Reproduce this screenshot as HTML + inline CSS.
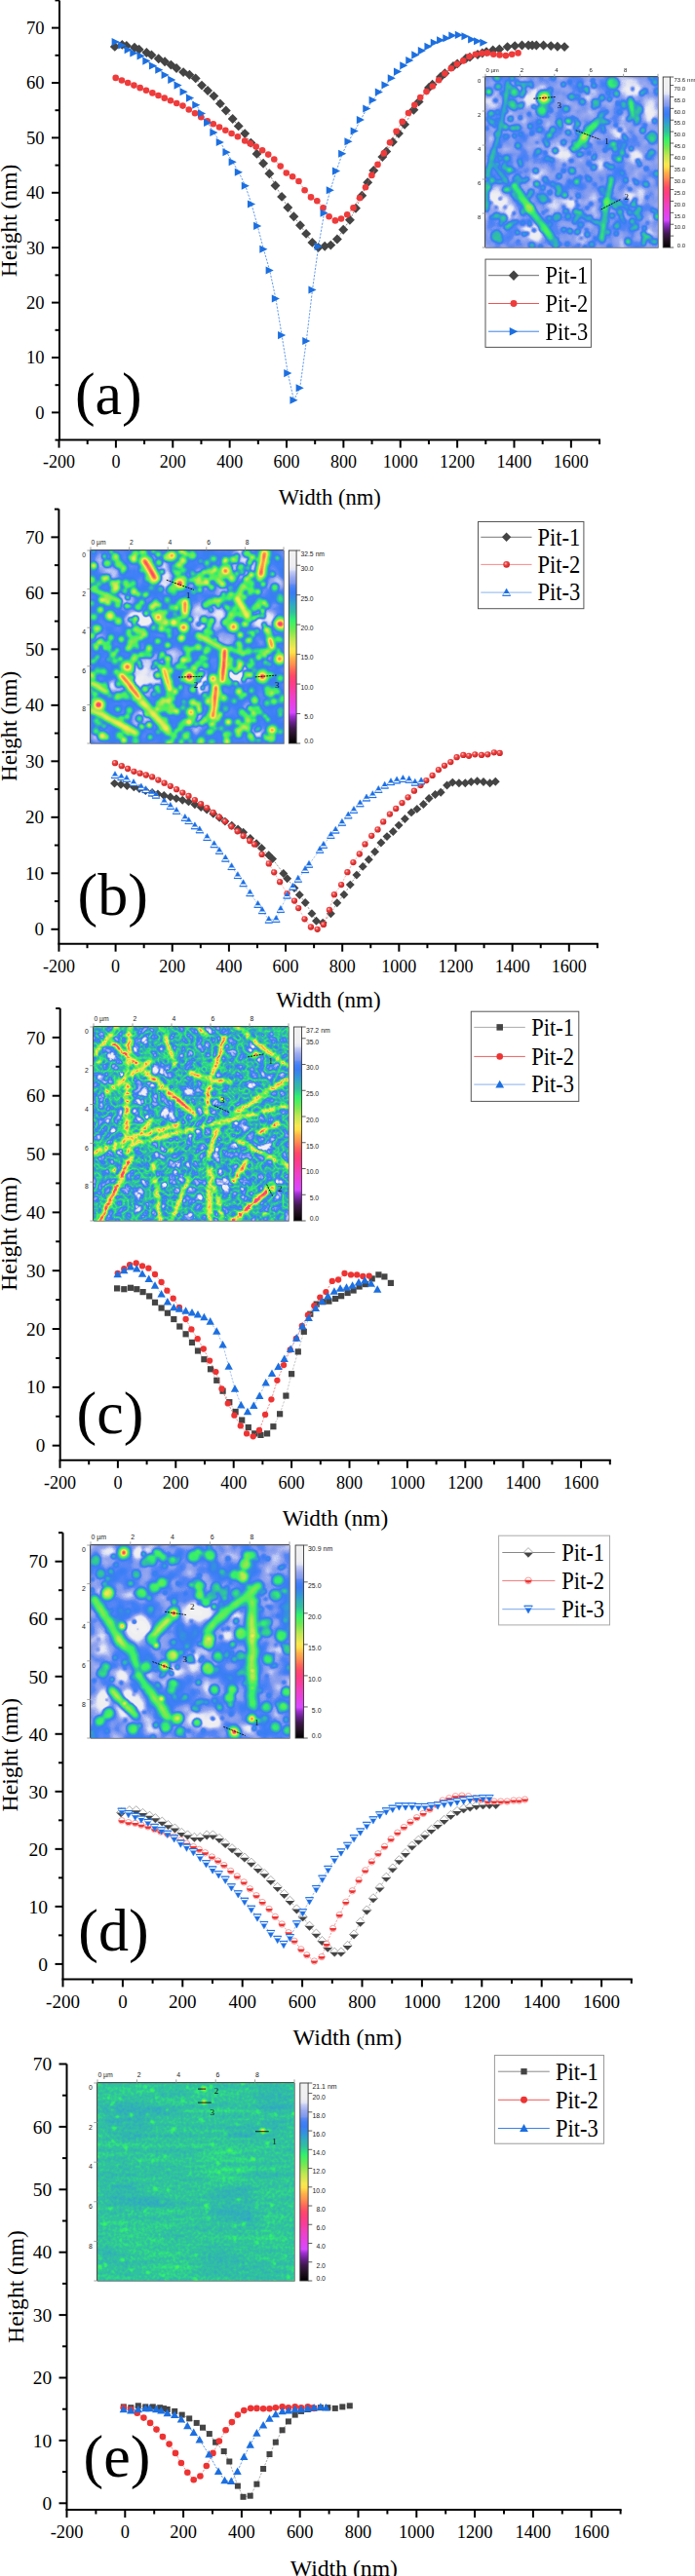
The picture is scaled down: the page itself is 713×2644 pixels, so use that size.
<!DOCTYPE html><html><head><meta charset="utf-8"><title>Pit profiles</title><style>
html,body{margin:0;padding:0;background:#fff;}body{width:713px;height:2644px;overflow:hidden;}svg{display:block;}
.tl{font-family:'Liberation Serif','Times New Roman',serif;font-size:18px;fill:#000;}
.at{font-family:'Liberation Serif','Times New Roman',serif;font-size:22.5px;fill:#000;}
.pl{font-family:'Liberation Serif','Times New Roman',serif;font-size:62px;fill:#000;}
.lg{font-family:'Liberation Serif','Times New Roman',serif;font-size:25px;fill:#000;}
.il{font-family:'Liberation Sans',Arial,sans-serif;font-size:7px;fill:#222;}
.cl{font-family:'Liberation Sans',Arial,sans-serif;font-size:6.4px;fill:#222;}
.pn{font-family:'Liberation Serif','Times New Roman',serif;font-size:9px;fill:#111;}
</style></head><body>
<svg width="713" height="2644" viewBox="0 0 713 2644">
<defs><radialGradient id="sph" cx="0.38" cy="0.35" r="0.65"><stop offset="0" stop-color="#ffd0d0"/><stop offset="0.35" stop-color="#f04848"/><stop offset="1" stop-color="#c82020"/></radialGradient></defs>
<rect width="713" height="2644" fill="#fff"/>
<g id="panel-a">
<path d="M61,0.4V451.6" stroke="#000" stroke-width="2" fill="none"/>
<path d="M60,451.6H616.04" stroke="#000" stroke-width="2" fill="none"/>
<path d="M56.5,451.6H61" stroke="#000" stroke-width="2"/>
<path d="M56.5,395.2H61" stroke="#000" stroke-width="2"/>
<path d="M56.5,338.8H61" stroke="#000" stroke-width="2"/>
<path d="M56.5,282.4H61" stroke="#000" stroke-width="2"/>
<path d="M56.5,226H61" stroke="#000" stroke-width="2"/>
<path d="M56.5,169.6H61" stroke="#000" stroke-width="2"/>
<path d="M56.5,113.2H61" stroke="#000" stroke-width="2"/>
<path d="M56.5,56.8H61" stroke="#000" stroke-width="2"/>
<path d="M56.5,0.4H61" stroke="#000" stroke-width="2"/>
<path d="M53,423.4H61" stroke="#000" stroke-width="2"/>
<text x="45.6" y="429.82" text-anchor="end" class="tl" style="font-size:18.6px">0</text>
<path d="M53,367H61" stroke="#000" stroke-width="2"/>
<text x="45.6" y="373.42" text-anchor="end" class="tl" style="font-size:18.6px">10</text>
<path d="M53,310.6H61" stroke="#000" stroke-width="2"/>
<text x="45.6" y="317.02" text-anchor="end" class="tl" style="font-size:18.6px">20</text>
<path d="M53,254.2H61" stroke="#000" stroke-width="2"/>
<text x="45.6" y="260.62" text-anchor="end" class="tl" style="font-size:18.6px">30</text>
<path d="M53,197.8H61" stroke="#000" stroke-width="2"/>
<text x="45.6" y="204.22" text-anchor="end" class="tl" style="font-size:18.6px">40</text>
<path d="M53,141.4H61" stroke="#000" stroke-width="2"/>
<text x="45.6" y="147.82" text-anchor="end" class="tl" style="font-size:18.6px">50</text>
<path d="M53,85H61" stroke="#000" stroke-width="2"/>
<text x="45.6" y="91.42" text-anchor="end" class="tl" style="font-size:18.6px">60</text>
<path d="M53,28.6H61" stroke="#000" stroke-width="2"/>
<text x="45.6" y="35.02" text-anchor="end" class="tl" style="font-size:18.6px">70</text>
<path d="M60.53,451.6V459.6" stroke="#000" stroke-width="2"/>
<text x="60.53" y="480.44" text-anchor="middle" class="tl" style="font-size:18.0px">-200</text>
<path d="M89.72,451.6V456.1" stroke="#000" stroke-width="2"/>
<path d="M118.9,451.6V459.6" stroke="#000" stroke-width="2"/>
<text x="118.9" y="480.44" text-anchor="middle" class="tl" style="font-size:18.0px">0</text>
<path d="M148.09,451.6V456.1" stroke="#000" stroke-width="2"/>
<path d="M177.27,451.6V459.6" stroke="#000" stroke-width="2"/>
<text x="177.27" y="480.44" text-anchor="middle" class="tl" style="font-size:18.0px">200</text>
<path d="M206.45,451.6V456.1" stroke="#000" stroke-width="2"/>
<path d="M235.64,451.6V459.6" stroke="#000" stroke-width="2"/>
<text x="235.64" y="480.44" text-anchor="middle" class="tl" style="font-size:18.0px">400</text>
<path d="M264.83,451.6V456.1" stroke="#000" stroke-width="2"/>
<path d="M294.01,451.6V459.6" stroke="#000" stroke-width="2"/>
<text x="294.01" y="480.44" text-anchor="middle" class="tl" style="font-size:18.0px">600</text>
<path d="M323.19,451.6V456.1" stroke="#000" stroke-width="2"/>
<path d="M352.38,451.6V459.6" stroke="#000" stroke-width="2"/>
<text x="352.38" y="480.44" text-anchor="middle" class="tl" style="font-size:18.0px">800</text>
<path d="M381.57,451.6V456.1" stroke="#000" stroke-width="2"/>
<path d="M410.75,451.6V459.6" stroke="#000" stroke-width="2"/>
<text x="410.75" y="480.44" text-anchor="middle" class="tl" style="font-size:18.0px">1000</text>
<path d="M439.94,451.6V456.1" stroke="#000" stroke-width="2"/>
<path d="M469.12,451.6V459.6" stroke="#000" stroke-width="2"/>
<text x="469.12" y="480.44" text-anchor="middle" class="tl" style="font-size:18.0px">1200</text>
<path d="M498.3,451.6V456.1" stroke="#000" stroke-width="2"/>
<path d="M527.49,451.6V459.6" stroke="#000" stroke-width="2"/>
<text x="527.49" y="480.44" text-anchor="middle" class="tl" style="font-size:18.0px">1400</text>
<path d="M556.67,451.6V456.1" stroke="#000" stroke-width="2"/>
<path d="M585.86,451.6V459.6" stroke="#000" stroke-width="2"/>
<text x="585.86" y="480.44" text-anchor="middle" class="tl" style="font-size:18.0px">1600</text>
<path d="M615.04,451.6V456.1" stroke="#000" stroke-width="2"/>
<text x="338.32" y="517.6" text-anchor="middle" class="at" style="font-size:22.6px">Width (nm)</text>
<text transform="translate(17.0,226.5) rotate(-90)" x="0" y="0" text-anchor="middle" class="at" style="font-size:23.5px">Height (nm)</text>
<text x="76.9" y="424.8" class="pl">(a)</text>
<defs><clipPath id="clipa"><rect x="498" y="79" width="177" height="175"/></clipPath><filter id="cma" x="498" y="79" width="177" height="175" filterUnits="userSpaceOnUse" color-interpolation-filters="sRGB"><feTurbulence type="fractalNoise" baseFrequency="0.07" numOctaves="2" seed="3" result="n"/><feColorMatrix in="n" type="matrix" values="0.14 0 0 0 0  0.14 0 0 0 0  0.14 0 0 0 0  0 0 0 0 1" result="ng"/><feComposite in="SourceGraphic" in2="ng" operator="arithmetic" k2="1" k3="1" k4="-0.07" result="s"/><feComponentTransfer in="s"><feFuncR type="table" tableValues="0 0.02 0.05 0.07 0.09 0.11 0.14 0.17 0.2 0.22 0.25 0.29 0.33 0.38 0.42 0.48 0.55 0.61 0.67 0.74 0.8 0.85 0.86 0.87 0.88 0.89 0.9 0.91 0.91 0.92 0.93 0.94 0.94 0.95 0.96 0.96 0.97 0.98 0.98 0.99 0.99 1 1 1 1 1 1 1 1 1 1 1 1 1 1 1 1 1 1 1 1 0.99 0.98 0.97 0.93 0.9 0.86 0.82 0.77 0.73 0.69 0.64 0.59 0.55 0.5 0.45 0.4 0.36 0.33 0.29 0.26 0.22 0.19 0.19 0.19 0.19 0.19 0.19 0.19 0.19 0.19 0.19 0.19 0.19 0.19 0.2 0.2 0.21 0.22 0.22 0.23 0.24 0.25 0.29 0.32 0.36 0.43 0.49 0.53 0.56 0.6 0.65 0.7 0.75 0.81 0.87 0.9 0.92 0.93 0.94 0.94 0.94 0.94 0.94 0.94 0.94 0.95 0.95 0.95"/><feFuncG type="table" tableValues="0 0.01 0.02 0.03 0.05 0.06 0.07 0.07 0.08 0.09 0.09 0.1 0.11 0.12 0.13 0.15 0.16 0.18 0.21 0.24 0.26 0.28 0.28 0.27 0.27 0.26 0.26 0.25 0.25 0.25 0.25 0.25 0.25 0.25 0.24 0.24 0.24 0.24 0.24 0.24 0.24 0.24 0.25 0.26 0.27 0.29 0.33 0.37 0.4 0.44 0.48 0.52 0.56 0.59 0.63 0.66 0.69 0.74 0.78 0.83 0.87 0.89 0.9 0.91 0.91 0.91 0.91 0.91 0.91 0.91 0.91 0.91 0.91 0.91 0.91 0.92 0.92 0.93 0.93 0.94 0.94 0.94 0.94 0.91 0.88 0.84 0.81 0.77 0.75 0.73 0.71 0.69 0.67 0.65 0.62 0.6 0.57 0.55 0.52 0.5 0.49 0.5 0.5 0.51 0.52 0.53 0.57 0.6 0.62 0.64 0.66 0.71 0.75 0.79 0.84 0.88 0.91 0.92 0.93 0.94 0.94 0.94 0.94 0.94 0.94 0.94 0.95 0.95 0.95"/><feFuncB type="table" tableValues="0 0.02 0.05 0.07 0.09 0.11 0.15 0.19 0.23 0.27 0.31 0.38 0.44 0.5 0.57 0.64 0.72 0.79 0.85 0.91 0.96 1 0.98 0.96 0.94 0.92 0.9 0.89 0.86 0.83 0.81 0.78 0.75 0.72 0.69 0.67 0.64 0.61 0.58 0.55 0.53 0.5 0.47 0.45 0.43 0.4 0.39 0.37 0.35 0.34 0.33 0.32 0.31 0.31 0.3 0.29 0.28 0.28 0.28 0.28 0.28 0.29 0.3 0.31 0.31 0.31 0.31 0.31 0.31 0.31 0.31 0.31 0.31 0.31 0.31 0.33 0.34 0.35 0.36 0.37 0.39 0.41 0.44 0.47 0.5 0.54 0.57 0.61 0.64 0.67 0.69 0.72 0.75 0.79 0.82 0.85 0.87 0.9 0.92 0.94 0.96 0.97 0.97 0.97 0.96 0.96 0.95 0.94 0.94 0.94 0.94 0.95 0.95 0.96 0.96 0.96 0.95 0.95 0.95 0.95 0.95 0.95 0.95 0.95 0.95 0.95 0.95 0.95 0.95"/><feFuncA type="linear" slope="0" intercept="1"/></feComponentTransfer></filter><filter id="blaw" x="-20%" y="-20%" width="140%" height="140%"><feGaussianBlur stdDeviation="4.5"/></filter><filter id="blad" x="-50%" y="-50%" width="200%" height="200%"><feGaussianBlur stdDeviation="1.45"/></filter><filter id="blas" x="-20%" y="-20%" width="140%" height="140%"><feGaussianBlur stdDeviation="1.8"/></filter><filter id="blap" x="-50%" y="-50%" width="200%" height="200%"><feGaussianBlur stdDeviation="1"/></filter><linearGradient id="cbga" x1="0" y1="0" x2="0" y2="1"><stop offset="0" stop-color="#f2f2f2"/><stop offset="0.08" stop-color="#eeeef2"/><stop offset="0.1" stop-color="#e0e4f4"/><stop offset="0.11" stop-color="#c4ccf4"/><stop offset="0.14" stop-color="#9aaaf0"/><stop offset="0.17" stop-color="#7c98f0"/><stop offset="0.18" stop-color="#5a88f4"/><stop offset="0.2" stop-color="#4080f8"/><stop offset="0.22" stop-color="#3a7cf4"/><stop offset="0.25" stop-color="#3490e0"/><stop offset="0.27" stop-color="#30a0d0"/><stop offset="0.29" stop-color="#30b0b8"/><stop offset="0.32" stop-color="#30c0a0"/><stop offset="0.34" stop-color="#30d888"/><stop offset="0.36" stop-color="#30f070"/><stop offset="0.38" stop-color="#48f060"/><stop offset="0.4" stop-color="#60ec58"/><stop offset="0.42" stop-color="#80e850"/><stop offset="0.44" stop-color="#a0e850"/><stop offset="0.46" stop-color="#c0e850"/><stop offset="0.49" stop-color="#e0e850"/><stop offset="0.51" stop-color="#f8e850"/><stop offset="0.53" stop-color="#ffe048"/><stop offset="0.56" stop-color="#ffb048"/><stop offset="0.59" stop-color="#ff9050"/><stop offset="0.62" stop-color="#ff6858"/><stop offset="0.65" stop-color="#ff4868"/><stop offset="0.68" stop-color="#ff3c80"/><stop offset="0.72" stop-color="#f83ca0"/><stop offset="0.75" stop-color="#f040c0"/><stop offset="0.79" stop-color="#e840e0"/><stop offset="0.84" stop-color="#d848ff"/><stop offset="0.86" stop-color="#a030d0"/><stop offset="0.89" stop-color="#6a2090"/><stop offset="0.92" stop-color="#401850"/><stop offset="0.96" stop-color="#201020"/><stop offset="1" stop-color="#000000"/></linearGradient></defs>
<g filter="url(#cma)"><g clip-path="url(#clipa)">
<rect x="498" y="79" width="177" height="175" fill="#d6d6d6"/>
<g filter="url(#blaw)">
<ellipse cx="546.67" cy="100" rx="9.74" ry="13.12" fill="#ededed"/>
<ellipse cx="530.75" cy="85.12" rx="7.08" ry="5.25" fill="#ededed"/>
<ellipse cx="644.91" cy="91.25" rx="12.39" ry="8.75" fill="#ededed"/>
<ellipse cx="576.76" cy="159.5" rx="13.27" ry="6.12" fill="#ededed"/>
<ellipse cx="513.93" cy="207.62" rx="7.96" ry="21" transform="rotate(-40 513.93 207.62)" fill="#ededed"/>
<ellipse cx="545.79" cy="238.25" rx="12.39" ry="8.75" fill="#ededed"/>
<ellipse cx="580.31" cy="209.38" rx="13.27" ry="7.88" fill="#ededed"/>
<ellipse cx="649.34" cy="202.38" rx="11.51" ry="7.88" fill="#ededed"/>
<ellipse cx="667.92" cy="114" rx="6.19" ry="11.38" fill="#ededed"/>
<ellipse cx="615.71" cy="167.38" rx="7.96" ry="6.12" fill="#ededed"/>
<ellipse cx="582.08" cy="127.12" rx="7.96" ry="6.12" fill="#ededed"/>
<ellipse cx="604.2" cy="96.5" rx="7.08" ry="7" fill="#ededed"/>
<ellipse cx="651.99" cy="159.5" rx="7.08" ry="7" fill="#ededed"/>
<ellipse cx="597.12" cy="243.5" rx="8.85" ry="6.12" fill="#ededed"/>
<ellipse cx="505.08" cy="107" rx="5.31" ry="8.75" fill="#ededed"/>
<ellipse cx="664.38" cy="243.5" rx="7.08" ry="7" fill="#ededed"/>
<ellipse cx="551.1" cy="180.5" rx="7.08" ry="7" fill="#ededed"/>
<ellipse cx="636.06" cy="135" rx="7.08" ry="7" fill="#ededed"/>
</g>
<g filter="url(#blad)">
<circle cx="527.2" cy="199.71" r="2.43" fill="#aeaeae"/>
<circle cx="536.23" cy="217.71" r="2.7" fill="#afafaf"/>
<circle cx="587.4" cy="120.31" r="1.42" fill="#aaaaaa"/>
<circle cx="601.61" cy="91.12" r="2.68" fill="#a6a6a6"/>
<circle cx="539.19" cy="86.41" r="3.01" fill="#b7b7b7"/>
<circle cx="652.88" cy="186.78" r="1.47" fill="#a9a9a9"/>
<circle cx="586.07" cy="99.27" r="2.93" fill="#aaaaaa"/>
<circle cx="525.4" cy="222.06" r="1.61" fill="#bdbdbd"/>
<circle cx="578.2" cy="175.6" r="1.96" fill="#aeaeae"/>
<circle cx="531.08" cy="85.5" r="2.8" fill="#a6a6a6"/>
<circle cx="636.11" cy="115.5" r="2.96" fill="#bcbcbc"/>
<circle cx="631.6" cy="212.49" r="2.34" fill="#b6b6b6"/>
<circle cx="519.68" cy="162.36" r="2.73" fill="#a5a5a5"/>
<circle cx="661.4" cy="234.32" r="2.07" fill="#aaaaaa"/>
<circle cx="577.88" cy="146.51" r="3" fill="#ababab"/>
<circle cx="502.75" cy="95.32" r="2.56" fill="#bfbfbf"/>
<circle cx="585.79" cy="165.02" r="2.29" fill="#b7b7b7"/>
<circle cx="537.3" cy="185.56" r="2.3" fill="#b3b3b3"/>
<circle cx="529.98" cy="108.77" r="1.97" fill="#bdbdbd"/>
<circle cx="559.35" cy="183.52" r="1.9" fill="#a2a2a2"/>
<circle cx="509.62" cy="221.4" r="2.65" fill="#ababab"/>
<circle cx="618.95" cy="197.28" r="2.85" fill="#bebebe"/>
<circle cx="570.04" cy="252.09" r="2.95" fill="#b2b2b2"/>
<circle cx="654.32" cy="164.91" r="2.01" fill="#a6a6a6"/>
<circle cx="653.08" cy="107.4" r="1.53" fill="#b9b9b9"/>
<circle cx="634.98" cy="163.56" r="2.75" fill="#a0a0a0"/>
<circle cx="543.66" cy="129.73" r="2.08" fill="#a4a4a4"/>
<circle cx="510.29" cy="138.16" r="2.85" fill="#bfbfbf"/>
<circle cx="630.02" cy="162.82" r="1.82" fill="#bebebe"/>
<circle cx="591.04" cy="206.51" r="1.46" fill="#a5a5a5"/>
<circle cx="646.37" cy="218.16" r="2.82" fill="#b2b2b2"/>
<circle cx="573.42" cy="180.7" r="2.77" fill="#a8a8a8"/>
<circle cx="592.58" cy="127.3" r="2.64" fill="#9e9e9e"/>
<circle cx="619.3" cy="245.95" r="1.45" fill="#b2b2b2"/>
<circle cx="611.96" cy="228.04" r="2.35" fill="#a7a7a7"/>
<circle cx="569.79" cy="246.77" r="2.86" fill="#a3a3a3"/>
<circle cx="514.79" cy="95.44" r="1.46" fill="#adadad"/>
<circle cx="522.93" cy="230.78" r="2.46" fill="#a2a2a2"/>
<circle cx="593.34" cy="135.75" r="2.2" fill="#a5a5a5"/>
<circle cx="527.4" cy="111.19" r="2.02" fill="#b6b6b6"/>
<circle cx="595.36" cy="87.08" r="2.55" fill="#bbbbbb"/>
<circle cx="635.04" cy="217.38" r="1.43" fill="#adadad"/>
<circle cx="509.24" cy="212.69" r="1.7" fill="#b6b6b6"/>
<circle cx="542.76" cy="200.93" r="1.92" fill="#9f9f9f"/>
<circle cx="566.83" cy="133.15" r="2.85" fill="#a8a8a8"/>
<circle cx="587.05" cy="175.13" r="2.93" fill="#a1a1a1"/>
<circle cx="604.41" cy="167.94" r="2.59" fill="#bebebe"/>
<circle cx="552.9" cy="201.4" r="2.25" fill="#b1b1b1"/>
<circle cx="509.28" cy="221.57" r="2.97" fill="#aaaaaa"/>
<circle cx="554.3" cy="252.81" r="1.59" fill="#a1a1a1"/>
<circle cx="510.98" cy="221.51" r="2.63" fill="#adadad"/>
<circle cx="607.99" cy="82.46" r="2.44" fill="#adadad"/>
<circle cx="589.58" cy="147.15" r="2.06" fill="#a6a6a6"/>
<circle cx="506.64" cy="154.94" r="1.81" fill="#b5b5b5"/>
<circle cx="642.66" cy="205.66" r="2.14" fill="#a6a6a6"/>
<circle cx="566.22" cy="164.19" r="2.42" fill="#bebebe"/>
<circle cx="513.12" cy="162.95" r="2.2" fill="#b6b6b6"/>
<circle cx="655.62" cy="215.42" r="2.41" fill="#b7b7b7"/>
<circle cx="616.24" cy="229.31" r="2.53" fill="#b5b5b5"/>
<circle cx="541.42" cy="239.42" r="2.03" fill="#b2b2b2"/>
<circle cx="644" cy="247.65" r="2.99" fill="#9e9e9e"/>
<circle cx="553.33" cy="133.55" r="2.04" fill="#a3a3a3"/>
<circle cx="595.92" cy="92.92" r="1.9" fill="#bdbdbd"/>
<circle cx="629.4" cy="159.91" r="1.59" fill="#bebebe"/>
<circle cx="622.6" cy="115.02" r="1.95" fill="#b3b3b3"/>
<circle cx="618.65" cy="124.65" r="2.93" fill="#a9a9a9"/>
<circle cx="543" cy="226.94" r="1.66" fill="#b5b5b5"/>
<circle cx="533.38" cy="183.64" r="1.86" fill="#ababab"/>
<circle cx="664.51" cy="160.72" r="2.11" fill="#b3b3b3"/>
<circle cx="547.67" cy="109.51" r="2.03" fill="#a7a7a7"/>
<circle cx="531.36" cy="247.14" r="1.47" fill="#b9b9b9"/>
<circle cx="663.45" cy="202.3" r="1.45" fill="#afafaf"/>
<circle cx="504.95" cy="185.38" r="2.53" fill="#a6a6a6"/>
<circle cx="499.35" cy="174.27" r="1.57" fill="#a8a8a8"/>
<circle cx="578.38" cy="235.53" r="2.01" fill="#a3a3a3"/>
<circle cx="638.13" cy="222.91" r="2.26" fill="#a0a0a0"/>
<circle cx="531.2" cy="149.52" r="2.3" fill="#a6a6a6"/>
<circle cx="640.02" cy="226.61" r="2.89" fill="#bbbbbb"/>
<circle cx="501.12" cy="180.86" r="1.54" fill="#bcbcbc"/>
<circle cx="630.21" cy="211.87" r="1.72" fill="#a0a0a0"/>
<circle cx="642.29" cy="185.14" r="2.4" fill="#aeaeae"/>
<circle cx="639.62" cy="138.15" r="1.85" fill="#aaaaaa"/>
<circle cx="550.74" cy="188.74" r="2.83" fill="#a0a0a0"/>
<circle cx="509.97" cy="168.56" r="2.5" fill="#a4a4a4"/>
<circle cx="545.77" cy="89.28" r="1.48" fill="#afafaf"/>
<circle cx="618.49" cy="193.31" r="1.67" fill="#a2a2a2"/>
<circle cx="662.76" cy="173.25" r="2.07" fill="#b5b5b5"/>
<circle cx="626.82" cy="170.8" r="1.54" fill="#bababa"/>
<circle cx="535.83" cy="86.08" r="1.98" fill="#b0b0b0"/>
<circle cx="609.2" cy="109.47" r="2.55" fill="#aeaeae"/>
<circle cx="526.68" cy="227.92" r="2.7" fill="#bcbcbc"/>
<circle cx="618.27" cy="117.03" r="2.65" fill="#bcbcbc"/>
<circle cx="592.39" cy="237.98" r="2.96" fill="#ababab"/>
<circle cx="664.7" cy="242.94" r="2.68" fill="#9e9e9e"/>
<circle cx="560.29" cy="186.38" r="2.38" fill="#b7b7b7"/>
<circle cx="612.49" cy="107.26" r="2.9" fill="#b0b0b0"/>
<circle cx="654.06" cy="115.2" r="3.01" fill="#b0b0b0"/>
<circle cx="635.28" cy="208.49" r="2.82" fill="#aaaaaa"/>
<circle cx="512.66" cy="149.98" r="1.7" fill="#b0b0b0"/>
<circle cx="642.25" cy="142.39" r="1.62" fill="#9f9f9f"/>
<circle cx="572.86" cy="180.58" r="1.46" fill="#b4b4b4"/>
<circle cx="535.32" cy="97.73" r="2.89" fill="#afafaf"/>
<circle cx="656.43" cy="168.94" r="1.61" fill="#a6a6a6"/>
<circle cx="573.09" cy="191.15" r="2.64" fill="#b7b7b7"/>
<circle cx="613.19" cy="123.27" r="2.1" fill="#ababab"/>
<circle cx="584.66" cy="125.46" r="2.27" fill="#adadad"/>
<circle cx="504.29" cy="223.01" r="2.35" fill="#b9b9b9"/>
<circle cx="628.37" cy="206.9" r="3" fill="#ababab"/>
<circle cx="567.67" cy="79.66" r="2.47" fill="#b1b1b1"/>
<circle cx="600.03" cy="253.59" r="1.73" fill="#a6a6a6"/>
<circle cx="627.94" cy="221.17" r="2.19" fill="#a0a0a0"/>
<circle cx="563.56" cy="223.61" r="2.21" fill="#adadad"/>
<circle cx="566.93" cy="188.98" r="2.37" fill="#b5b5b5"/>
<circle cx="651.15" cy="210.48" r="2.01" fill="#a6a6a6"/>
<circle cx="636.39" cy="217.76" r="2.89" fill="#a5a5a5"/>
<circle cx="648.04" cy="234.85" r="1.54" fill="#a8a8a8"/>
<circle cx="610.16" cy="104.58" r="2.74" fill="#a7a7a7"/>
<circle cx="618.78" cy="130.77" r="1.76" fill="#a5a5a5"/>
<circle cx="586.07" cy="203.78" r="1.76" fill="#b5b5b5"/>
<circle cx="557.31" cy="192.62" r="2" fill="#a5a5a5"/>
<circle cx="522.96" cy="89.11" r="2.53" fill="#acacac"/>
<circle cx="519.81" cy="233.1" r="2.46" fill="#9f9f9f"/>
<circle cx="626.28" cy="183.06" r="2.12" fill="#afafaf"/>
<circle cx="668.31" cy="144.43" r="2.43" fill="#b3b3b3"/>
<circle cx="562.73" cy="139.62" r="2.62" fill="#b3b3b3"/>
<circle cx="578.87" cy="168.91" r="1.77" fill="#b8b8b8"/>
<circle cx="501.52" cy="191.56" r="2.14" fill="#a5a5a5"/>
<circle cx="601.86" cy="181.03" r="1.55" fill="#aeaeae"/>
<circle cx="527.22" cy="218.84" r="1.94" fill="#a9a9a9"/>
<circle cx="536.12" cy="87.42" r="1.71" fill="#a3a3a3"/>
<circle cx="608.48" cy="227.29" r="1.77" fill="#a2a2a2"/>
<circle cx="592.6" cy="99.23" r="2.06" fill="#b7b7b7"/>
<circle cx="533.96" cy="201.44" r="2.27" fill="#a1a1a1"/>
<circle cx="540.93" cy="183.89" r="1.57" fill="#a5a5a5"/>
<circle cx="600.08" cy="222.17" r="2.25" fill="#b4b4b4"/>
<circle cx="499.61" cy="131.96" r="1.92" fill="#bcbcbc"/>
<circle cx="561.28" cy="216.34" r="1.47" fill="#afafaf"/>
<circle cx="655.79" cy="213.98" r="2.34" fill="#a4a4a4"/>
<circle cx="661.94" cy="92.96" r="2.95" fill="#b8b8b8"/>
<circle cx="625.39" cy="171.86" r="1.68" fill="#a9a9a9"/>
<circle cx="615.52" cy="193.8" r="2.04" fill="#b9b9b9"/>
<circle cx="507.45" cy="129.27" r="1.56" fill="#a9a9a9"/>
<circle cx="638.35" cy="210.85" r="1.65" fill="#a8a8a8"/>
<circle cx="517.85" cy="194.83" r="2.12" fill="#a6a6a6"/>
<circle cx="564.23" cy="230.41" r="2.09" fill="#b5b5b5"/>
<circle cx="609.1" cy="161.88" r="2.3" fill="#aaaaaa"/>
<circle cx="533.11" cy="165.52" r="1.9" fill="#a9a9a9"/>
<circle cx="531.02" cy="238.84" r="2.09" fill="#a5a5a5"/>
<circle cx="503.62" cy="116.49" r="2.8" fill="#a9a9a9"/>
<circle cx="616.07" cy="119.34" r="2.45" fill="#adadad"/>
<circle cx="628.34" cy="171.48" r="2.01" fill="#a7a7a7"/>
<circle cx="603.18" cy="224.58" r="2.52" fill="#aeaeae"/>
<circle cx="556.15" cy="235" r="2.76" fill="#a3a3a3"/>
<circle cx="618.23" cy="214.11" r="2.49" fill="#bebebe"/>
<circle cx="653.58" cy="122.06" r="3" fill="#a9a9a9"/>
<circle cx="565.23" cy="249.87" r="1.68" fill="#ababab"/>
<circle cx="608.79" cy="126.76" r="1.84" fill="#b8b8b8"/>
<circle cx="606.42" cy="209.17" r="2.67" fill="#bbbbbb"/>
<circle cx="656.16" cy="223.09" r="2.97" fill="#afafaf"/>
<circle cx="622.18" cy="168.93" r="2.96" fill="#b4b4b4"/>
<circle cx="574.21" cy="195.21" r="1.89" fill="#a2a2a2"/>
<circle cx="566.38" cy="102.95" r="1.42" fill="#a1a1a1"/>
<circle cx="578.42" cy="212.58" r="1.49" fill="#b3b3b3"/>
<circle cx="517.7" cy="168.31" r="1.89" fill="#adadad"/>
<circle cx="624.01" cy="151.35" r="2.04" fill="#b6b6b6"/>
<circle cx="518.51" cy="140.06" r="2.53" fill="#bababa"/>
<circle cx="671.36" cy="124" r="2.41" fill="#a8a8a8"/>
<circle cx="622.23" cy="227.08" r="1.63" fill="#aaaaaa"/>
<circle cx="663.71" cy="140.67" r="2.42" fill="#b9b9b9"/>
<circle cx="547.33" cy="216.1" r="1.42" fill="#a9a9a9"/>
<circle cx="527.54" cy="139.52" r="1.76" fill="#9f9f9f"/>
<circle cx="640.15" cy="109.36" r="2.33" fill="#b0b0b0"/>
<circle cx="648.36" cy="227.22" r="2.41" fill="#a4a4a4"/>
<circle cx="632.67" cy="96.06" r="2.9" fill="#a8a8a8"/>
<circle cx="542.74" cy="116.91" r="2.05" fill="#b8b8b8"/>
<circle cx="649.32" cy="209.56" r="2.58" fill="#a6a6a6"/>
<circle cx="554.85" cy="132.24" r="2.11" fill="#bbbbbb"/>
<circle cx="674.28" cy="93.66" r="2.95" fill="#bdbdbd"/>
<circle cx="579.58" cy="200.24" r="2.67" fill="#a4a4a4"/>
<circle cx="607" cy="250.8" r="2.82" fill="#bcbcbc"/>
<circle cx="513" cy="204.07" r="2.19" fill="#bcbcbc"/>
<circle cx="527.54" cy="175.04" r="1.61" fill="#b9b9b9"/>
<circle cx="625.89" cy="84.45" r="1.91" fill="#a3a3a3"/>
<circle cx="610.48" cy="189.25" r="1.52" fill="#bebebe"/>
<circle cx="668.85" cy="156.12" r="2.33" fill="#aaaaaa"/>
<circle cx="605.29" cy="148.72" r="2.12" fill="#b7b7b7"/>
<circle cx="531" cy="131.2" r="2.63" fill="#a6a6a6"/>
<circle cx="510.18" cy="238.52" r="1.67" fill="#acacac"/>
<circle cx="553.49" cy="124.79" r="1.98" fill="#b0b0b0"/>
<circle cx="518.54" cy="172.32" r="1.5" fill="#a1a1a1"/>
<circle cx="533.78" cy="121.05" r="1.96" fill="#a8a8a8"/>
<circle cx="646.12" cy="194.15" r="2.17" fill="#b8b8b8"/>
<circle cx="619.4" cy="134.19" r="2.4" fill="#b7b7b7"/>
<circle cx="592.58" cy="210.69" r="2.42" fill="#bdbdbd"/>
<circle cx="544.75" cy="196.52" r="2.97" fill="#b0b0b0"/>
<circle cx="658.23" cy="95.57" r="2.57" fill="#a7a7a7"/>
<circle cx="630.8" cy="153.11" r="2.27" fill="#a6a6a6"/>
<circle cx="543.5" cy="230.46" r="2.44" fill="#b3b3b3"/>
<circle cx="518.49" cy="130.29" r="2.96" fill="#a5a5a5"/>
<circle cx="593.19" cy="200.9" r="2.23" fill="#b0b0b0"/>
<circle cx="669.72" cy="215.75" r="1.79" fill="#acacac"/>
<circle cx="572.29" cy="198.66" r="2.49" fill="#a7a7a7"/>
<circle cx="620.56" cy="154.47" r="1.44" fill="#a8a8a8"/>
<circle cx="564.71" cy="113.46" r="2.48" fill="#bfbfbf"/>
<circle cx="662.88" cy="189.19" r="2.78" fill="#aeaeae"/>
<circle cx="601.83" cy="235.4" r="1.51" fill="#aaaaaa"/>
<circle cx="564.21" cy="138.68" r="2.1" fill="#a0a0a0"/>
<circle cx="618.19" cy="246.44" r="1.79" fill="#a4a4a4"/>
<circle cx="557.24" cy="218.38" r="1.78" fill="#b8b8b8"/>
<circle cx="528.57" cy="183.13" r="2.56" fill="#b4b4b4"/>
<circle cx="512.95" cy="246.41" r="2.77" fill="#aeaeae"/>
<circle cx="650.11" cy="184.17" r="1.68" fill="#ababab"/>
<circle cx="643.27" cy="160.16" r="1.48" fill="#a4a4a4"/>
<circle cx="530.96" cy="181.55" r="2.44" fill="#adadad"/>
<circle cx="569.46" cy="247.49" r="1.96" fill="#b4b4b4"/>
<circle cx="534.21" cy="168.96" r="1.7" fill="#a2a2a2"/>
<circle cx="557.6" cy="99.13" r="2.02" fill="#b4b4b4"/>
<circle cx="595.19" cy="218.24" r="2.18" fill="#a1a1a1"/>
<circle cx="626.74" cy="149.35" r="2.61" fill="#bebebe"/>
<circle cx="590.79" cy="122.82" r="1.99" fill="#afafaf"/>
<circle cx="554.49" cy="96.75" r="2.05" fill="#b4b4b4"/>
<circle cx="642.43" cy="212.29" r="2.82" fill="#b9b9b9"/>
<circle cx="570.82" cy="191.76" r="1.5" fill="#b8b8b8"/>
<circle cx="623.31" cy="125.42" r="2.17" fill="#a7a7a7"/>
<circle cx="638.74" cy="153.67" r="2.66" fill="#bdbdbd"/>
<circle cx="635.64" cy="145.52" r="1.96" fill="#bdbdbd"/>
<circle cx="658.1" cy="112.2" r="1.99" fill="#b8b8b8"/>
<circle cx="631.89" cy="128.55" r="2.13" fill="#bebebe"/>
<circle cx="513.97" cy="126.96" r="2.47" fill="#bcbcbc"/>
<circle cx="665.6" cy="161.15" r="2.67" fill="#bebebe"/>
<circle cx="556.32" cy="118.81" r="1.83" fill="#b8b8b8"/>
<circle cx="522.7" cy="174.67" r="2.9" fill="#a5a5a5"/>
<circle cx="609.29" cy="171.73" r="2.96" fill="#afafaf"/>
<circle cx="584.88" cy="237.12" r="2.61" fill="#a3a3a3"/>
<circle cx="640.27" cy="148.85" r="2.96" fill="#bebebe"/>
<circle cx="585.3" cy="151.81" r="1.78" fill="#a7a7a7"/>
<circle cx="534.48" cy="108.43" r="2.58" fill="#a0a0a0"/>
<circle cx="603.98" cy="183.62" r="2.59" fill="#b1b1b1"/>
<circle cx="662.13" cy="128.22" r="1.56" fill="#b1b1b1"/>
<circle cx="545.67" cy="251.92" r="2.88" fill="#b5b5b5"/>
<circle cx="645.56" cy="121.77" r="2.19" fill="#ababab"/>
<circle cx="559.1" cy="144.42" r="2.18" fill="#b4b4b4"/>
<circle cx="502.46" cy="173.38" r="1.62" fill="#bebebe"/>
<circle cx="595.66" cy="182.11" r="1.92" fill="#b5b5b5"/>
<circle cx="623.67" cy="238.27" r="2.34" fill="#a7a7a7"/>
<circle cx="609.26" cy="87.81" r="2.6" fill="#a8a8a8"/>
<circle cx="625.33" cy="102.09" r="2.37" fill="#a4a4a4"/>
<circle cx="504.47" cy="125.16" r="2.77" fill="#ababab"/>
<circle cx="590.54" cy="217.31" r="2.97" fill="#a7a7a7"/>
<circle cx="620.85" cy="215.82" r="2.68" fill="#aaaaaa"/>
<circle cx="581.96" cy="216.19" r="1.82" fill="#aeaeae"/>
<circle cx="610.13" cy="227.97" r="1.8" fill="#b4b4b4"/>
<circle cx="536.43" cy="106.45" r="2.18" fill="#b4b4b4"/>
<circle cx="611.31" cy="244.91" r="1.68" fill="#b0b0b0"/>
<circle cx="582.96" cy="124.3" r="2.88" fill="#a3a3a3"/>
<circle cx="544.12" cy="86.07" r="2.44" fill="#b4b4b4"/>
<circle cx="537.59" cy="240.32" r="2.43" fill="#a5a5a5"/>
<circle cx="664.68" cy="228.33" r="1.92" fill="#bbbbbb"/>
<circle cx="521.06" cy="139.88" r="2.08" fill="#bebebe"/>
<circle cx="550.88" cy="146.51" r="1.75" fill="#b9b9b9"/>
<circle cx="530.48" cy="227.35" r="1.96" fill="#b0b0b0"/>
<circle cx="653.16" cy="125.67" r="2.26" fill="#b3b3b3"/>
<circle cx="600.25" cy="150.29" r="2.44" fill="#a9a9a9"/>
<circle cx="525.44" cy="80.56" r="2.38" fill="#b1b1b1"/>
<circle cx="639.53" cy="106.44" r="2.49" fill="#adadad"/>
<circle cx="590.93" cy="224.51" r="2.24" fill="#adadad"/>
<circle cx="612.28" cy="104.87" r="2.81" fill="#afafaf"/>
<circle cx="505.5" cy="163.26" r="2.92" fill="#bfbfbf"/>
<circle cx="573.46" cy="125.45" r="2.91" fill="#a8a8a8"/>
<circle cx="501.17" cy="122.24" r="2.17" fill="#b4b4b4"/>
<circle cx="509.84" cy="137.51" r="2.58" fill="#aaaaaa"/>
<circle cx="529.09" cy="203.45" r="2.11" fill="#b5b5b5"/>
<circle cx="583.71" cy="221.18" r="2.23" fill="#bebebe"/>
<circle cx="641.92" cy="205.29" r="2.2" fill="#b2b2b2"/>
<circle cx="564.67" cy="92.36" r="2.83" fill="#b9b9b9"/>
<circle cx="633.75" cy="229.36" r="2.29" fill="#bfbfbf"/>
<circle cx="581.76" cy="250.62" r="1.54" fill="#ababab"/>
<circle cx="599.09" cy="222.22" r="2.25" fill="#b8b8b8"/>
<circle cx="564.16" cy="197.48" r="2.68" fill="#b2b2b2"/>
<circle cx="501.69" cy="193.97" r="1.42" fill="#a8a8a8"/>
<circle cx="518.3" cy="212.6" r="1.68" fill="#b6b6b6"/>
<circle cx="510.8" cy="115.22" r="2.52" fill="#bdbdbd"/>
<circle cx="510.66" cy="186.51" r="2.05" fill="#b3b3b3"/>
<circle cx="511.68" cy="81.94" r="1.54" fill="#bcbcbc"/>
<circle cx="584.82" cy="186.19" r="1.63" fill="#b5b5b5"/>
<circle cx="657.49" cy="113.63" r="2.66" fill="#bababa"/>
<circle cx="673.62" cy="178.01" r="2.44" fill="#aaaaaa"/>
<circle cx="636.21" cy="133.33" r="2.41" fill="#b3b3b3"/>
<circle cx="673.11" cy="216.76" r="1.57" fill="#a4a4a4"/>
<circle cx="561.22" cy="148.35" r="2.56" fill="#a7a7a7"/>
<circle cx="596.94" cy="158.12" r="1.9" fill="#b3b3b3"/>
<circle cx="574.83" cy="250.43" r="1.62" fill="#bcbcbc"/>
<circle cx="610.78" cy="159.32" r="1.54" fill="#b4b4b4"/>
<circle cx="640.18" cy="140.22" r="2.55" fill="#b0b0b0"/>
<circle cx="513.97" cy="229.39" r="1.91" fill="#aeaeae"/>
<circle cx="632.78" cy="232.3" r="2.78" fill="#aaaaaa"/>
<circle cx="647.95" cy="105.74" r="2.29" fill="#acacac"/>
<circle cx="651.29" cy="205.4" r="2.47" fill="#b9b9b9"/>
<circle cx="559.53" cy="156.71" r="1.58" fill="#aaaaaa"/>
<circle cx="533.31" cy="206.99" r="1.62" fill="#bcbcbc"/>
<circle cx="604.24" cy="157.08" r="1.61" fill="#adadad"/>
<circle cx="597.79" cy="104.22" r="2.97" fill="#aaaaaa"/>
<circle cx="574.92" cy="128.9" r="2.01" fill="#a7a7a7"/>
<circle cx="649.17" cy="91.54" r="2" fill="#b2b2b2"/>
<circle cx="582.87" cy="135.77" r="2.19" fill="#a0a0a0"/>
<circle cx="552.39" cy="155.15" r="2.64" fill="#acacac"/>
<circle cx="571.5" cy="193.46" r="1.86" fill="#b0b0b0"/>
<circle cx="532.47" cy="187" r="2.27" fill="#b4b4b4"/>
<circle cx="652.83" cy="218.15" r="2.99" fill="#a6a6a6"/>
<circle cx="666.85" cy="156.84" r="2" fill="#adadad"/>
<circle cx="661.06" cy="246.02" r="2.7" fill="#a8a8a8"/>
<circle cx="519.03" cy="114.65" r="2.49" fill="#b5b5b5"/>
<circle cx="509.62" cy="79.63" r="3" fill="#a9a9a9"/>
<circle cx="505.38" cy="160.45" r="1.57" fill="#b9b9b9"/>
<circle cx="591.7" cy="186.14" r="2.89" fill="#a2a2a2"/>
<circle cx="536.08" cy="216.7" r="2.38" fill="#adadad"/>
<circle cx="561.04" cy="187.4" r="2.92" fill="#bebebe"/>
<circle cx="660.38" cy="250.23" r="1.63" fill="#9f9f9f"/>
<circle cx="644.77" cy="122.25" r="2.25" fill="#aeaeae"/>
<circle cx="670.35" cy="156.46" r="1.63" fill="#a5a5a5"/>
<circle cx="657.96" cy="221.78" r="1.64" fill="#bebebe"/>
<circle cx="563.81" cy="206.28" r="2.32" fill="#bbbbbb"/>
<circle cx="584.63" cy="84.18" r="2.3" fill="#bababa"/>
<circle cx="570.71" cy="223.62" r="2.13" fill="#aaaaaa"/>
<circle cx="561.56" cy="118.99" r="2.21" fill="#bebebe"/>
<circle cx="602.56" cy="213.34" r="1.7" fill="#aaaaaa"/>
<circle cx="600.7" cy="146.16" r="1.43" fill="#bbbbbb"/>
<circle cx="520.85" cy="194.31" r="2.98" fill="#a8a8a8"/>
<circle cx="545.74" cy="136.98" r="2.28" fill="#bfbfbf"/>
<circle cx="523.6" cy="121.87" r="2.84" fill="#a7a7a7"/>
<circle cx="616.07" cy="205.29" r="1.42" fill="#9f9f9f"/>
<circle cx="632.35" cy="239.73" r="2.52" fill="#aeaeae"/>
<circle cx="515.88" cy="171.22" r="1.59" fill="#a9a9a9"/>
<circle cx="504.23" cy="169.12" r="2.16" fill="#a8a8a8"/>
<circle cx="537.18" cy="90.58" r="1.46" fill="#a2a2a2"/>
<circle cx="671.9" cy="84.8" r="2.56" fill="#adadad"/>
<circle cx="602.01" cy="132.34" r="2.98" fill="#b9b9b9"/>
<circle cx="569.62" cy="154.51" r="2.88" fill="#a3a3a3"/>
<circle cx="652.7" cy="187.35" r="2.32" fill="#b0b0b0"/>
<circle cx="602.59" cy="94.89" r="1.81" fill="#aaaaaa"/>
<circle cx="537.18" cy="93.99" r="2.55" fill="#acacac"/>
<circle cx="629.18" cy="147.59" r="2.92" fill="#a6a6a6"/>
<circle cx="588.69" cy="153.01" r="2.68" fill="#a2a2a2"/>
<circle cx="594.62" cy="158.39" r="2.41" fill="#a6a6a6"/>
<circle cx="594.07" cy="251.39" r="1.58" fill="#bebebe"/>
<circle cx="669.11" cy="157.42" r="1.55" fill="#afafaf"/>
<circle cx="668.45" cy="79.18" r="2.62" fill="#b8b8b8"/>
<circle cx="518.46" cy="184.51" r="1.65" fill="#a1a1a1"/>
<circle cx="590.28" cy="131.15" r="2.47" fill="#b0b0b0"/>
<circle cx="538.61" cy="239.99" r="1.43" fill="#b9b9b9"/>
<circle cx="547.92" cy="236.36" r="2.38" fill="#adadad"/>
<circle cx="536.24" cy="228.89" r="2.78" fill="#bebebe"/>
<circle cx="602.36" cy="240.83" r="2.84" fill="#b4b4b4"/>
<circle cx="557.96" cy="184.63" r="1.96" fill="#b9b9b9"/>
<circle cx="595.87" cy="230.69" r="2.84" fill="#b7b7b7"/>
<circle cx="533.95" cy="137.65" r="1.55" fill="#a9a9a9"/>
<circle cx="525.87" cy="131.47" r="2.68" fill="#a2a2a2"/>
<circle cx="660.44" cy="240.3" r="2.64" fill="#a6a6a6"/>
<circle cx="549.42" cy="159.06" r="2.4" fill="#bdbdbd"/>
<circle cx="501.6" cy="94.07" r="2.73" fill="#9f9f9f"/>
<circle cx="656.18" cy="111.6" r="2.97" fill="#aeaeae"/>
<circle cx="605.26" cy="223.38" r="2.73" fill="#acacac"/>
<circle cx="579.47" cy="217" r="1.82" fill="#a8a8a8"/>
<circle cx="652.16" cy="233.35" r="2.73" fill="#aaaaaa"/>
<circle cx="558.68" cy="97.25" r="2.74" fill="#a0a0a0"/>
<circle cx="530.44" cy="83.22" r="2.14" fill="#bfbfbf"/>
<circle cx="510.48" cy="123.11" r="1.84" fill="#b5b5b5"/>
<circle cx="561.1" cy="109.44" r="2.52" fill="#bcbcbc"/>
<circle cx="527.22" cy="90.05" r="2.07" fill="#bdbdbd"/>
<circle cx="508.52" cy="103.16" r="2.44" fill="#b7b7b7"/>
<circle cx="577.99" cy="86.88" r="2.29" fill="#a1a1a1"/>
<circle cx="511.07" cy="88.94" r="2.91" fill="#a2a2a2"/>
<circle cx="582.1" cy="222.69" r="1.74" fill="#ababab"/>
<circle cx="638.49" cy="177.8" r="1.73" fill="#b0b0b0"/>
<circle cx="674.07" cy="222.27" r="2.95" fill="#9f9f9f"/>
<circle cx="508.32" cy="166.97" r="1.44" fill="#bebebe"/>
<circle cx="549.71" cy="175.18" r="2.81" fill="#acacac"/>
<circle cx="633.49" cy="106.05" r="2.12" fill="#b6b6b6"/>
<circle cx="580.85" cy="111.43" r="2.78" fill="#aaaaaa"/>
<circle cx="659.54" cy="134.05" r="2.73" fill="#a2a2a2"/>
<circle cx="617.46" cy="245.53" r="2.42" fill="#acacac"/>
<circle cx="671.59" cy="248.11" r="2.73" fill="#a5a5a5"/>
<circle cx="513.8" cy="186.27" r="1.63" fill="#a0a0a0"/>
<circle cx="596.29" cy="244.26" r="1.85" fill="#b9b9b9"/>
<circle cx="668.05" cy="243.78" r="1.55" fill="#a3a3a3"/>
<circle cx="667.08" cy="247.91" r="1.69" fill="#a4a4a4"/>
<circle cx="624.07" cy="95.96" r="1.58" fill="#a3a3a3"/>
<circle cx="600.35" cy="143.99" r="2.76" fill="#a3a3a3"/>
<circle cx="656.77" cy="216.79" r="2.01" fill="#b2b2b2"/>
<circle cx="617.79" cy="100.35" r="2.9" fill="#adadad"/>
<circle cx="589.14" cy="228.14" r="1.45" fill="#a7a7a7"/>
<circle cx="503.46" cy="207.89" r="1.76" fill="#b6b6b6"/>
<circle cx="625.03" cy="253.25" r="1.7" fill="#acacac"/>
<circle cx="637.51" cy="156.76" r="1.7" fill="#b4b4b4"/>
<circle cx="638.61" cy="157.28" r="2.02" fill="#a2a2a2"/>
<circle cx="569.85" cy="226.04" r="1.98" fill="#bebebe"/>
<circle cx="561.32" cy="162.31" r="2.66" fill="#bcbcbc"/>
<circle cx="647.51" cy="152.88" r="2.14" fill="#a2a2a2"/>
<circle cx="593.28" cy="222.31" r="1.72" fill="#a9a9a9"/>
<circle cx="509.63" cy="158.43" r="2.18" fill="#bfbfbf"/>
</g>
<g filter="url(#blas)" fill="none" stroke-linecap="round" stroke-linejoin="round">
<path d="M521.01,84.25L518.36,105.25L514.82,124.5L509.5,145.5L504.19,163L499.77,180.5" stroke="#adadad" stroke-width="3.89"/>
<path d="M503.31,164.75L520.12,187.5" stroke="#b2b2b2" stroke-width="3.19"/>
<path d="M528.09,191L543.13,213.75L565.26,243.5" stroke="#a2a2a2" stroke-width="7.43"/>
<path d="M592.34,150.57L602.43,136.75L612.34,125.38" stroke="#a2a2a2" stroke-width="7.43"/>
<path d="M627.21,184L622.78,206.75L617.3,243.5" stroke="#a4a4a4" stroke-width="5.66"/>
<path d="M646.68,101.75L649.34,119.25" stroke="#a8a8a8" stroke-width="5.31"/>
<path d="M499.42,187.5L499.42,215.5" stroke="#ababab" stroke-width="3.89"/>
</g>
<g filter="url(#blad)">
<circle cx="543.13" cy="213.75" r="4.42" fill="#8f8f8f"/>
<circle cx="599.77" cy="140.25" r="3.89" fill="#878787"/>
<circle cx="622.25" cy="206.75" r="3.54" fill="#949494"/>
<circle cx="558" cy="100.17" r="7.96" fill="#a8a8a8"/>
<circle cx="558" cy="100.17" r="4.96" fill="#858585"/>
<circle cx="558" cy="100.17" r="2.3" fill="#5c5c5c"/>
<circle cx="555.7" cy="113.65" r="5.31" fill="#a3a3a3"/>
<circle cx="628.98" cy="85.12" r="6.19" fill="#a6a6a6"/>
<circle cx="668.98" cy="140.25" r="5.31" fill="#a8a8a8"/>
<circle cx="516.59" cy="224.25" r="3.89" fill="#a8a8a8"/>
<circle cx="509.15" cy="242.28" r="5.31" fill="#a8a8a8"/>
<circle cx="557.47" cy="203.77" r="4.42" fill="#ababab"/>
<circle cx="571.63" cy="222.32" r="3.89" fill="#adadad"/>
<circle cx="528.09" cy="94.75" r="4.42" fill="#a3a3a3"/>
<circle cx="525.43" cy="107" r="4.42" fill="#a8a8a8"/>
</g>
</g></g>
<path d="M547.38,101.22L570.04,99.47" stroke="#111" stroke-width="1" stroke-dasharray="2,0.9"/>
<text x="571.46" y="110.88" class="pn">3</text>
<path d="M590.75,133.78L615.71,143.22" stroke="#111" stroke-width="1" stroke-dasharray="2,0.9"/>
<text x="620.13" y="147.62" class="pn">1</text>
<path d="M616.59,214.97L637.3,204.3" stroke="#111" stroke-width="1" stroke-dasharray="2,0.9"/>
<text x="640.49" y="204.5" class="pn">2</text>
<path d="M497.6,254V78.6H675" fill="none" stroke="#3a3a3a" stroke-width="1"/>
<path d="M498,254.4H675.4V79" fill="none" stroke="#666" stroke-width="0.8"/>
<path d="M498,79v-3.18" stroke="#888" stroke-width="0.8"/>
<text x="498.4" y="73.88" class="il" style="font-size:6.03px">0 µm</text>
<path d="M533.4,79v-3.18" stroke="#888" stroke-width="0.8"/>
<text x="533.8" y="73.88" class="il" style="font-size:6.03px">2</text>
<path d="M568.8,79v-3.18" stroke="#888" stroke-width="0.8"/>
<text x="569.2" y="73.88" class="il" style="font-size:6.03px">4</text>
<path d="M604.2,79v-3.18" stroke="#888" stroke-width="0.8"/>
<text x="604.6" y="73.88" class="il" style="font-size:6.03px">6</text>
<path d="M639.6,79v-3.18" stroke="#888" stroke-width="0.8"/>
<text x="640" y="73.88" class="il" style="font-size:6.03px">8</text>
<path d="M675,79v-3.18" stroke="#888" stroke-width="0.8"/>
<path d="M498,79h-3.18" stroke="#888" stroke-width="0.8"/>
<text x="493.48" y="85.33" text-anchor="end" class="il" style="font-size:6.03px">0</text>
<path d="M498,114h-3.18" stroke="#888" stroke-width="0.8"/>
<text x="493.48" y="120.33" text-anchor="end" class="il" style="font-size:6.03px">2</text>
<path d="M498,149h-3.18" stroke="#888" stroke-width="0.8"/>
<text x="493.48" y="155.33" text-anchor="end" class="il" style="font-size:6.03px">4</text>
<path d="M498,184h-3.18" stroke="#888" stroke-width="0.8"/>
<text x="493.48" y="190.33" text-anchor="end" class="il" style="font-size:6.03px">6</text>
<path d="M498,219h-3.18" stroke="#888" stroke-width="0.8"/>
<text x="493.48" y="225.33" text-anchor="end" class="il" style="font-size:6.03px">8</text>
<path d="M498,254h-3.18" stroke="#888" stroke-width="0.8"/>
<rect x="680.2" y="79" width="7.3" height="175" fill="url(#cbga)" stroke="#3a3a3a" stroke-width="0.9"/>
<path d="M687.5,79h3.66" stroke="#333" stroke-width="0.8"/>
<text x="703.23" y="84.2" text-anchor="end" class="cl" style="font-size:6.03px">73.6</text>
<text x="705.04" y="84.2" class="cl" style="font-size:6.03px">nm</text>
<path d="M687.5,87.56h3.66" stroke="#333" stroke-width="0.8"/>
<text x="703.23" y="92.76" text-anchor="end" class="cl" style="font-size:6.03px">70.0</text>
<path d="M687.5,99.45h3.66" stroke="#333" stroke-width="0.8"/>
<text x="703.23" y="104.65" text-anchor="end" class="cl" style="font-size:6.03px">65.0</text>
<path d="M687.5,111.34h3.66" stroke="#333" stroke-width="0.8"/>
<text x="703.23" y="116.54" text-anchor="end" class="cl" style="font-size:6.03px">60.0</text>
<path d="M687.5,123.23h3.66" stroke="#333" stroke-width="0.8"/>
<text x="703.23" y="128.43" text-anchor="end" class="cl" style="font-size:6.03px">55.0</text>
<path d="M687.5,135.11h3.66" stroke="#333" stroke-width="0.8"/>
<text x="703.23" y="140.32" text-anchor="end" class="cl" style="font-size:6.03px">50.0</text>
<path d="M687.5,147h3.66" stroke="#333" stroke-width="0.8"/>
<text x="703.23" y="152.21" text-anchor="end" class="cl" style="font-size:6.03px">45.0</text>
<path d="M687.5,158.89h3.66" stroke="#333" stroke-width="0.8"/>
<text x="703.23" y="164.09" text-anchor="end" class="cl" style="font-size:6.03px">40.0</text>
<path d="M687.5,170.78h3.66" stroke="#333" stroke-width="0.8"/>
<text x="703.23" y="175.98" text-anchor="end" class="cl" style="font-size:6.03px">35.0</text>
<path d="M687.5,182.67h3.66" stroke="#333" stroke-width="0.8"/>
<text x="703.23" y="187.87" text-anchor="end" class="cl" style="font-size:6.03px">30.0</text>
<path d="M687.5,194.56h3.66" stroke="#333" stroke-width="0.8"/>
<text x="703.23" y="199.76" text-anchor="end" class="cl" style="font-size:6.03px">25.0</text>
<path d="M687.5,206.45h3.66" stroke="#333" stroke-width="0.8"/>
<text x="703.23" y="211.65" text-anchor="end" class="cl" style="font-size:6.03px">20.0</text>
<path d="M687.5,218.33h3.66" stroke="#333" stroke-width="0.8"/>
<text x="703.23" y="223.54" text-anchor="end" class="cl" style="font-size:6.03px">15.0</text>
<path d="M687.5,230.22h3.66" stroke="#333" stroke-width="0.8"/>
<text x="703.23" y="235.43" text-anchor="end" class="cl" style="font-size:6.03px">10.0</text>
<path d="M687.5,242.11h3.66" stroke="#333" stroke-width="0.8"/>
<path d="M687.5,254h3.66" stroke="#333" stroke-width="0.8"/>
<text x="703.23" y="253.6" text-anchor="end" class="cl" style="font-size:6.03px">0.0</text>
<path d="M117.8,47.9L125.3,45.9L129.83,46.94L138,48.8L142.64,50.75L150.4,54L155.45,56.58L162.7,60.3L169.1,63.2L175.4,66.6L181.06,69.94L188.1,74.1L194.4,76.7L200.7,80.4L207,87.6L213.08,92.99L219.4,98.6L225.88,106.39L231.8,113.5L238.69,121.99L244.7,129.4L251.2,137.1L257.4,146.6L263.5,157.9L270.1,167.7L276.4,178.2L282.5,190.5L289.1,201.9L295.3,213L301.4,222.2L308,231.3L314.1,239.9L320.4,248.9L326.6,254L333.2,252.8L339.3,251.6L345.9,245.5L352.2,235.7L358.9,225.7L365,213.7L371.3,200.7L377.2,187.3L383.3,175L392.36,161.09L396.3,155.5L402.9,145.7L409,137.1L415.1,127.8L424.38,112.82L429.6,104.4L440,90L443.59,86.71L452,79L456.4,75.28L465,68L469.2,65.41L478,60L482.01,58.66L490,56L494.82,54.45L499,53.1L505.7,51.4L512.3,50.4L520.6,48.1L528.2,47.1L535.5,46.5L542.1,46.5L546.04,46.5L550.3,46.5L557.6,46.5L565.2,47.1L571.9,47.8L579.1,48.1" stroke="#666666" stroke-width="0.7" fill="none" stroke-dasharray="2.2,1.4"/>
<path d="M117.8,42.94L122.76,47.9L117.8,52.86L112.84,47.9Z" fill="#444444"/>
<path d="M125.3,40.94L130.26,45.9L125.3,50.86L120.34,45.9Z" fill="#444444"/>
<path d="M129.83,41.98L134.79,46.94L129.83,51.9L124.87,46.94Z" fill="#444444"/>
<path d="M138,43.84L142.96,48.8L138,53.76L133.04,48.8Z" fill="#444444"/>
<path d="M142.64,45.79L147.6,50.75L142.64,55.71L137.68,50.75Z" fill="#444444"/>
<path d="M150.4,49.04L155.36,54L150.4,58.96L145.44,54Z" fill="#444444"/>
<path d="M155.45,51.62L160.41,56.58L155.45,61.54L150.49,56.58Z" fill="#444444"/>
<path d="M162.7,55.34L167.66,60.3L162.7,65.26L157.74,60.3Z" fill="#444444"/>
<path d="M169.1,58.24L174.06,63.2L169.1,68.16L164.14,63.2Z" fill="#444444"/>
<path d="M175.4,61.64L180.36,66.6L175.4,71.56L170.44,66.6Z" fill="#444444"/>
<path d="M181.06,64.98L186.02,69.94L181.06,74.9L176.1,69.94Z" fill="#444444"/>
<path d="M188.1,69.14L193.06,74.1L188.1,79.06L183.14,74.1Z" fill="#444444"/>
<path d="M194.4,71.74L199.36,76.7L194.4,81.66L189.44,76.7Z" fill="#444444"/>
<path d="M200.7,75.44L205.66,80.4L200.7,85.36L195.74,80.4Z" fill="#444444"/>
<path d="M207,82.64L211.96,87.6L207,92.56L202.04,87.6Z" fill="#444444"/>
<path d="M213.08,88.03L218.04,92.99L213.08,97.95L208.12,92.99Z" fill="#444444"/>
<path d="M219.4,93.64L224.36,98.6L219.4,103.56L214.44,98.6Z" fill="#444444"/>
<path d="M225.88,101.43L230.84,106.39L225.88,111.35L220.92,106.39Z" fill="#444444"/>
<path d="M231.8,108.54L236.76,113.5L231.8,118.46L226.84,113.5Z" fill="#444444"/>
<path d="M238.69,117.03L243.65,121.99L238.69,126.95L233.73,121.99Z" fill="#444444"/>
<path d="M244.7,124.44L249.66,129.4L244.7,134.36L239.74,129.4Z" fill="#444444"/>
<path d="M251.2,132.14L256.16,137.1L251.2,142.06L246.24,137.1Z" fill="#444444"/>
<path d="M257.4,141.64L262.36,146.6L257.4,151.56L252.44,146.6Z" fill="#444444"/>
<path d="M263.5,152.94L268.46,157.9L263.5,162.86L258.54,157.9Z" fill="#444444"/>
<path d="M270.1,162.74L275.06,167.7L270.1,172.66L265.14,167.7Z" fill="#444444"/>
<path d="M276.4,173.24L281.36,178.2L276.4,183.16L271.44,178.2Z" fill="#444444"/>
<path d="M282.5,185.54L287.46,190.5L282.5,195.46L277.54,190.5Z" fill="#444444"/>
<path d="M289.1,196.94L294.06,201.9L289.1,206.86L284.14,201.9Z" fill="#444444"/>
<path d="M295.3,208.04L300.26,213L295.3,217.96L290.34,213Z" fill="#444444"/>
<path d="M301.4,217.24L306.36,222.2L301.4,227.16L296.44,222.2Z" fill="#444444"/>
<path d="M308,226.34L312.96,231.3L308,236.26L303.04,231.3Z" fill="#444444"/>
<path d="M314.1,234.94L319.06,239.9L314.1,244.86L309.14,239.9Z" fill="#444444"/>
<path d="M320.4,243.94L325.36,248.9L320.4,253.86L315.44,248.9Z" fill="#444444"/>
<path d="M326.6,249.04L331.56,254L326.6,258.96L321.64,254Z" fill="#444444"/>
<path d="M333.2,247.84L338.16,252.8L333.2,257.76L328.24,252.8Z" fill="#444444"/>
<path d="M339.3,246.64L344.26,251.6L339.3,256.56L334.34,251.6Z" fill="#444444"/>
<path d="M345.9,240.54L350.86,245.5L345.9,250.46L340.94,245.5Z" fill="#444444"/>
<path d="M352.2,230.74L357.16,235.7L352.2,240.66L347.24,235.7Z" fill="#444444"/>
<path d="M358.9,220.74L363.86,225.7L358.9,230.66L353.94,225.7Z" fill="#444444"/>
<path d="M365,208.74L369.96,213.7L365,218.66L360.04,213.7Z" fill="#444444"/>
<path d="M371.3,195.74L376.26,200.7L371.3,205.66L366.34,200.7Z" fill="#444444"/>
<path d="M377.2,182.34L382.16,187.3L377.2,192.26L372.24,187.3Z" fill="#444444"/>
<path d="M383.3,170.04L388.26,175L383.3,179.96L378.34,175Z" fill="#444444"/>
<path d="M392.36,156.13L397.32,161.09L392.36,166.05L387.4,161.09Z" fill="#444444"/>
<path d="M396.3,150.54L401.26,155.5L396.3,160.46L391.34,155.5Z" fill="#444444"/>
<path d="M402.9,140.74L407.86,145.7L402.9,150.66L397.94,145.7Z" fill="#444444"/>
<path d="M409,132.14L413.96,137.1L409,142.06L404.04,137.1Z" fill="#444444"/>
<path d="M415.1,122.84L420.06,127.8L415.1,132.76L410.14,127.8Z" fill="#444444"/>
<path d="M424.38,107.86L429.34,112.82L424.38,117.78L419.42,112.82Z" fill="#444444"/>
<path d="M429.6,99.44L434.56,104.4L429.6,109.36L424.64,104.4Z" fill="#444444"/>
<path d="M440,85.04L444.96,90L440,94.96L435.04,90Z" fill="#444444"/>
<path d="M443.59,81.75L448.55,86.71L443.59,91.67L438.63,86.71Z" fill="#444444"/>
<path d="M452,74.04L456.96,79L452,83.96L447.04,79Z" fill="#444444"/>
<path d="M456.4,70.32L461.36,75.28L456.4,80.24L451.44,75.28Z" fill="#444444"/>
<path d="M465,63.04L469.96,68L465,72.96L460.04,68Z" fill="#444444"/>
<path d="M469.2,60.45L474.16,65.41L469.2,70.37L464.24,65.41Z" fill="#444444"/>
<path d="M478,55.04L482.96,60L478,64.96L473.04,60Z" fill="#444444"/>
<path d="M482.01,53.7L486.97,58.66L482.01,63.62L477.05,58.66Z" fill="#444444"/>
<path d="M490,51.04L494.96,56L490,60.96L485.04,56Z" fill="#444444"/>
<path d="M494.82,49.49L499.78,54.45L494.82,59.41L489.86,54.45Z" fill="#444444"/>
<path d="M499,48.14L503.96,53.1L499,58.06L494.04,53.1Z" fill="#444444"/>
<path d="M505.7,46.44L510.66,51.4L505.7,56.36L500.74,51.4Z" fill="#444444"/>
<path d="M512.3,45.44L517.26,50.4L512.3,55.36L507.34,50.4Z" fill="#444444"/>
<path d="M520.6,43.14L525.56,48.1L520.6,53.06L515.64,48.1Z" fill="#444444"/>
<path d="M528.2,42.14L533.16,47.1L528.2,52.06L523.24,47.1Z" fill="#444444"/>
<path d="M535.5,41.54L540.46,46.5L535.5,51.46L530.54,46.5Z" fill="#444444"/>
<path d="M542.1,41.54L547.06,46.5L542.1,51.46L537.14,46.5Z" fill="#444444"/>
<path d="M546.04,41.54L551,46.5L546.04,51.46L541.08,46.5Z" fill="#444444"/>
<path d="M550.3,41.54L555.26,46.5L550.3,51.46L545.34,46.5Z" fill="#444444"/>
<path d="M557.6,41.54L562.56,46.5L557.6,51.46L552.64,46.5Z" fill="#444444"/>
<path d="M565.2,42.14L570.16,47.1L565.2,52.06L560.24,47.1Z" fill="#444444"/>
<path d="M571.9,42.84L576.86,47.8L571.9,52.76L566.94,47.8Z" fill="#444444"/>
<path d="M579.1,43.14L584.06,48.1L579.1,53.06L574.14,48.1Z" fill="#444444"/>
<path d="M118.7,79.9L124.91,82.45L131.17,85.03L137.43,87.6L143.69,90.17L149.95,92.75L156.4,95.4L162.47,97.97L168.73,100.63L174.98,103.29L181.24,105.94L187.5,108.6L193.76,112.46L200.02,116.32L206.28,120.18L212.8,124.2L218.8,127.31L225.06,130.55L231.32,133.79L237.58,137.03L243.9,140.3L251.2,144.5L256.8,147.4L262.7,150.6L269.1,154.2L275.2,158.6L281.3,163.5L287.7,170.6L293.8,177.5L300.1,181.2L306.5,186L312.6,195.3L319,202.4L325.3,206.3L331.5,213.4L337.6,222.2L343.9,226.4L350,224.5L356.2,220.3L362.5,213.4L368.9,203.2L375,192.2L381.4,179.9L387.5,168.9L393.8,157.4L400,146.2L406.6,134.7L412.7,124.9L419,116L425.3,107.7L431.2,100.1L437.5,94.1L443.8,88.5L450.1,82.2L456.4,75.6L462.7,70.3L468.9,65.7L475.2,62.4L481.5,58.1L487.8,55.7L494.1,54.7L500,54.4L506.3,55.7L512.6,56.4L518.9,57.1L525.2,55.7L531.5,54.4" stroke="#ee5555" stroke-width="0.7" fill="none" stroke-dasharray="2.2,1.4"/>
<circle cx="118.7" cy="79.9" r="3.3" fill="#ee3b3b"/>
<circle cx="124.91" cy="82.45" r="3.3" fill="#ee3b3b"/>
<circle cx="131.17" cy="85.03" r="3.3" fill="#ee3b3b"/>
<circle cx="137.43" cy="87.6" r="3.3" fill="#ee3b3b"/>
<circle cx="143.69" cy="90.17" r="3.3" fill="#ee3b3b"/>
<circle cx="149.95" cy="92.75" r="3.3" fill="#ee3b3b"/>
<circle cx="156.4" cy="95.4" r="3.3" fill="#ee3b3b"/>
<circle cx="162.47" cy="97.97" r="3.3" fill="#ee3b3b"/>
<circle cx="168.73" cy="100.63" r="3.3" fill="#ee3b3b"/>
<circle cx="174.98" cy="103.29" r="3.3" fill="#ee3b3b"/>
<circle cx="181.24" cy="105.94" r="3.3" fill="#ee3b3b"/>
<circle cx="187.5" cy="108.6" r="3.3" fill="#ee3b3b"/>
<circle cx="193.76" cy="112.46" r="3.3" fill="#ee3b3b"/>
<circle cx="200.02" cy="116.32" r="3.3" fill="#ee3b3b"/>
<circle cx="206.28" cy="120.18" r="3.3" fill="#ee3b3b"/>
<circle cx="212.8" cy="124.2" r="3.3" fill="#ee3b3b"/>
<circle cx="218.8" cy="127.31" r="3.3" fill="#ee3b3b"/>
<circle cx="225.06" cy="130.55" r="3.3" fill="#ee3b3b"/>
<circle cx="231.32" cy="133.79" r="3.3" fill="#ee3b3b"/>
<circle cx="237.58" cy="137.03" r="3.3" fill="#ee3b3b"/>
<circle cx="243.9" cy="140.3" r="3.3" fill="#ee3b3b"/>
<circle cx="251.2" cy="144.5" r="3.3" fill="#ee3b3b"/>
<circle cx="256.8" cy="147.4" r="3.3" fill="#ee3b3b"/>
<circle cx="262.7" cy="150.6" r="3.3" fill="#ee3b3b"/>
<circle cx="269.1" cy="154.2" r="3.3" fill="#ee3b3b"/>
<circle cx="275.2" cy="158.6" r="3.3" fill="#ee3b3b"/>
<circle cx="281.3" cy="163.5" r="3.3" fill="#ee3b3b"/>
<circle cx="287.7" cy="170.6" r="3.3" fill="#ee3b3b"/>
<circle cx="293.8" cy="177.5" r="3.3" fill="#ee3b3b"/>
<circle cx="300.1" cy="181.2" r="3.3" fill="#ee3b3b"/>
<circle cx="306.5" cy="186" r="3.3" fill="#ee3b3b"/>
<circle cx="312.6" cy="195.3" r="3.3" fill="#ee3b3b"/>
<circle cx="319" cy="202.4" r="3.3" fill="#ee3b3b"/>
<circle cx="325.3" cy="206.3" r="3.3" fill="#ee3b3b"/>
<circle cx="331.5" cy="213.4" r="3.3" fill="#ee3b3b"/>
<circle cx="337.6" cy="222.2" r="3.3" fill="#ee3b3b"/>
<circle cx="343.9" cy="226.4" r="3.3" fill="#ee3b3b"/>
<circle cx="350" cy="224.5" r="3.3" fill="#ee3b3b"/>
<circle cx="356.2" cy="220.3" r="3.3" fill="#ee3b3b"/>
<circle cx="362.5" cy="213.4" r="3.3" fill="#ee3b3b"/>
<circle cx="368.9" cy="203.2" r="3.3" fill="#ee3b3b"/>
<circle cx="375" cy="192.2" r="3.3" fill="#ee3b3b"/>
<circle cx="381.4" cy="179.9" r="3.3" fill="#ee3b3b"/>
<circle cx="387.5" cy="168.9" r="3.3" fill="#ee3b3b"/>
<circle cx="393.8" cy="157.4" r="3.3" fill="#ee3b3b"/>
<circle cx="400" cy="146.2" r="3.3" fill="#ee3b3b"/>
<circle cx="406.6" cy="134.7" r="3.3" fill="#ee3b3b"/>
<circle cx="412.7" cy="124.9" r="3.3" fill="#ee3b3b"/>
<circle cx="419" cy="116" r="3.3" fill="#ee3b3b"/>
<circle cx="425.3" cy="107.7" r="3.3" fill="#ee3b3b"/>
<circle cx="431.2" cy="100.1" r="3.3" fill="#ee3b3b"/>
<circle cx="437.5" cy="94.1" r="3.3" fill="#ee3b3b"/>
<circle cx="443.8" cy="88.5" r="3.3" fill="#ee3b3b"/>
<circle cx="450.1" cy="82.2" r="3.3" fill="#ee3b3b"/>
<circle cx="456.4" cy="75.6" r="3.3" fill="#ee3b3b"/>
<circle cx="462.7" cy="70.3" r="3.3" fill="#ee3b3b"/>
<circle cx="468.9" cy="65.7" r="3.3" fill="#ee3b3b"/>
<circle cx="475.2" cy="62.4" r="3.3" fill="#ee3b3b"/>
<circle cx="481.5" cy="58.1" r="3.3" fill="#ee3b3b"/>
<circle cx="487.8" cy="55.7" r="3.3" fill="#ee3b3b"/>
<circle cx="494.1" cy="54.7" r="3.3" fill="#ee3b3b"/>
<circle cx="500" cy="54.4" r="3.3" fill="#ee3b3b"/>
<circle cx="506.3" cy="55.7" r="3.3" fill="#ee3b3b"/>
<circle cx="512.6" cy="56.4" r="3.3" fill="#ee3b3b"/>
<circle cx="518.9" cy="57.1" r="3.3" fill="#ee3b3b"/>
<circle cx="525.2" cy="55.7" r="3.3" fill="#ee3b3b"/>
<circle cx="531.5" cy="54.4" r="3.3" fill="#ee3b3b"/>
<path d="M118.7,43L125.3,46.5L131.7,51.1L137.4,54.5L144.6,57.4L150.4,62.6L157,67.5L163.3,71.8L169.6,77L176.3,81.9L182.6,87.6L188.6,94.2L195,100.6L201.3,107.8L207,116.4L213.1,125.9L219.4,136L225.8,146L232.5,156.3L238.7,166.3L244.9,176.7L251.8,190.8L258,209.5L264.2,231.9L270.4,255.7L276.7,277.5L282.9,306.5L289.1,344.1L295.3,383.1L301.5,410.8L307.7,398.3L314.3,350L320.5,297.5L326.7,253L332.6,218.8L338.8,195.3L345,175.6L351.2,157.7L357.5,145.2L363.7,134.5L369.9,123.1L376.3,111.5L382.6,102.7L388.9,94.5L395.5,87.2L401.8,80.2L408,73.6L414.3,67.3L420.3,62L426.3,56.4L432.9,52.1L439.5,47.8L445.8,43.8L452.1,41.2L458.4,39.2L464.3,36.5L470.9,35.9L477.5,37.2L484.2,40.5L490.1,42.2L496.4,43.8" stroke="#3a80e8" stroke-width="0.8" fill="none" stroke-dasharray="2.2,1.4"/>
<path d="M114.64,38.94L122.76,43L114.64,47.06Z" fill="#1c6fe0"/>
<path d="M121.24,42.44L129.36,46.5L121.24,50.56Z" fill="#1c6fe0"/>
<path d="M127.64,47.04L135.76,51.1L127.64,55.16Z" fill="#1c6fe0"/>
<path d="M133.34,50.44L141.46,54.5L133.34,58.56Z" fill="#1c6fe0"/>
<path d="M140.54,53.34L148.66,57.4L140.54,61.46Z" fill="#1c6fe0"/>
<path d="M146.34,58.54L154.46,62.6L146.34,66.66Z" fill="#1c6fe0"/>
<path d="M152.94,63.44L161.06,67.5L152.94,71.56Z" fill="#1c6fe0"/>
<path d="M159.24,67.74L167.36,71.8L159.24,75.86Z" fill="#1c6fe0"/>
<path d="M165.54,72.94L173.66,77L165.54,81.06Z" fill="#1c6fe0"/>
<path d="M172.24,77.84L180.36,81.9L172.24,85.96Z" fill="#1c6fe0"/>
<path d="M178.54,83.54L186.66,87.6L178.54,91.66Z" fill="#1c6fe0"/>
<path d="M184.54,90.14L192.66,94.2L184.54,98.26Z" fill="#1c6fe0"/>
<path d="M190.94,96.54L199.06,100.6L190.94,104.66Z" fill="#1c6fe0"/>
<path d="M197.24,103.74L205.36,107.8L197.24,111.86Z" fill="#1c6fe0"/>
<path d="M202.94,112.34L211.06,116.4L202.94,120.46Z" fill="#1c6fe0"/>
<path d="M209.04,121.84L217.16,125.9L209.04,129.96Z" fill="#1c6fe0"/>
<path d="M215.34,131.94L223.46,136L215.34,140.06Z" fill="#1c6fe0"/>
<path d="M221.74,141.94L229.86,146L221.74,150.06Z" fill="#1c6fe0"/>
<path d="M228.44,152.24L236.56,156.3L228.44,160.36Z" fill="#1c6fe0"/>
<path d="M234.64,162.24L242.76,166.3L234.64,170.36Z" fill="#1c6fe0"/>
<path d="M240.84,172.64L248.96,176.7L240.84,180.76Z" fill="#1c6fe0"/>
<path d="M247.74,186.74L255.86,190.8L247.74,194.86Z" fill="#1c6fe0"/>
<path d="M253.94,205.44L262.06,209.5L253.94,213.56Z" fill="#1c6fe0"/>
<path d="M260.14,227.84L268.26,231.9L260.14,235.96Z" fill="#1c6fe0"/>
<path d="M266.34,251.64L274.46,255.7L266.34,259.76Z" fill="#1c6fe0"/>
<path d="M272.64,273.44L280.76,277.5L272.64,281.56Z" fill="#1c6fe0"/>
<path d="M278.84,302.44L286.96,306.5L278.84,310.56Z" fill="#1c6fe0"/>
<path d="M285.04,340.04L293.16,344.1L285.04,348.16Z" fill="#1c6fe0"/>
<path d="M291.24,379.04L299.36,383.1L291.24,387.16Z" fill="#1c6fe0"/>
<path d="M297.44,406.74L305.56,410.8L297.44,414.86Z" fill="#1c6fe0"/>
<path d="M303.64,394.24L311.76,398.3L303.64,402.36Z" fill="#1c6fe0"/>
<path d="M310.24,345.94L318.36,350L310.24,354.06Z" fill="#1c6fe0"/>
<path d="M316.44,293.44L324.56,297.5L316.44,301.56Z" fill="#1c6fe0"/>
<path d="M322.64,248.94L330.76,253L322.64,257.06Z" fill="#1c6fe0"/>
<path d="M328.54,214.74L336.66,218.8L328.54,222.86Z" fill="#1c6fe0"/>
<path d="M334.74,191.24L342.86,195.3L334.74,199.36Z" fill="#1c6fe0"/>
<path d="M340.94,171.54L349.06,175.6L340.94,179.66Z" fill="#1c6fe0"/>
<path d="M347.14,153.64L355.26,157.7L347.14,161.76Z" fill="#1c6fe0"/>
<path d="M353.44,141.14L361.56,145.2L353.44,149.26Z" fill="#1c6fe0"/>
<path d="M359.64,130.44L367.76,134.5L359.64,138.56Z" fill="#1c6fe0"/>
<path d="M365.84,119.04L373.96,123.1L365.84,127.16Z" fill="#1c6fe0"/>
<path d="M372.24,107.44L380.36,111.5L372.24,115.56Z" fill="#1c6fe0"/>
<path d="M378.54,98.64L386.66,102.7L378.54,106.76Z" fill="#1c6fe0"/>
<path d="M384.84,90.44L392.96,94.5L384.84,98.56Z" fill="#1c6fe0"/>
<path d="M391.44,83.14L399.56,87.2L391.44,91.26Z" fill="#1c6fe0"/>
<path d="M397.74,76.14L405.86,80.2L397.74,84.26Z" fill="#1c6fe0"/>
<path d="M403.94,69.54L412.06,73.6L403.94,77.66Z" fill="#1c6fe0"/>
<path d="M410.24,63.24L418.36,67.3L410.24,71.36Z" fill="#1c6fe0"/>
<path d="M416.24,57.94L424.36,62L416.24,66.06Z" fill="#1c6fe0"/>
<path d="M422.24,52.34L430.36,56.4L422.24,60.46Z" fill="#1c6fe0"/>
<path d="M428.84,48.04L436.96,52.1L428.84,56.16Z" fill="#1c6fe0"/>
<path d="M435.44,43.74L443.56,47.8L435.44,51.86Z" fill="#1c6fe0"/>
<path d="M441.74,39.74L449.86,43.8L441.74,47.86Z" fill="#1c6fe0"/>
<path d="M448.04,37.14L456.16,41.2L448.04,45.26Z" fill="#1c6fe0"/>
<path d="M454.34,35.14L462.46,39.2L454.34,43.26Z" fill="#1c6fe0"/>
<path d="M460.24,32.44L468.36,36.5L460.24,40.56Z" fill="#1c6fe0"/>
<path d="M466.84,31.84L474.96,35.9L466.84,39.96Z" fill="#1c6fe0"/>
<path d="M473.44,33.14L481.56,37.2L473.44,41.26Z" fill="#1c6fe0"/>
<path d="M480.14,36.44L488.26,40.5L480.14,44.56Z" fill="#1c6fe0"/>
<path d="M486.04,38.14L494.16,42.2L486.04,46.26Z" fill="#1c6fe0"/>
<path d="M492.34,39.74L500.46,43.8L492.34,47.86Z" fill="#1c6fe0"/>
<rect x="498" y="266.1" width="108.4" height="90.3" fill="#fff" stroke="#555" stroke-width="1.0"/>
<path d="M501,282.7H553" stroke="#666666" stroke-width="1"/>
<path d="M527,277.49L532.21,282.7L527,287.91L521.79,282.7Z" fill="#444444"/>
<text transform="translate(559.4,291) scale(0.9,1)" class="lg">Pit-1</text>
<path d="M501,311.5H553" stroke="#ee5555" stroke-width="1"/>
<circle cx="527" cy="311.5" r="3.46" fill="#ee3b3b"/>
<text transform="translate(559.4,319.8) scale(0.9,1)" class="lg">Pit-2</text>
<path d="M501,340.2H553" stroke="#3a80e8" stroke-width="1"/>
<path d="M522.74,335.94L531.26,340.2L522.74,344.46Z" fill="#1c6fe0"/>
<text transform="translate(559.4,348.5) scale(0.9,1)" class="lg">Pit-3</text>
</g>
<g id="panel-b">
<path d="M60.4,522.6V968.7" stroke="#000" stroke-width="2" fill="none"/>
<path d="M59.4,968.7H613.88" stroke="#000" stroke-width="2" fill="none"/>
<path d="M55.9,925.05H60.4" stroke="#000" stroke-width="2"/>
<path d="M55.9,867.56H60.4" stroke="#000" stroke-width="2"/>
<path d="M55.9,810.07H60.4" stroke="#000" stroke-width="2"/>
<path d="M55.9,752.59H60.4" stroke="#000" stroke-width="2"/>
<path d="M55.9,695.1H60.4" stroke="#000" stroke-width="2"/>
<path d="M55.9,637.61H60.4" stroke="#000" stroke-width="2"/>
<path d="M55.9,580.12H60.4" stroke="#000" stroke-width="2"/>
<path d="M55.9,522.62H60.4" stroke="#000" stroke-width="2"/>
<path d="M52.4,953.8H60.4" stroke="#000" stroke-width="2"/>
<text x="45" y="960.39" text-anchor="end" class="tl" style="font-size:19.1px">0</text>
<path d="M52.4,896.31H60.4" stroke="#000" stroke-width="2"/>
<text x="45" y="902.9" text-anchor="end" class="tl" style="font-size:19.1px">10</text>
<path d="M52.4,838.82H60.4" stroke="#000" stroke-width="2"/>
<text x="45" y="845.41" text-anchor="end" class="tl" style="font-size:19.1px">20</text>
<path d="M52.4,781.33H60.4" stroke="#000" stroke-width="2"/>
<text x="45" y="787.92" text-anchor="end" class="tl" style="font-size:19.1px">30</text>
<path d="M52.4,723.84H60.4" stroke="#000" stroke-width="2"/>
<text x="45" y="730.43" text-anchor="end" class="tl" style="font-size:19.1px">40</text>
<path d="M52.4,666.35H60.4" stroke="#000" stroke-width="2"/>
<text x="45" y="672.94" text-anchor="end" class="tl" style="font-size:19.1px">50</text>
<path d="M52.4,608.86H60.4" stroke="#000" stroke-width="2"/>
<text x="45" y="615.45" text-anchor="end" class="tl" style="font-size:19.1px">60</text>
<path d="M52.4,551.37H60.4" stroke="#000" stroke-width="2"/>
<text x="45" y="557.96" text-anchor="end" class="tl" style="font-size:19.1px">70</text>
<path d="M60.45,968.7V976.7" stroke="#000" stroke-width="2"/>
<text x="60.45" y="997.54" text-anchor="middle" class="tl" style="font-size:18.0px">-200</text>
<path d="M89.52,968.7V973.2" stroke="#000" stroke-width="2"/>
<path d="M118.6,968.7V976.7" stroke="#000" stroke-width="2"/>
<text x="118.6" y="997.54" text-anchor="middle" class="tl" style="font-size:18.0px">0</text>
<path d="M147.67,968.7V973.2" stroke="#000" stroke-width="2"/>
<path d="M176.75,968.7V976.7" stroke="#000" stroke-width="2"/>
<text x="176.75" y="997.54" text-anchor="middle" class="tl" style="font-size:18.0px">200</text>
<path d="M205.82,968.7V973.2" stroke="#000" stroke-width="2"/>
<path d="M234.9,968.7V976.7" stroke="#000" stroke-width="2"/>
<text x="234.9" y="997.54" text-anchor="middle" class="tl" style="font-size:18.0px">400</text>
<path d="M263.98,968.7V973.2" stroke="#000" stroke-width="2"/>
<path d="M293.05,968.7V976.7" stroke="#000" stroke-width="2"/>
<text x="293.05" y="997.54" text-anchor="middle" class="tl" style="font-size:18.0px">600</text>
<path d="M322.12,968.7V973.2" stroke="#000" stroke-width="2"/>
<path d="M351.2,968.7V976.7" stroke="#000" stroke-width="2"/>
<text x="351.2" y="997.54" text-anchor="middle" class="tl" style="font-size:18.0px">800</text>
<path d="M380.27,968.7V973.2" stroke="#000" stroke-width="2"/>
<path d="M409.35,968.7V976.7" stroke="#000" stroke-width="2"/>
<text x="409.35" y="997.54" text-anchor="middle" class="tl" style="font-size:18.0px">1000</text>
<path d="M438.42,968.7V973.2" stroke="#000" stroke-width="2"/>
<path d="M467.5,968.7V976.7" stroke="#000" stroke-width="2"/>
<text x="467.5" y="997.54" text-anchor="middle" class="tl" style="font-size:18.0px">1200</text>
<path d="M496.58,968.7V973.2" stroke="#000" stroke-width="2"/>
<path d="M525.65,968.7V976.7" stroke="#000" stroke-width="2"/>
<text x="525.65" y="997.54" text-anchor="middle" class="tl" style="font-size:18.0px">1400</text>
<path d="M554.73,968.7V973.2" stroke="#000" stroke-width="2"/>
<path d="M583.8,968.7V976.7" stroke="#000" stroke-width="2"/>
<text x="583.8" y="997.54" text-anchor="middle" class="tl" style="font-size:18.0px">1600</text>
<path d="M612.88,968.7V973.2" stroke="#000" stroke-width="2"/>
<text x="336.94" y="1033.7" text-anchor="middle" class="at" style="font-size:23.1px">Width (nm)</text>
<text transform="translate(16.5,745.4) rotate(-90)" x="0" y="0" text-anchor="middle" class="at" style="font-size:23.0px">Height (nm)</text>
<text x="79.5" y="939.3" class="pl">(b)</text>
<defs><clipPath id="clipb"><rect x="93" y="565" width="198" height="198"/></clipPath><filter id="cmb" x="93" y="565" width="198" height="198" filterUnits="userSpaceOnUse" color-interpolation-filters="sRGB"><feTurbulence type="fractalNoise" baseFrequency="0.08" numOctaves="2" seed="5" result="n"/><feColorMatrix in="n" type="matrix" values="0.1 0 0 0 0  0.1 0 0 0 0  0.1 0 0 0 0  0 0 0 0 1" result="ng"/><feComposite in="SourceGraphic" in2="ng" operator="arithmetic" k2="1" k3="1" k4="-0.05" result="s"/><feComponentTransfer in="s"><feFuncR type="table" tableValues="0 0.02 0.05 0.07 0.09 0.11 0.14 0.17 0.2 0.22 0.25 0.29 0.33 0.38 0.42 0.48 0.55 0.61 0.67 0.74 0.8 0.85 0.86 0.87 0.88 0.89 0.9 0.91 0.91 0.92 0.93 0.94 0.94 0.95 0.96 0.96 0.97 0.98 0.98 0.99 0.99 1 1 1 1 1 1 1 1 1 1 1 1 1 1 1 1 1 1 1 1 0.99 0.98 0.97 0.93 0.9 0.86 0.82 0.77 0.73 0.69 0.64 0.59 0.55 0.5 0.45 0.4 0.36 0.33 0.29 0.26 0.22 0.19 0.19 0.19 0.19 0.19 0.19 0.19 0.19 0.19 0.19 0.19 0.19 0.19 0.2 0.2 0.21 0.22 0.22 0.23 0.24 0.25 0.29 0.32 0.36 0.43 0.49 0.53 0.56 0.6 0.65 0.7 0.75 0.81 0.87 0.9 0.92 0.93 0.94 0.94 0.94 0.94 0.94 0.94 0.94 0.95 0.95 0.95"/><feFuncG type="table" tableValues="0 0.01 0.02 0.03 0.05 0.06 0.07 0.07 0.08 0.09 0.09 0.1 0.11 0.12 0.13 0.15 0.16 0.18 0.21 0.24 0.26 0.28 0.28 0.27 0.27 0.26 0.26 0.25 0.25 0.25 0.25 0.25 0.25 0.25 0.24 0.24 0.24 0.24 0.24 0.24 0.24 0.24 0.25 0.26 0.27 0.29 0.33 0.37 0.4 0.44 0.48 0.52 0.56 0.59 0.63 0.66 0.69 0.74 0.78 0.83 0.87 0.89 0.9 0.91 0.91 0.91 0.91 0.91 0.91 0.91 0.91 0.91 0.91 0.91 0.91 0.92 0.92 0.93 0.93 0.94 0.94 0.94 0.94 0.91 0.88 0.84 0.81 0.77 0.75 0.73 0.71 0.69 0.67 0.65 0.62 0.6 0.57 0.55 0.52 0.5 0.49 0.5 0.5 0.51 0.52 0.53 0.57 0.6 0.62 0.64 0.66 0.71 0.75 0.79 0.84 0.88 0.91 0.92 0.93 0.94 0.94 0.94 0.94 0.94 0.94 0.94 0.95 0.95 0.95"/><feFuncB type="table" tableValues="0 0.02 0.05 0.07 0.09 0.11 0.15 0.19 0.23 0.27 0.31 0.38 0.44 0.5 0.57 0.64 0.72 0.79 0.85 0.91 0.96 1 0.98 0.96 0.94 0.92 0.9 0.89 0.86 0.83 0.81 0.78 0.75 0.72 0.69 0.67 0.64 0.61 0.58 0.55 0.53 0.5 0.47 0.45 0.43 0.4 0.39 0.37 0.35 0.34 0.33 0.32 0.31 0.31 0.3 0.29 0.28 0.28 0.28 0.28 0.28 0.29 0.3 0.31 0.31 0.31 0.31 0.31 0.31 0.31 0.31 0.31 0.31 0.31 0.31 0.33 0.34 0.35 0.36 0.37 0.39 0.41 0.44 0.47 0.5 0.54 0.57 0.61 0.64 0.67 0.69 0.72 0.75 0.79 0.82 0.85 0.87 0.9 0.92 0.94 0.96 0.97 0.97 0.97 0.96 0.96 0.95 0.94 0.94 0.94 0.94 0.95 0.95 0.96 0.96 0.96 0.95 0.95 0.95 0.95 0.95 0.95 0.95 0.95 0.95 0.95 0.95 0.95 0.95"/><feFuncA type="linear" slope="0" intercept="1"/></feComponentTransfer></filter><filter id="blbw" x="-20%" y="-20%" width="140%" height="140%"><feGaussianBlur stdDeviation="2.2"/></filter><filter id="blbd" x="-50%" y="-50%" width="200%" height="200%"><feGaussianBlur stdDeviation="1.8"/></filter><filter id="blbs" x="-20%" y="-20%" width="140%" height="140%"><feGaussianBlur stdDeviation="1.8"/></filter><filter id="blbp" x="-50%" y="-50%" width="200%" height="200%"><feGaussianBlur stdDeviation="1"/></filter><linearGradient id="cbgb" x1="0" y1="0" x2="0" y2="1"><stop offset="0" stop-color="#f2f2f2"/><stop offset="0.08" stop-color="#eeeef2"/><stop offset="0.1" stop-color="#e0e4f4"/><stop offset="0.11" stop-color="#c4ccf4"/><stop offset="0.14" stop-color="#9aaaf0"/><stop offset="0.17" stop-color="#7c98f0"/><stop offset="0.18" stop-color="#5a88f4"/><stop offset="0.2" stop-color="#4080f8"/><stop offset="0.22" stop-color="#3a7cf4"/><stop offset="0.25" stop-color="#3490e0"/><stop offset="0.27" stop-color="#30a0d0"/><stop offset="0.29" stop-color="#30b0b8"/><stop offset="0.32" stop-color="#30c0a0"/><stop offset="0.34" stop-color="#30d888"/><stop offset="0.36" stop-color="#30f070"/><stop offset="0.38" stop-color="#48f060"/><stop offset="0.4" stop-color="#60ec58"/><stop offset="0.42" stop-color="#80e850"/><stop offset="0.44" stop-color="#a0e850"/><stop offset="0.46" stop-color="#c0e850"/><stop offset="0.49" stop-color="#e0e850"/><stop offset="0.51" stop-color="#f8e850"/><stop offset="0.53" stop-color="#ffe048"/><stop offset="0.56" stop-color="#ffb048"/><stop offset="0.59" stop-color="#ff9050"/><stop offset="0.62" stop-color="#ff6858"/><stop offset="0.65" stop-color="#ff4868"/><stop offset="0.68" stop-color="#ff3c80"/><stop offset="0.72" stop-color="#f83ca0"/><stop offset="0.75" stop-color="#f040c0"/><stop offset="0.79" stop-color="#e840e0"/><stop offset="0.84" stop-color="#d848ff"/><stop offset="0.86" stop-color="#a030d0"/><stop offset="0.89" stop-color="#6a2090"/><stop offset="0.92" stop-color="#401850"/><stop offset="0.96" stop-color="#201020"/><stop offset="1" stop-color="#000000"/></linearGradient></defs>
<g filter="url(#cmb)"><g clip-path="url(#clipb)">
<rect x="93" y="565" width="198" height="198" fill="#cbcbcb"/>
<g filter="url(#blbw)">
<ellipse cx="142.5" cy="636.28" rx="14.16" ry="8.24" fill="#f2f2f2"/>
<ellipse cx="129.63" cy="614.5" rx="7.21" ry="12.87" fill="#e6e6e6"/>
<ellipse cx="166.26" cy="588.76" rx="8.24" ry="23.17" transform="rotate(-20 166.26 588.76)" fill="#e3e3e3"/>
<ellipse cx="101.91" cy="659.05" rx="5.66" ry="7.21" fill="#e3e3e3"/>
<ellipse cx="249.42" cy="577.87" rx="12.87" ry="15.96" fill="#e6e6e6"/>
<ellipse cx="206.85" cy="593.71" rx="14.16" ry="9.78" fill="#e3e3e3"/>
<ellipse cx="212.79" cy="633.31" rx="19.31" ry="15.44" fill="#e3e3e3"/>
<ellipse cx="270.21" cy="636.28" rx="12.87" ry="11.58" fill="#e6e6e6"/>
<ellipse cx="283.08" cy="598.66" rx="7.72" ry="7.72" fill="#e3e3e3"/>
<ellipse cx="150.42" cy="692.71" rx="15.44" ry="21.88" fill="#e8e8e8"/>
<ellipse cx="118.74" cy="704.59" rx="8.24" ry="6.44" fill="#e6e6e6"/>
<ellipse cx="147.45" cy="738.25" rx="11.58" ry="9.01" fill="#e6e6e6"/>
<ellipse cx="206.85" cy="699.64" rx="5.66" ry="14.16" fill="#f5f5f5"/>
<ellipse cx="246.45" cy="691.72" rx="14.16" ry="9.01" fill="#f7f7f7"/>
<ellipse cx="201.9" cy="737.26" rx="5.66" ry="18.02" fill="#e3e3e3"/>
<ellipse cx="262.29" cy="752.11" rx="9.01" ry="5.66" fill="#e6e6e6"/>
<ellipse cx="271.2" cy="676.87" rx="5.15" ry="3.86" fill="#e6e6e6"/>
<ellipse cx="104.88" cy="576.88" rx="7.72" ry="7.72" fill="#e0e0e0"/>
<ellipse cx="178.14" cy="673.9" rx="10.3" ry="7.72" fill="#e0e0e0"/>
<ellipse cx="231.6" cy="656.08" rx="9.01" ry="7.72" fill="#e0e0e0"/>
<ellipse cx="102.9" cy="755.08" rx="9.01" ry="6.44" fill="#e3e3e3"/>
<ellipse cx="162.3" cy="675.88" rx="7.72" ry="6.44" fill="#e0e0e0"/>
<ellipse cx="257.34" cy="729.34" rx="9.01" ry="7.72" fill="#e0e0e0"/>
<ellipse cx="112.8" cy="588.76" rx="7.72" ry="6.44" fill="#e0e0e0"/>
<ellipse cx="227.64" cy="606.58" rx="7.72" ry="6.44" fill="#e0e0e0"/>
</g>
<g filter="url(#blbd)">
<circle cx="141.22" cy="664.44" r="2.1" fill="#9d9d9d"/>
<circle cx="138.82" cy="674.36" r="3.62" fill="#8e8e8e"/>
<circle cx="284.64" cy="709.83" r="2.87" fill="#969696"/>
<circle cx="209.04" cy="636.32" r="3.76" fill="#8e8e8e"/>
<circle cx="287.8" cy="733.81" r="1.84" fill="#898989"/>
<circle cx="187.6" cy="726.29" r="2.13" fill="#959595"/>
<circle cx="165.71" cy="720.56" r="3.62" fill="#9b9b9b"/>
<circle cx="131.27" cy="715.54" r="2.65" fill="#9d9d9d"/>
<circle cx="186.08" cy="744.52" r="3.73" fill="#9d9d9d"/>
<circle cx="256.56" cy="727.17" r="2.95" fill="#868686"/>
<circle cx="288.27" cy="656.91" r="1.81" fill="#8f8f8f"/>
<circle cx="175.17" cy="604.77" r="3.68" fill="#838383"/>
<circle cx="272.02" cy="673.85" r="2.14" fill="#8c8c8c"/>
<circle cx="182.16" cy="588.29" r="3.29" fill="#979797"/>
<circle cx="287.5" cy="729.32" r="3.34" fill="#a3a3a3"/>
<circle cx="277.51" cy="692.51" r="2.85" fill="#929292"/>
<circle cx="254.14" cy="748.21" r="3.43" fill="#9d9d9d"/>
<circle cx="98.42" cy="648.28" r="1.95" fill="#949494"/>
<circle cx="207.86" cy="676.02" r="3.48" fill="#888888"/>
<circle cx="237.31" cy="681.11" r="2.2" fill="#a2a2a2"/>
<circle cx="103.61" cy="657.05" r="2.84" fill="#959595"/>
<circle cx="287.44" cy="674.19" r="3.54" fill="#8a8a8a"/>
<circle cx="188.32" cy="594.08" r="3.05" fill="#8f8f8f"/>
<circle cx="248.4" cy="587.26" r="2.7" fill="#a2a2a2"/>
<circle cx="95.23" cy="695.74" r="3.12" fill="#999999"/>
<circle cx="203.36" cy="664.15" r="3.68" fill="#8a8a8a"/>
<circle cx="232.34" cy="697.36" r="3.22" fill="#919191"/>
<circle cx="96.33" cy="718.54" r="2.33" fill="#9b9b9b"/>
<circle cx="288.45" cy="718.75" r="2.58" fill="#9e9e9e"/>
<circle cx="169.41" cy="628.36" r="2.91" fill="#979797"/>
<circle cx="228.81" cy="674.42" r="2.59" fill="#9a9a9a"/>
<circle cx="157.24" cy="685.07" r="1.79" fill="#848484"/>
<circle cx="264.76" cy="607.67" r="2.6" fill="#818181"/>
<circle cx="244.48" cy="630.03" r="1.88" fill="#898989"/>
<circle cx="277.25" cy="714.61" r="1.79" fill="#a2a2a2"/>
<circle cx="107.32" cy="660.87" r="2.84" fill="#9b9b9b"/>
<circle cx="121.01" cy="728.34" r="2.32" fill="#9a9a9a"/>
<circle cx="276.52" cy="681.84" r="1.79" fill="#979797"/>
<circle cx="179.18" cy="709.63" r="3.34" fill="#838383"/>
<circle cx="205.43" cy="692.41" r="3.62" fill="#959595"/>
<circle cx="214.75" cy="717.22" r="2.1" fill="#9e9e9e"/>
<circle cx="208.05" cy="690.96" r="2.09" fill="#929292"/>
<circle cx="174.05" cy="605.72" r="3.65" fill="#9e9e9e"/>
<circle cx="183.87" cy="579.88" r="3.73" fill="#848484"/>
<circle cx="193.36" cy="676.92" r="3.48" fill="#979797"/>
<circle cx="212.52" cy="666.55" r="3.72" fill="#9d9d9d"/>
<circle cx="163.53" cy="722.38" r="3.66" fill="#919191"/>
<circle cx="109.79" cy="578.28" r="3.7" fill="#878787"/>
<circle cx="252.22" cy="603.24" r="2.23" fill="#858585"/>
<circle cx="254.45" cy="583.15" r="2.72" fill="#9c9c9c"/>
<circle cx="197.36" cy="566.83" r="1.81" fill="#9d9d9d"/>
<circle cx="152.45" cy="581.47" r="2.82" fill="#9b9b9b"/>
<circle cx="153.01" cy="591.52" r="2.15" fill="#909090"/>
<circle cx="247.4" cy="581.42" r="3.29" fill="#989898"/>
<circle cx="203.45" cy="640.81" r="1.85" fill="#919191"/>
<circle cx="174.49" cy="699.46" r="1.91" fill="#858585"/>
<circle cx="96.7" cy="661.36" r="1.9" fill="#939393"/>
<circle cx="179.52" cy="630.49" r="2.16" fill="#a0a0a0"/>
<circle cx="188.15" cy="585.23" r="2.93" fill="#9b9b9b"/>
<circle cx="189.66" cy="741.46" r="3.44" fill="#989898"/>
<circle cx="98.19" cy="644.65" r="2.79" fill="#868686"/>
<circle cx="191.98" cy="697.28" r="3.27" fill="#9b9b9b"/>
<circle cx="241" cy="624.39" r="2.99" fill="#919191"/>
<circle cx="243.17" cy="589.11" r="2.13" fill="#999999"/>
<circle cx="236.35" cy="610.44" r="3.3" fill="#9b9b9b"/>
<circle cx="221.03" cy="656.38" r="1.9" fill="#888888"/>
<circle cx="244.58" cy="749.5" r="2.11" fill="#818181"/>
<circle cx="162.15" cy="751.19" r="2.21" fill="#a1a1a1"/>
<circle cx="248.24" cy="731.36" r="3.74" fill="#989898"/>
<circle cx="132.15" cy="650.84" r="2.57" fill="#979797"/>
<circle cx="162.97" cy="709.81" r="1.84" fill="#878787"/>
<circle cx="136.95" cy="598.8" r="3.27" fill="#9f9f9f"/>
<circle cx="111.73" cy="659.42" r="1.8" fill="#888888"/>
<circle cx="121.63" cy="702.09" r="3.44" fill="#9e9e9e"/>
<circle cx="147.4" cy="646.12" r="2.24" fill="#979797"/>
<circle cx="138.31" cy="716.76" r="2.71" fill="#939393"/>
<circle cx="265.63" cy="747.98" r="2.31" fill="#999999"/>
<circle cx="147.03" cy="567.14" r="3.47" fill="#868686"/>
<circle cx="148.7" cy="707.19" r="3.47" fill="#8d8d8d"/>
<circle cx="234.76" cy="643.45" r="1.82" fill="#939393"/>
<circle cx="127.19" cy="606.53" r="2.59" fill="#969696"/>
<circle cx="136.54" cy="608.36" r="2.91" fill="#898989"/>
<circle cx="204.01" cy="698.43" r="2.39" fill="#a0a0a0"/>
<circle cx="284.51" cy="572.77" r="1.91" fill="#838383"/>
<circle cx="190.3" cy="624.59" r="3.23" fill="#a3a3a3"/>
<circle cx="182.77" cy="619.24" r="2.22" fill="#a0a0a0"/>
<circle cx="254.34" cy="739.03" r="3.76" fill="#909090"/>
<circle cx="240.94" cy="631.59" r="2.06" fill="#989898"/>
<circle cx="166.41" cy="671.85" r="2.91" fill="#888888"/>
<circle cx="97.34" cy="712.34" r="3.29" fill="#9b9b9b"/>
<circle cx="157.78" cy="631.28" r="3.02" fill="#8d8d8d"/>
<circle cx="240.65" cy="667.88" r="2.83" fill="#9e9e9e"/>
<circle cx="116.25" cy="606.64" r="2.82" fill="#9e9e9e"/>
<circle cx="274.78" cy="738.63" r="2.17" fill="#8b8b8b"/>
<circle cx="141.91" cy="610.01" r="2.14" fill="#858585"/>
<circle cx="254.72" cy="668.56" r="3.71" fill="#969696"/>
<circle cx="243.18" cy="749.68" r="2.87" fill="#888888"/>
<circle cx="173.62" cy="652.63" r="2.1" fill="#939393"/>
<circle cx="246.09" cy="629.63" r="1.83" fill="#838383"/>
<circle cx="165.22" cy="604.33" r="2.71" fill="#a2a2a2"/>
<circle cx="139" cy="634.88" r="2.97" fill="#858585"/>
<circle cx="265.36" cy="759.49" r="1.81" fill="#8e8e8e"/>
<circle cx="252.94" cy="568.75" r="2.88" fill="#9c9c9c"/>
<circle cx="281.76" cy="602.91" r="3.62" fill="#959595"/>
<circle cx="239.17" cy="610.11" r="1.88" fill="#919191"/>
<circle cx="287.49" cy="615.24" r="3.73" fill="#a3a3a3"/>
<circle cx="186.27" cy="655.01" r="3.65" fill="#808080"/>
<circle cx="207.64" cy="599.11" r="3.25" fill="#919191"/>
<circle cx="214.85" cy="641.96" r="3.51" fill="#9d9d9d"/>
<circle cx="98.01" cy="676.97" r="2.21" fill="#a1a1a1"/>
<circle cx="273.69" cy="721.72" r="3.11" fill="#a0a0a0"/>
<circle cx="142.07" cy="623.1" r="3.59" fill="#979797"/>
<circle cx="150.78" cy="732.51" r="3.1" fill="#808080"/>
<circle cx="278.65" cy="711.27" r="3.23" fill="#828282"/>
<circle cx="96.14" cy="580.61" r="3.29" fill="#818181"/>
<circle cx="149.93" cy="629.75" r="2.59" fill="#8a8a8a"/>
<circle cx="112.3" cy="667.62" r="1.91" fill="#8e8e8e"/>
<circle cx="149.35" cy="582.25" r="1.96" fill="#9a9a9a"/>
<circle cx="107.84" cy="664.34" r="3.01" fill="#a0a0a0"/>
<circle cx="213.92" cy="719.95" r="3.51" fill="#848484"/>
<circle cx="103.29" cy="725.63" r="2.32" fill="#909090"/>
<circle cx="156.45" cy="596.24" r="2.56" fill="#909090"/>
<circle cx="256.2" cy="609.25" r="1.98" fill="#959595"/>
<circle cx="263.95" cy="647.6" r="2.36" fill="#9f9f9f"/>
<circle cx="258.28" cy="571.27" r="2" fill="#959595"/>
<circle cx="172.23" cy="662.16" r="2.6" fill="#848484"/>
<circle cx="244.26" cy="740.93" r="2.99" fill="#8a8a8a"/>
<circle cx="231.29" cy="621.9" r="2" fill="#959595"/>
<circle cx="206.86" cy="741.81" r="2.6" fill="#848484"/>
<circle cx="205.59" cy="575.96" r="2.33" fill="#a2a2a2"/>
<circle cx="166.96" cy="636.34" r="3.68" fill="#838383"/>
<circle cx="245" cy="709.76" r="3.59" fill="#848484"/>
<circle cx="182.2" cy="639.23" r="1.81" fill="#858585"/>
<circle cx="120.72" cy="578.99" r="3.17" fill="#999999"/>
<circle cx="170.04" cy="727.35" r="3.43" fill="#9d9d9d"/>
<circle cx="133.61" cy="635.95" r="2.08" fill="#818181"/>
<circle cx="288.57" cy="676.62" r="3.1" fill="#939393"/>
<circle cx="147.74" cy="568.06" r="2.37" fill="#8e8e8e"/>
<circle cx="104.61" cy="615.71" r="3.55" fill="#828282"/>
<circle cx="211.46" cy="647.95" r="3.18" fill="#959595"/>
<circle cx="173.34" cy="762.77" r="3.32" fill="#8f8f8f"/>
<circle cx="261.16" cy="718.88" r="3.73" fill="#8f8f8f"/>
<circle cx="133.09" cy="663.57" r="3.08" fill="#8f8f8f"/>
<circle cx="112.64" cy="663.98" r="1.88" fill="#818181"/>
<circle cx="228.59" cy="614.63" r="3.58" fill="#a0a0a0"/>
<circle cx="242.51" cy="588.25" r="2.23" fill="#919191"/>
<circle cx="204.98" cy="656.35" r="1.78" fill="#868686"/>
<circle cx="276.27" cy="646.26" r="2.8" fill="#a0a0a0"/>
<circle cx="138.95" cy="645.91" r="3.07" fill="#898989"/>
<circle cx="176.49" cy="716.28" r="3.36" fill="#9a9a9a"/>
<circle cx="250.61" cy="567.51" r="1.93" fill="#959595"/>
<circle cx="238.83" cy="575.41" r="2.59" fill="#939393"/>
<circle cx="162.32" cy="569.18" r="2.86" fill="#949494"/>
<circle cx="204.85" cy="599.93" r="2.4" fill="#818181"/>
<circle cx="198.86" cy="607.17" r="2.77" fill="#a0a0a0"/>
<circle cx="186.1" cy="617.94" r="3.15" fill="#9a9a9a"/>
<circle cx="145.58" cy="671.94" r="3.28" fill="#858585"/>
<circle cx="233.77" cy="623.92" r="2.59" fill="#949494"/>
<circle cx="287.35" cy="612.12" r="2.33" fill="#a3a3a3"/>
<circle cx="109.89" cy="612.06" r="3.13" fill="#919191"/>
<circle cx="249.41" cy="601.58" r="3.38" fill="#8a8a8a"/>
<circle cx="123.75" cy="676.25" r="2.28" fill="#8d8d8d"/>
<circle cx="266.63" cy="730.87" r="3.13" fill="#949494"/>
<circle cx="96.13" cy="633.46" r="3.31" fill="#9b9b9b"/>
<circle cx="94.25" cy="652.79" r="3.15" fill="#949494"/>
<circle cx="180.81" cy="624.06" r="2.74" fill="#818181"/>
<circle cx="273.04" cy="575.39" r="2.15" fill="#a2a2a2"/>
<circle cx="206.37" cy="591.08" r="2.26" fill="#909090"/>
<circle cx="114.13" cy="566.33" r="1.88" fill="#828282"/>
<circle cx="144.09" cy="684.4" r="2.15" fill="#919191"/>
<circle cx="161.9" cy="658.02" r="2.75" fill="#8a8a8a"/>
<circle cx="217.03" cy="750.43" r="3" fill="#a1a1a1"/>
<circle cx="192.78" cy="671.14" r="2.53" fill="#8f8f8f"/>
<circle cx="186.12" cy="761.47" r="2.74" fill="#979797"/>
<circle cx="244.81" cy="583.17" r="1.84" fill="#8e8e8e"/>
<circle cx="133.16" cy="652.22" r="2.21" fill="#939393"/>
<circle cx="178.37" cy="608.24" r="3.25" fill="#a2a2a2"/>
<circle cx="148.67" cy="669.44" r="2.49" fill="#a0a0a0"/>
<circle cx="138.79" cy="568.45" r="3.57" fill="#9a9a9a"/>
<circle cx="186.59" cy="573.63" r="2.43" fill="#919191"/>
<circle cx="205.16" cy="605.57" r="2.45" fill="#848484"/>
<circle cx="130.01" cy="601.24" r="2.59" fill="#949494"/>
<circle cx="253.31" cy="594.7" r="3.52" fill="#888888"/>
<circle cx="99.68" cy="689.04" r="3.56" fill="#a1a1a1"/>
<circle cx="190.8" cy="755.44" r="3.58" fill="#909090"/>
<circle cx="223.72" cy="711.23" r="3.39" fill="#828282"/>
<circle cx="172.33" cy="568.67" r="1.87" fill="#909090"/>
<circle cx="118.15" cy="571.7" r="3.74" fill="#838383"/>
<circle cx="253.76" cy="657.44" r="2.64" fill="#939393"/>
<circle cx="219.08" cy="592.47" r="3.63" fill="#a1a1a1"/>
<circle cx="246.52" cy="651.8" r="2.99" fill="#818181"/>
<circle cx="169.66" cy="694.52" r="3.02" fill="#9e9e9e"/>
<circle cx="132.1" cy="753.09" r="1.87" fill="#848484"/>
<circle cx="253.53" cy="567.99" r="3.75" fill="#989898"/>
<circle cx="146.22" cy="650.89" r="1.97" fill="#919191"/>
<circle cx="121.54" cy="714.61" r="3.66" fill="#939393"/>
<circle cx="176.19" cy="725.55" r="3.6" fill="#8a8a8a"/>
<circle cx="232.12" cy="754.15" r="3.08" fill="#848484"/>
<circle cx="266.15" cy="594.12" r="2.51" fill="#898989"/>
<circle cx="167.15" cy="722.46" r="2.11" fill="#8f8f8f"/>
<circle cx="176.62" cy="729.58" r="2.64" fill="#8e8e8e"/>
<circle cx="136.78" cy="677.27" r="3.32" fill="#898989"/>
<circle cx="236.71" cy="610.35" r="2.14" fill="#828282"/>
<circle cx="137.51" cy="639.59" r="2.35" fill="#909090"/>
<circle cx="222.49" cy="702.06" r="1.8" fill="#878787"/>
<circle cx="220.91" cy="747.77" r="2.03" fill="#949494"/>
<circle cx="123.04" cy="754.69" r="3.73" fill="#9a9a9a"/>
<circle cx="203.33" cy="723.26" r="3.46" fill="#8b8b8b"/>
<circle cx="272.24" cy="667.69" r="2.1" fill="#838383"/>
<circle cx="186.17" cy="565.81" r="3.29" fill="#8b8b8b"/>
<circle cx="260.89" cy="726.73" r="2.66" fill="#a2a2a2"/>
<circle cx="171.3" cy="615.31" r="3.1" fill="#a1a1a1"/>
<circle cx="256.31" cy="636.44" r="2.16" fill="#929292"/>
<circle cx="285.91" cy="634.67" r="2.33" fill="#a3a3a3"/>
<circle cx="255.58" cy="656.94" r="2.97" fill="#838383"/>
<circle cx="210.81" cy="669.17" r="2.22" fill="#888888"/>
<circle cx="126.97" cy="582.93" r="2.84" fill="#8c8c8c"/>
<circle cx="203.49" cy="727.44" r="1.97" fill="#9b9b9b"/>
<circle cx="152.44" cy="728.74" r="2.02" fill="#a1a1a1"/>
<circle cx="198.29" cy="700.06" r="2.7" fill="#909090"/>
<circle cx="94.16" cy="595.38" r="3.54" fill="#919191"/>
<circle cx="142.74" cy="737.48" r="3.51" fill="#9c9c9c"/>
<circle cx="166.59" cy="630.86" r="3.19" fill="#8d8d8d"/>
<circle cx="229.23" cy="592.15" r="2.13" fill="#8c8c8c"/>
<circle cx="270.95" cy="618.68" r="2.82" fill="#828282"/>
<circle cx="210.71" cy="594.16" r="2.67" fill="#939393"/>
<circle cx="247.62" cy="715.56" r="2.76" fill="#a2a2a2"/>
<circle cx="172.69" cy="646.89" r="3.48" fill="#9c9c9c"/>
<circle cx="121.09" cy="636.85" r="3.53" fill="#a2a2a2"/>
<circle cx="170.59" cy="572.1" r="3.46" fill="#8b8b8b"/>
<circle cx="188.5" cy="720.38" r="2.26" fill="#9e9e9e"/>
<circle cx="157.37" cy="644.27" r="2.17" fill="#959595"/>
<circle cx="127.14" cy="759.65" r="3.21" fill="#818181"/>
<circle cx="97.08" cy="603.7" r="3.25" fill="#959595"/>
<circle cx="236.7" cy="676.55" r="2.66" fill="#939393"/>
<circle cx="237.01" cy="633.35" r="3.3" fill="#a1a1a1"/>
<circle cx="236.65" cy="630.39" r="2.83" fill="#909090"/>
<circle cx="189.47" cy="574.53" r="1.96" fill="#969696"/>
<circle cx="165.71" cy="645.31" r="3.35" fill="#8a8a8a"/>
<circle cx="178.17" cy="581.34" r="1.99" fill="#a2a2a2"/>
<circle cx="265.57" cy="674.44" r="3.29" fill="#929292"/>
<circle cx="195.46" cy="761.09" r="1.97" fill="#979797"/>
<circle cx="185.11" cy="705.41" r="2.23" fill="#898989"/>
<circle cx="120.48" cy="727.85" r="1.9" fill="#878787"/>
<circle cx="169.07" cy="738.54" r="3.15" fill="#9b9b9b"/>
<circle cx="148.26" cy="651.07" r="3.46" fill="#8a8a8a"/>
<circle cx="163.06" cy="620.85" r="2.61" fill="#808080"/>
<circle cx="109.2" cy="579" r="2.64" fill="#979797"/>
<circle cx="260.79" cy="739.21" r="2.19" fill="#919191"/>
<circle cx="197.8" cy="707.66" r="3.21" fill="#8e8e8e"/>
<circle cx="252.38" cy="690.7" r="3.04" fill="#a1a1a1"/>
<circle cx="257.9" cy="589.98" r="3.23" fill="#808080"/>
<circle cx="183.74" cy="634.86" r="3.08" fill="#989898"/>
<circle cx="155.16" cy="603.25" r="1.82" fill="#9e9e9e"/>
<circle cx="254.98" cy="628.6" r="2.29" fill="#848484"/>
<circle cx="259.55" cy="652.07" r="2.06" fill="#8a8a8a"/>
<circle cx="209.16" cy="587.65" r="2.79" fill="#838383"/>
<circle cx="115.35" cy="672.26" r="3.09" fill="#979797"/>
<circle cx="270.06" cy="599.85" r="2.29" fill="#848484"/>
<circle cx="238.27" cy="593.97" r="2.13" fill="#999999"/>
<circle cx="234.35" cy="612.57" r="2.59" fill="#9f9f9f"/>
<circle cx="190.27" cy="691.62" r="2.56" fill="#a0a0a0"/>
<circle cx="204.08" cy="727.67" r="2.95" fill="#848484"/>
<circle cx="93.82" cy="692.8" r="3.29" fill="#888888"/>
<circle cx="252.48" cy="693.13" r="3.2" fill="#919191"/>
<circle cx="204.58" cy="590.22" r="3.29" fill="#959595"/>
<circle cx="202.79" cy="598.38" r="3.68" fill="#909090"/>
<circle cx="242.55" cy="575.44" r="2.19" fill="#888888"/>
<circle cx="211.11" cy="620.86" r="3.76" fill="#979797"/>
<circle cx="243.19" cy="570.88" r="2.63" fill="#999999"/>
<circle cx="159.82" cy="680.57" r="2.53" fill="#999999"/>
<circle cx="220.07" cy="726.7" r="2.12" fill="#909090"/>
<circle cx="173.73" cy="729.75" r="3.37" fill="#9d9d9d"/>
<circle cx="235.07" cy="634.97" r="3.15" fill="#989898"/>
<circle cx="207.09" cy="677.51" r="3.04" fill="#a2a2a2"/>
<circle cx="102.99" cy="625.77" r="3.13" fill="#868686"/>
<circle cx="277.31" cy="709.4" r="2.96" fill="#919191"/>
<circle cx="266.31" cy="616.3" r="2.95" fill="#9d9d9d"/>
<circle cx="98.16" cy="720.36" r="2.74" fill="#888888"/>
<circle cx="133.96" cy="659.14" r="3.46" fill="#909090"/>
<circle cx="249.24" cy="670.86" r="2.87" fill="#8c8c8c"/>
<circle cx="93.77" cy="729.63" r="2.49" fill="#858585"/>
<circle cx="144.48" cy="654.65" r="2.45" fill="#848484"/>
<circle cx="95.13" cy="678.93" r="2.38" fill="#9a9a9a"/>
<circle cx="142.9" cy="679.93" r="2.11" fill="#888888"/>
<circle cx="216.8" cy="602.86" r="2.61" fill="#8d8d8d"/>
<circle cx="163.4" cy="727.71" r="3.58" fill="#969696"/>
<circle cx="215.75" cy="593.73" r="2.1" fill="#8c8c8c"/>
<circle cx="275.84" cy="650.41" r="3.17" fill="#8c8c8c"/>
<circle cx="260.27" cy="732.54" r="3.46" fill="#818181"/>
<circle cx="212.2" cy="577.82" r="2.82" fill="#979797"/>
<circle cx="267.09" cy="592.13" r="2.44" fill="#898989"/>
<circle cx="120.22" cy="574.51" r="2.26" fill="#999999"/>
<circle cx="139.75" cy="706.68" r="2.58" fill="#a3a3a3"/>
<circle cx="132.3" cy="647.64" r="2.38" fill="#8b8b8b"/>
<circle cx="124.41" cy="737.54" r="3" fill="#959595"/>
<circle cx="209.19" cy="598.58" r="1.84" fill="#8c8c8c"/>
<circle cx="120.8" cy="621" r="3.2" fill="#979797"/>
<circle cx="109.58" cy="593.36" r="3.24" fill="#828282"/>
<circle cx="217.31" cy="736.07" r="2.52" fill="#8c8c8c"/>
<circle cx="274.36" cy="711.86" r="2.78" fill="#969696"/>
<circle cx="190.95" cy="665.45" r="3.37" fill="#9c9c9c"/>
<circle cx="285.44" cy="667.37" r="2.1" fill="#8e8e8e"/>
<circle cx="150.55" cy="610.01" r="2.35" fill="#9a9a9a"/>
<circle cx="236.25" cy="603.59" r="2.13" fill="#a1a1a1"/>
<circle cx="116.33" cy="572.26" r="2.04" fill="#9c9c9c"/>
<circle cx="102.15" cy="742.2" r="2.5" fill="#9e9e9e"/>
<circle cx="96.31" cy="565.66" r="1.81" fill="#a2a2a2"/>
<circle cx="281.85" cy="707.74" r="2.63" fill="#a2a2a2"/>
<circle cx="210.9" cy="738.84" r="3.33" fill="#8e8e8e"/>
<circle cx="251.15" cy="712.66" r="1.97" fill="#818181"/>
<circle cx="220.11" cy="582.45" r="2.36" fill="#959595"/>
<circle cx="224.42" cy="616.72" r="2.87" fill="#808080"/>
<circle cx="258.12" cy="598.95" r="3.24" fill="#9e9e9e"/>
<circle cx="108.87" cy="756.51" r="2.65" fill="#838383"/>
<circle cx="101.66" cy="659.39" r="3.15" fill="#878787"/>
<circle cx="258.82" cy="571.86" r="3.43" fill="#898989"/>
<circle cx="176.63" cy="760.5" r="1.94" fill="#858585"/>
<circle cx="127.83" cy="712.54" r="3.04" fill="#959595"/>
<circle cx="164.37" cy="728.82" r="2.54" fill="#9c9c9c"/>
<circle cx="288.49" cy="635.98" r="2.09" fill="#a3a3a3"/>
<circle cx="279.11" cy="756.14" r="3.15" fill="#8a8a8a"/>
<circle cx="256.85" cy="692.85" r="3.32" fill="#838383"/>
<circle cx="128.44" cy="701.29" r="2.35" fill="#828282"/>
<circle cx="234.54" cy="700.22" r="3.7" fill="#9e9e9e"/>
<circle cx="207.9" cy="706.02" r="2.17" fill="#858585"/>
<circle cx="137.26" cy="606.82" r="3.55" fill="#8b8b8b"/>
<circle cx="221.96" cy="701.31" r="3.33" fill="#808080"/>
<circle cx="264.28" cy="621.76" r="3.71" fill="#8c8c8c"/>
<circle cx="97.24" cy="739.99" r="2.08" fill="#9e9e9e"/>
<circle cx="131.12" cy="613.22" r="2.28" fill="#858585"/>
<circle cx="278.23" cy="757.88" r="3.71" fill="#888888"/>
<circle cx="216.02" cy="649.2" r="3.2" fill="#a0a0a0"/>
<circle cx="127.8" cy="715.07" r="2.63" fill="#979797"/>
<circle cx="234.53" cy="753.45" r="3.26" fill="#9e9e9e"/>
<circle cx="204.6" cy="729.98" r="2.64" fill="#838383"/>
<circle cx="117.68" cy="678.53" r="3.16" fill="#9e9e9e"/>
<circle cx="210.79" cy="682.94" r="3.3" fill="#9a9a9a"/>
<circle cx="132.75" cy="601.6" r="1.91" fill="#929292"/>
<circle cx="251.11" cy="640.6" r="3.11" fill="#848484"/>
<circle cx="154.69" cy="574.54" r="1.82" fill="#9a9a9a"/>
<circle cx="230.39" cy="691.87" r="3.62" fill="#8b8b8b"/>
<circle cx="174.61" cy="688.36" r="3.24" fill="#888888"/>
<circle cx="216.4" cy="625.99" r="2.13" fill="#989898"/>
<circle cx="221.35" cy="616.87" r="3.74" fill="#8d8d8d"/>
<circle cx="165.2" cy="638.35" r="3.39" fill="#989898"/>
<circle cx="212.15" cy="598.22" r="3.34" fill="#818181"/>
<circle cx="181.1" cy="730.17" r="3.08" fill="#818181"/>
<circle cx="122.89" cy="579.47" r="3.7" fill="#979797"/>
<circle cx="230.86" cy="638.64" r="3.59" fill="#959595"/>
<circle cx="204.03" cy="761.41" r="2.59" fill="#9e9e9e"/>
<circle cx="240.13" cy="719.81" r="2.25" fill="#9a9a9a"/>
<circle cx="134.58" cy="695.81" r="3.31" fill="#979797"/>
<circle cx="255.14" cy="649.48" r="2.08" fill="#999999"/>
<circle cx="167.12" cy="718.46" r="3.07" fill="#8b8b8b"/>
<circle cx="219.27" cy="573.61" r="2.82" fill="#9a9a9a"/>
<circle cx="107.18" cy="704.11" r="3.73" fill="#9a9a9a"/>
<circle cx="221.46" cy="699.52" r="3.19" fill="#969696"/>
<circle cx="229.47" cy="609.54" r="2.2" fill="#8f8f8f"/>
<circle cx="186.45" cy="697.85" r="1.92" fill="#949494"/>
<circle cx="244.77" cy="754.16" r="3.02" fill="#898989"/>
<circle cx="270.85" cy="641.12" r="2.03" fill="#878787"/>
<circle cx="107.14" cy="571.15" r="2.16" fill="#838383"/>
<circle cx="226.82" cy="747.8" r="1.92" fill="#8d8d8d"/>
<circle cx="161.11" cy="706.03" r="3.3" fill="#9c9c9c"/>
<circle cx="284.93" cy="655.93" r="3.2" fill="#9a9a9a"/>
<circle cx="100.71" cy="645.13" r="3.42" fill="#868686"/>
<circle cx="128.42" cy="749.12" r="3.46" fill="#a3a3a3"/>
<circle cx="197.47" cy="665.83" r="2.24" fill="#929292"/>
<circle cx="236.33" cy="665.76" r="3.08" fill="#969696"/>
<circle cx="119.69" cy="689.44" r="2.73" fill="#939393"/>
<circle cx="260.98" cy="688.05" r="2.14" fill="#9d9d9d"/>
<circle cx="131.17" cy="665.61" r="2.67" fill="#8f8f8f"/>
<circle cx="224.38" cy="596.1" r="3.38" fill="#8c8c8c"/>
<circle cx="276.91" cy="691.88" r="2.41" fill="#9a9a9a"/>
<circle cx="117.22" cy="670.75" r="2.36" fill="#858585"/>
<circle cx="153.04" cy="744.25" r="3.07" fill="#808080"/>
<circle cx="129.96" cy="621.88" r="2.64" fill="#838383"/>
<circle cx="271.78" cy="734.93" r="2.09" fill="#888888"/>
<circle cx="154.2" cy="704.19" r="1.87" fill="#a1a1a1"/>
<circle cx="234.33" cy="740.96" r="3.13" fill="#818181"/>
<circle cx="138.73" cy="656.85" r="3.02" fill="#888888"/>
<circle cx="274.5" cy="707.11" r="3.47" fill="#9c9c9c"/>
<circle cx="121.63" cy="638.1" r="3.34" fill="#8a8a8a"/>
<circle cx="242.04" cy="701.41" r="2.17" fill="#898989"/>
<circle cx="286.21" cy="671.74" r="2.52" fill="#8b8b8b"/>
<circle cx="174.7" cy="571.97" r="3.14" fill="#838383"/>
<circle cx="156.18" cy="622.87" r="3.63" fill="#898989"/>
<circle cx="240.49" cy="626.69" r="3.32" fill="#a2a2a2"/>
<circle cx="229.87" cy="577.01" r="2.22" fill="#8e8e8e"/>
<circle cx="190.32" cy="684.95" r="2.44" fill="#979797"/>
<circle cx="113.74" cy="654.46" r="2.89" fill="#919191"/>
<circle cx="282.82" cy="602.16" r="2.94" fill="#9a9a9a"/>
<circle cx="106.76" cy="595.95" r="2.22" fill="#868686"/>
<circle cx="257.99" cy="677.44" r="2" fill="#949494"/>
<circle cx="197.71" cy="721.08" r="3.71" fill="#898989"/>
<circle cx="257.53" cy="605.93" r="3.61" fill="#989898"/>
<circle cx="246.23" cy="683.72" r="2.44" fill="#9c9c9c"/>
<circle cx="271.18" cy="754.7" r="1.9" fill="#9a9a9a"/>
<circle cx="116.27" cy="598.9" r="3.73" fill="#898989"/>
<circle cx="200.99" cy="743.07" r="2.69" fill="#9d9d9d"/>
<circle cx="235.14" cy="613.52" r="3.54" fill="#979797"/>
<circle cx="245.4" cy="609.44" r="3.6" fill="#9a9a9a"/>
<circle cx="269.83" cy="698.01" r="2.3" fill="#8a8a8a"/>
<circle cx="118.31" cy="634.62" r="2.11" fill="#9c9c9c"/>
<circle cx="197.94" cy="737.79" r="2.84" fill="#909090"/>
<circle cx="110.58" cy="617.72" r="3.52" fill="#878787"/>
<circle cx="210.35" cy="701.44" r="1.87" fill="#8b8b8b"/>
<circle cx="166.72" cy="745.48" r="3.22" fill="#969696"/>
<circle cx="236.67" cy="641.47" r="2.43" fill="#8b8b8b"/>
<circle cx="262.94" cy="749.34" r="1.96" fill="#9e9e9e"/>
<circle cx="204.56" cy="594.09" r="2.77" fill="#858585"/>
<circle cx="141.35" cy="642.93" r="1.89" fill="#a3a3a3"/>
<circle cx="98.86" cy="664.66" r="2.78" fill="#888888"/>
<circle cx="178.14" cy="755.36" r="3.63" fill="#999999"/>
<circle cx="264.83" cy="632.31" r="2.15" fill="#808080"/>
<circle cx="100.23" cy="674.28" r="1.96" fill="#929292"/>
<circle cx="277.25" cy="757.17" r="3.12" fill="#989898"/>
<circle cx="254.99" cy="744.84" r="1.89" fill="#9c9c9c"/>
<circle cx="145.24" cy="585.03" r="2.28" fill="#999999"/>
<circle cx="269.51" cy="627.09" r="2.49" fill="#818181"/>
<circle cx="258.94" cy="649.14" r="2" fill="#838383"/>
<circle cx="188.66" cy="632.59" r="2.52" fill="#888888"/>
<circle cx="259.1" cy="758.75" r="3.03" fill="#9f9f9f"/>
<circle cx="94.21" cy="619.12" r="2.73" fill="#a2a2a2"/>
<circle cx="264.33" cy="574.65" r="1.81" fill="#858585"/>
<circle cx="188.19" cy="677.33" r="3.7" fill="#838383"/>
<circle cx="134.81" cy="702.47" r="2.54" fill="#878787"/>
<circle cx="178.42" cy="585.83" r="2.09" fill="#a2a2a2"/>
<circle cx="247.46" cy="604.99" r="3.28" fill="#949494"/>
<circle cx="190.13" cy="627.86" r="2.6" fill="#8c8c8c"/>
<circle cx="213.63" cy="734.18" r="1.83" fill="#9a9a9a"/>
<circle cx="263.09" cy="607.01" r="1.79" fill="#8b8b8b"/>
<circle cx="218.5" cy="742.32" r="3.24" fill="#929292"/>
<circle cx="225.56" cy="733.38" r="2.82" fill="#818181"/>
<circle cx="218.54" cy="699.55" r="2.76" fill="#969696"/>
<circle cx="138.84" cy="760.15" r="3.7" fill="#a3a3a3"/>
<circle cx="102.46" cy="660.06" r="2.15" fill="#858585"/>
<circle cx="279.76" cy="589.34" r="2.15" fill="#828282"/>
<circle cx="157.28" cy="565.58" r="2.55" fill="#999999"/>
<circle cx="200.36" cy="594.53" r="2.71" fill="#909090"/>
<circle cx="264.41" cy="667.71" r="2.78" fill="#a3a3a3"/>
<circle cx="284.71" cy="677.46" r="2.37" fill="#878787"/>
<circle cx="257.79" cy="709.11" r="2.15" fill="#8f8f8f"/>
<circle cx="163.81" cy="627.85" r="2.56" fill="#8e8e8e"/>
<circle cx="259.53" cy="681.15" r="1.93" fill="#9b9b9b"/>
<circle cx="137.31" cy="573.9" r="3.66" fill="#818181"/>
<circle cx="203.94" cy="693.71" r="2.74" fill="#999999"/>
<circle cx="193.97" cy="691.92" r="2.11" fill="#878787"/>
<circle cx="217.48" cy="573.8" r="1.86" fill="#979797"/>
<circle cx="132.64" cy="728.95" r="3.54" fill="#9a9a9a"/>
<circle cx="246.14" cy="748.99" r="3.29" fill="#858585"/>
<circle cx="172.99" cy="751.77" r="2.66" fill="#898989"/>
<circle cx="182.86" cy="684.26" r="3.01" fill="#9c9c9c"/>
<circle cx="233.99" cy="682.13" r="3.1" fill="#8d8d8d"/>
<circle cx="254.48" cy="736.77" r="2.97" fill="#949494"/>
<circle cx="99.78" cy="738.34" r="1.8" fill="#959595"/>
<circle cx="98.7" cy="750.73" r="3.53" fill="#9e9e9e"/>
<circle cx="130.32" cy="735.37" r="2.79" fill="#929292"/>
<circle cx="261.72" cy="715.23" r="1.82" fill="#959595"/>
<circle cx="287.56" cy="751" r="2.59" fill="#9c9c9c"/>
<circle cx="206.3" cy="760.56" r="3.46" fill="#8c8c8c"/>
<circle cx="217.27" cy="761.83" r="3.59" fill="#a2a2a2"/>
<circle cx="229.42" cy="716.16" r="3.47" fill="#8c8c8c"/>
<circle cx="276.41" cy="668.19" r="2.25" fill="#858585"/>
<circle cx="129.07" cy="598.44" r="3.32" fill="#9a9a9a"/>
<circle cx="217.07" cy="637.11" r="3.27" fill="#909090"/>
<circle cx="176.29" cy="623.54" r="3.18" fill="#9b9b9b"/>
<circle cx="189.98" cy="644.9" r="2.52" fill="#989898"/>
<circle cx="246.62" cy="631.29" r="2.99" fill="#9d9d9d"/>
<circle cx="211.99" cy="654.51" r="2.92" fill="#989898"/>
<circle cx="246.37" cy="610.24" r="2.35" fill="#919191"/>
<circle cx="170.38" cy="639.05" r="3.72" fill="#868686"/>
<circle cx="184.47" cy="747.68" r="2.85" fill="#939393"/>
<circle cx="134.72" cy="681.29" r="2.29" fill="#9d9d9d"/>
<circle cx="219.16" cy="586.62" r="2.14" fill="#808080"/>
<circle cx="267.4" cy="582.24" r="2.91" fill="#8e8e8e"/>
<circle cx="128.21" cy="606.73" r="3.29" fill="#a1a1a1"/>
<circle cx="246.46" cy="681.58" r="3.46" fill="#868686"/>
<circle cx="139.25" cy="661.86" r="3.22" fill="#9e9e9e"/>
<circle cx="172.61" cy="712.83" r="2.75" fill="#969696"/>
<circle cx="153.48" cy="672.54" r="2.98" fill="#a0a0a0"/>
<circle cx="163.14" cy="577.52" r="3.42" fill="#959595"/>
<circle cx="212.27" cy="676.06" r="1.84" fill="#9a9a9a"/>
<circle cx="261.25" cy="668.35" r="2.25" fill="#9c9c9c"/>
<circle cx="232.73" cy="760.93" r="3.49" fill="#838383"/>
<circle cx="178.32" cy="603.26" r="3.61" fill="#8f8f8f"/>
<circle cx="144.13" cy="744.85" r="2.37" fill="#a1a1a1"/>
<circle cx="264.73" cy="726.5" r="2.33" fill="#8d8d8d"/>
<circle cx="118.3" cy="604.83" r="3.76" fill="#909090"/>
<circle cx="172.05" cy="676.2" r="3.56" fill="#898989"/>
<circle cx="254.94" cy="683.02" r="2.39" fill="#868686"/>
<circle cx="251.82" cy="747.04" r="2.63" fill="#939393"/>
<circle cx="195.91" cy="570.4" r="3.13" fill="#9d9d9d"/>
<circle cx="243.05" cy="590.86" r="1.93" fill="#a1a1a1"/>
<circle cx="273.8" cy="621.77" r="2.21" fill="#8a8a8a"/>
<circle cx="241.83" cy="689.34" r="2.99" fill="#8b8b8b"/>
<circle cx="229.18" cy="689.16" r="3.69" fill="#929292"/>
<circle cx="139.37" cy="654.63" r="2.57" fill="#898989"/>
<circle cx="190.44" cy="693.08" r="1.91" fill="#838383"/>
<circle cx="192.61" cy="752.45" r="2.41" fill="#a3a3a3"/>
<circle cx="199.03" cy="685.79" r="3.73" fill="#8a8a8a"/>
<circle cx="244.74" cy="678.28" r="2.42" fill="#959595"/>
<circle cx="111.25" cy="614.59" r="3.38" fill="#8b8b8b"/>
<circle cx="161.72" cy="693.1" r="3.49" fill="#848484"/>
<circle cx="256.06" cy="683.95" r="3.24" fill="#9f9f9f"/>
<circle cx="195.21" cy="635.77" r="2.3" fill="#878787"/>
<circle cx="249.74" cy="697.52" r="2.35" fill="#878787"/>
<circle cx="272.35" cy="679.85" r="2.69" fill="#9d9d9d"/>
<circle cx="256.12" cy="608.49" r="2.38" fill="#9e9e9e"/>
<circle cx="105.78" cy="593.09" r="2.27" fill="#808080"/>
<circle cx="275.07" cy="668.21" r="3.24" fill="#8c8c8c"/>
<circle cx="256.18" cy="577.3" r="2.85" fill="#8d8d8d"/>
<circle cx="166.17" cy="586.89" r="2.48" fill="#868686"/>
<circle cx="269.7" cy="632.22" r="2.61" fill="#969696"/>
<circle cx="152.9" cy="665.53" r="3.19" fill="#818181"/>
<circle cx="253.25" cy="640.91" r="1.87" fill="#868686"/>
<circle cx="120.12" cy="667.32" r="2.27" fill="#939393"/>
<circle cx="234.09" cy="581.5" r="2.38" fill="#a2a2a2"/>
<circle cx="270.85" cy="669.97" r="3.11" fill="#868686"/>
<circle cx="197.72" cy="570.05" r="3.6" fill="#939393"/>
<circle cx="180.85" cy="750.05" r="2.36" fill="#909090"/>
<circle cx="100.67" cy="703.98" r="2.89" fill="#8e8e8e"/>
<circle cx="108.13" cy="665.67" r="1.83" fill="#818181"/>
<circle cx="245.87" cy="668.6" r="3.49" fill="#939393"/>
<circle cx="196.37" cy="727.4" r="1.87" fill="#a3a3a3"/>
<circle cx="113.57" cy="631.04" r="3.71" fill="#989898"/>
<circle cx="250.41" cy="612.89" r="2.7" fill="#8c8c8c"/>
<circle cx="159.75" cy="617.79" r="3.16" fill="#a3a3a3"/>
<circle cx="130.49" cy="751.97" r="2.13" fill="#838383"/>
<circle cx="144.61" cy="715.58" r="2.41" fill="#9f9f9f"/>
<circle cx="136.93" cy="655.09" r="2.83" fill="#999999"/>
<circle cx="157.67" cy="712.35" r="2.22" fill="#a3a3a3"/>
<circle cx="185.35" cy="655.48" r="2.91" fill="#848484"/>
<circle cx="221.76" cy="584.33" r="2.92" fill="#969696"/>
<circle cx="287.69" cy="696.3" r="3.35" fill="#9a9a9a"/>
<circle cx="274.02" cy="576.93" r="2.43" fill="#8a8a8a"/>
<circle cx="245.09" cy="660.5" r="2.86" fill="#909090"/>
<circle cx="254.27" cy="666.82" r="2.13" fill="#a3a3a3"/>
<circle cx="228.32" cy="599.46" r="3.67" fill="#838383"/>
<circle cx="145.69" cy="746.15" r="2.32" fill="#818181"/>
<circle cx="222.78" cy="736.95" r="3.28" fill="#868686"/>
<circle cx="119.8" cy="602.6" r="3.44" fill="#848484"/>
<circle cx="289.08" cy="675.31" r="2.09" fill="#949494"/>
<circle cx="238.73" cy="573.4" r="2.65" fill="#848484"/>
<circle cx="135.01" cy="688.29" r="2.24" fill="#9f9f9f"/>
<circle cx="148.9" cy="610.85" r="2.35" fill="#858585"/>
<circle cx="220.35" cy="584.96" r="2.15" fill="#848484"/>
<circle cx="261.34" cy="624.28" r="3.36" fill="#9a9a9a"/>
<circle cx="159.29" cy="593.45" r="3.18" fill="#838383"/>
<circle cx="194.2" cy="666.94" r="2.16" fill="#8e8e8e"/>
<circle cx="164.16" cy="675.58" r="2.21" fill="#979797"/>
<circle cx="228.02" cy="683.37" r="2.76" fill="#9b9b9b"/>
<circle cx="116.49" cy="738.83" r="2.2" fill="#9a9a9a"/>
<circle cx="274.86" cy="668.93" r="1.84" fill="#909090"/>
<circle cx="142.85" cy="682.57" r="1.92" fill="#a1a1a1"/>
<circle cx="187.84" cy="575.86" r="3.56" fill="#818181"/>
<circle cx="100.06" cy="742.34" r="2.35" fill="#a2a2a2"/>
<circle cx="215" cy="751.32" r="3.13" fill="#979797"/>
<circle cx="231.48" cy="574.97" r="3.03" fill="#808080"/>
<circle cx="249.36" cy="745.77" r="3.47" fill="#8d8d8d"/>
<circle cx="160.07" cy="728.14" r="2.78" fill="#868686"/>
<circle cx="198.77" cy="595.28" r="1.91" fill="#868686"/>
<circle cx="121.59" cy="597.11" r="2.24" fill="#828282"/>
<circle cx="199.25" cy="734.58" r="3.29" fill="#9f9f9f"/>
<circle cx="245.38" cy="685.99" r="3.49" fill="#898989"/>
<circle cx="173.55" cy="720.86" r="3.28" fill="#a3a3a3"/>
<circle cx="289.06" cy="675.65" r="2.43" fill="#8a8a8a"/>
<circle cx="281.24" cy="719.98" r="3.22" fill="#939393"/>
<circle cx="172.36" cy="719.23" r="3.5" fill="#8a8a8a"/>
<circle cx="209.89" cy="713.2" r="2.67" fill="#9d9d9d"/>
<circle cx="154.08" cy="756.4" r="2.52" fill="#8f8f8f"/>
<circle cx="197.88" cy="588.64" r="2.68" fill="#9e9e9e"/>
<circle cx="251.79" cy="733.99" r="3.33" fill="#9d9d9d"/>
<circle cx="256.93" cy="755.37" r="3.59" fill="#8f8f8f"/>
<circle cx="149.66" cy="671.62" r="3.65" fill="#a3a3a3"/>
<circle cx="203.04" cy="681.43" r="3.66" fill="#989898"/>
<circle cx="145.75" cy="618.18" r="2.65" fill="#8c8c8c"/>
<circle cx="231.61" cy="727.66" r="2.74" fill="#a1a1a1"/>
<circle cx="125.56" cy="586.14" r="1.95" fill="#8a8a8a"/>
<circle cx="185.55" cy="683.93" r="3.4" fill="#a0a0a0"/>
<circle cx="246.29" cy="663.47" r="2.79" fill="#919191"/>
<circle cx="192.84" cy="623.16" r="2.41" fill="#9e9e9e"/>
<circle cx="101.45" cy="599.01" r="2.96" fill="#a3a3a3"/>
<circle cx="164.01" cy="683.95" r="2.7" fill="#929292"/>
<circle cx="124.36" cy="656.1" r="2.87" fill="#878787"/>
<circle cx="159.12" cy="620.12" r="2.85" fill="#838383"/>
<circle cx="223.91" cy="622.02" r="1.93" fill="#818181"/>
<circle cx="216.71" cy="743.47" r="3" fill="#818181"/>
<circle cx="106.38" cy="689.16" r="3.28" fill="#9c9c9c"/>
<circle cx="241.45" cy="624.34" r="2.88" fill="#9d9d9d"/>
<circle cx="221.87" cy="591.39" r="2.11" fill="#9e9e9e"/>
<circle cx="290.01" cy="716.45" r="3.09" fill="#9e9e9e"/>
<circle cx="240.72" cy="687.33" r="2.46" fill="#959595"/>
<circle cx="255.83" cy="597.8" r="3.23" fill="#9c9c9c"/>
<circle cx="273.37" cy="646.26" r="3.27" fill="#808080"/>
<circle cx="151.68" cy="593.47" r="3.1" fill="#9c9c9c"/>
<circle cx="260.71" cy="634.31" r="2.47" fill="#868686"/>
<circle cx="227.16" cy="589.45" r="3.63" fill="#8d8d8d"/>
<circle cx="133.35" cy="571.91" r="2.19" fill="#939393"/>
<circle cx="250.47" cy="603.19" r="2.32" fill="#909090"/>
<circle cx="261.02" cy="733.56" r="2.65" fill="#868686"/>
<circle cx="111.24" cy="677" r="1.79" fill="#9e9e9e"/>
<circle cx="119.04" cy="716.58" r="2.03" fill="#8e8e8e"/>
<circle cx="214.99" cy="587.09" r="3.75" fill="#909090"/>
<circle cx="172.34" cy="681.9" r="2.81" fill="#999999"/>
<circle cx="249.3" cy="744.75" r="2.13" fill="#919191"/>
<circle cx="269.42" cy="668.44" r="3.08" fill="#969696"/>
<circle cx="112.45" cy="714" r="2.35" fill="#9c9c9c"/>
<circle cx="217.68" cy="733.86" r="3.39" fill="#969696"/>
<circle cx="273.11" cy="757.79" r="2.23" fill="#8c8c8c"/>
<circle cx="133.13" cy="622.29" r="1.87" fill="#8f8f8f"/>
<circle cx="236.44" cy="685.47" r="3.12" fill="#9b9b9b"/>
<circle cx="106.73" cy="745.4" r="2.02" fill="#8e8e8e"/>
<circle cx="174.94" cy="730.81" r="2.99" fill="#8c8c8c"/>
<circle cx="93.89" cy="708.41" r="1.85" fill="#a1a1a1"/>
<circle cx="196" cy="595.42" r="3.03" fill="#9f9f9f"/>
<circle cx="190.56" cy="568.58" r="2.53" fill="#8c8c8c"/>
<circle cx="215.32" cy="618.45" r="3.63" fill="#979797"/>
<circle cx="142.3" cy="647.76" r="3.48" fill="#979797"/>
</g>
<g filter="url(#blbs)" fill="none" stroke-linecap="round" stroke-linejoin="round">
<path d="M148.24,575.49L158.74,592.92" stroke="#949494" stroke-width="12.92"/>
<path d="M148.24,575.49L158.74,592.92" stroke="#737373" stroke-width="6.46"/>
<path d="M148.24,575.49L158.74,592.92" stroke="#525252" stroke-width="3.23"/>
<path d="M271.4,567.97L267.64,589.16" stroke="#949494" stroke-width="11.48"/>
<path d="M271.4,567.97L267.64,589.16" stroke="#757575" stroke-width="5.74"/>
<path d="M271.4,567.97L267.64,589.16" stroke="#575757" stroke-width="2.87"/>
<path d="M231.2,586.19L238.13,593.51" stroke="#949494" stroke-width="8.61"/>
<path d="M231.2,586.19L238.13,593.51" stroke="#858585" stroke-width="4.31"/>
<path d="M231.2,586.19L238.13,593.51" stroke="#757575" stroke-width="2.15"/>
<path d="M125.27,693.5L146.26,720.63" stroke="#949494" stroke-width="10.34"/>
<path d="M125.27,693.5L146.26,720.63" stroke="#757575" stroke-width="5.17"/>
<path d="M125.27,693.5L146.26,720.63" stroke="#575757" stroke-width="2.58"/>
<path d="M146.26,720.63L171.41,748.74" stroke="#949494" stroke-width="9.76"/>
<path d="M146.26,720.63L171.41,748.74" stroke="#878787" stroke-width="4.88"/>
<path d="M146.26,720.63L171.41,748.74" stroke="#7a7a7a" stroke-width="2.44"/>
<path d="M168.24,687.56L174.18,707.16" stroke="#949494" stroke-width="9.19"/>
<path d="M168.24,687.56L174.18,707.16" stroke="#7a7a7a" stroke-width="4.59"/>
<path d="M168.24,687.56L174.18,707.16" stroke="#616161" stroke-width="2.3"/>
<path d="M230.61,667.76L228.23,698.06" stroke="#949494" stroke-width="10.34"/>
<path d="M230.61,667.76L228.23,698.06" stroke="#6f6f6f" stroke-width="5.17"/>
<path d="M230.61,667.76L228.23,698.06" stroke="#4a4a4a" stroke-width="2.58"/>
<path d="M221.5,705.58L219.92,725.18L218.33,735.28" stroke="#949494" stroke-width="10.34"/>
<path d="M221.5,705.58L219.92,725.18L218.33,735.28" stroke="#737373" stroke-width="5.17"/>
<path d="M221.5,705.58L219.92,725.18L218.33,735.28" stroke="#525252" stroke-width="2.58"/>
<path d="M243.48,614.5L253.38,632.32" stroke="#949494" stroke-width="9.19"/>
<path d="M243.48,614.5L253.38,632.32" stroke="#858585" stroke-width="4.59"/>
<path d="M243.48,614.5L253.38,632.32" stroke="#757575" stroke-width="2.3"/>
<path d="M95.38,701.62L108.84,709.54" stroke="#949494" stroke-width="7.46"/>
<path d="M95.38,701.62L108.84,709.54" stroke="#878787" stroke-width="3.73"/>
<path d="M95.38,701.62L108.84,709.54" stroke="#7a7a7a" stroke-width="1.87"/>
<path d="M95.38,728.35L139.13,752.51" stroke="#949494" stroke-width="8.61"/>
<path d="M95.38,728.35L139.13,752.51" stroke="#878787" stroke-width="4.31"/>
<path d="M95.38,728.35L139.13,752.51" stroke="#7a7a7a" stroke-width="2.15"/>
<path d="M203.88,652.12L225.66,664" stroke="#949494" stroke-width="6.89"/>
<path d="M203.88,652.12L225.66,664" stroke="#8c8c8c" stroke-width="3.45"/>
<path d="M203.88,652.12L225.66,664" stroke="#858585" stroke-width="1.72"/>
<path d="M189.82,618.46L189.82,628.36" stroke="#949494" stroke-width="9.76"/>
<path d="M189.82,618.46L189.82,628.36" stroke="#757575" stroke-width="4.88"/>
<path d="M189.82,618.46L189.82,628.36" stroke="#575757" stroke-width="2.44"/>
<path d="M277.14,656.08L279.12,664" stroke="#949494" stroke-width="8.61"/>
<path d="M277.14,656.08L279.12,664" stroke="#787878" stroke-width="4.31"/>
<path d="M277.14,656.08L279.12,664" stroke="#5c5c5c" stroke-width="2.15"/>
<path d="M95.18,605L122.5,617.07" stroke="#949494" stroke-width="5.17"/>
<path d="M95.18,605L122.5,617.07" stroke="#919191" stroke-width="2.58"/>
<path d="M95.18,605L122.5,617.07" stroke="#8f8f8f" stroke-width="1.29"/>
</g>
<g filter="url(#blbd)">
<circle cx="184.48" cy="599.06" r="7.43" fill="#949494"/>
<circle cx="184.48" cy="599.06" r="4.6" fill="#808080"/>
<circle cx="184.48" cy="599.06" r="2.67" fill="#4a4a4a"/>
<circle cx="176.16" cy="570.35" r="5.45" fill="#949494"/>
<circle cx="176.16" cy="570.35" r="3.38" fill="#808080"/>
<circle cx="176.16" cy="570.35" r="1.96" fill="#5c5c5c"/>
<circle cx="162.5" cy="633.51" r="6.19" fill="#949494"/>
<circle cx="162.5" cy="633.51" r="3.84" fill="#808080"/>
<circle cx="162.5" cy="633.51" r="2.23" fill="#575757"/>
<circle cx="178.34" cy="639.05" r="4.95" fill="#949494"/>
<circle cx="178.34" cy="639.05" r="3.07" fill="#808080"/>
<circle cx="178.34" cy="639.05" r="1.78" fill="#616161"/>
<circle cx="188.24" cy="644" r="6.19" fill="#949494"/>
<circle cx="188.24" cy="644" r="3.84" fill="#808080"/>
<circle cx="188.24" cy="644" r="2.23" fill="#575757"/>
<circle cx="287.24" cy="640.44" r="7.43" fill="#949494"/>
<circle cx="287.24" cy="640.44" r="4.6" fill="#808080"/>
<circle cx="287.24" cy="640.44" r="2.67" fill="#424242"/>
<circle cx="239.52" cy="643.41" r="6.19" fill="#949494"/>
<circle cx="239.52" cy="643.41" r="3.84" fill="#808080"/>
<circle cx="239.52" cy="643.41" r="2.23" fill="#525252"/>
<circle cx="130.62" cy="684.59" r="7.43" fill="#949494"/>
<circle cx="130.62" cy="684.59" r="4.6" fill="#808080"/>
<circle cx="130.62" cy="684.59" r="2.67" fill="#525252"/>
<circle cx="100.92" cy="723.4" r="7.43" fill="#949494"/>
<circle cx="100.92" cy="723.4" r="4.6" fill="#808080"/>
<circle cx="100.92" cy="723.4" r="2.67" fill="#3d3d3d"/>
<circle cx="194.18" cy="694.29" r="7.43" fill="#949494"/>
<circle cx="194.18" cy="694.29" r="4.6" fill="#808080"/>
<circle cx="194.18" cy="694.29" r="2.67" fill="#3d3d3d"/>
<circle cx="218.53" cy="696.47" r="4.95" fill="#949494"/>
<circle cx="218.53" cy="696.47" r="3.07" fill="#808080"/>
<circle cx="218.53" cy="696.47" r="1.78" fill="#5c5c5c"/>
<circle cx="269.22" cy="694.29" r="7.43" fill="#949494"/>
<circle cx="269.22" cy="694.29" r="4.6" fill="#808080"/>
<circle cx="269.22" cy="694.29" r="2.67" fill="#424242"/>
<circle cx="286.64" cy="676.28" r="6.19" fill="#949494"/>
<circle cx="286.64" cy="676.28" r="3.84" fill="#808080"/>
<circle cx="286.64" cy="676.28" r="2.23" fill="#575757"/>
<circle cx="195.96" cy="731.32" r="5.45" fill="#949494"/>
<circle cx="195.96" cy="731.32" r="3.38" fill="#808080"/>
<circle cx="195.96" cy="731.32" r="1.96" fill="#5c5c5c"/>
<circle cx="193.98" cy="741.22" r="4.46" fill="#949494"/>
<circle cx="193.98" cy="741.22" r="2.76" fill="#808080"/>
<circle cx="193.98" cy="741.22" r="1.6" fill="#616161"/>
<circle cx="279.12" cy="749.14" r="5.45" fill="#949494"/>
<circle cx="279.12" cy="749.14" r="3.38" fill="#808080"/>
<circle cx="279.12" cy="749.14" r="1.96" fill="#525252"/>
<circle cx="231.2" cy="586.19" r="6.93" fill="#949494"/>
<circle cx="231.2" cy="586.19" r="4.3" fill="#808080"/>
<circle cx="231.2" cy="586.19" r="2.49" fill="#525252"/>
<circle cx="112.8" cy="632.32" r="4.95" fill="#949494"/>
<circle cx="112.8" cy="632.32" r="3.07" fill="#808080"/>
<circle cx="112.8" cy="632.32" r="1.78" fill="#757575"/>
<circle cx="104.88" cy="755.08" r="4.95" fill="#949494"/>
<circle cx="104.88" cy="755.08" r="3.07" fill="#808080"/>
<circle cx="104.88" cy="755.08" r="1.78" fill="#707070"/>
</g>
</g></g>
<path d="M170.81,595.29L198.93,605.39" stroke="#111" stroke-width="1" stroke-dasharray="2,0.9"/>
<text x="191.01" y="613.54" class="pn">1</text>
<path d="M183.09,695.09L207.44,694.29" stroke="#111" stroke-width="1" stroke-dasharray="2,0.9"/>
<text x="198.73" y="705.61" class="pn">2</text>
<path d="M261.7,694.89L283.48,693.11" stroke="#111" stroke-width="1" stroke-dasharray="2,0.9"/>
<text x="282.09" y="705.61" class="pn">3</text>
<path d="M92.6,763V564.6H291" fill="none" stroke="#3a3a3a" stroke-width="1"/>
<path d="M93,763.4H291.4V565" fill="none" stroke="#666" stroke-width="0.8"/>
<path d="M93,565v-3.56" stroke="#888" stroke-width="0.8"/>
<text x="93.4" y="559.27" class="il" style="font-size:6.74px">0 µm</text>
<path d="M132.6,565v-3.56" stroke="#888" stroke-width="0.8"/>
<text x="133" y="559.27" class="il" style="font-size:6.74px">2</text>
<path d="M172.2,565v-3.56" stroke="#888" stroke-width="0.8"/>
<text x="172.6" y="559.27" class="il" style="font-size:6.74px">4</text>
<path d="M211.8,565v-3.56" stroke="#888" stroke-width="0.8"/>
<text x="212.2" y="559.27" class="il" style="font-size:6.74px">6</text>
<path d="M251.4,565v-3.56" stroke="#888" stroke-width="0.8"/>
<text x="251.8" y="559.27" class="il" style="font-size:6.74px">8</text>
<path d="M291,565v-3.56" stroke="#888" stroke-width="0.8"/>
<path d="M93,565h-3.56" stroke="#888" stroke-width="0.8"/>
<text x="87.94" y="572.08" text-anchor="end" class="il" style="font-size:6.74px">0</text>
<path d="M93,604.6h-3.56" stroke="#888" stroke-width="0.8"/>
<text x="87.94" y="611.68" text-anchor="end" class="il" style="font-size:6.74px">2</text>
<path d="M93,644.2h-3.56" stroke="#888" stroke-width="0.8"/>
<text x="87.94" y="651.28" text-anchor="end" class="il" style="font-size:6.74px">4</text>
<path d="M93,683.8h-3.56" stroke="#888" stroke-width="0.8"/>
<text x="87.94" y="690.88" text-anchor="end" class="il" style="font-size:6.74px">6</text>
<path d="M93,723.4h-3.56" stroke="#888" stroke-width="0.8"/>
<text x="87.94" y="730.48" text-anchor="end" class="il" style="font-size:6.74px">8</text>
<path d="M93,763h-3.56" stroke="#888" stroke-width="0.8"/>
<rect x="296.3" y="565" width="7.8" height="198" fill="url(#cbgb)" stroke="#3a3a3a" stroke-width="0.9"/>
<path d="M304.1,565h4.09" stroke="#333" stroke-width="0.8"/>
<text x="321.6" y="570.82" text-anchor="end" class="cl" style="font-size:6.74px">32.5</text>
<text x="323.63" y="570.82" class="cl" style="font-size:6.74px">nm</text>
<path d="M304.1,580.23h4.09" stroke="#333" stroke-width="0.8"/>
<text x="321.6" y="586.05" text-anchor="end" class="cl" style="font-size:6.74px">30.0</text>
<path d="M304.1,610.69h4.09" stroke="#333" stroke-width="0.8"/>
<text x="321.6" y="616.51" text-anchor="end" class="cl" style="font-size:6.74px">25.0</text>
<path d="M304.1,641.15h4.09" stroke="#333" stroke-width="0.8"/>
<text x="321.6" y="646.97" text-anchor="end" class="cl" style="font-size:6.74px">20.0</text>
<path d="M304.1,671.62h4.09" stroke="#333" stroke-width="0.8"/>
<text x="321.6" y="677.44" text-anchor="end" class="cl" style="font-size:6.74px">15.0</text>
<path d="M304.1,702.08h4.09" stroke="#333" stroke-width="0.8"/>
<text x="321.6" y="707.9" text-anchor="end" class="cl" style="font-size:6.74px">10.0</text>
<path d="M304.1,732.54h4.09" stroke="#333" stroke-width="0.8"/>
<text x="321.6" y="738.36" text-anchor="end" class="cl" style="font-size:6.74px">5.0</text>
<path d="M304.1,763h4.09" stroke="#333" stroke-width="0.8"/>
<text x="321.6" y="762.6" text-anchor="end" class="cl" style="font-size:6.74px">0.0</text>
<path d="M117.5,804.1L124.02,805.35L130.34,806.55L137.4,807.9L142.98,809.57L149.3,811.46L156.1,813.5L161.94,814.91L168.26,816.43L174.8,818L180.9,819.6L187.22,821.25L193.5,822.9L199.86,825.69L206.18,828.46L212.2,831.1L218.82,835.35L225.14,839.4L230.9,843.1L237.78,847.22L244.1,851L249.6,854.3L256.74,860.41L263.06,865.82L268.4,870.4L275.7,877.7L279.6,881.6L290.8,896.5L294.65,901.66L302,911.5L307.29,918.59L313.2,926.5L319.93,937.64L324.5,945.2L331.2,947.1L339.4,937.7L345.8,926.8L352.9,918.2L359.3,908.1L365.9,898.1L372.2,889.4L378.3,882.2L384.6,874.2L390.9,865L397,858.6L403.3,853.5L409.1,847.1L415.4,840.5L422,833.9L427.8,830.4L434.4,825.5L440.1,819.5L446.5,815.5L452.2,813.2L458.6,806L464.3,803.1L470.9,803.7L477.3,803.7L483.3,802.5L489.6,801.7L496,802.5L502.6,803.7L508.3,802.2" stroke="#777777" stroke-width="0.7" fill="none" stroke-dasharray="2.2,1.4"/>
<path d="M117.5,799.64L121.96,804.1L117.5,808.56L113.04,804.1Z" fill="#444444"/>
<path d="M124.02,800.88L128.49,805.35L124.02,809.81L119.56,805.35Z" fill="#444444"/>
<path d="M130.34,802.09L134.81,806.55L130.34,811.02L125.88,806.55Z" fill="#444444"/>
<path d="M137.4,803.44L141.86,807.9L137.4,812.36L132.94,807.9Z" fill="#444444"/>
<path d="M142.98,805.11L147.45,809.57L142.98,814.04L138.52,809.57Z" fill="#444444"/>
<path d="M149.3,807L153.77,811.46L149.3,815.93L144.84,811.46Z" fill="#444444"/>
<path d="M156.1,809.04L160.56,813.5L156.1,817.96L151.64,813.5Z" fill="#444444"/>
<path d="M161.94,810.44L166.41,814.91L161.94,819.37L157.48,814.91Z" fill="#444444"/>
<path d="M168.26,811.96L172.73,816.43L168.26,820.89L163.8,816.43Z" fill="#444444"/>
<path d="M174.8,813.54L179.26,818L174.8,822.46L170.34,818Z" fill="#444444"/>
<path d="M180.9,815.13L185.36,819.6L180.9,824.06L176.44,819.6Z" fill="#444444"/>
<path d="M187.22,816.79L191.68,821.25L187.22,825.72L182.76,821.25Z" fill="#444444"/>
<path d="M193.5,818.44L197.96,822.9L193.5,827.36L189.04,822.9Z" fill="#444444"/>
<path d="M199.86,821.22L204.32,825.69L199.86,830.15L195.4,825.69Z" fill="#444444"/>
<path d="M206.18,824L210.64,828.46L206.18,832.92L201.72,828.46Z" fill="#444444"/>
<path d="M212.2,826.64L216.66,831.1L212.2,835.56L207.74,831.1Z" fill="#444444"/>
<path d="M218.82,830.88L223.28,835.35L218.82,839.81L214.35,835.35Z" fill="#444444"/>
<path d="M225.14,834.94L229.6,839.4L225.14,843.87L220.67,839.4Z" fill="#444444"/>
<path d="M230.9,838.64L235.36,843.1L230.9,847.56L226.44,843.1Z" fill="#444444"/>
<path d="M237.78,842.76L242.24,847.22L237.78,851.68L233.31,847.22Z" fill="#444444"/>
<path d="M244.1,846.54L248.56,851L244.1,855.47L239.63,851Z" fill="#444444"/>
<path d="M249.6,849.84L254.06,854.3L249.6,858.76L245.14,854.3Z" fill="#444444"/>
<path d="M256.74,855.95L261.2,860.41L256.74,864.88L252.27,860.41Z" fill="#444444"/>
<path d="M263.06,861.36L267.52,865.82L263.06,870.29L258.59,865.82Z" fill="#444444"/>
<path d="M268.4,865.94L272.86,870.4L268.4,874.86L263.94,870.4Z" fill="#444444"/>
<path d="M275.7,873.23L280.16,877.7L275.7,882.16L271.23,877.7Z" fill="#444444"/>
<path d="M279.6,877.14L284.06,881.6L279.6,886.06L275.14,881.6Z" fill="#444444"/>
<path d="M290.8,892.04L295.26,896.5L290.8,900.96L286.34,896.5Z" fill="#444444"/>
<path d="M294.65,897.2L299.12,901.66L294.65,906.13L290.19,901.66Z" fill="#444444"/>
<path d="M302,907.04L306.46,911.5L302,915.96L297.54,911.5Z" fill="#444444"/>
<path d="M307.29,914.12L311.76,918.59L307.29,923.05L302.83,918.59Z" fill="#444444"/>
<path d="M313.2,922.04L317.66,926.5L313.2,930.96L308.74,926.5Z" fill="#444444"/>
<path d="M319.93,933.18L324.4,937.64L319.93,942.1L315.47,937.64Z" fill="#444444"/>
<path d="M324.5,940.74L328.96,945.2L324.5,949.66L320.04,945.2Z" fill="#444444"/>
<path d="M331.2,942.64L335.66,947.1L331.2,951.56L326.74,947.1Z" fill="#444444"/>
<path d="M339.4,933.24L343.86,937.7L339.4,942.16L334.94,937.7Z" fill="#444444"/>
<path d="M345.8,922.34L350.26,926.8L345.8,931.26L341.34,926.8Z" fill="#444444"/>
<path d="M352.9,913.74L357.36,918.2L352.9,922.66L348.44,918.2Z" fill="#444444"/>
<path d="M359.3,903.64L363.76,908.1L359.3,912.56L354.84,908.1Z" fill="#444444"/>
<path d="M365.9,893.64L370.36,898.1L365.9,902.56L361.44,898.1Z" fill="#444444"/>
<path d="M372.2,884.94L376.66,889.4L372.2,893.86L367.74,889.4Z" fill="#444444"/>
<path d="M378.3,877.74L382.76,882.2L378.3,886.66L373.84,882.2Z" fill="#444444"/>
<path d="M384.6,869.74L389.06,874.2L384.6,878.66L380.14,874.2Z" fill="#444444"/>
<path d="M390.9,860.54L395.36,865L390.9,869.46L386.44,865Z" fill="#444444"/>
<path d="M397,854.14L401.46,858.6L397,863.06L392.54,858.6Z" fill="#444444"/>
<path d="M403.3,849.04L407.76,853.5L403.3,857.96L398.84,853.5Z" fill="#444444"/>
<path d="M409.1,842.64L413.56,847.1L409.1,851.56L404.64,847.1Z" fill="#444444"/>
<path d="M415.4,836.04L419.86,840.5L415.4,844.96L410.94,840.5Z" fill="#444444"/>
<path d="M422,829.44L426.46,833.9L422,838.36L417.54,833.9Z" fill="#444444"/>
<path d="M427.8,825.94L432.26,830.4L427.8,834.86L423.34,830.4Z" fill="#444444"/>
<path d="M434.4,821.04L438.86,825.5L434.4,829.96L429.94,825.5Z" fill="#444444"/>
<path d="M440.1,815.04L444.56,819.5L440.1,823.96L435.64,819.5Z" fill="#444444"/>
<path d="M446.5,811.04L450.96,815.5L446.5,819.96L442.04,815.5Z" fill="#444444"/>
<path d="M452.2,808.74L456.66,813.2L452.2,817.66L447.74,813.2Z" fill="#444444"/>
<path d="M458.6,801.54L463.06,806L458.6,810.46L454.14,806Z" fill="#444444"/>
<path d="M464.3,798.64L468.76,803.1L464.3,807.56L459.84,803.1Z" fill="#444444"/>
<path d="M470.9,799.24L475.36,803.7L470.9,808.16L466.44,803.7Z" fill="#444444"/>
<path d="M477.3,799.24L481.76,803.7L477.3,808.16L472.84,803.7Z" fill="#444444"/>
<path d="M483.3,798.04L487.76,802.5L483.3,806.96L478.84,802.5Z" fill="#444444"/>
<path d="M489.6,797.24L494.06,801.7L489.6,806.16L485.14,801.7Z" fill="#444444"/>
<path d="M496,798.04L500.46,802.5L496,806.96L491.54,802.5Z" fill="#444444"/>
<path d="M502.6,799.24L507.06,803.7L502.6,808.16L498.14,803.7Z" fill="#444444"/>
<path d="M508.3,797.74L512.76,802.2L508.3,806.66L503.84,802.2Z" fill="#444444"/>
<path d="M118,783.2L124.79,786.21L131.05,788.98L137.4,791.8L143.56,793.64L149.81,795.52L156.1,797.4L162.32,800.53L168.58,803.67L174.8,806.8L181.09,810.2L187.34,813.58L193.5,816.9L199.85,821.08L206.11,825.19L212.2,829.2L218.62,833.97L224.87,838.62L230.9,843.1L237.38,848.27L243.64,853.25L249.6,858L256.15,862.98L260.9,866.6L268.66,876.91L275.8,886.4L281.17,895.33L287.1,905.2L294.5,917.1L302,924.6L306.19,932.06L312.5,943.3L318.9,951.5L325.6,953.8L331.9,948.9L337.9,934L342.9,918.2L350.1,908.1L356.4,895.2L362.4,885.1L368.8,876.5L374.5,866.4L381.2,857.8L387.5,851.4L393.2,843.4L399.9,835.6L406.2,829.9L412.5,824.1L418.6,818.3L424.9,811.7L431.5,806L437.3,801.1L443.6,795.9L449.9,790.1L456,785.8L462.3,782.1L468.6,777.2L475.3,774.9L481,775.8L487.3,774.3L494,774.9L500.3,774.3L506.9,772.3L512.7,772.9" stroke="#ff8888" stroke-width="0.7" fill="none" stroke-dasharray="2.2,1.4"/>
<circle cx="118" cy="783.2" r="3.15" fill="url(#sph)"/>
<circle cx="124.79" cy="786.21" r="3.15" fill="url(#sph)"/>
<circle cx="131.05" cy="788.98" r="3.15" fill="url(#sph)"/>
<circle cx="137.4" cy="791.8" r="3.15" fill="url(#sph)"/>
<circle cx="143.56" cy="793.64" r="3.15" fill="url(#sph)"/>
<circle cx="149.81" cy="795.52" r="3.15" fill="url(#sph)"/>
<circle cx="156.1" cy="797.4" r="3.15" fill="url(#sph)"/>
<circle cx="162.32" cy="800.53" r="3.15" fill="url(#sph)"/>
<circle cx="168.58" cy="803.67" r="3.15" fill="url(#sph)"/>
<circle cx="174.8" cy="806.8" r="3.15" fill="url(#sph)"/>
<circle cx="181.09" cy="810.2" r="3.15" fill="url(#sph)"/>
<circle cx="187.34" cy="813.58" r="3.15" fill="url(#sph)"/>
<circle cx="193.5" cy="816.9" r="3.15" fill="url(#sph)"/>
<circle cx="199.85" cy="821.08" r="3.15" fill="url(#sph)"/>
<circle cx="206.11" cy="825.19" r="3.15" fill="url(#sph)"/>
<circle cx="212.2" cy="829.2" r="3.15" fill="url(#sph)"/>
<circle cx="218.62" cy="833.97" r="3.15" fill="url(#sph)"/>
<circle cx="224.87" cy="838.62" r="3.15" fill="url(#sph)"/>
<circle cx="230.9" cy="843.1" r="3.15" fill="url(#sph)"/>
<circle cx="237.38" cy="848.27" r="3.15" fill="url(#sph)"/>
<circle cx="243.64" cy="853.25" r="3.15" fill="url(#sph)"/>
<circle cx="249.6" cy="858" r="3.15" fill="url(#sph)"/>
<circle cx="256.15" cy="862.98" r="3.15" fill="url(#sph)"/>
<circle cx="260.9" cy="866.6" r="3.15" fill="url(#sph)"/>
<circle cx="268.66" cy="876.91" r="3.15" fill="url(#sph)"/>
<circle cx="275.8" cy="886.4" r="3.15" fill="url(#sph)"/>
<circle cx="281.17" cy="895.33" r="3.15" fill="url(#sph)"/>
<circle cx="287.1" cy="905.2" r="3.15" fill="url(#sph)"/>
<circle cx="294.5" cy="917.1" r="3.15" fill="url(#sph)"/>
<circle cx="302" cy="924.6" r="3.15" fill="url(#sph)"/>
<circle cx="306.19" cy="932.06" r="3.15" fill="url(#sph)"/>
<circle cx="312.5" cy="943.3" r="3.15" fill="url(#sph)"/>
<circle cx="318.9" cy="951.5" r="3.15" fill="url(#sph)"/>
<circle cx="325.6" cy="953.8" r="3.15" fill="url(#sph)"/>
<circle cx="331.9" cy="948.9" r="3.15" fill="url(#sph)"/>
<circle cx="337.9" cy="934" r="3.15" fill="url(#sph)"/>
<circle cx="342.9" cy="918.2" r="3.15" fill="url(#sph)"/>
<circle cx="350.1" cy="908.1" r="3.15" fill="url(#sph)"/>
<circle cx="356.4" cy="895.2" r="3.15" fill="url(#sph)"/>
<circle cx="362.4" cy="885.1" r="3.15" fill="url(#sph)"/>
<circle cx="368.8" cy="876.5" r="3.15" fill="url(#sph)"/>
<circle cx="374.5" cy="866.4" r="3.15" fill="url(#sph)"/>
<circle cx="381.2" cy="857.8" r="3.15" fill="url(#sph)"/>
<circle cx="387.5" cy="851.4" r="3.15" fill="url(#sph)"/>
<circle cx="393.2" cy="843.4" r="3.15" fill="url(#sph)"/>
<circle cx="399.9" cy="835.6" r="3.15" fill="url(#sph)"/>
<circle cx="406.2" cy="829.9" r="3.15" fill="url(#sph)"/>
<circle cx="412.5" cy="824.1" r="3.15" fill="url(#sph)"/>
<circle cx="418.6" cy="818.3" r="3.15" fill="url(#sph)"/>
<circle cx="424.9" cy="811.7" r="3.15" fill="url(#sph)"/>
<circle cx="431.5" cy="806" r="3.15" fill="url(#sph)"/>
<circle cx="437.3" cy="801.1" r="3.15" fill="url(#sph)"/>
<circle cx="443.6" cy="795.9" r="3.15" fill="url(#sph)"/>
<circle cx="449.9" cy="790.1" r="3.15" fill="url(#sph)"/>
<circle cx="456" cy="785.8" r="3.15" fill="url(#sph)"/>
<circle cx="462.3" cy="782.1" r="3.15" fill="url(#sph)"/>
<circle cx="468.6" cy="777.2" r="3.15" fill="url(#sph)"/>
<circle cx="475.3" cy="774.9" r="3.15" fill="url(#sph)"/>
<circle cx="481" cy="775.8" r="3.15" fill="url(#sph)"/>
<circle cx="487.3" cy="774.3" r="3.15" fill="url(#sph)"/>
<circle cx="494" cy="774.9" r="3.15" fill="url(#sph)"/>
<circle cx="500.3" cy="774.3" r="3.15" fill="url(#sph)"/>
<circle cx="506.9" cy="772.3" r="3.15" fill="url(#sph)"/>
<circle cx="512.7" cy="772.9" r="3.15" fill="url(#sph)"/>
<path d="M118,795.5L124.48,797.57L129.9,799.3L137.05,803.4L144.9,807.9L149.62,810.48L155.91,813.92L159.9,816.1L168.48,822.55L174.8,827.3L181.05,832.3L189.8,839.3L193.62,842.46L199.9,847.65L204.8,851.7L212.47,859.37L219.7,866.6L225.05,873.26L231.33,881.1L237.62,889.47L243.9,898.45L249.6,906.6L256.47,916.54L264.6,928.3L269.04,934.57L275.8,944.1L283.3,943.3L287.9,933.33L294.5,919L300.47,910.13L305.8,902.2L313.04,892.51L317,887.2L328.2,872.2L331.89,867.29L339.4,857.3L344.3,852L350.9,844.2L357.3,836.8L363,831.3L369.4,824.7L376,818.9L382.3,815.5L388.3,810.3L394.7,806L401,802.5L407.1,800.8L413.4,799.4L419.7,800.2L425.8,803.1L432.1,801.7" stroke="#88b4f0" stroke-width="0.8" fill="none" stroke-dasharray="2.2,1.4"/>
<path d="M118,791.67L121.83,798.56L114.17,798.56Z" fill="#fff" stroke="#1a6ee6" stroke-width="0.6" stroke-opacity="0.8"/><path d="M114.1,798.56H121.9" stroke="#1a6ee6" stroke-width="1.1"/><path d="M118,791.67L120.64,796.46L115.36,796.46Z" fill="#1a6ee6"/>
<path d="M124.48,793.74L128.31,800.63L120.65,800.63Z" fill="#fff" stroke="#1a6ee6" stroke-width="0.6" stroke-opacity="0.8"/><path d="M120.58,800.63H128.39" stroke="#1a6ee6" stroke-width="1.1"/><path d="M124.48,793.74L127.12,798.53L121.84,798.53Z" fill="#1a6ee6"/>
<path d="M129.9,795.47L133.73,802.36L126.07,802.36Z" fill="#fff" stroke="#1a6ee6" stroke-width="0.6" stroke-opacity="0.8"/><path d="M126,802.36H133.8" stroke="#1a6ee6" stroke-width="1.1"/><path d="M129.9,795.47L132.54,800.26L127.26,800.26Z" fill="#1a6ee6"/>
<path d="M137.05,799.57L140.88,806.46L133.22,806.46Z" fill="#fff" stroke="#1a6ee6" stroke-width="0.6" stroke-opacity="0.8"/><path d="M133.15,806.46H140.96" stroke="#1a6ee6" stroke-width="1.1"/><path d="M137.05,799.57L139.69,804.36L134.41,804.36Z" fill="#1a6ee6"/>
<path d="M144.9,804.07L148.73,810.96L141.07,810.96Z" fill="#fff" stroke="#1a6ee6" stroke-width="0.6" stroke-opacity="0.8"/><path d="M141,810.96H148.8" stroke="#1a6ee6" stroke-width="1.1"/><path d="M144.9,804.07L147.54,808.86L142.26,808.86Z" fill="#1a6ee6"/>
<path d="M149.62,806.65L153.45,813.54L145.79,813.54Z" fill="#fff" stroke="#1a6ee6" stroke-width="0.6" stroke-opacity="0.8"/><path d="M145.72,813.54H153.53" stroke="#1a6ee6" stroke-width="1.1"/><path d="M149.62,806.65L152.26,811.44L146.98,811.44Z" fill="#1a6ee6"/>
<path d="M155.91,810.09L159.74,816.98L152.08,816.98Z" fill="#fff" stroke="#1a6ee6" stroke-width="0.6" stroke-opacity="0.8"/><path d="M152,816.98H159.81" stroke="#1a6ee6" stroke-width="1.1"/><path d="M155.91,810.09L158.55,814.87L153.27,814.87Z" fill="#1a6ee6"/>
<path d="M159.9,812.27L163.73,819.16L156.07,819.16Z" fill="#fff" stroke="#1a6ee6" stroke-width="0.6" stroke-opacity="0.8"/><path d="M156,819.16H163.8" stroke="#1a6ee6" stroke-width="1.1"/><path d="M159.9,812.27L162.54,817.06L157.26,817.06Z" fill="#1a6ee6"/>
<path d="M168.48,818.72L172.31,825.61L164.65,825.61Z" fill="#fff" stroke="#1a6ee6" stroke-width="0.6" stroke-opacity="0.8"/><path d="M164.57,825.61H172.38" stroke="#1a6ee6" stroke-width="1.1"/><path d="M168.48,818.72L171.12,823.51L165.84,823.51Z" fill="#1a6ee6"/>
<path d="M174.8,823.47L178.63,830.36L170.97,830.36Z" fill="#fff" stroke="#1a6ee6" stroke-width="0.6" stroke-opacity="0.8"/><path d="M170.9,830.36H178.7" stroke="#1a6ee6" stroke-width="1.1"/><path d="M174.8,823.47L177.44,828.26L172.16,828.26Z" fill="#1a6ee6"/>
<path d="M181.05,828.47L184.88,835.36L177.22,835.36Z" fill="#fff" stroke="#1a6ee6" stroke-width="0.6" stroke-opacity="0.8"/><path d="M177.14,835.36H184.95" stroke="#1a6ee6" stroke-width="1.1"/><path d="M181.05,828.47L183.69,833.26L178.41,833.26Z" fill="#1a6ee6"/>
<path d="M189.8,835.47L193.63,842.36L185.97,842.36Z" fill="#fff" stroke="#1a6ee6" stroke-width="0.6" stroke-opacity="0.8"/><path d="M185.9,842.36H193.7" stroke="#1a6ee6" stroke-width="1.1"/><path d="M189.8,835.47L192.44,840.26L187.16,840.26Z" fill="#1a6ee6"/>
<path d="M193.62,838.63L197.45,845.52L189.79,845.52Z" fill="#fff" stroke="#1a6ee6" stroke-width="0.6" stroke-opacity="0.8"/><path d="M189.71,845.52H197.52" stroke="#1a6ee6" stroke-width="1.1"/><path d="M193.62,838.63L196.26,843.41L190.98,843.41Z" fill="#1a6ee6"/>
<path d="M199.9,843.83L203.73,850.72L196.08,850.72Z" fill="#fff" stroke="#1a6ee6" stroke-width="0.6" stroke-opacity="0.8"/><path d="M196,850.72H203.81" stroke="#1a6ee6" stroke-width="1.1"/><path d="M199.9,843.83L202.55,848.61L197.26,848.61Z" fill="#1a6ee6"/>
<path d="M204.8,847.87L208.63,854.76L200.97,854.76Z" fill="#fff" stroke="#1a6ee6" stroke-width="0.6" stroke-opacity="0.8"/><path d="M200.9,854.76H208.7" stroke="#1a6ee6" stroke-width="1.1"/><path d="M204.8,847.87L207.44,852.66L202.16,852.66Z" fill="#1a6ee6"/>
<path d="M212.47,855.55L216.3,862.44L208.65,862.44Z" fill="#fff" stroke="#1a6ee6" stroke-width="0.6" stroke-opacity="0.8"/><path d="M208.57,862.44H216.38" stroke="#1a6ee6" stroke-width="1.1"/><path d="M212.47,855.55L215.12,860.33L209.83,860.33Z" fill="#1a6ee6"/>
<path d="M219.7,862.77L223.53,869.66L215.87,869.66Z" fill="#fff" stroke="#1a6ee6" stroke-width="0.6" stroke-opacity="0.8"/><path d="M215.8,869.66H223.6" stroke="#1a6ee6" stroke-width="1.1"/><path d="M219.7,862.77L222.34,867.56L217.06,867.56Z" fill="#1a6ee6"/>
<path d="M225.05,869.44L228.87,876.33L221.22,876.33Z" fill="#fff" stroke="#1a6ee6" stroke-width="0.6" stroke-opacity="0.8"/><path d="M221.14,876.33H228.95" stroke="#1a6ee6" stroke-width="1.1"/><path d="M225.05,869.44L227.69,874.22L222.4,874.22Z" fill="#1a6ee6"/>
<path d="M231.33,877.27L235.16,884.16L227.5,884.16Z" fill="#fff" stroke="#1a6ee6" stroke-width="0.6" stroke-opacity="0.8"/><path d="M227.43,884.16H235.24" stroke="#1a6ee6" stroke-width="1.1"/><path d="M231.33,877.27L233.97,882.06L228.69,882.06Z" fill="#1a6ee6"/>
<path d="M237.62,885.64L241.44,892.53L233.79,892.53Z" fill="#fff" stroke="#1a6ee6" stroke-width="0.6" stroke-opacity="0.8"/><path d="M233.71,892.53H241.52" stroke="#1a6ee6" stroke-width="1.1"/><path d="M237.62,885.64L240.26,890.43L234.97,890.43Z" fill="#1a6ee6"/>
<path d="M243.9,894.63L247.73,901.52L240.07,901.52Z" fill="#fff" stroke="#1a6ee6" stroke-width="0.6" stroke-opacity="0.8"/><path d="M240,901.52H247.81" stroke="#1a6ee6" stroke-width="1.1"/><path d="M243.9,894.63L246.54,899.41L241.26,899.41Z" fill="#1a6ee6"/>
<path d="M249.6,902.77L253.43,909.66L245.77,909.66Z" fill="#fff" stroke="#1a6ee6" stroke-width="0.6" stroke-opacity="0.8"/><path d="M245.7,909.66H253.5" stroke="#1a6ee6" stroke-width="1.1"/><path d="M249.6,902.77L252.24,907.56L246.96,907.56Z" fill="#1a6ee6"/>
<path d="M256.47,912.71L260.3,919.6L252.64,919.6Z" fill="#fff" stroke="#1a6ee6" stroke-width="0.6" stroke-opacity="0.8"/><path d="M252.57,919.6H260.38" stroke="#1a6ee6" stroke-width="1.1"/><path d="M256.47,912.71L259.11,917.5L253.83,917.5Z" fill="#1a6ee6"/>
<path d="M264.6,924.47L268.43,931.36L260.77,931.36Z" fill="#fff" stroke="#1a6ee6" stroke-width="0.6" stroke-opacity="0.8"/><path d="M260.7,931.36H268.5" stroke="#1a6ee6" stroke-width="1.1"/><path d="M264.6,924.47L267.24,929.26L261.96,929.26Z" fill="#1a6ee6"/>
<path d="M269.04,930.74L272.87,937.63L265.21,937.63Z" fill="#fff" stroke="#1a6ee6" stroke-width="0.6" stroke-opacity="0.8"/><path d="M265.14,937.63H272.95" stroke="#1a6ee6" stroke-width="1.1"/><path d="M269.04,930.74L271.68,935.52L266.4,935.52Z" fill="#1a6ee6"/>
<path d="M275.8,940.27L279.63,947.16L271.97,947.16Z" fill="#fff" stroke="#1a6ee6" stroke-width="0.6" stroke-opacity="0.8"/><path d="M271.9,947.16H279.7" stroke="#1a6ee6" stroke-width="1.1"/><path d="M275.8,940.27L278.44,945.06L273.16,945.06Z" fill="#1a6ee6"/>
<path d="M283.3,939.47L287.13,946.36L279.47,946.36Z" fill="#fff" stroke="#1a6ee6" stroke-width="0.6" stroke-opacity="0.8"/><path d="M279.4,946.36H287.2" stroke="#1a6ee6" stroke-width="1.1"/><path d="M283.3,939.47L285.94,944.26L280.66,944.26Z" fill="#1a6ee6"/>
<path d="M287.9,929.5L291.73,936.39L284.07,936.39Z" fill="#fff" stroke="#1a6ee6" stroke-width="0.6" stroke-opacity="0.8"/><path d="M283.99,936.39H291.8" stroke="#1a6ee6" stroke-width="1.1"/><path d="M287.9,929.5L290.54,934.28L285.26,934.28Z" fill="#1a6ee6"/>
<path d="M294.5,915.17L298.33,922.06L290.67,922.06Z" fill="#fff" stroke="#1a6ee6" stroke-width="0.6" stroke-opacity="0.8"/><path d="M290.6,922.06H298.4" stroke="#1a6ee6" stroke-width="1.1"/><path d="M294.5,915.17L297.14,919.96L291.86,919.96Z" fill="#1a6ee6"/>
<path d="M300.47,906.3L304.3,913.19L296.64,913.19Z" fill="#fff" stroke="#1a6ee6" stroke-width="0.6" stroke-opacity="0.8"/><path d="M296.56,913.19H304.37" stroke="#1a6ee6" stroke-width="1.1"/><path d="M300.47,906.3L303.11,911.08L297.83,911.08Z" fill="#1a6ee6"/>
<path d="M305.8,898.37L309.63,905.26L301.97,905.26Z" fill="#fff" stroke="#1a6ee6" stroke-width="0.6" stroke-opacity="0.8"/><path d="M301.9,905.26H309.7" stroke="#1a6ee6" stroke-width="1.1"/><path d="M305.8,898.37L308.44,903.16L303.16,903.16Z" fill="#1a6ee6"/>
<path d="M313.04,888.68L316.87,895.57L309.21,895.57Z" fill="#fff" stroke="#1a6ee6" stroke-width="0.6" stroke-opacity="0.8"/><path d="M309.13,895.57H316.94" stroke="#1a6ee6" stroke-width="1.1"/><path d="M313.04,888.68L315.68,893.46L310.4,893.46Z" fill="#1a6ee6"/>
<path d="M317,883.37L320.83,890.26L313.17,890.26Z" fill="#fff" stroke="#1a6ee6" stroke-width="0.6" stroke-opacity="0.8"/><path d="M313.1,890.26H320.9" stroke="#1a6ee6" stroke-width="1.1"/><path d="M317,883.37L319.64,888.16L314.36,888.16Z" fill="#1a6ee6"/>
<path d="M328.2,868.37L332.03,875.26L324.37,875.26Z" fill="#fff" stroke="#1a6ee6" stroke-width="0.6" stroke-opacity="0.8"/><path d="M324.3,875.26H332.1" stroke="#1a6ee6" stroke-width="1.1"/><path d="M328.2,868.37L330.84,873.16L325.56,873.16Z" fill="#1a6ee6"/>
<path d="M331.89,863.46L335.72,870.35L328.07,870.35Z" fill="#fff" stroke="#1a6ee6" stroke-width="0.6" stroke-opacity="0.8"/><path d="M327.99,870.35H335.8" stroke="#1a6ee6" stroke-width="1.1"/><path d="M331.89,863.46L334.54,868.24L329.25,868.24Z" fill="#1a6ee6"/>
<path d="M339.4,853.47L343.23,860.36L335.57,860.36Z" fill="#fff" stroke="#1a6ee6" stroke-width="0.6" stroke-opacity="0.8"/><path d="M335.5,860.36H343.3" stroke="#1a6ee6" stroke-width="1.1"/><path d="M339.4,853.47L342.04,858.26L336.76,858.26Z" fill="#1a6ee6"/>
<path d="M344.3,848.17L348.13,855.06L340.47,855.06Z" fill="#fff" stroke="#1a6ee6" stroke-width="0.6" stroke-opacity="0.8"/><path d="M340.4,855.06H348.2" stroke="#1a6ee6" stroke-width="1.1"/><path d="M344.3,848.17L346.94,852.96L341.66,852.96Z" fill="#1a6ee6"/>
<path d="M350.9,840.37L354.73,847.26L347.07,847.26Z" fill="#fff" stroke="#1a6ee6" stroke-width="0.6" stroke-opacity="0.8"/><path d="M347,847.26H354.8" stroke="#1a6ee6" stroke-width="1.1"/><path d="M350.9,840.37L353.54,845.16L348.26,845.16Z" fill="#1a6ee6"/>
<path d="M357.3,832.97L361.13,839.86L353.47,839.86Z" fill="#fff" stroke="#1a6ee6" stroke-width="0.6" stroke-opacity="0.8"/><path d="M353.4,839.86H361.2" stroke="#1a6ee6" stroke-width="1.1"/><path d="M357.3,832.97L359.94,837.76L354.66,837.76Z" fill="#1a6ee6"/>
<path d="M363,827.47L366.83,834.36L359.17,834.36Z" fill="#fff" stroke="#1a6ee6" stroke-width="0.6" stroke-opacity="0.8"/><path d="M359.1,834.36H366.9" stroke="#1a6ee6" stroke-width="1.1"/><path d="M363,827.47L365.64,832.26L360.36,832.26Z" fill="#1a6ee6"/>
<path d="M369.4,820.87L373.23,827.76L365.57,827.76Z" fill="#fff" stroke="#1a6ee6" stroke-width="0.6" stroke-opacity="0.8"/><path d="M365.5,827.76H373.3" stroke="#1a6ee6" stroke-width="1.1"/><path d="M369.4,820.87L372.04,825.66L366.76,825.66Z" fill="#1a6ee6"/>
<path d="M376,815.07L379.83,821.96L372.17,821.96Z" fill="#fff" stroke="#1a6ee6" stroke-width="0.6" stroke-opacity="0.8"/><path d="M372.1,821.96H379.9" stroke="#1a6ee6" stroke-width="1.1"/><path d="M376,815.07L378.64,819.86L373.36,819.86Z" fill="#1a6ee6"/>
<path d="M382.3,811.67L386.13,818.56L378.47,818.56Z" fill="#fff" stroke="#1a6ee6" stroke-width="0.6" stroke-opacity="0.8"/><path d="M378.4,818.56H386.2" stroke="#1a6ee6" stroke-width="1.1"/><path d="M382.3,811.67L384.94,816.46L379.66,816.46Z" fill="#1a6ee6"/>
<path d="M388.3,806.47L392.13,813.36L384.47,813.36Z" fill="#fff" stroke="#1a6ee6" stroke-width="0.6" stroke-opacity="0.8"/><path d="M384.4,813.36H392.2" stroke="#1a6ee6" stroke-width="1.1"/><path d="M388.3,806.47L390.94,811.26L385.66,811.26Z" fill="#1a6ee6"/>
<path d="M394.7,802.17L398.53,809.06L390.87,809.06Z" fill="#fff" stroke="#1a6ee6" stroke-width="0.6" stroke-opacity="0.8"/><path d="M390.8,809.06H398.6" stroke="#1a6ee6" stroke-width="1.1"/><path d="M394.7,802.17L397.34,806.96L392.06,806.96Z" fill="#1a6ee6"/>
<path d="M401,798.67L404.83,805.56L397.17,805.56Z" fill="#fff" stroke="#1a6ee6" stroke-width="0.6" stroke-opacity="0.8"/><path d="M397.1,805.56H404.9" stroke="#1a6ee6" stroke-width="1.1"/><path d="M401,798.67L403.64,803.46L398.36,803.46Z" fill="#1a6ee6"/>
<path d="M407.1,796.97L410.93,803.86L403.27,803.86Z" fill="#fff" stroke="#1a6ee6" stroke-width="0.6" stroke-opacity="0.8"/><path d="M403.2,803.86H411" stroke="#1a6ee6" stroke-width="1.1"/><path d="M407.1,796.97L409.74,801.76L404.46,801.76Z" fill="#1a6ee6"/>
<path d="M413.4,795.57L417.23,802.46L409.57,802.46Z" fill="#fff" stroke="#1a6ee6" stroke-width="0.6" stroke-opacity="0.8"/><path d="M409.5,802.46H417.3" stroke="#1a6ee6" stroke-width="1.1"/><path d="M413.4,795.57L416.04,800.36L410.76,800.36Z" fill="#1a6ee6"/>
<path d="M419.7,796.37L423.53,803.26L415.87,803.26Z" fill="#fff" stroke="#1a6ee6" stroke-width="0.6" stroke-opacity="0.8"/><path d="M415.8,803.26H423.6" stroke="#1a6ee6" stroke-width="1.1"/><path d="M419.7,796.37L422.34,801.16L417.06,801.16Z" fill="#1a6ee6"/>
<path d="M425.8,799.27L429.63,806.16L421.97,806.16Z" fill="#fff" stroke="#1a6ee6" stroke-width="0.6" stroke-opacity="0.8"/><path d="M421.9,806.16H429.7" stroke="#1a6ee6" stroke-width="1.1"/><path d="M425.8,799.27L428.44,804.06L423.16,804.06Z" fill="#1a6ee6"/>
<path d="M432.1,797.87L435.93,804.76L428.27,804.76Z" fill="#fff" stroke="#1a6ee6" stroke-width="0.6" stroke-opacity="0.8"/><path d="M428.2,804.76H436" stroke="#1a6ee6" stroke-width="1.1"/><path d="M432.1,797.87L434.74,802.66L429.46,802.66Z" fill="#1a6ee6"/>
<rect x="490.5" y="535.5" width="108.4" height="89.2" fill="#fff" stroke="#555" stroke-width="1.0"/>
<path d="M493.3,551.3H545.5" stroke="#777777" stroke-width="1"/>
<path d="M519.6,546.61L524.29,551.3L519.6,555.99L514.91,551.3Z" fill="#444444"/>
<text transform="translate(551.6,559.6) scale(0.9,1)" class="lg">Pit-1</text>
<path d="M493.3,579.4H545.5" stroke="#ff8888" stroke-width="1"/>
<circle cx="519.6" cy="579.4" r="3.31" fill="url(#sph)"/>
<text transform="translate(551.6,587.7) scale(0.9,1)" class="lg">Pit-2</text>
<path d="M493.3,608.1H545.5" stroke="#88b4f0" stroke-width="1"/>
<path d="M519.6,604.08L523.62,611.32L515.58,611.32Z" fill="#fff" stroke="#1a6ee6" stroke-width="0.6" stroke-opacity="0.8"/><path d="M515.5,611.32H523.7" stroke="#1a6ee6" stroke-width="1.1"/><path d="M519.6,604.08L522.37,609.1L516.83,609.1Z" fill="#1a6ee6"/>
<text transform="translate(551.6,616.4) scale(0.9,1)" class="lg">Pit-3</text>
</g>
<g id="panel-c">
<path d="M61.7,1035V1498.8" stroke="#000" stroke-width="2" fill="none"/>
<path d="M60.7,1498.8H626.8" stroke="#000" stroke-width="2" fill="none"/>
<path d="M57.2,1453.79H61.7" stroke="#000" stroke-width="2"/>
<path d="M57.2,1393.96H61.7" stroke="#000" stroke-width="2"/>
<path d="M57.2,1334.12H61.7" stroke="#000" stroke-width="2"/>
<path d="M57.2,1274.3H61.7" stroke="#000" stroke-width="2"/>
<path d="M57.2,1214.47H61.7" stroke="#000" stroke-width="2"/>
<path d="M57.2,1154.63H61.7" stroke="#000" stroke-width="2"/>
<path d="M57.2,1094.81H61.7" stroke="#000" stroke-width="2"/>
<path d="M57.2,1034.98H61.7" stroke="#000" stroke-width="2"/>
<path d="M53.7,1483.7H61.7" stroke="#000" stroke-width="2"/>
<text x="46.3" y="1490.32" text-anchor="end" class="tl" style="font-size:19.2px">0</text>
<path d="M53.7,1423.87H61.7" stroke="#000" stroke-width="2"/>
<text x="46.3" y="1430.49" text-anchor="end" class="tl" style="font-size:19.2px">10</text>
<path d="M53.7,1364.04H61.7" stroke="#000" stroke-width="2"/>
<text x="46.3" y="1370.66" text-anchor="end" class="tl" style="font-size:19.2px">20</text>
<path d="M53.7,1304.21H61.7" stroke="#000" stroke-width="2"/>
<text x="46.3" y="1310.83" text-anchor="end" class="tl" style="font-size:19.2px">30</text>
<path d="M53.7,1244.38H61.7" stroke="#000" stroke-width="2"/>
<text x="46.3" y="1251" text-anchor="end" class="tl" style="font-size:19.2px">40</text>
<path d="M53.7,1184.55H61.7" stroke="#000" stroke-width="2"/>
<text x="46.3" y="1191.17" text-anchor="end" class="tl" style="font-size:19.2px">50</text>
<path d="M53.7,1124.72H61.7" stroke="#000" stroke-width="2"/>
<text x="46.3" y="1131.34" text-anchor="end" class="tl" style="font-size:19.2px">60</text>
<path d="M53.7,1064.89H61.7" stroke="#000" stroke-width="2"/>
<text x="46.3" y="1071.51" text-anchor="end" class="tl" style="font-size:19.2px">70</text>
<path d="M61.5,1498.8V1506.8" stroke="#000" stroke-width="2"/>
<text x="61.5" y="1527.71" text-anchor="middle" class="tl" style="font-size:18.1px">-200</text>
<path d="M91.2,1498.8V1503.3" stroke="#000" stroke-width="2"/>
<path d="M120.9,1498.8V1506.8" stroke="#000" stroke-width="2"/>
<text x="120.9" y="1527.71" text-anchor="middle" class="tl" style="font-size:18.1px">0</text>
<path d="M150.6,1498.8V1503.3" stroke="#000" stroke-width="2"/>
<path d="M180.3,1498.8V1506.8" stroke="#000" stroke-width="2"/>
<text x="180.3" y="1527.71" text-anchor="middle" class="tl" style="font-size:18.1px">200</text>
<path d="M210,1498.8V1503.3" stroke="#000" stroke-width="2"/>
<path d="M239.7,1498.8V1506.8" stroke="#000" stroke-width="2"/>
<text x="239.7" y="1527.71" text-anchor="middle" class="tl" style="font-size:18.1px">400</text>
<path d="M269.4,1498.8V1503.3" stroke="#000" stroke-width="2"/>
<path d="M299.1,1498.8V1506.8" stroke="#000" stroke-width="2"/>
<text x="299.1" y="1527.71" text-anchor="middle" class="tl" style="font-size:18.1px">600</text>
<path d="M328.8,1498.8V1503.3" stroke="#000" stroke-width="2"/>
<path d="M358.5,1498.8V1506.8" stroke="#000" stroke-width="2"/>
<text x="358.5" y="1527.71" text-anchor="middle" class="tl" style="font-size:18.1px">800</text>
<path d="M388.2,1498.8V1503.3" stroke="#000" stroke-width="2"/>
<path d="M417.9,1498.8V1506.8" stroke="#000" stroke-width="2"/>
<text x="417.9" y="1527.71" text-anchor="middle" class="tl" style="font-size:18.1px">1000</text>
<path d="M447.6,1498.8V1503.3" stroke="#000" stroke-width="2"/>
<path d="M477.3,1498.8V1506.8" stroke="#000" stroke-width="2"/>
<text x="477.3" y="1527.71" text-anchor="middle" class="tl" style="font-size:18.1px">1200</text>
<path d="M507,1498.8V1503.3" stroke="#000" stroke-width="2"/>
<path d="M536.7,1498.8V1506.8" stroke="#000" stroke-width="2"/>
<text x="536.7" y="1527.71" text-anchor="middle" class="tl" style="font-size:18.1px">1400</text>
<path d="M566.4,1498.8V1503.3" stroke="#000" stroke-width="2"/>
<path d="M596.1,1498.8V1506.8" stroke="#000" stroke-width="2"/>
<text x="596.1" y="1527.71" text-anchor="middle" class="tl" style="font-size:18.1px">1600</text>
<path d="M625.8,1498.8V1503.3" stroke="#000" stroke-width="2"/>
<text x="344.05" y="1566.4" text-anchor="middle" class="at" style="font-size:23.3px">Width (nm)</text>
<text transform="translate(16.6,1266.3) rotate(-90)" x="0" y="0" text-anchor="middle" class="at" style="font-size:23.85px">Height (nm)</text>
<text x="78.6" y="1471" class="pl">(c)</text>
<defs><clipPath id="clipc"><rect x="96" y="1054" width="200" height="199"/></clipPath><filter id="cmc" x="96" y="1054" width="200" height="199" filterUnits="userSpaceOnUse" color-interpolation-filters="sRGB"><feTurbulence type="turbulence" baseFrequency="0.11" numOctaves="2" seed="7" result="n"/><feColorMatrix in="n" type="matrix" values="0.42 0 0 0 0  0.42 0 0 0 0  0.42 0 0 0 0  0 0 0 0 1" result="ng"/><feComposite in="SourceGraphic" in2="ng" operator="arithmetic" k2="1" k3="1" k4="-0.01" result="s"/><feComponentTransfer in="s"><feFuncR type="table" tableValues="0 0.02 0.05 0.07 0.09 0.11 0.14 0.17 0.2 0.22 0.25 0.29 0.33 0.38 0.42 0.48 0.55 0.61 0.67 0.74 0.8 0.85 0.86 0.87 0.88 0.89 0.9 0.91 0.91 0.92 0.93 0.94 0.94 0.95 0.96 0.96 0.97 0.98 0.98 0.99 0.99 1 1 1 1 1 1 1 1 1 1 1 1 1 1 1 1 1 1 1 1 0.99 0.98 0.97 0.93 0.9 0.86 0.82 0.77 0.73 0.69 0.64 0.59 0.55 0.5 0.45 0.4 0.36 0.33 0.29 0.26 0.22 0.19 0.19 0.19 0.19 0.19 0.19 0.19 0.19 0.19 0.19 0.19 0.19 0.19 0.2 0.2 0.21 0.22 0.22 0.23 0.24 0.25 0.29 0.32 0.36 0.43 0.49 0.53 0.56 0.6 0.65 0.7 0.75 0.81 0.87 0.9 0.92 0.93 0.94 0.94 0.94 0.94 0.94 0.94 0.94 0.95 0.95 0.95"/><feFuncG type="table" tableValues="0 0.01 0.02 0.03 0.05 0.06 0.07 0.07 0.08 0.09 0.09 0.1 0.11 0.12 0.13 0.15 0.16 0.18 0.21 0.24 0.26 0.28 0.28 0.27 0.27 0.26 0.26 0.25 0.25 0.25 0.25 0.25 0.25 0.25 0.24 0.24 0.24 0.24 0.24 0.24 0.24 0.24 0.25 0.26 0.27 0.29 0.33 0.37 0.4 0.44 0.48 0.52 0.56 0.59 0.63 0.66 0.69 0.74 0.78 0.83 0.87 0.89 0.9 0.91 0.91 0.91 0.91 0.91 0.91 0.91 0.91 0.91 0.91 0.91 0.91 0.92 0.92 0.93 0.93 0.94 0.94 0.94 0.94 0.91 0.88 0.84 0.81 0.77 0.75 0.73 0.71 0.69 0.67 0.65 0.62 0.6 0.57 0.55 0.52 0.5 0.49 0.5 0.5 0.51 0.52 0.53 0.57 0.6 0.62 0.64 0.66 0.71 0.75 0.79 0.84 0.88 0.91 0.92 0.93 0.94 0.94 0.94 0.94 0.94 0.94 0.94 0.95 0.95 0.95"/><feFuncB type="table" tableValues="0 0.02 0.05 0.07 0.09 0.11 0.15 0.19 0.23 0.27 0.31 0.38 0.44 0.5 0.57 0.64 0.72 0.79 0.85 0.91 0.96 1 0.98 0.96 0.94 0.92 0.9 0.89 0.86 0.83 0.81 0.78 0.75 0.72 0.69 0.67 0.64 0.61 0.58 0.55 0.53 0.5 0.47 0.45 0.43 0.4 0.39 0.37 0.35 0.34 0.33 0.32 0.31 0.31 0.3 0.29 0.28 0.28 0.28 0.28 0.28 0.29 0.3 0.31 0.31 0.31 0.31 0.31 0.31 0.31 0.31 0.31 0.31 0.31 0.31 0.33 0.34 0.35 0.36 0.37 0.39 0.41 0.44 0.47 0.5 0.54 0.57 0.61 0.64 0.67 0.69 0.72 0.75 0.79 0.82 0.85 0.87 0.9 0.92 0.94 0.96 0.97 0.97 0.97 0.96 0.96 0.95 0.94 0.94 0.94 0.94 0.95 0.95 0.96 0.96 0.96 0.95 0.95 0.95 0.95 0.95 0.95 0.95 0.95 0.95 0.95 0.95 0.95 0.95"/><feFuncA type="linear" slope="0" intercept="1"/></feComponentTransfer></filter><filter id="blcw" x="-20%" y="-20%" width="140%" height="140%"><feGaussianBlur stdDeviation="2"/></filter><filter id="blcd" x="-50%" y="-50%" width="200%" height="200%"><feGaussianBlur stdDeviation="0.9"/></filter><filter id="blcs" x="-20%" y="-20%" width="140%" height="140%"><feGaussianBlur stdDeviation="0.9"/></filter><filter id="blcp" x="-50%" y="-50%" width="200%" height="200%"><feGaussianBlur stdDeviation="1"/></filter><linearGradient id="cbgc" x1="0" y1="0" x2="0" y2="1"><stop offset="0" stop-color="#f2f2f2"/><stop offset="0.08" stop-color="#eeeef2"/><stop offset="0.1" stop-color="#e0e4f4"/><stop offset="0.11" stop-color="#c4ccf4"/><stop offset="0.14" stop-color="#9aaaf0"/><stop offset="0.17" stop-color="#7c98f0"/><stop offset="0.18" stop-color="#5a88f4"/><stop offset="0.2" stop-color="#4080f8"/><stop offset="0.22" stop-color="#3a7cf4"/><stop offset="0.25" stop-color="#3490e0"/><stop offset="0.27" stop-color="#30a0d0"/><stop offset="0.29" stop-color="#30b0b8"/><stop offset="0.32" stop-color="#30c0a0"/><stop offset="0.34" stop-color="#30d888"/><stop offset="0.36" stop-color="#30f070"/><stop offset="0.38" stop-color="#48f060"/><stop offset="0.4" stop-color="#60ec58"/><stop offset="0.42" stop-color="#80e850"/><stop offset="0.44" stop-color="#a0e850"/><stop offset="0.46" stop-color="#c0e850"/><stop offset="0.49" stop-color="#e0e850"/><stop offset="0.51" stop-color="#f8e850"/><stop offset="0.53" stop-color="#ffe048"/><stop offset="0.56" stop-color="#ffb048"/><stop offset="0.59" stop-color="#ff9050"/><stop offset="0.62" stop-color="#ff6858"/><stop offset="0.65" stop-color="#ff4868"/><stop offset="0.68" stop-color="#ff3c80"/><stop offset="0.72" stop-color="#f83ca0"/><stop offset="0.75" stop-color="#f040c0"/><stop offset="0.79" stop-color="#e840e0"/><stop offset="0.84" stop-color="#d848ff"/><stop offset="0.86" stop-color="#a030d0"/><stop offset="0.89" stop-color="#6a2090"/><stop offset="0.92" stop-color="#401850"/><stop offset="0.96" stop-color="#201020"/><stop offset="1" stop-color="#000000"/></linearGradient></defs>
<g filter="url(#cmc)"><g clip-path="url(#clipc)">
<rect x="96" y="1054" width="200" height="199" fill="#a3a3a3"/>
<g filter="url(#blcw)">
<ellipse cx="163.6" cy="1097.58" rx="7" ry="5.97" fill="#cccccc"/>
<ellipse cx="193.6" cy="1119.87" rx="6" ry="5.97" fill="#cccccc"/>
<ellipse cx="171" cy="1142.36" rx="6" ry="6.96" fill="#cccccc"/>
<ellipse cx="144.8" cy="1119.87" rx="5" ry="4.97" fill="#cccccc"/>
<ellipse cx="261.2" cy="1075.29" rx="7" ry="4.97" fill="#cccccc"/>
<ellipse cx="231" cy="1216.78" rx="5" ry="4.97" fill="#cccccc"/>
<ellipse cx="114.8" cy="1082.66" rx="5" ry="4.97" fill="#cccccc"/>
<ellipse cx="272" cy="1179.37" rx="6" ry="5.97" fill="#cccccc"/>
<ellipse cx="126" cy="1173.4" rx="6" ry="4.97" fill="#cccccc"/>
<ellipse cx="188" cy="1229.12" rx="6" ry="5.97" fill="#cccccc"/>
<ellipse cx="248" cy="1153.5" rx="6" ry="4.97" fill="#cccccc"/>
<ellipse cx="142" cy="1225.14" rx="6" ry="5.97" fill="#cccccc"/>
</g>
<g filter="url(#blcd)">
<circle cx="160.75" cy="1177.39" r="1.01" fill="#e0e0e0"/>
<circle cx="260.43" cy="1252.8" r="1.37" fill="#d0d0d0"/>
<circle cx="106.95" cy="1092.57" r="1.03" fill="#dadada"/>
<circle cx="169.13" cy="1216.3" r="2.06" fill="#d3d3d3"/>
<circle cx="129.36" cy="1123.19" r="1.04" fill="#d9d9d9"/>
<circle cx="133.96" cy="1083.6" r="2.24" fill="#d5d5d5"/>
<circle cx="285.21" cy="1249.07" r="1.93" fill="#d1d1d1"/>
<circle cx="125.54" cy="1103.07" r="2.03" fill="#d6d6d6"/>
<circle cx="155.58" cy="1057.47" r="1.49" fill="#d4d4d4"/>
<circle cx="109.87" cy="1103.65" r="1.41" fill="#d4d4d4"/>
<circle cx="194.78" cy="1166.56" r="2.19" fill="#d2d2d2"/>
<circle cx="114.98" cy="1114.33" r="1.3" fill="#d8d8d8"/>
<circle cx="191.25" cy="1117.89" r="1.13" fill="#dbdbdb"/>
<circle cx="220.8" cy="1178.02" r="1.98" fill="#dddddd"/>
<circle cx="103.02" cy="1091.56" r="1.66" fill="#dadada"/>
<circle cx="196.84" cy="1154.51" r="1.43" fill="#d1d1d1"/>
<circle cx="270.79" cy="1249.58" r="1.7" fill="#d6d6d6"/>
<circle cx="121.68" cy="1173.64" r="1.3" fill="#d9d9d9"/>
<circle cx="151.7" cy="1146.99" r="2.21" fill="#d2d2d2"/>
<circle cx="202.98" cy="1117.41" r="1.68" fill="#dedede"/>
<circle cx="194.49" cy="1245.96" r="1.57" fill="#d5d5d5"/>
<circle cx="225" cy="1153.72" r="1.94" fill="#d2d2d2"/>
<circle cx="98.71" cy="1138.09" r="1.09" fill="#d1d1d1"/>
<circle cx="215.58" cy="1191.37" r="2.27" fill="#dadada"/>
<circle cx="207.06" cy="1122.52" r="1.67" fill="#d2d2d2"/>
<circle cx="116.5" cy="1160.43" r="1.88" fill="#d2d2d2"/>
<circle cx="243.94" cy="1159.45" r="1.43" fill="#dddddd"/>
<circle cx="100.42" cy="1107.48" r="1.45" fill="#dadada"/>
<circle cx="146.53" cy="1249.49" r="1.15" fill="#d5d5d5"/>
<circle cx="189.94" cy="1202.14" r="1.36" fill="#cfcfcf"/>
<circle cx="244.83" cy="1210.65" r="1.81" fill="#dedede"/>
<circle cx="174.98" cy="1143.39" r="1.7" fill="#cfcfcf"/>
<circle cx="261.57" cy="1066.29" r="1.11" fill="#dfdfdf"/>
<circle cx="186.37" cy="1083.05" r="2.24" fill="#d0d0d0"/>
<circle cx="186.67" cy="1056.88" r="1.2" fill="#d6d6d6"/>
<circle cx="236.17" cy="1079.74" r="2.07" fill="#d9d9d9"/>
<circle cx="230.54" cy="1246.07" r="1.67" fill="#cccccc"/>
<circle cx="107.23" cy="1227.35" r="1.15" fill="#d2d2d2"/>
<circle cx="226.61" cy="1200.68" r="2.06" fill="#d7d7d7"/>
<circle cx="161.37" cy="1233.38" r="1.03" fill="#d1d1d1"/>
<circle cx="293.41" cy="1091.44" r="2.18" fill="#d8d8d8"/>
<circle cx="222.43" cy="1179.98" r="1.63" fill="#dddddd"/>
<circle cx="107.91" cy="1110.83" r="2.08" fill="#dbdbdb"/>
<circle cx="224.33" cy="1191.25" r="1.41" fill="#d8d8d8"/>
<circle cx="210.01" cy="1216.06" r="1.32" fill="#d2d2d2"/>
<circle cx="160.15" cy="1095.09" r="2.02" fill="#d6d6d6"/>
<circle cx="109.53" cy="1231.61" r="1.73" fill="#dddddd"/>
<circle cx="244.88" cy="1133.22" r="1.45" fill="#d7d7d7"/>
<circle cx="284.1" cy="1213.54" r="2.34" fill="#d8d8d8"/>
<circle cx="204.99" cy="1113.77" r="1.77" fill="#d7d7d7"/>
<circle cx="248.43" cy="1220.71" r="2.26" fill="#d1d1d1"/>
<circle cx="225.39" cy="1067.18" r="1.39" fill="#d8d8d8"/>
<circle cx="96.23" cy="1225.82" r="1.75" fill="#d1d1d1"/>
<circle cx="180.35" cy="1203.76" r="1.13" fill="#dfdfdf"/>
<circle cx="227.51" cy="1159.24" r="1.27" fill="#d9d9d9"/>
<circle cx="140.4" cy="1067.84" r="2.19" fill="#d3d3d3"/>
<circle cx="250.15" cy="1150.31" r="1.79" fill="#d4d4d4"/>
<circle cx="259.9" cy="1209.24" r="1.54" fill="#d7d7d7"/>
<circle cx="151.02" cy="1235.15" r="1.64" fill="#d8d8d8"/>
<circle cx="210.93" cy="1073.52" r="1.47" fill="#dcdcdc"/>
<circle cx="213.81" cy="1102.78" r="1.23" fill="#dedede"/>
<circle cx="258.44" cy="1230.05" r="1.25" fill="#d7d7d7"/>
<circle cx="183.61" cy="1138.71" r="1.51" fill="#d9d9d9"/>
<circle cx="210.55" cy="1068.61" r="1.06" fill="#d0d0d0"/>
<circle cx="258.06" cy="1225.33" r="1.94" fill="#d3d3d3"/>
<circle cx="202.36" cy="1181.49" r="1.24" fill="#e0e0e0"/>
<circle cx="279.47" cy="1061.04" r="1.36" fill="#d2d2d2"/>
<circle cx="268.02" cy="1234.88" r="2.32" fill="#d5d5d5"/>
<circle cx="204.82" cy="1093.28" r="1.04" fill="#d9d9d9"/>
<circle cx="205.5" cy="1228.55" r="2.29" fill="#d7d7d7"/>
</g>
<g filter="url(#blcs)" fill="none" stroke-linecap="round" stroke-linejoin="round">
<path d="M132.4,1054L130,1153.5L132,1183.35" stroke="#808080" stroke-width="7.8"/>
<path d="M132.4,1054L130,1153.5L132,1183.35" stroke="#6a6a6a" stroke-width="3.9"/>
<path d="M132.4,1054L130,1153.5L132,1183.35" stroke="#545454" stroke-width="1.95"/>
<path d="M114,1068.92L146,1096.79L168.8,1118.48L200,1142.56" stroke="#808080" stroke-width="7.8"/>
<path d="M114,1068.92L146,1096.79L168.8,1118.48L200,1142.56" stroke="#606060" stroke-width="3.9"/>
<path d="M114,1068.92L146,1096.79L168.8,1118.48L200,1142.56" stroke="#404040" stroke-width="1.95"/>
<path d="M108.8,1121.46L152.4,1090.22" stroke="#808080" stroke-width="6.5"/>
<path d="M108.8,1121.46L152.4,1090.22" stroke="#6c6c6c" stroke-width="3.25"/>
<path d="M108.8,1121.46L152.4,1090.22" stroke="#595959" stroke-width="1.62"/>
<path d="M133.6,1188.92L102.8,1253" stroke="#808080" stroke-width="7.8"/>
<path d="M133.6,1188.92L102.8,1253" stroke="#5d5d5d" stroke-width="3.9"/>
<path d="M133.6,1188.92L102.8,1253" stroke="#3b3b3b" stroke-width="1.95"/>
<path d="M94,1184.35L140,1166.63L183.8,1154.49" stroke="#808080" stroke-width="6.5"/>
<path d="M94,1184.35L140,1166.63L183.8,1154.49" stroke="#6a6a6a" stroke-width="3.25"/>
<path d="M94,1184.35L140,1166.63L183.8,1154.49" stroke="#545454" stroke-width="1.62"/>
<path d="M153.8,1150.12L138.8,1172.4" stroke="#808080" stroke-width="6.5"/>
<path d="M153.8,1150.12L138.8,1172.4" stroke="#636363" stroke-width="3.25"/>
<path d="M153.8,1150.12L138.8,1172.4" stroke="#474747" stroke-width="1.62"/>
<path d="M156.8,1194.89L164.4,1253" stroke="#808080" stroke-width="5.72"/>
<path d="M156.8,1194.89L164.4,1253" stroke="#707070" stroke-width="2.86"/>
<path d="M156.8,1194.89L164.4,1253" stroke="#616161" stroke-width="1.43"/>
<path d="M230,1064.94L213.6,1121.46L212.2,1140.96" stroke="#808080" stroke-width="7.28"/>
<path d="M230,1064.94L213.6,1121.46L212.2,1140.96" stroke="#636363" stroke-width="3.64"/>
<path d="M230,1064.94L213.6,1121.46L212.2,1140.96" stroke="#474747" stroke-width="1.82"/>
<path d="M196,1101.76L236,1111.71" stroke="#808080" stroke-width="5.72"/>
<path d="M196,1101.76L236,1111.71" stroke="#636363" stroke-width="2.86"/>
<path d="M196,1101.76L236,1111.71" stroke="#474747" stroke-width="1.43"/>
<path d="M243.6,1140.96L296,1106.54" stroke="#808080" stroke-width="6.5"/>
<path d="M243.6,1140.96L296,1106.54" stroke="#6c6c6c" stroke-width="3.25"/>
<path d="M243.6,1140.96L296,1106.54" stroke="#595959" stroke-width="1.62"/>
<path d="M278.2,1218.57L239.2,1253" stroke="#808080" stroke-width="7.8"/>
<path d="M278.2,1218.57L239.2,1253" stroke="#505050" stroke-width="3.9"/>
<path d="M278.2,1218.57L239.2,1253" stroke="#212121" stroke-width="1.95"/>
<path d="M252.8,1193.1L239.4,1212.6" stroke="#808080" stroke-width="6.5"/>
<path d="M252.8,1193.1L239.4,1212.6" stroke="#606060" stroke-width="3.25"/>
<path d="M252.8,1193.1L239.4,1212.6" stroke="#404040" stroke-width="1.62"/>
<path d="M224,1154.49L213.6,1188.92L215.2,1253" stroke="#808080" stroke-width="6.5"/>
<path d="M224,1154.49L213.6,1188.92L215.2,1253" stroke="#707070" stroke-width="3.25"/>
<path d="M224,1154.49L213.6,1188.92L215.2,1253" stroke="#616161" stroke-width="1.62"/>
<path d="M213.6,1188.92L228.6,1253" stroke="#808080" stroke-width="5.2"/>
<path d="M213.6,1188.92L228.6,1253" stroke="#747474" stroke-width="2.6"/>
<path d="M213.6,1188.92L228.6,1253" stroke="#696969" stroke-width="1.3"/>
<path d="M266.6,1162.06L284.6,1153.5" stroke="#808080" stroke-width="6.5"/>
<path d="M266.6,1162.06L284.6,1153.5" stroke="#636363" stroke-width="3.25"/>
<path d="M266.6,1162.06L284.6,1153.5" stroke="#474747" stroke-width="1.62"/>
<path d="M240,1169.42L296,1197.28" stroke="#808080" stroke-width="5.72"/>
<path d="M240,1169.42L296,1197.28" stroke="#717171" stroke-width="2.86"/>
<path d="M240,1169.42L296,1197.28" stroke="#636363" stroke-width="1.43"/>
<path d="M114.8,1179.37L294.8,1134.99" stroke="#808080" stroke-width="5.2"/>
<path d="M114.8,1179.37L294.8,1134.99" stroke="#747474" stroke-width="2.6"/>
<path d="M114.8,1179.37L294.8,1134.99" stroke="#696969" stroke-width="1.3"/>
<path d="M204.6,1056.59L212,1060.96" stroke="#808080" stroke-width="5.2"/>
<path d="M204.6,1056.59L212,1060.96" stroke="#606060" stroke-width="2.6"/>
<path d="M204.6,1056.59L212,1060.96" stroke="#404040" stroke-width="1.3"/>
<path d="M166,1054L180,1093.8" stroke="#808080" stroke-width="5.2"/>
<path d="M166,1054L180,1093.8" stroke="#717171" stroke-width="2.6"/>
<path d="M166,1054L180,1093.8" stroke="#636363" stroke-width="1.3"/>
<path d="M242,1054L294,1093.8" stroke="#808080" stroke-width="5.72"/>
<path d="M242,1054L294,1093.8" stroke="#707070" stroke-width="2.86"/>
<path d="M242,1054L294,1093.8" stroke="#616161" stroke-width="1.43"/>
<path d="M96,1083.85L120,1054" stroke="#808080" stroke-width="5.2"/>
<path d="M96,1083.85L120,1054" stroke="#717171" stroke-width="2.6"/>
<path d="M96,1083.85L120,1054" stroke="#636363" stroke-width="1.3"/>
<path d="M176,1253L196,1203.25" stroke="#808080" stroke-width="5.2"/>
<path d="M176,1253L196,1203.25" stroke="#717171" stroke-width="2.6"/>
<path d="M176,1253L196,1203.25" stroke="#636363" stroke-width="1.3"/>
</g>
<g filter="url(#blcd)">
<circle cx="262.4" cy="1082.66" r="5" fill="#808080"/>
<circle cx="262.4" cy="1082.66" r="3.1" fill="#808080"/>
<circle cx="262.4" cy="1082.66" r="1.8" fill="#333333"/>
<circle cx="227" cy="1129.02" r="3.6" fill="#808080"/>
<circle cx="227" cy="1129.02" r="2.23" fill="#808080"/>
<circle cx="227" cy="1129.02" r="1.3" fill="#474747"/>
<circle cx="278.2" cy="1219.17" r="5.6" fill="#808080"/>
<circle cx="278.2" cy="1219.17" r="3.47" fill="#808080"/>
<circle cx="278.2" cy="1219.17" r="2.02" fill="#292929"/>
<circle cx="117" cy="1201.46" r="3.6" fill="#808080"/>
<circle cx="117" cy="1201.46" r="2.23" fill="#808080"/>
<circle cx="117" cy="1201.46" r="1.3" fill="#292929"/>
<circle cx="168.8" cy="1118.48" r="4" fill="#808080"/>
<circle cx="168.8" cy="1118.48" r="2.48" fill="#808080"/>
<circle cx="168.8" cy="1118.48" r="1.44" fill="#3b3b3b"/>
<circle cx="140" cy="1166.63" r="3.6" fill="#808080"/>
<circle cx="140" cy="1166.63" r="2.23" fill="#808080"/>
<circle cx="140" cy="1166.63" r="1.3" fill="#424242"/>
<circle cx="102" cy="1089.82" r="3" fill="#808080"/>
<circle cx="102" cy="1089.82" r="1.86" fill="#808080"/>
<circle cx="102" cy="1089.82" r="1.08" fill="#474747"/>
<circle cx="175.2" cy="1181.36" r="3" fill="#808080"/>
<circle cx="175.2" cy="1181.36" r="1.86" fill="#808080"/>
<circle cx="175.2" cy="1181.36" r="1.08" fill="#4c4c4c"/>
<circle cx="216" cy="1106.54" r="3.6" fill="#808080"/>
<circle cx="216" cy="1106.54" r="2.23" fill="#808080"/>
<circle cx="216" cy="1106.54" r="1.3" fill="#474747"/>
<circle cx="272" cy="1247.03" r="3" fill="#808080"/>
<circle cx="272" cy="1247.03" r="1.86" fill="#808080"/>
<circle cx="272" cy="1247.03" r="1.08" fill="#333333"/>
</g>
</g></g>
<path d="M254.2,1084.85L270.8,1081.86" stroke="#111" stroke-width="1" stroke-dasharray="2,0.9"/>
<text x="275.6" y="1091.83" class="pn">1</text>
<path d="M273.6,1215.59L279.6,1227.53" stroke="#111" stroke-width="1" stroke-dasharray="2,0.9"/>
<text x="285" y="1223.16" class="pn">2</text>
<path d="M219.8,1134.79L234.8,1141.56" stroke="#111" stroke-width="1" stroke-dasharray="2,0.9"/>
<text x="226" y="1131.62" class="pn">3</text>
<path d="M95.6,1253V1053.6H296" fill="none" stroke="#3a3a3a" stroke-width="1"/>
<path d="M96,1253.4H296.4V1054" fill="none" stroke="#666" stroke-width="0.8"/>
<path d="M96,1054v-3.6" stroke="#888" stroke-width="0.8"/>
<text x="96.4" y="1048.21" class="il" style="font-size:6.81px">0 µm</text>
<path d="M136,1054v-3.6" stroke="#888" stroke-width="0.8"/>
<text x="136.4" y="1048.21" class="il" style="font-size:6.81px">2</text>
<path d="M176,1054v-3.6" stroke="#888" stroke-width="0.8"/>
<text x="176.4" y="1048.21" class="il" style="font-size:6.81px">4</text>
<path d="M216,1054v-3.6" stroke="#888" stroke-width="0.8"/>
<text x="216.4" y="1048.21" class="il" style="font-size:6.81px">6</text>
<path d="M256,1054v-3.6" stroke="#888" stroke-width="0.8"/>
<text x="256.4" y="1048.21" class="il" style="font-size:6.81px">8</text>
<path d="M296,1054v-3.6" stroke="#888" stroke-width="0.8"/>
<path d="M96,1054h-3.6" stroke="#888" stroke-width="0.8"/>
<text x="90.89" y="1061.15" text-anchor="end" class="il" style="font-size:6.81px">0</text>
<path d="M96,1093.8h-3.6" stroke="#888" stroke-width="0.8"/>
<text x="90.89" y="1100.95" text-anchor="end" class="il" style="font-size:6.81px">2</text>
<path d="M96,1133.6h-3.6" stroke="#888" stroke-width="0.8"/>
<text x="90.89" y="1140.75" text-anchor="end" class="il" style="font-size:6.81px">4</text>
<path d="M96,1173.4h-3.6" stroke="#888" stroke-width="0.8"/>
<text x="90.89" y="1180.55" text-anchor="end" class="il" style="font-size:6.81px">6</text>
<path d="M96,1213.2h-3.6" stroke="#888" stroke-width="0.8"/>
<text x="90.89" y="1220.35" text-anchor="end" class="il" style="font-size:6.81px">8</text>
<path d="M96,1253h-3.6" stroke="#888" stroke-width="0.8"/>
<rect x="301.4" y="1054" width="8.1" height="199" fill="url(#cbgc)" stroke="#3a3a3a" stroke-width="0.9"/>
<path d="M309.5,1054h4.13" stroke="#333" stroke-width="0.8"/>
<text x="327.17" y="1059.88" text-anchor="end" class="cl" style="font-size:6.81px">37.2</text>
<text x="329.22" y="1059.88" class="cl" style="font-size:6.81px">nm</text>
<path d="M309.5,1065.77h4.13" stroke="#333" stroke-width="0.8"/>
<text x="327.17" y="1071.65" text-anchor="end" class="cl" style="font-size:6.81px">35.0</text>
<path d="M309.5,1092.52h4.13" stroke="#333" stroke-width="0.8"/>
<text x="327.17" y="1098.4" text-anchor="end" class="cl" style="font-size:6.81px">30.0</text>
<path d="M309.5,1119.26h4.13" stroke="#333" stroke-width="0.8"/>
<text x="327.17" y="1125.14" text-anchor="end" class="cl" style="font-size:6.81px">25.0</text>
<path d="M309.5,1146.01h4.13" stroke="#333" stroke-width="0.8"/>
<text x="327.17" y="1151.89" text-anchor="end" class="cl" style="font-size:6.81px">20.0</text>
<path d="M309.5,1172.76h4.13" stroke="#333" stroke-width="0.8"/>
<text x="327.17" y="1178.64" text-anchor="end" class="cl" style="font-size:6.81px">15.0</text>
<path d="M309.5,1199.51h4.13" stroke="#333" stroke-width="0.8"/>
<text x="327.17" y="1205.39" text-anchor="end" class="cl" style="font-size:6.81px">10.0</text>
<path d="M309.5,1226.25h4.13" stroke="#333" stroke-width="0.8"/>
<text x="327.17" y="1232.13" text-anchor="end" class="cl" style="font-size:6.81px">5.0</text>
<path d="M309.5,1253h4.13" stroke="#333" stroke-width="0.8"/>
<text x="327.17" y="1252.6" text-anchor="end" class="cl" style="font-size:6.81px">0.0</text>
<path d="M120.1,1322.4L127.3,1323.2L134,1321.8L140.3,1323.2L146.6,1326.1L153.2,1330.4L159,1336.8L165.6,1342.5L171.9,1347.7L178.3,1354L184.3,1361.5L190.6,1369.3L197,1377.9L203,1386.5L209.4,1395.2L216,1405.3L222.3,1416.8L228.6,1427.7L235.3,1439.2L241.6,1449L248.2,1457.6L254.8,1465.1L261.2,1471.4L267.5,1472.9L274.1,1471.4L280.4,1464.2L287.1,1451.3L293.4,1432.6L299.1,1410.2L305.8,1387.4L311.8,1366.8L318.3,1348.7L324.7,1338.6L331.4,1336.2L337.4,1335.6L344.1,1333L350.1,1330.2L356.6,1327L362.6,1324.5L368.6,1320.5L375.1,1318.1L381.7,1312.4L388.4,1308.4L394.4,1310.4L400.9,1316.9" stroke="#aaaaaa" stroke-width="0.7" fill="none" stroke-dasharray="2.2,1.4"/>
<rect x="117" y="1319.3" width="6.2" height="6.2" fill="#444444"/>
<rect x="124.2" y="1320.1" width="6.2" height="6.2" fill="#444444"/>
<rect x="130.9" y="1318.7" width="6.2" height="6.2" fill="#444444"/>
<rect x="137.2" y="1320.1" width="6.2" height="6.2" fill="#444444"/>
<rect x="143.5" y="1323" width="6.2" height="6.2" fill="#444444"/>
<rect x="150.1" y="1327.3" width="6.2" height="6.2" fill="#444444"/>
<rect x="155.9" y="1333.7" width="6.2" height="6.2" fill="#444444"/>
<rect x="162.5" y="1339.4" width="6.2" height="6.2" fill="#444444"/>
<rect x="168.8" y="1344.6" width="6.2" height="6.2" fill="#444444"/>
<rect x="175.2" y="1350.9" width="6.2" height="6.2" fill="#444444"/>
<rect x="181.2" y="1358.4" width="6.2" height="6.2" fill="#444444"/>
<rect x="187.5" y="1366.2" width="6.2" height="6.2" fill="#444444"/>
<rect x="193.9" y="1374.8" width="6.2" height="6.2" fill="#444444"/>
<rect x="199.9" y="1383.4" width="6.2" height="6.2" fill="#444444"/>
<rect x="206.3" y="1392.1" width="6.2" height="6.2" fill="#444444"/>
<rect x="212.9" y="1402.2" width="6.2" height="6.2" fill="#444444"/>
<rect x="219.2" y="1413.7" width="6.2" height="6.2" fill="#444444"/>
<rect x="225.5" y="1424.6" width="6.2" height="6.2" fill="#444444"/>
<rect x="232.2" y="1436.1" width="6.2" height="6.2" fill="#444444"/>
<rect x="238.5" y="1445.9" width="6.2" height="6.2" fill="#444444"/>
<rect x="245.1" y="1454.5" width="6.2" height="6.2" fill="#444444"/>
<rect x="251.7" y="1462" width="6.2" height="6.2" fill="#444444"/>
<rect x="258.1" y="1468.3" width="6.2" height="6.2" fill="#444444"/>
<rect x="264.4" y="1469.8" width="6.2" height="6.2" fill="#444444"/>
<rect x="271" y="1468.3" width="6.2" height="6.2" fill="#444444"/>
<rect x="277.3" y="1461.1" width="6.2" height="6.2" fill="#444444"/>
<rect x="284" y="1448.2" width="6.2" height="6.2" fill="#444444"/>
<rect x="290.3" y="1429.5" width="6.2" height="6.2" fill="#444444"/>
<rect x="296" y="1407.1" width="6.2" height="6.2" fill="#444444"/>
<rect x="302.7" y="1384.3" width="6.2" height="6.2" fill="#444444"/>
<rect x="308.7" y="1363.7" width="6.2" height="6.2" fill="#444444"/>
<rect x="315.2" y="1345.6" width="6.2" height="6.2" fill="#444444"/>
<rect x="321.6" y="1335.5" width="6.2" height="6.2" fill="#444444"/>
<rect x="328.3" y="1333.1" width="6.2" height="6.2" fill="#444444"/>
<rect x="334.3" y="1332.5" width="6.2" height="6.2" fill="#444444"/>
<rect x="341" y="1329.9" width="6.2" height="6.2" fill="#444444"/>
<rect x="347" y="1327.1" width="6.2" height="6.2" fill="#444444"/>
<rect x="353.5" y="1323.9" width="6.2" height="6.2" fill="#444444"/>
<rect x="359.5" y="1321.4" width="6.2" height="6.2" fill="#444444"/>
<rect x="365.5" y="1317.4" width="6.2" height="6.2" fill="#444444"/>
<rect x="372" y="1315" width="6.2" height="6.2" fill="#444444"/>
<rect x="378.6" y="1309.3" width="6.2" height="6.2" fill="#444444"/>
<rect x="385.3" y="1305.3" width="6.2" height="6.2" fill="#444444"/>
<rect x="391.3" y="1307.3" width="6.2" height="6.2" fill="#444444"/>
<rect x="397.8" y="1313.8" width="6.2" height="6.2" fill="#444444"/>
<path d="M120.7,1306.8L127.3,1302.2L133.1,1298.2L139.7,1296.5L146,1299.4L152.4,1301.7L159,1308L165.6,1316L171.4,1324.7L177.7,1332.7L184,1341.9L190.6,1354L196.4,1364.4L202.7,1374.2L208.8,1384.5L215.1,1396.6L221.4,1408.1L227.5,1425.4L233.8,1440.4L240.4,1452.7L246.8,1463.4L253.1,1471.4L259.7,1474.3L266,1468L272.1,1451.9L278.4,1436.3L284.4,1416.8L291.1,1401.1L297.7,1385.4L303.8,1373.9L309.8,1360.8L315.9,1349.7L322.3,1340.2L328.3,1331.6L334.4,1326.1L340.8,1314.9L347.1,1313.5L353.5,1307L360,1308.4L366.2,1308.4L372.3,1310L378.7,1309.6" stroke="#e86060" stroke-width="0.7" fill="none" stroke-dasharray="2.2,1.4"/>
<circle cx="120.7" cy="1306.8" r="3.15" fill="#ee3333"/>
<circle cx="127.3" cy="1302.2" r="3.15" fill="#ee3333"/>
<circle cx="133.1" cy="1298.2" r="3.15" fill="#ee3333"/>
<circle cx="139.7" cy="1296.5" r="3.15" fill="#ee3333"/>
<circle cx="146" cy="1299.4" r="3.15" fill="#ee3333"/>
<circle cx="152.4" cy="1301.7" r="3.15" fill="#ee3333"/>
<circle cx="159" cy="1308" r="3.15" fill="#ee3333"/>
<circle cx="165.6" cy="1316" r="3.15" fill="#ee3333"/>
<circle cx="171.4" cy="1324.7" r="3.15" fill="#ee3333"/>
<circle cx="177.7" cy="1332.7" r="3.15" fill="#ee3333"/>
<circle cx="184" cy="1341.9" r="3.15" fill="#ee3333"/>
<circle cx="190.6" cy="1354" r="3.15" fill="#ee3333"/>
<circle cx="196.4" cy="1364.4" r="3.15" fill="#ee3333"/>
<circle cx="202.7" cy="1374.2" r="3.15" fill="#ee3333"/>
<circle cx="208.8" cy="1384.5" r="3.15" fill="#ee3333"/>
<circle cx="215.1" cy="1396.6" r="3.15" fill="#ee3333"/>
<circle cx="221.4" cy="1408.1" r="3.15" fill="#ee3333"/>
<circle cx="227.5" cy="1425.4" r="3.15" fill="#ee3333"/>
<circle cx="233.8" cy="1440.4" r="3.15" fill="#ee3333"/>
<circle cx="240.4" cy="1452.7" r="3.15" fill="#ee3333"/>
<circle cx="246.8" cy="1463.4" r="3.15" fill="#ee3333"/>
<circle cx="253.1" cy="1471.4" r="3.15" fill="#ee3333"/>
<circle cx="259.7" cy="1474.3" r="3.15" fill="#ee3333"/>
<circle cx="266" cy="1468" r="3.15" fill="#ee3333"/>
<circle cx="272.1" cy="1451.9" r="3.15" fill="#ee3333"/>
<circle cx="278.4" cy="1436.3" r="3.15" fill="#ee3333"/>
<circle cx="284.4" cy="1416.8" r="3.15" fill="#ee3333"/>
<circle cx="291.1" cy="1401.1" r="3.15" fill="#ee3333"/>
<circle cx="297.7" cy="1385.4" r="3.15" fill="#ee3333"/>
<circle cx="303.8" cy="1373.9" r="3.15" fill="#ee3333"/>
<circle cx="309.8" cy="1360.8" r="3.15" fill="#ee3333"/>
<circle cx="315.9" cy="1349.7" r="3.15" fill="#ee3333"/>
<circle cx="322.3" cy="1340.2" r="3.15" fill="#ee3333"/>
<circle cx="328.3" cy="1331.6" r="3.15" fill="#ee3333"/>
<circle cx="334.4" cy="1326.1" r="3.15" fill="#ee3333"/>
<circle cx="340.8" cy="1314.9" r="3.15" fill="#ee3333"/>
<circle cx="347.1" cy="1313.5" r="3.15" fill="#ee3333"/>
<circle cx="353.5" cy="1307" r="3.15" fill="#ee3333"/>
<circle cx="360" cy="1308.4" r="3.15" fill="#ee3333"/>
<circle cx="366.2" cy="1308.4" r="3.15" fill="#ee3333"/>
<circle cx="372.3" cy="1310" r="3.15" fill="#ee3333"/>
<circle cx="378.7" cy="1309.6" r="3.15" fill="#ee3333"/>
<path d="M120.7,1308L127.3,1304L134,1300.2L140.3,1302.2L146,1307.4L152.7,1312.6L159,1319.5L165.6,1328.1L171.9,1336.2L178.3,1341.9L184,1343.4L190.6,1345.4L197,1347.1L203,1349.1L209.4,1352L215.7,1356.3L222.3,1366.4L228.6,1380.2L234.7,1402.4L241,1425.4L247.3,1442.1L254,1449L260.3,1442.7L266.3,1432.6L272.7,1419.1L279,1409.6L285.6,1402.7L291.7,1394.6L298.1,1384.6L304.2,1373.3L310.2,1361.2L316.7,1352.7L323.9,1342.7L330.4,1335.6L336.4,1330.2L342.9,1325.5L349.1,1322.5L355.5,1321.5L361.6,1319.5L368,1316.1L374.3,1314.1L380.7,1317.5L387.2,1323.5" stroke="#88b0ee" stroke-width="0.8" fill="none" stroke-dasharray="2.2,1.4"/>
<path d="M120.7,1303.82L124.88,1311.34L116.52,1311.34Z" fill="#1c6fe0"/>
<path d="M127.3,1299.82L131.48,1307.34L123.12,1307.34Z" fill="#1c6fe0"/>
<path d="M134,1296.02L138.18,1303.54L129.82,1303.54Z" fill="#1c6fe0"/>
<path d="M140.3,1298.02L144.48,1305.54L136.12,1305.54Z" fill="#1c6fe0"/>
<path d="M146,1303.22L150.18,1310.74L141.82,1310.74Z" fill="#1c6fe0"/>
<path d="M152.7,1308.42L156.88,1315.94L148.52,1315.94Z" fill="#1c6fe0"/>
<path d="M159,1315.32L163.18,1322.84L154.82,1322.84Z" fill="#1c6fe0"/>
<path d="M165.6,1323.92L169.78,1331.44L161.42,1331.44Z" fill="#1c6fe0"/>
<path d="M171.9,1332.02L176.08,1339.54L167.72,1339.54Z" fill="#1c6fe0"/>
<path d="M178.3,1337.72L182.48,1345.24L174.12,1345.24Z" fill="#1c6fe0"/>
<path d="M184,1339.22L188.18,1346.74L179.82,1346.74Z" fill="#1c6fe0"/>
<path d="M190.6,1341.22L194.78,1348.74L186.42,1348.74Z" fill="#1c6fe0"/>
<path d="M197,1342.92L201.18,1350.44L192.82,1350.44Z" fill="#1c6fe0"/>
<path d="M203,1344.92L207.18,1352.44L198.82,1352.44Z" fill="#1c6fe0"/>
<path d="M209.4,1347.82L213.58,1355.34L205.22,1355.34Z" fill="#1c6fe0"/>
<path d="M215.7,1352.12L219.88,1359.64L211.52,1359.64Z" fill="#1c6fe0"/>
<path d="M222.3,1362.22L226.48,1369.74L218.12,1369.74Z" fill="#1c6fe0"/>
<path d="M228.6,1376.02L232.78,1383.54L224.42,1383.54Z" fill="#1c6fe0"/>
<path d="M234.7,1398.22L238.88,1405.74L230.52,1405.74Z" fill="#1c6fe0"/>
<path d="M241,1421.22L245.18,1428.74L236.82,1428.74Z" fill="#1c6fe0"/>
<path d="M247.3,1437.92L251.48,1445.44L243.12,1445.44Z" fill="#1c6fe0"/>
<path d="M254,1444.82L258.18,1452.34L249.82,1452.34Z" fill="#1c6fe0"/>
<path d="M260.3,1438.52L264.48,1446.04L256.12,1446.04Z" fill="#1c6fe0"/>
<path d="M266.3,1428.42L270.48,1435.94L262.12,1435.94Z" fill="#1c6fe0"/>
<path d="M272.7,1414.92L276.88,1422.44L268.52,1422.44Z" fill="#1c6fe0"/>
<path d="M279,1405.42L283.18,1412.94L274.82,1412.94Z" fill="#1c6fe0"/>
<path d="M285.6,1398.52L289.78,1406.04L281.42,1406.04Z" fill="#1c6fe0"/>
<path d="M291.7,1390.42L295.88,1397.94L287.52,1397.94Z" fill="#1c6fe0"/>
<path d="M298.1,1380.42L302.28,1387.94L293.92,1387.94Z" fill="#1c6fe0"/>
<path d="M304.2,1369.12L308.38,1376.64L300.02,1376.64Z" fill="#1c6fe0"/>
<path d="M310.2,1357.02L314.38,1364.54L306.02,1364.54Z" fill="#1c6fe0"/>
<path d="M316.7,1348.52L320.88,1356.04L312.52,1356.04Z" fill="#1c6fe0"/>
<path d="M323.9,1338.52L328.08,1346.04L319.72,1346.04Z" fill="#1c6fe0"/>
<path d="M330.4,1331.42L334.58,1338.94L326.22,1338.94Z" fill="#1c6fe0"/>
<path d="M336.4,1326.02L340.58,1333.54L332.22,1333.54Z" fill="#1c6fe0"/>
<path d="M342.9,1321.32L347.08,1328.84L338.72,1328.84Z" fill="#1c6fe0"/>
<path d="M349.1,1318.32L353.28,1325.84L344.92,1325.84Z" fill="#1c6fe0"/>
<path d="M355.5,1317.32L359.68,1324.84L351.32,1324.84Z" fill="#1c6fe0"/>
<path d="M361.6,1315.32L365.78,1322.84L357.42,1322.84Z" fill="#1c6fe0"/>
<path d="M368,1311.92L372.18,1319.44L363.82,1319.44Z" fill="#1c6fe0"/>
<path d="M374.3,1309.92L378.48,1317.44L370.12,1317.44Z" fill="#1c6fe0"/>
<path d="M380.7,1313.32L384.88,1320.84L376.52,1320.84Z" fill="#1c6fe0"/>
<path d="M387.2,1319.32L391.38,1326.84L383.02,1326.84Z" fill="#1c6fe0"/>
<rect x="483.3" y="1038.2" width="110.5" height="92.2" fill="#fff" stroke="#555" stroke-width="1.0"/>
<path d="M486.3,1054.4H538.8" stroke="#aaaaaa" stroke-width="1"/>
<rect x="509.45" y="1051.14" width="6.51" height="6.51" fill="#444444"/>
<text transform="translate(545.3,1062.7) scale(0.9,1)" class="lg">Pit-1</text>
<path d="M486.3,1084.4H538.8" stroke="#e86060" stroke-width="1"/>
<circle cx="512.7" cy="1084.4" r="3.31" fill="#ee3333"/>
<text transform="translate(545.3,1092.7) scale(0.9,1)" class="lg">Pit-2</text>
<path d="M486.3,1113.1H538.8" stroke="#88b0ee" stroke-width="1"/>
<path d="M512.7,1108.72L517.08,1116.61L508.32,1116.61Z" fill="#1c6fe0"/>
<text transform="translate(545.3,1121.4) scale(0.9,1)" class="lg">Pit-3</text>
</g>
<g id="panel-d">
<path d="M64.5,1573.2V2031.4" stroke="#000" stroke-width="2" fill="none"/>
<path d="M63.5,2031.4H648.8" stroke="#000" stroke-width="2" fill="none"/>
<path d="M60,1986.38H64.5" stroke="#000" stroke-width="2"/>
<path d="M60,1927.36H64.5" stroke="#000" stroke-width="2"/>
<path d="M60,1868.33H64.5" stroke="#000" stroke-width="2"/>
<path d="M60,1809.3H64.5" stroke="#000" stroke-width="2"/>
<path d="M60,1750.27H64.5" stroke="#000" stroke-width="2"/>
<path d="M60,1691.24H64.5" stroke="#000" stroke-width="2"/>
<path d="M60,1632.21H64.5" stroke="#000" stroke-width="2"/>
<path d="M60,1573.18H64.5" stroke="#000" stroke-width="2"/>
<path d="M56.5,2015.9H64.5" stroke="#000" stroke-width="2"/>
<text x="49.1" y="2022.66" text-anchor="end" class="tl" style="font-size:19.6px">0</text>
<path d="M56.5,1956.87H64.5" stroke="#000" stroke-width="2"/>
<text x="49.1" y="1963.63" text-anchor="end" class="tl" style="font-size:19.6px">10</text>
<path d="M56.5,1897.84H64.5" stroke="#000" stroke-width="2"/>
<text x="49.1" y="1904.6" text-anchor="end" class="tl" style="font-size:19.6px">20</text>
<path d="M56.5,1838.81H64.5" stroke="#000" stroke-width="2"/>
<text x="49.1" y="1845.57" text-anchor="end" class="tl" style="font-size:19.6px">30</text>
<path d="M56.5,1779.78H64.5" stroke="#000" stroke-width="2"/>
<text x="49.1" y="1786.54" text-anchor="end" class="tl" style="font-size:19.6px">40</text>
<path d="M56.5,1720.75H64.5" stroke="#000" stroke-width="2"/>
<text x="49.1" y="1727.51" text-anchor="end" class="tl" style="font-size:19.6px">50</text>
<path d="M56.5,1661.72H64.5" stroke="#000" stroke-width="2"/>
<text x="49.1" y="1668.48" text-anchor="end" class="tl" style="font-size:19.6px">60</text>
<path d="M56.5,1602.69H64.5" stroke="#000" stroke-width="2"/>
<text x="49.1" y="1609.45" text-anchor="end" class="tl" style="font-size:19.6px">70</text>
<path d="M64.5,2031.4V2039.4" stroke="#000" stroke-width="2"/>
<text x="64.5" y="2060.92" text-anchor="middle" class="tl" style="font-size:19.0px">-200</text>
<path d="M95.2,2031.4V2035.9" stroke="#000" stroke-width="2"/>
<path d="M125.9,2031.4V2039.4" stroke="#000" stroke-width="2"/>
<text x="125.9" y="2060.92" text-anchor="middle" class="tl" style="font-size:19.0px">0</text>
<path d="M156.6,2031.4V2035.9" stroke="#000" stroke-width="2"/>
<path d="M187.3,2031.4V2039.4" stroke="#000" stroke-width="2"/>
<text x="187.3" y="2060.92" text-anchor="middle" class="tl" style="font-size:19.0px">200</text>
<path d="M218,2031.4V2035.9" stroke="#000" stroke-width="2"/>
<path d="M248.7,2031.4V2039.4" stroke="#000" stroke-width="2"/>
<text x="248.7" y="2060.92" text-anchor="middle" class="tl" style="font-size:19.0px">400</text>
<path d="M279.4,2031.4V2035.9" stroke="#000" stroke-width="2"/>
<path d="M310.1,2031.4V2039.4" stroke="#000" stroke-width="2"/>
<text x="310.1" y="2060.92" text-anchor="middle" class="tl" style="font-size:19.0px">600</text>
<path d="M340.8,2031.4V2035.9" stroke="#000" stroke-width="2"/>
<path d="M371.5,2031.4V2039.4" stroke="#000" stroke-width="2"/>
<text x="371.5" y="2060.92" text-anchor="middle" class="tl" style="font-size:19.0px">800</text>
<path d="M402.2,2031.4V2035.9" stroke="#000" stroke-width="2"/>
<path d="M432.9,2031.4V2039.4" stroke="#000" stroke-width="2"/>
<text x="432.9" y="2060.92" text-anchor="middle" class="tl" style="font-size:19.0px">1000</text>
<path d="M463.6,2031.4V2035.9" stroke="#000" stroke-width="2"/>
<path d="M494.3,2031.4V2039.4" stroke="#000" stroke-width="2"/>
<text x="494.3" y="2060.92" text-anchor="middle" class="tl" style="font-size:19.0px">1200</text>
<path d="M525,2031.4V2035.9" stroke="#000" stroke-width="2"/>
<path d="M555.7,2031.4V2039.4" stroke="#000" stroke-width="2"/>
<text x="555.7" y="2060.92" text-anchor="middle" class="tl" style="font-size:19.0px">1400</text>
<path d="M586.4,2031.4V2035.9" stroke="#000" stroke-width="2"/>
<path d="M617.1,2031.4V2039.4" stroke="#000" stroke-width="2"/>
<text x="617.1" y="2060.92" text-anchor="middle" class="tl" style="font-size:19.0px">1600</text>
<path d="M647.8,2031.4V2035.9" stroke="#000" stroke-width="2"/>
<text x="356.45" y="2098.8" text-anchor="middle" class="at" style="font-size:24.0px">Width (nm)</text>
<text transform="translate(17.7,1801.2) rotate(-90)" x="0" y="0" text-anchor="middle" class="at" style="font-size:23.7px">Height (nm)</text>
<text x="80.3" y="2001.9" class="pl">(d)</text>
<defs><clipPath id="clipd"><rect x="93" y="1586" width="204" height="198"/></clipPath><filter id="cmd" x="93" y="1586" width="204" height="198" filterUnits="userSpaceOnUse" color-interpolation-filters="sRGB"><feTurbulence type="fractalNoise" baseFrequency="0.045" numOctaves="2" seed="11" result="n"/><feColorMatrix in="n" type="matrix" values="0.2 0 0 0 0  0.2 0 0 0 0  0.2 0 0 0 0  0 0 0 0 1" result="ng"/><feComposite in="SourceGraphic" in2="ng" operator="arithmetic" k2="1" k3="1" k4="-0.1" result="s"/><feTurbulence type="fractalNoise" baseFrequency="0.12" numOctaves="1" seed="12" result="n2"/><feColorMatrix in="n2" type="matrix" values="0.08 0 0 0 0  0.08 0 0 0 0  0.08 0 0 0 0  0 0 0 0 1" result="ng2"/><feComposite in="s" in2="ng2" operator="arithmetic" k2="1" k3="1" k4="-0.04" result="s"/><feComponentTransfer in="s"><feFuncR type="table" tableValues="0 0.02 0.05 0.07 0.09 0.11 0.14 0.17 0.2 0.22 0.25 0.29 0.33 0.38 0.42 0.48 0.55 0.61 0.67 0.74 0.8 0.85 0.86 0.87 0.88 0.89 0.9 0.91 0.91 0.92 0.93 0.94 0.94 0.95 0.96 0.96 0.97 0.98 0.98 0.99 0.99 1 1 1 1 1 1 1 1 1 1 1 1 1 1 1 1 1 1 1 1 0.99 0.98 0.97 0.93 0.9 0.86 0.82 0.77 0.73 0.69 0.64 0.59 0.55 0.5 0.45 0.4 0.36 0.33 0.29 0.26 0.22 0.19 0.19 0.19 0.19 0.19 0.19 0.19 0.19 0.19 0.19 0.19 0.19 0.19 0.2 0.2 0.21 0.22 0.22 0.23 0.24 0.25 0.29 0.32 0.36 0.43 0.49 0.53 0.56 0.6 0.65 0.7 0.75 0.81 0.87 0.9 0.92 0.93 0.94 0.94 0.94 0.94 0.94 0.94 0.94 0.95 0.95 0.95"/><feFuncG type="table" tableValues="0 0.01 0.02 0.03 0.05 0.06 0.07 0.07 0.08 0.09 0.09 0.1 0.11 0.12 0.13 0.15 0.16 0.18 0.21 0.24 0.26 0.28 0.28 0.27 0.27 0.26 0.26 0.25 0.25 0.25 0.25 0.25 0.25 0.25 0.24 0.24 0.24 0.24 0.24 0.24 0.24 0.24 0.25 0.26 0.27 0.29 0.33 0.37 0.4 0.44 0.48 0.52 0.56 0.59 0.63 0.66 0.69 0.74 0.78 0.83 0.87 0.89 0.9 0.91 0.91 0.91 0.91 0.91 0.91 0.91 0.91 0.91 0.91 0.91 0.91 0.92 0.92 0.93 0.93 0.94 0.94 0.94 0.94 0.91 0.88 0.84 0.81 0.77 0.75 0.73 0.71 0.69 0.67 0.65 0.62 0.6 0.57 0.55 0.52 0.5 0.49 0.5 0.5 0.51 0.52 0.53 0.57 0.6 0.62 0.64 0.66 0.71 0.75 0.79 0.84 0.88 0.91 0.92 0.93 0.94 0.94 0.94 0.94 0.94 0.94 0.94 0.95 0.95 0.95"/><feFuncB type="table" tableValues="0 0.02 0.05 0.07 0.09 0.11 0.15 0.19 0.23 0.27 0.31 0.38 0.44 0.5 0.57 0.64 0.72 0.79 0.85 0.91 0.96 1 0.98 0.96 0.94 0.92 0.9 0.89 0.86 0.83 0.81 0.78 0.75 0.72 0.69 0.67 0.64 0.61 0.58 0.55 0.53 0.5 0.47 0.45 0.43 0.4 0.39 0.37 0.35 0.34 0.33 0.32 0.31 0.31 0.3 0.29 0.28 0.28 0.28 0.28 0.28 0.29 0.3 0.31 0.31 0.31 0.31 0.31 0.31 0.31 0.31 0.31 0.31 0.31 0.31 0.33 0.34 0.35 0.36 0.37 0.39 0.41 0.44 0.47 0.5 0.54 0.57 0.61 0.64 0.67 0.69 0.72 0.75 0.79 0.82 0.85 0.87 0.9 0.92 0.94 0.96 0.97 0.97 0.97 0.96 0.96 0.95 0.94 0.94 0.94 0.94 0.95 0.95 0.96 0.96 0.96 0.95 0.95 0.95 0.95 0.95 0.95 0.95 0.95 0.95 0.95 0.95 0.95 0.95"/><feFuncA type="linear" slope="0" intercept="1"/></feComponentTransfer></filter><filter id="bldw" x="-20%" y="-20%" width="140%" height="140%"><feGaussianBlur stdDeviation="3"/></filter><filter id="bldd" x="-50%" y="-50%" width="200%" height="200%"><feGaussianBlur stdDeviation="1.8"/></filter><filter id="blds" x="-20%" y="-20%" width="140%" height="140%"><feGaussianBlur stdDeviation="2"/></filter><filter id="bldp" x="-50%" y="-50%" width="200%" height="200%"><feGaussianBlur stdDeviation="1.1"/></filter><linearGradient id="cbgd" x1="0" y1="0" x2="0" y2="1"><stop offset="0" stop-color="#f2f2f2"/><stop offset="0.08" stop-color="#eeeef2"/><stop offset="0.1" stop-color="#e0e4f4"/><stop offset="0.11" stop-color="#c4ccf4"/><stop offset="0.14" stop-color="#9aaaf0"/><stop offset="0.17" stop-color="#7c98f0"/><stop offset="0.18" stop-color="#5a88f4"/><stop offset="0.2" stop-color="#4080f8"/><stop offset="0.22" stop-color="#3a7cf4"/><stop offset="0.25" stop-color="#3490e0"/><stop offset="0.27" stop-color="#30a0d0"/><stop offset="0.29" stop-color="#30b0b8"/><stop offset="0.32" stop-color="#30c0a0"/><stop offset="0.34" stop-color="#30d888"/><stop offset="0.36" stop-color="#30f070"/><stop offset="0.38" stop-color="#48f060"/><stop offset="0.4" stop-color="#60ec58"/><stop offset="0.42" stop-color="#80e850"/><stop offset="0.44" stop-color="#a0e850"/><stop offset="0.46" stop-color="#c0e850"/><stop offset="0.49" stop-color="#e0e850"/><stop offset="0.51" stop-color="#f8e850"/><stop offset="0.53" stop-color="#ffe048"/><stop offset="0.56" stop-color="#ffb048"/><stop offset="0.59" stop-color="#ff9050"/><stop offset="0.62" stop-color="#ff6858"/><stop offset="0.65" stop-color="#ff4868"/><stop offset="0.68" stop-color="#ff3c80"/><stop offset="0.72" stop-color="#f83ca0"/><stop offset="0.75" stop-color="#f040c0"/><stop offset="0.79" stop-color="#e840e0"/><stop offset="0.84" stop-color="#d848ff"/><stop offset="0.86" stop-color="#a030d0"/><stop offset="0.89" stop-color="#6a2090"/><stop offset="0.92" stop-color="#401850"/><stop offset="0.96" stop-color="#201020"/><stop offset="1" stop-color="#000000"/></linearGradient></defs>
<g filter="url(#cmd)"><g clip-path="url(#clipd)">
<rect x="93" y="1586" width="204" height="198" fill="#d0d0d0"/>
<g filter="url(#bldw)">
<ellipse cx="111.36" cy="1592.93" rx="9.18" ry="5.94" fill="#ededed"/>
<ellipse cx="147.06" cy="1591.94" rx="11.22" ry="5.94" fill="#ededed"/>
<ellipse cx="103.2" cy="1636.49" rx="3.67" ry="4.95" fill="#ededed"/>
<ellipse cx="128.7" cy="1636.49" rx="9.18" ry="3.96" fill="#ededed"/>
<ellipse cx="141.96" cy="1672.13" rx="12.24" ry="13.86" fill="#f7f7f7"/>
<ellipse cx="191.94" cy="1660.25" rx="5.1" ry="8.91" fill="#ededed"/>
<ellipse cx="176.64" cy="1604.81" rx="7.14" ry="4.95" fill="#dbdbdb"/>
<ellipse cx="190.92" cy="1629.56" rx="6.12" ry="3.56" fill="#dbdbdb"/>
<ellipse cx="208.26" cy="1652.33" rx="15.3" ry="9.9" fill="#f7f7f7"/>
<ellipse cx="238.86" cy="1596.89" rx="7.14" ry="3.56" fill="#ededed"/>
<ellipse cx="286.8" cy="1604.81" rx="10.2" ry="8.91" fill="#dbdbdb"/>
<ellipse cx="243.96" cy="1664.21" rx="8.16" ry="11.88" fill="#dbdbdb"/>
<ellipse cx="234.78" cy="1679.06" rx="7.14" ry="6.93" fill="#ededed"/>
<ellipse cx="106.87" cy="1744.4" rx="6.12" ry="10.89" fill="#f7f7f7"/>
<ellipse cx="122.58" cy="1721.63" rx="10.2" ry="8.91" fill="#ededed"/>
<ellipse cx="132.78" cy="1749.35" rx="13.26" ry="15.84" transform="rotate(-40 132.78 1749.35)" fill="#fafafa"/>
<ellipse cx="109.32" cy="1692.92" rx="8.16" ry="5.94" fill="#ededed"/>
<ellipse cx="180.72" cy="1714.7" rx="7.14" ry="5.94" fill="#f7f7f7"/>
<ellipse cx="198.06" cy="1706.78" rx="7.14" ry="9.9" fill="#ededed"/>
<ellipse cx="214.38" cy="1733.51" rx="13.26" ry="10.89" fill="#dedede"/>
<ellipse cx="282.72" cy="1735.49" rx="14.28" ry="8.91" fill="#dedede"/>
<ellipse cx="209.28" cy="1766.18" rx="18.36" ry="8.91" fill="#f7f7f7"/>
<ellipse cx="256.2" cy="1774.1" rx="8.16" ry="3.96" fill="#f7f7f7"/>
<ellipse cx="285.78" cy="1689.95" rx="11.22" ry="6.93" fill="#dbdbdb"/>
<ellipse cx="282.72" cy="1756.28" rx="8.16" ry="5.94" fill="#dbdbdb"/>
<ellipse cx="158.28" cy="1776.08" rx="10.2" ry="5.94" fill="#e6e6e6"/>
</g>
<g filter="url(#bldd)">
<circle cx="110.04" cy="1620.13" r="2.2" fill="#a3a3a3"/>
<circle cx="286.64" cy="1753.18" r="2.28" fill="#acacac"/>
<circle cx="261.71" cy="1634.25" r="2.09" fill="#a9a9a9"/>
<circle cx="193.05" cy="1776.86" r="1.53" fill="#b5b5b5"/>
<circle cx="249.34" cy="1603.31" r="2.64" fill="#acacac"/>
<circle cx="203.87" cy="1645.8" r="2.02" fill="#bbbbbb"/>
<circle cx="164.21" cy="1731.14" r="2.34" fill="#b9b9b9"/>
<circle cx="233.95" cy="1671.53" r="1.71" fill="#aaaaaa"/>
<circle cx="169.25" cy="1761.43" r="2.41" fill="#a5a5a5"/>
<circle cx="147.08" cy="1594.75" r="2.55" fill="#a0a0a0"/>
<circle cx="172.75" cy="1622.37" r="1.51" fill="#bbbbbb"/>
<circle cx="181.92" cy="1711.48" r="2.41" fill="#aeaeae"/>
<circle cx="260.17" cy="1738.62" r="2.09" fill="#afafaf"/>
<circle cx="273.97" cy="1719.79" r="1.71" fill="#bababa"/>
<circle cx="260.53" cy="1774.39" r="2.18" fill="#acacac"/>
<circle cx="165.09" cy="1709.52" r="1.48" fill="#b4b4b4"/>
<circle cx="237.34" cy="1760.02" r="1.54" fill="#b0b0b0"/>
<circle cx="205.32" cy="1704.47" r="1.81" fill="#9e9e9e"/>
<circle cx="282" cy="1765.02" r="1.45" fill="#bababa"/>
<circle cx="214.58" cy="1587.62" r="2.13" fill="#a7a7a7"/>
<circle cx="169.09" cy="1606.95" r="2.41" fill="#b2b2b2"/>
<circle cx="140.33" cy="1698.63" r="1.83" fill="#bcbcbc"/>
<circle cx="135.7" cy="1721.46" r="2.36" fill="#b9b9b9"/>
<circle cx="147.66" cy="1757.58" r="1.48" fill="#a3a3a3"/>
<circle cx="218.97" cy="1764.5" r="1.81" fill="#a4a4a4"/>
<circle cx="113.17" cy="1667.56" r="2.46" fill="#b1b1b1"/>
<circle cx="191.6" cy="1690.05" r="1.52" fill="#a5a5a5"/>
<circle cx="146.97" cy="1731.23" r="2.16" fill="#a0a0a0"/>
<circle cx="208.24" cy="1775.85" r="1.33" fill="#a3a3a3"/>
<circle cx="290.61" cy="1689.07" r="2.51" fill="#b8b8b8"/>
<circle cx="188.79" cy="1782.14" r="1.6" fill="#a8a8a8"/>
<circle cx="138.97" cy="1735.38" r="1.37" fill="#acacac"/>
<circle cx="250.87" cy="1727.78" r="1.67" fill="#a3a3a3"/>
<circle cx="260.92" cy="1753.41" r="2.14" fill="#b0b0b0"/>
<circle cx="114.13" cy="1653.49" r="1.62" fill="#adadad"/>
<circle cx="150.1" cy="1706.95" r="1.89" fill="#bcbcbc"/>
<circle cx="145.87" cy="1593.58" r="1.43" fill="#a4a4a4"/>
<circle cx="232.9" cy="1695.49" r="2.04" fill="#b5b5b5"/>
<circle cx="236.28" cy="1624.74" r="1.49" fill="#b9b9b9"/>
<circle cx="241.46" cy="1664.68" r="2.23" fill="#b4b4b4"/>
<circle cx="110.03" cy="1674.22" r="2.33" fill="#b8b8b8"/>
<circle cx="232.23" cy="1651.68" r="2.46" fill="#afafaf"/>
<circle cx="296.18" cy="1775.33" r="2.51" fill="#a4a4a4"/>
<circle cx="286.32" cy="1638.47" r="1.52" fill="#aeaeae"/>
<circle cx="230.48" cy="1640.1" r="2.61" fill="#a0a0a0"/>
<circle cx="261.94" cy="1728.91" r="2.33" fill="#acacac"/>
<circle cx="276.73" cy="1649.57" r="1.92" fill="#b7b7b7"/>
<circle cx="270.24" cy="1597.51" r="2.09" fill="#b9b9b9"/>
<circle cx="158.7" cy="1615.11" r="2.08" fill="#b7b7b7"/>
<circle cx="136.95" cy="1739.58" r="1.44" fill="#bcbcbc"/>
<circle cx="113.84" cy="1612.95" r="2.41" fill="#aaaaaa"/>
<circle cx="107.37" cy="1638.97" r="2.48" fill="#b8b8b8"/>
<circle cx="159.39" cy="1592.52" r="2.21" fill="#a2a2a2"/>
<circle cx="238.91" cy="1687.63" r="2.51" fill="#a0a0a0"/>
<circle cx="275.26" cy="1599.73" r="2.09" fill="#a9a9a9"/>
<circle cx="205.82" cy="1633.53" r="2.58" fill="#aeaeae"/>
<circle cx="226.72" cy="1680.06" r="2.33" fill="#b9b9b9"/>
<circle cx="110.15" cy="1776.83" r="1.62" fill="#b1b1b1"/>
<circle cx="131.78" cy="1653.58" r="2.49" fill="#b9b9b9"/>
<circle cx="278.84" cy="1710.78" r="1.88" fill="#acacac"/>
<circle cx="165.43" cy="1720.01" r="1.81" fill="#a2a2a2"/>
<circle cx="226.91" cy="1657.09" r="2.1" fill="#b4b4b4"/>
<circle cx="291.01" cy="1607.9" r="2.02" fill="#b9b9b9"/>
<circle cx="100.45" cy="1693.18" r="1.59" fill="#b1b1b1"/>
<circle cx="249.9" cy="1699.6" r="1.6" fill="#ababab"/>
<circle cx="137.91" cy="1753.18" r="1.78" fill="#a5a5a5"/>
<circle cx="280.49" cy="1697.87" r="2.01" fill="#bcbcbc"/>
<circle cx="219.81" cy="1745.38" r="1.7" fill="#aeaeae"/>
<circle cx="151.06" cy="1736.47" r="1.61" fill="#a7a7a7"/>
<circle cx="128.92" cy="1765.14" r="1.77" fill="#b9b9b9"/>
<circle cx="199.92" cy="1622.16" r="2.22" fill="#b8b8b8"/>
<circle cx="184.82" cy="1774.65" r="2.18" fill="#adadad"/>
<circle cx="261.37" cy="1722.67" r="2.55" fill="#a4a4a4"/>
<circle cx="284.69" cy="1749.33" r="1.78" fill="#acacac"/>
<circle cx="199.65" cy="1605.69" r="1.89" fill="#bcbcbc"/>
<circle cx="245.57" cy="1718.5" r="1.44" fill="#b8b8b8"/>
<circle cx="143.28" cy="1771.16" r="1.87" fill="#a4a4a4"/>
<circle cx="206.32" cy="1594.56" r="2.44" fill="#b2b2b2"/>
<circle cx="203.63" cy="1726.96" r="2.35" fill="#9e9e9e"/>
<circle cx="202.97" cy="1747.49" r="2.44" fill="#aeaeae"/>
<circle cx="292.63" cy="1663.36" r="2.27" fill="#b7b7b7"/>
<circle cx="173.57" cy="1773.41" r="2.39" fill="#bababa"/>
<circle cx="233.78" cy="1599.26" r="2.58" fill="#b6b6b6"/>
<circle cx="245.05" cy="1669.33" r="1.31" fill="#bababa"/>
<circle cx="286.27" cy="1674.16" r="1.9" fill="#afafaf"/>
<circle cx="116.26" cy="1597.27" r="2.26" fill="#a7a7a7"/>
<circle cx="100.01" cy="1718.49" r="1.45" fill="#bbbbbb"/>
<circle cx="288.84" cy="1609.3" r="2.09" fill="#b6b6b6"/>
<circle cx="272.65" cy="1641.3" r="2.12" fill="#b2b2b2"/>
<circle cx="98.06" cy="1663.79" r="1.25" fill="#bcbcbc"/>
<circle cx="173.44" cy="1594.91" r="1.29" fill="#a6a6a6"/>
<circle cx="117.79" cy="1701.64" r="1.84" fill="#a3a3a3"/>
<circle cx="107.15" cy="1625.76" r="2.2" fill="#9f9f9f"/>
<circle cx="172.43" cy="1641.04" r="1.32" fill="#a8a8a8"/>
<circle cx="242.23" cy="1663.02" r="2.62" fill="#a3a3a3"/>
<circle cx="289.21" cy="1632.28" r="1.3" fill="#a7a7a7"/>
<circle cx="190.22" cy="1635.62" r="1.36" fill="#b4b4b4"/>
<circle cx="190.16" cy="1741.68" r="2.07" fill="#a0a0a0"/>
<circle cx="108.66" cy="1655.41" r="2.3" fill="#a9a9a9"/>
<circle cx="271.65" cy="1763.23" r="2" fill="#b2b2b2"/>
<circle cx="157.3" cy="1782.62" r="2.53" fill="#bcbcbc"/>
<circle cx="228.6" cy="1672.64" r="1.35" fill="#a7a7a7"/>
<circle cx="225.33" cy="1752.62" r="2.61" fill="#a6a6a6"/>
<circle cx="207.49" cy="1701.19" r="1.55" fill="#ababab"/>
<circle cx="168.25" cy="1718.2" r="2.18" fill="#a7a7a7"/>
<circle cx="273.87" cy="1648.33" r="1.66" fill="#b8b8b8"/>
<circle cx="133.61" cy="1596.63" r="1.27" fill="#b1b1b1"/>
<circle cx="232.51" cy="1654.21" r="2.61" fill="#a6a6a6"/>
<circle cx="255.26" cy="1629.11" r="2.21" fill="#a8a8a8"/>
<circle cx="206.67" cy="1746.57" r="2.24" fill="#b3b3b3"/>
<circle cx="221.99" cy="1662.02" r="2.57" fill="#b6b6b6"/>
<circle cx="141.26" cy="1671.96" r="2.04" fill="#b1b1b1"/>
<circle cx="161.52" cy="1630.84" r="1.95" fill="#a6a6a6"/>
<circle cx="120.45" cy="1683.91" r="1.37" fill="#b1b1b1"/>
<circle cx="152.77" cy="1640.36" r="2.15" fill="#9f9f9f"/>
<circle cx="295.8" cy="1711.5" r="2.04" fill="#b9b9b9"/>
<circle cx="264.82" cy="1679.88" r="2.41" fill="#9f9f9f"/>
<circle cx="265.94" cy="1778.92" r="1.83" fill="#afafaf"/>
<circle cx="214.42" cy="1693.74" r="1.41" fill="#b3b3b3"/>
<circle cx="203.59" cy="1622.81" r="2.27" fill="#b8b8b8"/>
<circle cx="183.6" cy="1600.11" r="1.83" fill="#acacac"/>
<circle cx="242.15" cy="1647.7" r="1.48" fill="#a2a2a2"/>
<circle cx="209.28" cy="1627.25" r="1.75" fill="#b0b0b0"/>
<circle cx="204.82" cy="1617.41" r="1.86" fill="#aaaaaa"/>
<circle cx="222.25" cy="1712.91" r="2.33" fill="#b8b8b8"/>
<circle cx="118.99" cy="1606.11" r="2.41" fill="#aaaaaa"/>
<circle cx="127.96" cy="1712.51" r="1.81" fill="#b9b9b9"/>
<circle cx="257.2" cy="1599.49" r="1.24" fill="#b0b0b0"/>
<circle cx="264.53" cy="1766.23" r="2.16" fill="#9f9f9f"/>
<circle cx="218.47" cy="1595.85" r="1.56" fill="#b3b3b3"/>
<circle cx="185.59" cy="1696.02" r="1.85" fill="#a2a2a2"/>
<circle cx="240.48" cy="1702.69" r="2.19" fill="#a1a1a1"/>
<circle cx="146.5" cy="1589.32" r="1.29" fill="#afafaf"/>
<circle cx="263.88" cy="1643.12" r="2.1" fill="#b4b4b4"/>
<circle cx="293.13" cy="1765.1" r="2.08" fill="#a9a9a9"/>
<circle cx="247.49" cy="1653.77" r="1.66" fill="#bcbcbc"/>
<circle cx="197.05" cy="1626.57" r="2.3" fill="#acacac"/>
<circle cx="115.09" cy="1723.78" r="1.81" fill="#a3a3a3"/>
<circle cx="138.03" cy="1664.88" r="2.37" fill="#a9a9a9"/>
<circle cx="159.75" cy="1770.72" r="2.62" fill="#a2a2a2"/>
<circle cx="282.94" cy="1688.64" r="1.35" fill="#b8b8b8"/>
<circle cx="219.93" cy="1678.71" r="1.37" fill="#b7b7b7"/>
<circle cx="120.05" cy="1688.68" r="1.7" fill="#b9b9b9"/>
<circle cx="293.75" cy="1734.77" r="1.28" fill="#b9b9b9"/>
<circle cx="106.67" cy="1762.31" r="2.12" fill="#b5b5b5"/>
<circle cx="94.54" cy="1632.18" r="2.08" fill="#a7a7a7"/>
<circle cx="247.84" cy="1672.59" r="1.63" fill="#ababab"/>
<circle cx="285.14" cy="1658.66" r="1.3" fill="#b0b0b0"/>
<circle cx="232.72" cy="1629.75" r="2.16" fill="#aeaeae"/>
<circle cx="252.3" cy="1717.77" r="1.37" fill="#a3a3a3"/>
<circle cx="199.02" cy="1705.53" r="2.18" fill="#bbbbbb"/>
<circle cx="232.27" cy="1741.83" r="1.41" fill="#b9b9b9"/>
<circle cx="101.41" cy="1651.73" r="2.6" fill="#b6b6b6"/>
<circle cx="288.7" cy="1648.67" r="1.52" fill="#bbbbbb"/>
<circle cx="257.54" cy="1694.11" r="2.45" fill="#b8b8b8"/>
<circle cx="93.35" cy="1778.03" r="1.34" fill="#b0b0b0"/>
<circle cx="277.73" cy="1616.36" r="1.7" fill="#b7b7b7"/>
<circle cx="198.2" cy="1695.46" r="2.1" fill="#b2b2b2"/>
<circle cx="93.58" cy="1747.66" r="1.48" fill="#b8b8b8"/>
<circle cx="95.08" cy="1621.17" r="1.28" fill="#a8a8a8"/>
<circle cx="196.26" cy="1663.6" r="1.88" fill="#bcbcbc"/>
<circle cx="195.05" cy="1626.64" r="1.77" fill="#9f9f9f"/>
<circle cx="265.61" cy="1667.44" r="2.36" fill="#a8a8a8"/>
<circle cx="275.54" cy="1740.35" r="1.37" fill="#aaaaaa"/>
<circle cx="283.8" cy="1625.05" r="2.07" fill="#b8b8b8"/>
<circle cx="263.6" cy="1600.37" r="1.99" fill="#b2b2b2"/>
<circle cx="178.48" cy="1644.5" r="2.5" fill="#a1a1a1"/>
<circle cx="282.01" cy="1709.45" r="1.96" fill="#a3a3a3"/>
<circle cx="227.7" cy="1763.78" r="1.29" fill="#9e9e9e"/>
<circle cx="96.45" cy="1725.03" r="1.53" fill="#a8a8a8"/>
<circle cx="268.36" cy="1635.99" r="1.79" fill="#afafaf"/>
<circle cx="211.87" cy="1747.31" r="2.31" fill="#b3b3b3"/>
<circle cx="217.94" cy="1764.06" r="1.8" fill="#ababab"/>
<circle cx="187.91" cy="1743.65" r="1.74" fill="#b6b6b6"/>
<circle cx="174.18" cy="1763.25" r="1.28" fill="#adadad"/>
<circle cx="217.05" cy="1674.76" r="2.15" fill="#bababa"/>
<circle cx="271.3" cy="1633.43" r="2.58" fill="#b0b0b0"/>
<circle cx="284.18" cy="1776.53" r="2.43" fill="#bbbbbb"/>
<circle cx="159.39" cy="1713.32" r="2.49" fill="#b2b2b2"/>
<circle cx="266.83" cy="1735.77" r="2.36" fill="#b5b5b5"/>
<circle cx="204.87" cy="1687.54" r="2.11" fill="#a2a2a2"/>
<circle cx="139.41" cy="1634.69" r="2.51" fill="#bbbbbb"/>
<circle cx="124.55" cy="1726.97" r="1.84" fill="#b6b6b6"/>
<circle cx="219.59" cy="1648.96" r="2.64" fill="#a1a1a1"/>
<circle cx="202.85" cy="1592.17" r="2.23" fill="#a0a0a0"/>
<circle cx="198.75" cy="1753.49" r="2.11" fill="#a1a1a1"/>
<circle cx="227.29" cy="1652.14" r="2.04" fill="#aeaeae"/>
<circle cx="181.63" cy="1603.16" r="2.16" fill="#b1b1b1"/>
<circle cx="155.02" cy="1651.31" r="2.5" fill="#b4b4b4"/>
<circle cx="227.86" cy="1612.9" r="2.31" fill="#aeaeae"/>
<circle cx="201.76" cy="1754.45" r="2.21" fill="#b0b0b0"/>
<circle cx="188.53" cy="1775.59" r="1.83" fill="#aeaeae"/>
<circle cx="175.84" cy="1717.52" r="2.55" fill="#a3a3a3"/>
<circle cx="177.29" cy="1769.4" r="1.44" fill="#a5a5a5"/>
<circle cx="169.12" cy="1634.99" r="1.73" fill="#a7a7a7"/>
<circle cx="215.8" cy="1710.41" r="2.44" fill="#bbbbbb"/>
<circle cx="179.11" cy="1741.24" r="1.64" fill="#a7a7a7"/>
<circle cx="261.23" cy="1771.03" r="1.69" fill="#bcbcbc"/>
<circle cx="101.17" cy="1682.35" r="1.32" fill="#aaaaaa"/>
<circle cx="245.08" cy="1717.49" r="2.23" fill="#b2b2b2"/>
<circle cx="238.5" cy="1696.97" r="1.75" fill="#a5a5a5"/>
<circle cx="291.68" cy="1726.65" r="1.85" fill="#b2b2b2"/>
<circle cx="133.26" cy="1774.05" r="2.38" fill="#b2b2b2"/>
<circle cx="236.28" cy="1749.48" r="2.6" fill="#9e9e9e"/>
<circle cx="248.05" cy="1716.34" r="2.6" fill="#aeaeae"/>
<circle cx="165.39" cy="1666.27" r="1.74" fill="#a4a4a4"/>
<circle cx="134.9" cy="1750.97" r="2.28" fill="#ababab"/>
<circle cx="243.16" cy="1633.21" r="1.94" fill="#b5b5b5"/>
<circle cx="214.71" cy="1638.12" r="2.07" fill="#a0a0a0"/>
<circle cx="178.07" cy="1685.25" r="2.6" fill="#adadad"/>
<circle cx="286.89" cy="1609.09" r="1.61" fill="#acacac"/>
<circle cx="270.59" cy="1675.5" r="1.94" fill="#a1a1a1"/>
<circle cx="246.93" cy="1614.37" r="2.44" fill="#b6b6b6"/>
<circle cx="226.84" cy="1646.18" r="2.63" fill="#bababa"/>
<circle cx="154.11" cy="1714.8" r="1.37" fill="#b4b4b4"/>
<circle cx="134.03" cy="1625.26" r="2.18" fill="#a2a2a2"/>
<circle cx="249.95" cy="1647.54" r="1.63" fill="#a7a7a7"/>
<circle cx="196.46" cy="1700.54" r="2.01" fill="#b8b8b8"/>
<circle cx="287.16" cy="1756.69" r="2.04" fill="#ababab"/>
<circle cx="292.17" cy="1633.21" r="2.05" fill="#a2a2a2"/>
<circle cx="127.76" cy="1706.38" r="2.25" fill="#a5a5a5"/>
<circle cx="236.69" cy="1722.53" r="1.27" fill="#bbbbbb"/>
<circle cx="109" cy="1744.66" r="1.75" fill="#afafaf"/>
<circle cx="182.74" cy="1650.45" r="1.33" fill="#a4a4a4"/>
<circle cx="284.56" cy="1773.51" r="1.79" fill="#a1a1a1"/>
<circle cx="268.37" cy="1651.53" r="1.8" fill="#aaaaaa"/>
<circle cx="220.99" cy="1638.84" r="1.94" fill="#a0a0a0"/>
<circle cx="162.02" cy="1729.15" r="2.24" fill="#a3a3a3"/>
<circle cx="232.27" cy="1699.01" r="2.36" fill="#a4a4a4"/>
<circle cx="182.33" cy="1625.29" r="1.73" fill="#afafaf"/>
</g>
<g filter="url(#blds)" fill="none" stroke-linecap="round" stroke-linejoin="round">
<path d="M96.67,1641.44L108.3,1659.26L122.38,1683.61L135.84,1696.88" stroke="#9e9e9e" stroke-width="9.3"/>
<path d="M96.67,1641.44L108.3,1659.26L122.38,1683.61L135.84,1696.88" stroke="#969696" stroke-width="4.65"/>
<path d="M96.67,1641.44L108.3,1659.26L122.38,1683.61L135.84,1696.88" stroke="#8f8f8f" stroke-width="2.33"/>
<path d="M175.21,1659.46L155.63,1680.64" stroke="#9e9e9e" stroke-width="10.28"/>
<path d="M175.21,1659.46L155.63,1680.64" stroke="#8a8a8a" stroke-width="5.14"/>
<path d="M175.21,1659.46L155.63,1680.64" stroke="#757575" stroke-width="2.57"/>
<path d="M265.18,1627.78L221.32,1664.01L212.34,1674.51" stroke="#9e9e9e" stroke-width="8.81"/>
<path d="M265.18,1627.78L221.32,1664.01L212.34,1674.51" stroke="#999999" stroke-width="4.41"/>
<path d="M265.18,1627.78L221.32,1664.01L212.34,1674.51" stroke="#949494" stroke-width="2.2"/>
<path d="M258.85,1643.42L258.85,1748.36" stroke="#9e9e9e" stroke-width="11.02"/>
<path d="M258.85,1643.42L258.85,1748.36" stroke="#949494" stroke-width="5.51"/>
<path d="M258.85,1643.42L258.85,1748.36" stroke="#8a8a8a" stroke-width="2.75"/>
<path d="M114.83,1735.29L138.9,1760.83" stroke="#9e9e9e" stroke-width="9.3"/>
<path d="M114.83,1735.29L138.9,1760.83" stroke="#8e8e8e" stroke-width="4.65"/>
<path d="M114.83,1735.29L138.9,1760.83" stroke="#7d7d7d" stroke-width="2.33"/>
<path d="M142.16,1718.66L172.36,1762.22" stroke="#9e9e9e" stroke-width="8.81"/>
<path d="M142.16,1718.66L172.36,1762.22" stroke="#969696" stroke-width="4.41"/>
<path d="M142.16,1718.66L172.36,1762.22" stroke="#8f8f8f" stroke-width="2.2"/>
<path d="M135.84,1690.94L139.92,1710.74" stroke="#9e9e9e" stroke-width="7.34"/>
<path d="M135.84,1690.94L139.92,1710.74" stroke="#999999" stroke-width="3.67"/>
<path d="M135.84,1690.94L139.92,1710.74" stroke="#949494" stroke-width="1.84"/>
</g>
<g filter="url(#bldd)">
<circle cx="127.07" cy="1593.72" r="6.73" fill="#9e9e9e"/>
<circle cx="178.27" cy="1655.7" r="6.73" fill="#9e9e9e"/>
<circle cx="168.48" cy="1710.34" r="6.28" fill="#9e9e9e"/>
<circle cx="240.29" cy="1777.47" r="6.73" fill="#9e9e9e"/>
<circle cx="125.44" cy="1669.16" r="4.49" fill="#9e9e9e"/>
<circle cx="258.44" cy="1764" r="4.94" fill="#9e9e9e"/>
<circle cx="109.32" cy="1635.5" r="3.59" fill="#9e9e9e"/>
<circle cx="214.38" cy="1682.03" r="3.37" fill="#9e9e9e"/>
<circle cx="258.85" cy="1679.06" r="2.69" fill="#9e9e9e"/>
<circle cx="258.85" cy="1714.7" r="2.69" fill="#9e9e9e"/>
<circle cx="258.85" cy="1732.52" r="2.69" fill="#9e9e9e"/>
<circle cx="160.32" cy="1688.96" r="3.37" fill="#9e9e9e"/>
<circle cx="165.42" cy="1743.61" r="3.37" fill="#9e9e9e"/>
<circle cx="127.68" cy="1748.36" r="3.14" fill="#9e9e9e"/>
<circle cx="182.15" cy="1763.8" r="3.59" fill="#9e9e9e"/>
<circle cx="110.34" cy="1635.3" r="6.53" fill="#8c8c8c"/>
<circle cx="154.61" cy="1601.25" r="6.12" fill="#a1a1a1"/>
<circle cx="149.1" cy="1603.82" r="4.49" fill="#a3a3a3"/>
<circle cx="162.36" cy="1594.91" r="4.08" fill="#a3a3a3"/>
<circle cx="167.46" cy="1598.87" r="4.08" fill="#a3a3a3"/>
<circle cx="176.64" cy="1601.84" r="4.49" fill="#a3a3a3"/>
<circle cx="157.67" cy="1629.76" r="5.1" fill="#a3a3a3"/>
<circle cx="166.44" cy="1624.61" r="5.1" fill="#a3a3a3"/>
<circle cx="145.02" cy="1635.5" r="5.71" fill="#9e9e9e"/>
<circle cx="198.67" cy="1597.68" r="6.12" fill="#a3a3a3"/>
<circle cx="215.4" cy="1595.9" r="5.71" fill="#a3a3a3"/>
<circle cx="251.3" cy="1605.8" r="5.71" fill="#a1a1a1"/>
<circle cx="248.45" cy="1618.27" r="6.12" fill="#949494"/>
<circle cx="240.9" cy="1616.69" r="5.1" fill="#a3a3a3"/>
<circle cx="259.46" cy="1595.9" r="4.49" fill="#a3a3a3"/>
<circle cx="254.16" cy="1596.89" r="4.49" fill="#a3a3a3"/>
<circle cx="285.17" cy="1621.64" r="5.71" fill="#a1a1a1"/>
<circle cx="282.11" cy="1637.48" r="5.71" fill="#a1a1a1"/>
<circle cx="204.79" cy="1627.58" r="5.1" fill="#a3a3a3"/>
<circle cx="221.52" cy="1629.56" r="5.1" fill="#a3a3a3"/>
<circle cx="229.07" cy="1634.51" r="4.49" fill="#a6a6a6"/>
<circle cx="217.44" cy="1637.48" r="4.49" fill="#a6a6a6"/>
<circle cx="204.59" cy="1637.48" r="4.49" fill="#a6a6a6"/>
<circle cx="211.32" cy="1644.41" r="5.1" fill="#a6a6a6"/>
<circle cx="241.92" cy="1635.5" r="4.49" fill="#a6a6a6"/>
<circle cx="247.22" cy="1677.08" r="5.71" fill="#a1a1a1"/>
<circle cx="274.56" cy="1665.2" r="4.49" fill="#a3a3a3"/>
<circle cx="270.48" cy="1666.19" r="4.08" fill="#a3a3a3"/>
<circle cx="273.54" cy="1675.1" r="5.1" fill="#a3a3a3"/>
<circle cx="288.84" cy="1679.06" r="5.71" fill="#a1a1a1"/>
<circle cx="214.38" cy="1682.03" r="6.12" fill="#8c8c8c"/>
<circle cx="176.64" cy="1699.26" r="6.12" fill="#8f8f8f"/>
<circle cx="182.15" cy="1763.8" r="6.12" fill="#919191"/>
<circle cx="105.24" cy="1716.68" r="5.1" fill="#a3a3a3"/>
<circle cx="108.3" cy="1710.74" r="4.49" fill="#a3a3a3"/>
<circle cx="156.24" cy="1684.01" r="4.49" fill="#a6a6a6"/>
<circle cx="149.71" cy="1711.73" r="5.71" fill="#a1a1a1"/>
<circle cx="176.64" cy="1728.56" r="5.1" fill="#a3a3a3"/>
<circle cx="175.62" cy="1734.5" r="4.49" fill="#a3a3a3"/>
<circle cx="110.95" cy="1758.26" r="5.71" fill="#a3a3a3"/>
<circle cx="102.18" cy="1766.18" r="5.1" fill="#a3a3a3"/>
<circle cx="135.84" cy="1774.1" r="5.71" fill="#a1a1a1"/>
<circle cx="169.5" cy="1772.12" r="5.71" fill="#a1a1a1"/>
<circle cx="184.8" cy="1778.06" r="4.49" fill="#a3a3a3"/>
<circle cx="213.36" cy="1712.72" r="6.12" fill="#949494"/>
<circle cx="223.56" cy="1700.84" r="5.1" fill="#a1a1a1"/>
<circle cx="213.36" cy="1686.98" r="5.71" fill="#8c8c8c"/>
<circle cx="195" cy="1702.82" r="4.49" fill="#a3a3a3"/>
<circle cx="246.41" cy="1698.86" r="4.49" fill="#a3a3a3"/>
<circle cx="275.17" cy="1702.82" r="5.71" fill="#a1a1a1"/>
<circle cx="294.96" cy="1692.92" r="5.1" fill="#a1a1a1"/>
<circle cx="219.68" cy="1734.5" r="5.1" fill="#a1a1a1"/>
<circle cx="235.8" cy="1742.42" r="5.1" fill="#a1a1a1"/>
<circle cx="238.86" cy="1734.5" r="4.49" fill="#a3a3a3"/>
<circle cx="293.94" cy="1736.48" r="5.1" fill="#a1a1a1"/>
<circle cx="273.54" cy="1752.32" r="5.1" fill="#a1a1a1"/>
<circle cx="290.88" cy="1752.32" r="4.49" fill="#a3a3a3"/>
<circle cx="282.72" cy="1772.12" r="5.1" fill="#a1a1a1"/>
<circle cx="202.14" cy="1768.16" r="4.49" fill="#a3a3a3"/>
<circle cx="294.96" cy="1776.08" r="4.49" fill="#a3a3a3"/>
<circle cx="98.1" cy="1601.84" r="5.1" fill="#a8a8a8"/>
<circle cx="103.2" cy="1615.7" r="4.49" fill="#a8a8a8"/>
<circle cx="139.92" cy="1615.7" r="4.08" fill="#a8a8a8"/>
</g>
<g filter="url(#bldp)">
<circle cx="127.07" cy="1593.72" r="3.79" fill="#808080"/>
<circle cx="127.07" cy="1593.72" r="2.2" fill="#4c4c4c"/>
<circle cx="178.27" cy="1655.7" r="3.79" fill="#808080"/>
<circle cx="178.27" cy="1655.7" r="2.2" fill="#424242"/>
<circle cx="168.48" cy="1710.34" r="3.54" fill="#808080"/>
<circle cx="168.48" cy="1710.34" r="2.06" fill="#454545"/>
<circle cx="240.29" cy="1777.47" r="3.79" fill="#808080"/>
<circle cx="240.29" cy="1777.47" r="2.2" fill="#3d3d3d"/>
<circle cx="125.44" cy="1669.16" r="2.53" fill="#808080"/>
<circle cx="125.44" cy="1669.16" r="1.47" fill="#5c5c5c"/>
<circle cx="258.44" cy="1764" r="2.78" fill="#808080"/>
<circle cx="258.44" cy="1764" r="1.62" fill="#5c5c5c"/>
<circle cx="109.32" cy="1635.5" r="2.02" fill="#808080"/>
<circle cx="109.32" cy="1635.5" r="1.18" fill="#737373"/>
<circle cx="214.38" cy="1682.03" r="1.9" fill="#808080"/>
<circle cx="214.38" cy="1682.03" r="1.1" fill="#737373"/>
<circle cx="258.85" cy="1679.06" r="1.52" fill="#808080"/>
<circle cx="258.85" cy="1679.06" r="0.88" fill="#737373"/>
<circle cx="258.85" cy="1714.7" r="1.52" fill="#808080"/>
<circle cx="258.85" cy="1714.7" r="0.88" fill="#6b6b6b"/>
<circle cx="258.85" cy="1732.52" r="1.52" fill="#808080"/>
<circle cx="258.85" cy="1732.52" r="0.88" fill="#6b6b6b"/>
<circle cx="160.32" cy="1688.96" r="1.9" fill="#808080"/>
<circle cx="160.32" cy="1688.96" r="1.1" fill="#6b6b6b"/>
<circle cx="165.42" cy="1743.61" r="1.9" fill="#808080"/>
<circle cx="165.42" cy="1743.61" r="1.1" fill="#737373"/>
<circle cx="127.68" cy="1748.36" r="1.77" fill="#808080"/>
<circle cx="127.68" cy="1748.36" r="1.03" fill="#666666"/>
<circle cx="182.15" cy="1763.8" r="2.02" fill="#808080"/>
<circle cx="182.15" cy="1763.8" r="1.18" fill="#737373"/>
</g>
</g></g>
<path d="M229.27,1772.32L251.71,1781.43" stroke="#111" stroke-width="1" stroke-dasharray="2,0.9"/>
<text x="261.3" y="1771.16" class="pn">1</text>
<path d="M169.09,1654.31L190.92,1657.48" stroke="#111" stroke-width="1" stroke-dasharray="2,0.9"/>
<text x="195" y="1652.36" class="pn">2</text>
<path d="M156.44,1705.59L178.27,1713.71" stroke="#111" stroke-width="1" stroke-dasharray="2,0.9"/>
<text x="187.45" y="1706.41" class="pn">3</text>
<path d="M92.6,1784V1585.6H297" fill="none" stroke="#3a3a3a" stroke-width="1"/>
<path d="M93,1784.4H297.4V1586" fill="none" stroke="#666" stroke-width="0.8"/>
<path d="M93,1586v-3.67" stroke="#888" stroke-width="0.8"/>
<text x="93.4" y="1580.1" class="il" style="font-size:6.95px">0 µm</text>
<path d="M133.8,1586v-3.67" stroke="#888" stroke-width="0.8"/>
<text x="134.2" y="1580.1" class="il" style="font-size:6.95px">2</text>
<path d="M174.6,1586v-3.67" stroke="#888" stroke-width="0.8"/>
<text x="175" y="1580.1" class="il" style="font-size:6.95px">4</text>
<path d="M215.4,1586v-3.67" stroke="#888" stroke-width="0.8"/>
<text x="215.8" y="1580.1" class="il" style="font-size:6.95px">6</text>
<path d="M256.2,1586v-3.67" stroke="#888" stroke-width="0.8"/>
<text x="256.6" y="1580.1" class="il" style="font-size:6.95px">8</text>
<path d="M297,1586v-3.67" stroke="#888" stroke-width="0.8"/>
<path d="M93,1586h-3.67" stroke="#888" stroke-width="0.8"/>
<text x="87.79" y="1593.29" text-anchor="end" class="il" style="font-size:6.95px">0</text>
<path d="M93,1625.6h-3.67" stroke="#888" stroke-width="0.8"/>
<text x="87.79" y="1632.89" text-anchor="end" class="il" style="font-size:6.95px">2</text>
<path d="M93,1665.2h-3.67" stroke="#888" stroke-width="0.8"/>
<text x="87.79" y="1672.49" text-anchor="end" class="il" style="font-size:6.95px">4</text>
<path d="M93,1704.8h-3.67" stroke="#888" stroke-width="0.8"/>
<text x="87.79" y="1712.09" text-anchor="end" class="il" style="font-size:6.95px">6</text>
<path d="M93,1744.4h-3.67" stroke="#888" stroke-width="0.8"/>
<text x="87.79" y="1751.69" text-anchor="end" class="il" style="font-size:6.95px">8</text>
<path d="M93,1784h-3.67" stroke="#888" stroke-width="0.8"/>
<rect x="303.1" y="1586" width="8.4" height="198" fill="url(#cbgd)" stroke="#3a3a3a" stroke-width="0.9"/>
<path d="M311.5,1586h4.22" stroke="#333" stroke-width="0.8"/>
<text x="329.51" y="1592" text-anchor="end" class="cl" style="font-size:6.95px">30.9</text>
<text x="331.59" y="1592" class="cl" style="font-size:6.95px">nm</text>
<path d="M311.5,1623.81h4.22" stroke="#333" stroke-width="0.8"/>
<text x="329.51" y="1629.8" text-anchor="end" class="cl" style="font-size:6.95px">25.0</text>
<path d="M311.5,1655.84h4.22" stroke="#333" stroke-width="0.8"/>
<text x="329.51" y="1661.84" text-anchor="end" class="cl" style="font-size:6.95px">20.0</text>
<path d="M311.5,1687.88h4.22" stroke="#333" stroke-width="0.8"/>
<text x="329.51" y="1693.88" text-anchor="end" class="cl" style="font-size:6.95px">15.0</text>
<path d="M311.5,1719.92h4.22" stroke="#333" stroke-width="0.8"/>
<text x="329.51" y="1725.92" text-anchor="end" class="cl" style="font-size:6.95px">10.0</text>
<path d="M311.5,1751.96h4.22" stroke="#333" stroke-width="0.8"/>
<text x="329.51" y="1757.96" text-anchor="end" class="cl" style="font-size:6.95px">5.0</text>
<path d="M311.5,1784h4.22" stroke="#333" stroke-width="0.8"/>
<text x="329.51" y="1783.6" text-anchor="end" class="cl" style="font-size:6.95px">0.0</text>
<path d="M124.2,1860.4L132.8,1858.3L139.7,1858.3L146.6,1861.1L153.5,1863.8L159.4,1866.3L166.3,1869.7L172.5,1873.2L179.4,1876.6L186.3,1881.1L192.5,1883.5L199.4,1885.9L205.3,1885.9L212.2,1883.5L218.4,1883.5L225,1887L231.2,1892.2L238.1,1897.3L244.3,1901.8L250.9,1906.7L257.8,1911.8L264.7,1918.1L271.3,1923.2L277.8,1930.1L284.7,1937L291.6,1944L297.5,1950.9L304.4,1959.5L310.6,1967.4L317.5,1976.8L324.4,1984.7L330.4,1992.2L336.2,1998.9L343.2,2003.7L349.9,2003.7L356.5,1997L363.1,1985.5L369.7,1972.9L376.3,1960.6L382.9,1948.4L389.6,1937.5L396.2,1926.9L402.8,1917.6L409.4,1909.3L416,1902.1L422.7,1894.5L429.3,1888.8L435.9,1883.5L442.5,1877.9L449.1,1872.9L455.7,1868L462.4,1863L469,1859L475.6,1856.4L482.2,1854.7L488.8,1853.1L495.5,1852.4L502.1,1852.1L508.7,1852.1" stroke="#888888" stroke-width="0.7" fill="none" stroke-dasharray="2.2,1.4"/>
<path d="M124.2,1855.75L128.85,1860.4L124.2,1865.05L119.55,1860.4Z" fill="#fff" stroke="#777" stroke-width="0.6"/><path d="M119.55,1860.4L128.85,1860.4L124.2,1865.05Z" fill="#444444"/>
<path d="M132.8,1853.65L137.45,1858.3L132.8,1862.95L128.15,1858.3Z" fill="#fff" stroke="#777" stroke-width="0.6"/><path d="M128.15,1858.3L137.45,1858.3L132.8,1862.95Z" fill="#444444"/>
<path d="M139.7,1853.65L144.35,1858.3L139.7,1862.95L135.05,1858.3Z" fill="#fff" stroke="#777" stroke-width="0.6"/><path d="M135.05,1858.3L144.35,1858.3L139.7,1862.95Z" fill="#444444"/>
<path d="M146.6,1856.45L151.25,1861.1L146.6,1865.75L141.95,1861.1Z" fill="#fff" stroke="#777" stroke-width="0.6"/><path d="M141.95,1861.1L151.25,1861.1L146.6,1865.75Z" fill="#444444"/>
<path d="M153.5,1859.15L158.15,1863.8L153.5,1868.45L148.85,1863.8Z" fill="#fff" stroke="#777" stroke-width="0.6"/><path d="M148.85,1863.8L158.15,1863.8L153.5,1868.45Z" fill="#444444"/>
<path d="M159.4,1861.65L164.05,1866.3L159.4,1870.95L154.75,1866.3Z" fill="#fff" stroke="#777" stroke-width="0.6"/><path d="M154.75,1866.3L164.05,1866.3L159.4,1870.95Z" fill="#444444"/>
<path d="M166.3,1865.05L170.95,1869.7L166.3,1874.35L161.65,1869.7Z" fill="#fff" stroke="#777" stroke-width="0.6"/><path d="M161.65,1869.7L170.95,1869.7L166.3,1874.35Z" fill="#444444"/>
<path d="M172.5,1868.55L177.15,1873.2L172.5,1877.85L167.85,1873.2Z" fill="#fff" stroke="#777" stroke-width="0.6"/><path d="M167.85,1873.2L177.15,1873.2L172.5,1877.85Z" fill="#444444"/>
<path d="M179.4,1871.95L184.05,1876.6L179.4,1881.25L174.75,1876.6Z" fill="#fff" stroke="#777" stroke-width="0.6"/><path d="M174.75,1876.6L184.05,1876.6L179.4,1881.25Z" fill="#444444"/>
<path d="M186.3,1876.45L190.95,1881.1L186.3,1885.75L181.65,1881.1Z" fill="#fff" stroke="#777" stroke-width="0.6"/><path d="M181.65,1881.1L190.95,1881.1L186.3,1885.75Z" fill="#444444"/>
<path d="M192.5,1878.85L197.15,1883.5L192.5,1888.15L187.85,1883.5Z" fill="#fff" stroke="#777" stroke-width="0.6"/><path d="M187.85,1883.5L197.15,1883.5L192.5,1888.15Z" fill="#444444"/>
<path d="M199.4,1881.25L204.05,1885.9L199.4,1890.55L194.75,1885.9Z" fill="#fff" stroke="#777" stroke-width="0.6"/><path d="M194.75,1885.9L204.05,1885.9L199.4,1890.55Z" fill="#444444"/>
<path d="M205.3,1881.25L209.95,1885.9L205.3,1890.55L200.65,1885.9Z" fill="#fff" stroke="#777" stroke-width="0.6"/><path d="M200.65,1885.9L209.95,1885.9L205.3,1890.55Z" fill="#444444"/>
<path d="M212.2,1878.85L216.85,1883.5L212.2,1888.15L207.55,1883.5Z" fill="#fff" stroke="#777" stroke-width="0.6"/><path d="M207.55,1883.5L216.85,1883.5L212.2,1888.15Z" fill="#444444"/>
<path d="M218.4,1878.85L223.05,1883.5L218.4,1888.15L213.75,1883.5Z" fill="#fff" stroke="#777" stroke-width="0.6"/><path d="M213.75,1883.5L223.05,1883.5L218.4,1888.15Z" fill="#444444"/>
<path d="M225,1882.35L229.65,1887L225,1891.65L220.35,1887Z" fill="#fff" stroke="#777" stroke-width="0.6"/><path d="M220.35,1887L229.65,1887L225,1891.65Z" fill="#444444"/>
<path d="M231.2,1887.55L235.85,1892.2L231.2,1896.85L226.55,1892.2Z" fill="#fff" stroke="#777" stroke-width="0.6"/><path d="M226.55,1892.2L235.85,1892.2L231.2,1896.85Z" fill="#444444"/>
<path d="M238.1,1892.65L242.75,1897.3L238.1,1901.95L233.45,1897.3Z" fill="#fff" stroke="#777" stroke-width="0.6"/><path d="M233.45,1897.3L242.75,1897.3L238.1,1901.95Z" fill="#444444"/>
<path d="M244.3,1897.15L248.95,1901.8L244.3,1906.45L239.65,1901.8Z" fill="#fff" stroke="#777" stroke-width="0.6"/><path d="M239.65,1901.8L248.95,1901.8L244.3,1906.45Z" fill="#444444"/>
<path d="M250.9,1902.05L255.55,1906.7L250.9,1911.35L246.25,1906.7Z" fill="#fff" stroke="#777" stroke-width="0.6"/><path d="M246.25,1906.7L255.55,1906.7L250.9,1911.35Z" fill="#444444"/>
<path d="M257.8,1907.15L262.45,1911.8L257.8,1916.45L253.15,1911.8Z" fill="#fff" stroke="#777" stroke-width="0.6"/><path d="M253.15,1911.8L262.45,1911.8L257.8,1916.45Z" fill="#444444"/>
<path d="M264.7,1913.45L269.35,1918.1L264.7,1922.75L260.05,1918.1Z" fill="#fff" stroke="#777" stroke-width="0.6"/><path d="M260.05,1918.1L269.35,1918.1L264.7,1922.75Z" fill="#444444"/>
<path d="M271.3,1918.55L275.95,1923.2L271.3,1927.85L266.65,1923.2Z" fill="#fff" stroke="#777" stroke-width="0.6"/><path d="M266.65,1923.2L275.95,1923.2L271.3,1927.85Z" fill="#444444"/>
<path d="M277.8,1925.45L282.45,1930.1L277.8,1934.75L273.15,1930.1Z" fill="#fff" stroke="#777" stroke-width="0.6"/><path d="M273.15,1930.1L282.45,1930.1L277.8,1934.75Z" fill="#444444"/>
<path d="M284.7,1932.35L289.35,1937L284.7,1941.65L280.05,1937Z" fill="#fff" stroke="#777" stroke-width="0.6"/><path d="M280.05,1937L289.35,1937L284.7,1941.65Z" fill="#444444"/>
<path d="M291.6,1939.35L296.25,1944L291.6,1948.65L286.95,1944Z" fill="#fff" stroke="#777" stroke-width="0.6"/><path d="M286.95,1944L296.25,1944L291.6,1948.65Z" fill="#444444"/>
<path d="M297.5,1946.25L302.15,1950.9L297.5,1955.55L292.85,1950.9Z" fill="#fff" stroke="#777" stroke-width="0.6"/><path d="M292.85,1950.9L302.15,1950.9L297.5,1955.55Z" fill="#444444"/>
<path d="M304.4,1954.85L309.05,1959.5L304.4,1964.15L299.75,1959.5Z" fill="#fff" stroke="#777" stroke-width="0.6"/><path d="M299.75,1959.5L309.05,1959.5L304.4,1964.15Z" fill="#444444"/>
<path d="M310.6,1962.75L315.25,1967.4L310.6,1972.05L305.95,1967.4Z" fill="#fff" stroke="#777" stroke-width="0.6"/><path d="M305.95,1967.4L315.25,1967.4L310.6,1972.05Z" fill="#444444"/>
<path d="M317.5,1972.15L322.15,1976.8L317.5,1981.45L312.85,1976.8Z" fill="#fff" stroke="#777" stroke-width="0.6"/><path d="M312.85,1976.8L322.15,1976.8L317.5,1981.45Z" fill="#444444"/>
<path d="M324.4,1980.05L329.05,1984.7L324.4,1989.35L319.75,1984.7Z" fill="#fff" stroke="#777" stroke-width="0.6"/><path d="M319.75,1984.7L329.05,1984.7L324.4,1989.35Z" fill="#444444"/>
<path d="M330.4,1987.55L335.05,1992.2L330.4,1996.85L325.75,1992.2Z" fill="#fff" stroke="#777" stroke-width="0.6"/><path d="M325.75,1992.2L335.05,1992.2L330.4,1996.85Z" fill="#444444"/>
<path d="M336.2,1994.25L340.85,1998.9L336.2,2003.55L331.55,1998.9Z" fill="#fff" stroke="#777" stroke-width="0.6"/><path d="M331.55,1998.9L340.85,1998.9L336.2,2003.55Z" fill="#444444"/>
<path d="M343.2,1999.05L347.85,2003.7L343.2,2008.35L338.55,2003.7Z" fill="#fff" stroke="#777" stroke-width="0.6"/><path d="M338.55,2003.7L347.85,2003.7L343.2,2008.35Z" fill="#444444"/>
<path d="M349.9,1999.05L354.55,2003.7L349.9,2008.35L345.25,2003.7Z" fill="#fff" stroke="#777" stroke-width="0.6"/><path d="M345.25,2003.7L354.55,2003.7L349.9,2008.35Z" fill="#444444"/>
<path d="M356.5,1992.35L361.15,1997L356.5,2001.65L351.85,1997Z" fill="#fff" stroke="#777" stroke-width="0.6"/><path d="M351.85,1997L361.15,1997L356.5,2001.65Z" fill="#444444"/>
<path d="M363.1,1980.85L367.75,1985.5L363.1,1990.15L358.45,1985.5Z" fill="#fff" stroke="#777" stroke-width="0.6"/><path d="M358.45,1985.5L367.75,1985.5L363.1,1990.15Z" fill="#444444"/>
<path d="M369.7,1968.25L374.35,1972.9L369.7,1977.55L365.05,1972.9Z" fill="#fff" stroke="#777" stroke-width="0.6"/><path d="M365.05,1972.9L374.35,1972.9L369.7,1977.55Z" fill="#444444"/>
<path d="M376.3,1955.95L380.95,1960.6L376.3,1965.25L371.65,1960.6Z" fill="#fff" stroke="#777" stroke-width="0.6"/><path d="M371.65,1960.6L380.95,1960.6L376.3,1965.25Z" fill="#444444"/>
<path d="M382.9,1943.75L387.55,1948.4L382.9,1953.05L378.25,1948.4Z" fill="#fff" stroke="#777" stroke-width="0.6"/><path d="M378.25,1948.4L387.55,1948.4L382.9,1953.05Z" fill="#444444"/>
<path d="M389.6,1932.85L394.25,1937.5L389.6,1942.15L384.95,1937.5Z" fill="#fff" stroke="#777" stroke-width="0.6"/><path d="M384.95,1937.5L394.25,1937.5L389.6,1942.15Z" fill="#444444"/>
<path d="M396.2,1922.25L400.85,1926.9L396.2,1931.55L391.55,1926.9Z" fill="#fff" stroke="#777" stroke-width="0.6"/><path d="M391.55,1926.9L400.85,1926.9L396.2,1931.55Z" fill="#444444"/>
<path d="M402.8,1912.95L407.45,1917.6L402.8,1922.25L398.15,1917.6Z" fill="#fff" stroke="#777" stroke-width="0.6"/><path d="M398.15,1917.6L407.45,1917.6L402.8,1922.25Z" fill="#444444"/>
<path d="M409.4,1904.65L414.05,1909.3L409.4,1913.95L404.75,1909.3Z" fill="#fff" stroke="#777" stroke-width="0.6"/><path d="M404.75,1909.3L414.05,1909.3L409.4,1913.95Z" fill="#444444"/>
<path d="M416,1897.45L420.65,1902.1L416,1906.75L411.35,1902.1Z" fill="#fff" stroke="#777" stroke-width="0.6"/><path d="M411.35,1902.1L420.65,1902.1L416,1906.75Z" fill="#444444"/>
<path d="M422.7,1889.85L427.35,1894.5L422.7,1899.15L418.05,1894.5Z" fill="#fff" stroke="#777" stroke-width="0.6"/><path d="M418.05,1894.5L427.35,1894.5L422.7,1899.15Z" fill="#444444"/>
<path d="M429.3,1884.15L433.95,1888.8L429.3,1893.45L424.65,1888.8Z" fill="#fff" stroke="#777" stroke-width="0.6"/><path d="M424.65,1888.8L433.95,1888.8L429.3,1893.45Z" fill="#444444"/>
<path d="M435.9,1878.85L440.55,1883.5L435.9,1888.15L431.25,1883.5Z" fill="#fff" stroke="#777" stroke-width="0.6"/><path d="M431.25,1883.5L440.55,1883.5L435.9,1888.15Z" fill="#444444"/>
<path d="M442.5,1873.25L447.15,1877.9L442.5,1882.55L437.85,1877.9Z" fill="#fff" stroke="#777" stroke-width="0.6"/><path d="M437.85,1877.9L447.15,1877.9L442.5,1882.55Z" fill="#444444"/>
<path d="M449.1,1868.25L453.75,1872.9L449.1,1877.55L444.45,1872.9Z" fill="#fff" stroke="#777" stroke-width="0.6"/><path d="M444.45,1872.9L453.75,1872.9L449.1,1877.55Z" fill="#444444"/>
<path d="M455.7,1863.35L460.35,1868L455.7,1872.65L451.05,1868Z" fill="#fff" stroke="#777" stroke-width="0.6"/><path d="M451.05,1868L460.35,1868L455.7,1872.65Z" fill="#444444"/>
<path d="M462.4,1858.35L467.05,1863L462.4,1867.65L457.75,1863Z" fill="#fff" stroke="#777" stroke-width="0.6"/><path d="M457.75,1863L467.05,1863L462.4,1867.65Z" fill="#444444"/>
<path d="M469,1854.35L473.65,1859L469,1863.65L464.35,1859Z" fill="#fff" stroke="#777" stroke-width="0.6"/><path d="M464.35,1859L473.65,1859L469,1863.65Z" fill="#444444"/>
<path d="M475.6,1851.75L480.25,1856.4L475.6,1861.05L470.95,1856.4Z" fill="#fff" stroke="#777" stroke-width="0.6"/><path d="M470.95,1856.4L480.25,1856.4L475.6,1861.05Z" fill="#444444"/>
<path d="M482.2,1850.05L486.85,1854.7L482.2,1859.35L477.55,1854.7Z" fill="#fff" stroke="#777" stroke-width="0.6"/><path d="M477.55,1854.7L486.85,1854.7L482.2,1859.35Z" fill="#444444"/>
<path d="M488.8,1848.45L493.45,1853.1L488.8,1857.75L484.15,1853.1Z" fill="#fff" stroke="#777" stroke-width="0.6"/><path d="M484.15,1853.1L493.45,1853.1L488.8,1857.75Z" fill="#444444"/>
<path d="M495.5,1847.75L500.15,1852.4L495.5,1857.05L490.85,1852.4Z" fill="#fff" stroke="#777" stroke-width="0.6"/><path d="M490.85,1852.4L500.15,1852.4L495.5,1857.05Z" fill="#444444"/>
<path d="M502.1,1847.45L506.75,1852.1L502.1,1856.75L497.45,1852.1Z" fill="#fff" stroke="#777" stroke-width="0.6"/><path d="M497.45,1852.1L506.75,1852.1L502.1,1856.75Z" fill="#444444"/>
<path d="M508.7,1847.45L513.35,1852.1L508.7,1856.75L504.05,1852.1Z" fill="#fff" stroke="#777" stroke-width="0.6"/><path d="M504.05,1852.1L513.35,1852.1L508.7,1856.75Z" fill="#444444"/>
<path d="M124.9,1868.7L131.8,1870.7L138.7,1871.4L144.9,1873.2L151.8,1874.9L158.7,1877.7L164.9,1880.1L171.8,1882.5L178.7,1885.2L185.6,1888.7L191.5,1892.2L198.4,1895.6L204.3,1898.4L210.5,1901.8L217.4,1906L223.6,1910.1L229.8,1914.6L236.7,1920.5L243.3,1926L250.2,1931.9L256.4,1938.8L263,1945.7L269.2,1952.6L276.1,1959.5L282.3,1967.4L289.2,1975L296.1,1983.7L302,1992.3L308.9,2000.9L314.8,2006.8L322.4,2013L330,2008.6L335,1995.4L341.6,1979.5L348.2,1965.6L354.8,1952.4L361.4,1940.8L368.1,1929.9L374.7,1919.9L381.3,1911L387.9,1902.7L394.5,1895.4L401.1,1887.8L407.8,1881.2L414.4,1875.6L421,1870.3L427.6,1865.7L434.2,1861.4L440.9,1857.1L447.5,1852.4L454.1,1848.1L460.7,1845.8L467.3,1843.8L473.9,1843.2L480.6,1843.8L487.2,1845.8L493.8,1847.1L500.4,1849.1L507,1849.1L513.7,1849.1L520.3,1849.1L526.9,1848.1L532.5,1848.1L538.5,1847.1" stroke="#ee7777" stroke-width="0.7" fill="none" stroke-dasharray="2.2,1.4"/>
<circle cx="124.9" cy="1868.7" r="3.2" fill="#fff" stroke="#f06060" stroke-width="0.6"/><path d="M121.47,1868.17A3.5,3.5 0 0 0 128.33,1868.17Z" fill="#ee3333"/>
<circle cx="131.8" cy="1870.7" r="3.2" fill="#fff" stroke="#f06060" stroke-width="0.6"/><path d="M128.37,1870.17A3.5,3.5 0 0 0 135.23,1870.17Z" fill="#ee3333"/>
<circle cx="138.7" cy="1871.4" r="3.2" fill="#fff" stroke="#f06060" stroke-width="0.6"/><path d="M135.27,1870.88A3.5,3.5 0 0 0 142.13,1870.88Z" fill="#ee3333"/>
<circle cx="144.9" cy="1873.2" r="3.2" fill="#fff" stroke="#f06060" stroke-width="0.6"/><path d="M141.47,1872.67A3.5,3.5 0 0 0 148.33,1872.67Z" fill="#ee3333"/>
<circle cx="151.8" cy="1874.9" r="3.2" fill="#fff" stroke="#f06060" stroke-width="0.6"/><path d="M148.37,1874.38A3.5,3.5 0 0 0 155.23,1874.38Z" fill="#ee3333"/>
<circle cx="158.7" cy="1877.7" r="3.2" fill="#fff" stroke="#f06060" stroke-width="0.6"/><path d="M155.27,1877.17A3.5,3.5 0 0 0 162.13,1877.17Z" fill="#ee3333"/>
<circle cx="164.9" cy="1880.1" r="3.2" fill="#fff" stroke="#f06060" stroke-width="0.6"/><path d="M161.47,1879.57A3.5,3.5 0 0 0 168.33,1879.57Z" fill="#ee3333"/>
<circle cx="171.8" cy="1882.5" r="3.2" fill="#fff" stroke="#f06060" stroke-width="0.6"/><path d="M168.37,1881.97A3.5,3.5 0 0 0 175.23,1881.97Z" fill="#ee3333"/>
<circle cx="178.7" cy="1885.2" r="3.2" fill="#fff" stroke="#f06060" stroke-width="0.6"/><path d="M175.27,1884.67A3.5,3.5 0 0 0 182.13,1884.67Z" fill="#ee3333"/>
<circle cx="185.6" cy="1888.7" r="3.2" fill="#fff" stroke="#f06060" stroke-width="0.6"/><path d="M182.17,1888.17A3.5,3.5 0 0 0 189.03,1888.17Z" fill="#ee3333"/>
<circle cx="191.5" cy="1892.2" r="3.2" fill="#fff" stroke="#f06060" stroke-width="0.6"/><path d="M188.07,1891.67A3.5,3.5 0 0 0 194.93,1891.67Z" fill="#ee3333"/>
<circle cx="198.4" cy="1895.6" r="3.2" fill="#fff" stroke="#f06060" stroke-width="0.6"/><path d="M194.97,1895.07A3.5,3.5 0 0 0 201.83,1895.07Z" fill="#ee3333"/>
<circle cx="204.3" cy="1898.4" r="3.2" fill="#fff" stroke="#f06060" stroke-width="0.6"/><path d="M200.87,1897.88A3.5,3.5 0 0 0 207.73,1897.88Z" fill="#ee3333"/>
<circle cx="210.5" cy="1901.8" r="3.2" fill="#fff" stroke="#f06060" stroke-width="0.6"/><path d="M207.07,1901.27A3.5,3.5 0 0 0 213.93,1901.27Z" fill="#ee3333"/>
<circle cx="217.4" cy="1906" r="3.2" fill="#fff" stroke="#f06060" stroke-width="0.6"/><path d="M213.97,1905.47A3.5,3.5 0 0 0 220.83,1905.47Z" fill="#ee3333"/>
<circle cx="223.6" cy="1910.1" r="3.2" fill="#fff" stroke="#f06060" stroke-width="0.6"/><path d="M220.17,1909.57A3.5,3.5 0 0 0 227.03,1909.57Z" fill="#ee3333"/>
<circle cx="229.8" cy="1914.6" r="3.2" fill="#fff" stroke="#f06060" stroke-width="0.6"/><path d="M226.37,1914.07A3.5,3.5 0 0 0 233.23,1914.07Z" fill="#ee3333"/>
<circle cx="236.7" cy="1920.5" r="3.2" fill="#fff" stroke="#f06060" stroke-width="0.6"/><path d="M233.27,1919.97A3.5,3.5 0 0 0 240.13,1919.97Z" fill="#ee3333"/>
<circle cx="243.3" cy="1926" r="3.2" fill="#fff" stroke="#f06060" stroke-width="0.6"/><path d="M239.87,1925.47A3.5,3.5 0 0 0 246.73,1925.47Z" fill="#ee3333"/>
<circle cx="250.2" cy="1931.9" r="3.2" fill="#fff" stroke="#f06060" stroke-width="0.6"/><path d="M246.77,1931.38A3.5,3.5 0 0 0 253.63,1931.38Z" fill="#ee3333"/>
<circle cx="256.4" cy="1938.8" r="3.2" fill="#fff" stroke="#f06060" stroke-width="0.6"/><path d="M252.97,1938.27A3.5,3.5 0 0 0 259.83,1938.27Z" fill="#ee3333"/>
<circle cx="263" cy="1945.7" r="3.2" fill="#fff" stroke="#f06060" stroke-width="0.6"/><path d="M259.57,1945.17A3.5,3.5 0 0 0 266.43,1945.17Z" fill="#ee3333"/>
<circle cx="269.2" cy="1952.6" r="3.2" fill="#fff" stroke="#f06060" stroke-width="0.6"/><path d="M265.77,1952.07A3.5,3.5 0 0 0 272.63,1952.07Z" fill="#ee3333"/>
<circle cx="276.1" cy="1959.5" r="3.2" fill="#fff" stroke="#f06060" stroke-width="0.6"/><path d="M272.67,1958.97A3.5,3.5 0 0 0 279.53,1958.97Z" fill="#ee3333"/>
<circle cx="282.3" cy="1967.4" r="3.2" fill="#fff" stroke="#f06060" stroke-width="0.6"/><path d="M278.87,1966.88A3.5,3.5 0 0 0 285.73,1966.88Z" fill="#ee3333"/>
<circle cx="289.2" cy="1975" r="3.2" fill="#fff" stroke="#f06060" stroke-width="0.6"/><path d="M285.77,1974.47A3.5,3.5 0 0 0 292.63,1974.47Z" fill="#ee3333"/>
<circle cx="296.1" cy="1983.7" r="3.2" fill="#fff" stroke="#f06060" stroke-width="0.6"/><path d="M292.67,1983.17A3.5,3.5 0 0 0 299.53,1983.17Z" fill="#ee3333"/>
<circle cx="302" cy="1992.3" r="3.2" fill="#fff" stroke="#f06060" stroke-width="0.6"/><path d="M298.57,1991.77A3.5,3.5 0 0 0 305.43,1991.77Z" fill="#ee3333"/>
<circle cx="308.9" cy="2000.9" r="3.2" fill="#fff" stroke="#f06060" stroke-width="0.6"/><path d="M305.47,2000.38A3.5,3.5 0 0 0 312.33,2000.38Z" fill="#ee3333"/>
<circle cx="314.8" cy="2006.8" r="3.2" fill="#fff" stroke="#f06060" stroke-width="0.6"/><path d="M311.37,2006.27A3.5,3.5 0 0 0 318.23,2006.27Z" fill="#ee3333"/>
<circle cx="322.4" cy="2013" r="3.2" fill="#fff" stroke="#f06060" stroke-width="0.6"/><path d="M318.97,2012.47A3.5,3.5 0 0 0 325.83,2012.47Z" fill="#ee3333"/>
<circle cx="330" cy="2008.6" r="3.2" fill="#fff" stroke="#f06060" stroke-width="0.6"/><path d="M326.57,2008.07A3.5,3.5 0 0 0 333.43,2008.07Z" fill="#ee3333"/>
<circle cx="335" cy="1995.4" r="3.2" fill="#fff" stroke="#f06060" stroke-width="0.6"/><path d="M331.57,1994.88A3.5,3.5 0 0 0 338.43,1994.88Z" fill="#ee3333"/>
<circle cx="341.6" cy="1979.5" r="3.2" fill="#fff" stroke="#f06060" stroke-width="0.6"/><path d="M338.17,1978.97A3.5,3.5 0 0 0 345.03,1978.97Z" fill="#ee3333"/>
<circle cx="348.2" cy="1965.6" r="3.2" fill="#fff" stroke="#f06060" stroke-width="0.6"/><path d="M344.77,1965.07A3.5,3.5 0 0 0 351.63,1965.07Z" fill="#ee3333"/>
<circle cx="354.8" cy="1952.4" r="3.2" fill="#fff" stroke="#f06060" stroke-width="0.6"/><path d="M351.37,1951.88A3.5,3.5 0 0 0 358.23,1951.88Z" fill="#ee3333"/>
<circle cx="361.4" cy="1940.8" r="3.2" fill="#fff" stroke="#f06060" stroke-width="0.6"/><path d="M357.97,1940.27A3.5,3.5 0 0 0 364.83,1940.27Z" fill="#ee3333"/>
<circle cx="368.1" cy="1929.9" r="3.2" fill="#fff" stroke="#f06060" stroke-width="0.6"/><path d="M364.67,1929.38A3.5,3.5 0 0 0 371.53,1929.38Z" fill="#ee3333"/>
<circle cx="374.7" cy="1919.9" r="3.2" fill="#fff" stroke="#f06060" stroke-width="0.6"/><path d="M371.27,1919.38A3.5,3.5 0 0 0 378.13,1919.38Z" fill="#ee3333"/>
<circle cx="381.3" cy="1911" r="3.2" fill="#fff" stroke="#f06060" stroke-width="0.6"/><path d="M377.87,1910.47A3.5,3.5 0 0 0 384.73,1910.47Z" fill="#ee3333"/>
<circle cx="387.9" cy="1902.7" r="3.2" fill="#fff" stroke="#f06060" stroke-width="0.6"/><path d="M384.47,1902.17A3.5,3.5 0 0 0 391.33,1902.17Z" fill="#ee3333"/>
<circle cx="394.5" cy="1895.4" r="3.2" fill="#fff" stroke="#f06060" stroke-width="0.6"/><path d="M391.07,1894.88A3.5,3.5 0 0 0 397.93,1894.88Z" fill="#ee3333"/>
<circle cx="401.1" cy="1887.8" r="3.2" fill="#fff" stroke="#f06060" stroke-width="0.6"/><path d="M397.67,1887.27A3.5,3.5 0 0 0 404.53,1887.27Z" fill="#ee3333"/>
<circle cx="407.8" cy="1881.2" r="3.2" fill="#fff" stroke="#f06060" stroke-width="0.6"/><path d="M404.37,1880.67A3.5,3.5 0 0 0 411.23,1880.67Z" fill="#ee3333"/>
<circle cx="414.4" cy="1875.6" r="3.2" fill="#fff" stroke="#f06060" stroke-width="0.6"/><path d="M410.97,1875.07A3.5,3.5 0 0 0 417.83,1875.07Z" fill="#ee3333"/>
<circle cx="421" cy="1870.3" r="3.2" fill="#fff" stroke="#f06060" stroke-width="0.6"/><path d="M417.57,1869.77A3.5,3.5 0 0 0 424.43,1869.77Z" fill="#ee3333"/>
<circle cx="427.6" cy="1865.7" r="3.2" fill="#fff" stroke="#f06060" stroke-width="0.6"/><path d="M424.17,1865.17A3.5,3.5 0 0 0 431.03,1865.17Z" fill="#ee3333"/>
<circle cx="434.2" cy="1861.4" r="3.2" fill="#fff" stroke="#f06060" stroke-width="0.6"/><path d="M430.77,1860.88A3.5,3.5 0 0 0 437.63,1860.88Z" fill="#ee3333"/>
<circle cx="440.9" cy="1857.1" r="3.2" fill="#fff" stroke="#f06060" stroke-width="0.6"/><path d="M437.47,1856.57A3.5,3.5 0 0 0 444.33,1856.57Z" fill="#ee3333"/>
<circle cx="447.5" cy="1852.4" r="3.2" fill="#fff" stroke="#f06060" stroke-width="0.6"/><path d="M444.07,1851.88A3.5,3.5 0 0 0 450.93,1851.88Z" fill="#ee3333"/>
<circle cx="454.1" cy="1848.1" r="3.2" fill="#fff" stroke="#f06060" stroke-width="0.6"/><path d="M450.67,1847.57A3.5,3.5 0 0 0 457.53,1847.57Z" fill="#ee3333"/>
<circle cx="460.7" cy="1845.8" r="3.2" fill="#fff" stroke="#f06060" stroke-width="0.6"/><path d="M457.27,1845.27A3.5,3.5 0 0 0 464.13,1845.27Z" fill="#ee3333"/>
<circle cx="467.3" cy="1843.8" r="3.2" fill="#fff" stroke="#f06060" stroke-width="0.6"/><path d="M463.87,1843.27A3.5,3.5 0 0 0 470.73,1843.27Z" fill="#ee3333"/>
<circle cx="473.9" cy="1843.2" r="3.2" fill="#fff" stroke="#f06060" stroke-width="0.6"/><path d="M470.47,1842.67A3.5,3.5 0 0 0 477.33,1842.67Z" fill="#ee3333"/>
<circle cx="480.6" cy="1843.8" r="3.2" fill="#fff" stroke="#f06060" stroke-width="0.6"/><path d="M477.17,1843.27A3.5,3.5 0 0 0 484.03,1843.27Z" fill="#ee3333"/>
<circle cx="487.2" cy="1845.8" r="3.2" fill="#fff" stroke="#f06060" stroke-width="0.6"/><path d="M483.77,1845.27A3.5,3.5 0 0 0 490.63,1845.27Z" fill="#ee3333"/>
<circle cx="493.8" cy="1847.1" r="3.2" fill="#fff" stroke="#f06060" stroke-width="0.6"/><path d="M490.37,1846.57A3.5,3.5 0 0 0 497.23,1846.57Z" fill="#ee3333"/>
<circle cx="500.4" cy="1849.1" r="3.2" fill="#fff" stroke="#f06060" stroke-width="0.6"/><path d="M496.97,1848.57A3.5,3.5 0 0 0 503.83,1848.57Z" fill="#ee3333"/>
<circle cx="507" cy="1849.1" r="3.2" fill="#fff" stroke="#f06060" stroke-width="0.6"/><path d="M503.57,1848.57A3.5,3.5 0 0 0 510.43,1848.57Z" fill="#ee3333"/>
<circle cx="513.7" cy="1849.1" r="3.2" fill="#fff" stroke="#f06060" stroke-width="0.6"/><path d="M510.27,1848.57A3.5,3.5 0 0 0 517.13,1848.57Z" fill="#ee3333"/>
<circle cx="520.3" cy="1849.1" r="3.2" fill="#fff" stroke="#f06060" stroke-width="0.6"/><path d="M516.87,1848.57A3.5,3.5 0 0 0 523.73,1848.57Z" fill="#ee3333"/>
<circle cx="526.9" cy="1848.1" r="3.2" fill="#fff" stroke="#f06060" stroke-width="0.6"/><path d="M523.47,1847.57A3.5,3.5 0 0 0 530.33,1847.57Z" fill="#ee3333"/>
<circle cx="532.5" cy="1848.1" r="3.2" fill="#fff" stroke="#f06060" stroke-width="0.6"/><path d="M529.07,1847.57A3.5,3.5 0 0 0 535.93,1847.57Z" fill="#ee3333"/>
<circle cx="538.5" cy="1847.1" r="3.2" fill="#fff" stroke="#f06060" stroke-width="0.6"/><path d="M535.07,1846.57A3.5,3.5 0 0 0 541.93,1846.57Z" fill="#ee3333"/>
<path d="M124.9,1859.4L131.8,1861.8L138.7,1864.5L144.9,1867.3L151.8,1870.7L158.7,1875.6L165.6,1879L171.8,1882.5L178.7,1887L185.3,1892.2L191.5,1896.3L198.4,1900.8L205.3,1906.7L211.5,1912.9L218.1,1919.1L224.3,1923.9L231.2,1929.4L237.4,1937L244.3,1944L250.9,1951.5L257.8,1959.5L264,1968.1L270.9,1975.7L277.8,1984.7L284.7,1990.6L291,1995.7L297.5,1988.8L304.4,1975L310.6,1962.9L317.5,1950.9L324.4,1938.8L330.7,1928.4L336.6,1918.6L343.2,1908.7L349.9,1901.1L356.5,1894.5L363.1,1886.8L369.7,1880.2L376.3,1873.6L382.9,1868L389.6,1863L396.2,1859L402.8,1856.4L409.4,1854.1L416,1854.1L422.7,1854.1L429.3,1854.7L435.9,1854.7L442.5,1853.8L449.1,1853.1L455.7,1851.4L462.4,1850.4L469,1849.1L475.6,1848.1L482.2,1847.1L488.8,1846.5L495.5,1845.8L502.1,1845.8" stroke="#7aa4ea" stroke-width="0.8" fill="none" stroke-dasharray="2.2,1.4"/>
<path d="M120.84,1856.15L128.96,1856.15L124.9,1863.46Z" fill="#fff" stroke="#1a6ee6" stroke-width="0.6" stroke-opacity="0.8"/><path d="M120.76,1856.15H129.04" stroke="#1a6ee6" stroke-width="1.1"/><path d="M121.98,1858.18L127.82,1858.18L124.9,1863.46Z" fill="#1a6ee6"/>
<path d="M127.74,1858.55L135.86,1858.55L131.8,1865.86Z" fill="#fff" stroke="#1a6ee6" stroke-width="0.6" stroke-opacity="0.8"/><path d="M127.66,1858.55H135.94" stroke="#1a6ee6" stroke-width="1.1"/><path d="M128.88,1860.58L134.72,1860.58L131.8,1865.86Z" fill="#1a6ee6"/>
<path d="M134.64,1861.25L142.76,1861.25L138.7,1868.56Z" fill="#fff" stroke="#1a6ee6" stroke-width="0.6" stroke-opacity="0.8"/><path d="M134.56,1861.25H142.84" stroke="#1a6ee6" stroke-width="1.1"/><path d="M135.78,1863.28L141.62,1863.28L138.7,1868.56Z" fill="#1a6ee6"/>
<path d="M140.84,1864.05L148.96,1864.05L144.9,1871.36Z" fill="#fff" stroke="#1a6ee6" stroke-width="0.6" stroke-opacity="0.8"/><path d="M140.76,1864.05H149.04" stroke="#1a6ee6" stroke-width="1.1"/><path d="M141.98,1866.08L147.82,1866.08L144.9,1871.36Z" fill="#1a6ee6"/>
<path d="M147.74,1867.45L155.86,1867.45L151.8,1874.76Z" fill="#fff" stroke="#1a6ee6" stroke-width="0.6" stroke-opacity="0.8"/><path d="M147.66,1867.45H155.94" stroke="#1a6ee6" stroke-width="1.1"/><path d="M148.88,1869.48L154.72,1869.48L151.8,1874.76Z" fill="#1a6ee6"/>
<path d="M154.64,1872.35L162.76,1872.35L158.7,1879.66Z" fill="#fff" stroke="#1a6ee6" stroke-width="0.6" stroke-opacity="0.8"/><path d="M154.56,1872.35H162.84" stroke="#1a6ee6" stroke-width="1.1"/><path d="M155.78,1874.38L161.62,1874.38L158.7,1879.66Z" fill="#1a6ee6"/>
<path d="M161.54,1875.75L169.66,1875.75L165.6,1883.06Z" fill="#fff" stroke="#1a6ee6" stroke-width="0.6" stroke-opacity="0.8"/><path d="M161.46,1875.75H169.74" stroke="#1a6ee6" stroke-width="1.1"/><path d="M162.68,1877.78L168.52,1877.78L165.6,1883.06Z" fill="#1a6ee6"/>
<path d="M167.74,1879.25L175.86,1879.25L171.8,1886.56Z" fill="#fff" stroke="#1a6ee6" stroke-width="0.6" stroke-opacity="0.8"/><path d="M167.66,1879.25H175.94" stroke="#1a6ee6" stroke-width="1.1"/><path d="M168.88,1881.28L174.72,1881.28L171.8,1886.56Z" fill="#1a6ee6"/>
<path d="M174.64,1883.75L182.76,1883.75L178.7,1891.06Z" fill="#fff" stroke="#1a6ee6" stroke-width="0.6" stroke-opacity="0.8"/><path d="M174.56,1883.75H182.84" stroke="#1a6ee6" stroke-width="1.1"/><path d="M175.78,1885.78L181.62,1885.78L178.7,1891.06Z" fill="#1a6ee6"/>
<path d="M181.24,1888.95L189.36,1888.95L185.3,1896.26Z" fill="#fff" stroke="#1a6ee6" stroke-width="0.6" stroke-opacity="0.8"/><path d="M181.16,1888.95H189.44" stroke="#1a6ee6" stroke-width="1.1"/><path d="M182.38,1890.98L188.22,1890.98L185.3,1896.26Z" fill="#1a6ee6"/>
<path d="M187.44,1893.05L195.56,1893.05L191.5,1900.36Z" fill="#fff" stroke="#1a6ee6" stroke-width="0.6" stroke-opacity="0.8"/><path d="M187.36,1893.05H195.64" stroke="#1a6ee6" stroke-width="1.1"/><path d="M188.58,1895.08L194.42,1895.08L191.5,1900.36Z" fill="#1a6ee6"/>
<path d="M194.34,1897.55L202.46,1897.55L198.4,1904.86Z" fill="#fff" stroke="#1a6ee6" stroke-width="0.6" stroke-opacity="0.8"/><path d="M194.26,1897.55H202.54" stroke="#1a6ee6" stroke-width="1.1"/><path d="M195.48,1899.58L201.32,1899.58L198.4,1904.86Z" fill="#1a6ee6"/>
<path d="M201.24,1903.45L209.36,1903.45L205.3,1910.76Z" fill="#fff" stroke="#1a6ee6" stroke-width="0.6" stroke-opacity="0.8"/><path d="M201.16,1903.45H209.44" stroke="#1a6ee6" stroke-width="1.1"/><path d="M202.38,1905.48L208.22,1905.48L205.3,1910.76Z" fill="#1a6ee6"/>
<path d="M207.44,1909.65L215.56,1909.65L211.5,1916.96Z" fill="#fff" stroke="#1a6ee6" stroke-width="0.6" stroke-opacity="0.8"/><path d="M207.36,1909.65H215.64" stroke="#1a6ee6" stroke-width="1.1"/><path d="M208.58,1911.68L214.42,1911.68L211.5,1916.96Z" fill="#1a6ee6"/>
<path d="M214.04,1915.85L222.16,1915.85L218.1,1923.16Z" fill="#fff" stroke="#1a6ee6" stroke-width="0.6" stroke-opacity="0.8"/><path d="M213.96,1915.85H222.24" stroke="#1a6ee6" stroke-width="1.1"/><path d="M215.18,1917.88L221.02,1917.88L218.1,1923.16Z" fill="#1a6ee6"/>
<path d="M220.24,1920.65L228.36,1920.65L224.3,1927.96Z" fill="#fff" stroke="#1a6ee6" stroke-width="0.6" stroke-opacity="0.8"/><path d="M220.16,1920.65H228.44" stroke="#1a6ee6" stroke-width="1.1"/><path d="M221.38,1922.68L227.22,1922.68L224.3,1927.96Z" fill="#1a6ee6"/>
<path d="M227.14,1926.15L235.26,1926.15L231.2,1933.46Z" fill="#fff" stroke="#1a6ee6" stroke-width="0.6" stroke-opacity="0.8"/><path d="M227.06,1926.15H235.34" stroke="#1a6ee6" stroke-width="1.1"/><path d="M228.28,1928.18L234.12,1928.18L231.2,1933.46Z" fill="#1a6ee6"/>
<path d="M233.34,1933.75L241.46,1933.75L237.4,1941.06Z" fill="#fff" stroke="#1a6ee6" stroke-width="0.6" stroke-opacity="0.8"/><path d="M233.26,1933.75H241.54" stroke="#1a6ee6" stroke-width="1.1"/><path d="M234.48,1935.78L240.32,1935.78L237.4,1941.06Z" fill="#1a6ee6"/>
<path d="M240.24,1940.75L248.36,1940.75L244.3,1948.06Z" fill="#fff" stroke="#1a6ee6" stroke-width="0.6" stroke-opacity="0.8"/><path d="M240.16,1940.75H248.44" stroke="#1a6ee6" stroke-width="1.1"/><path d="M241.38,1942.78L247.22,1942.78L244.3,1948.06Z" fill="#1a6ee6"/>
<path d="M246.84,1948.25L254.96,1948.25L250.9,1955.56Z" fill="#fff" stroke="#1a6ee6" stroke-width="0.6" stroke-opacity="0.8"/><path d="M246.76,1948.25H255.04" stroke="#1a6ee6" stroke-width="1.1"/><path d="M247.98,1950.28L253.82,1950.28L250.9,1955.56Z" fill="#1a6ee6"/>
<path d="M253.74,1956.25L261.86,1956.25L257.8,1963.56Z" fill="#fff" stroke="#1a6ee6" stroke-width="0.6" stroke-opacity="0.8"/><path d="M253.66,1956.25H261.94" stroke="#1a6ee6" stroke-width="1.1"/><path d="M254.88,1958.28L260.72,1958.28L257.8,1963.56Z" fill="#1a6ee6"/>
<path d="M259.94,1964.85L268.06,1964.85L264,1972.16Z" fill="#fff" stroke="#1a6ee6" stroke-width="0.6" stroke-opacity="0.8"/><path d="M259.86,1964.85H268.14" stroke="#1a6ee6" stroke-width="1.1"/><path d="M261.08,1966.88L266.92,1966.88L264,1972.16Z" fill="#1a6ee6"/>
<path d="M266.84,1972.45L274.96,1972.45L270.9,1979.76Z" fill="#fff" stroke="#1a6ee6" stroke-width="0.6" stroke-opacity="0.8"/><path d="M266.76,1972.45H275.04" stroke="#1a6ee6" stroke-width="1.1"/><path d="M267.98,1974.48L273.82,1974.48L270.9,1979.76Z" fill="#1a6ee6"/>
<path d="M273.74,1981.45L281.86,1981.45L277.8,1988.76Z" fill="#fff" stroke="#1a6ee6" stroke-width="0.6" stroke-opacity="0.8"/><path d="M273.66,1981.45H281.94" stroke="#1a6ee6" stroke-width="1.1"/><path d="M274.88,1983.48L280.72,1983.48L277.8,1988.76Z" fill="#1a6ee6"/>
<path d="M280.64,1987.35L288.76,1987.35L284.7,1994.66Z" fill="#fff" stroke="#1a6ee6" stroke-width="0.6" stroke-opacity="0.8"/><path d="M280.56,1987.35H288.84" stroke="#1a6ee6" stroke-width="1.1"/><path d="M281.78,1989.38L287.62,1989.38L284.7,1994.66Z" fill="#1a6ee6"/>
<path d="M286.94,1992.45L295.06,1992.45L291,1999.76Z" fill="#fff" stroke="#1a6ee6" stroke-width="0.6" stroke-opacity="0.8"/><path d="M286.86,1992.45H295.14" stroke="#1a6ee6" stroke-width="1.1"/><path d="M288.08,1994.48L293.92,1994.48L291,1999.76Z" fill="#1a6ee6"/>
<path d="M293.44,1985.55L301.56,1985.55L297.5,1992.86Z" fill="#fff" stroke="#1a6ee6" stroke-width="0.6" stroke-opacity="0.8"/><path d="M293.36,1985.55H301.64" stroke="#1a6ee6" stroke-width="1.1"/><path d="M294.58,1987.58L300.42,1987.58L297.5,1992.86Z" fill="#1a6ee6"/>
<path d="M300.34,1971.75L308.46,1971.75L304.4,1979.06Z" fill="#fff" stroke="#1a6ee6" stroke-width="0.6" stroke-opacity="0.8"/><path d="M300.26,1971.75H308.54" stroke="#1a6ee6" stroke-width="1.1"/><path d="M301.48,1973.78L307.32,1973.78L304.4,1979.06Z" fill="#1a6ee6"/>
<path d="M306.54,1959.65L314.66,1959.65L310.6,1966.96Z" fill="#fff" stroke="#1a6ee6" stroke-width="0.6" stroke-opacity="0.8"/><path d="M306.46,1959.65H314.74" stroke="#1a6ee6" stroke-width="1.1"/><path d="M307.68,1961.68L313.52,1961.68L310.6,1966.96Z" fill="#1a6ee6"/>
<path d="M313.44,1947.65L321.56,1947.65L317.5,1954.96Z" fill="#fff" stroke="#1a6ee6" stroke-width="0.6" stroke-opacity="0.8"/><path d="M313.36,1947.65H321.64" stroke="#1a6ee6" stroke-width="1.1"/><path d="M314.58,1949.68L320.42,1949.68L317.5,1954.96Z" fill="#1a6ee6"/>
<path d="M320.34,1935.55L328.46,1935.55L324.4,1942.86Z" fill="#fff" stroke="#1a6ee6" stroke-width="0.6" stroke-opacity="0.8"/><path d="M320.26,1935.55H328.54" stroke="#1a6ee6" stroke-width="1.1"/><path d="M321.48,1937.58L327.32,1937.58L324.4,1942.86Z" fill="#1a6ee6"/>
<path d="M326.64,1925.15L334.76,1925.15L330.7,1932.46Z" fill="#fff" stroke="#1a6ee6" stroke-width="0.6" stroke-opacity="0.8"/><path d="M326.56,1925.15H334.84" stroke="#1a6ee6" stroke-width="1.1"/><path d="M327.78,1927.18L333.62,1927.18L330.7,1932.46Z" fill="#1a6ee6"/>
<path d="M332.54,1915.35L340.66,1915.35L336.6,1922.66Z" fill="#fff" stroke="#1a6ee6" stroke-width="0.6" stroke-opacity="0.8"/><path d="M332.46,1915.35H340.74" stroke="#1a6ee6" stroke-width="1.1"/><path d="M333.68,1917.38L339.52,1917.38L336.6,1922.66Z" fill="#1a6ee6"/>
<path d="M339.14,1905.45L347.26,1905.45L343.2,1912.76Z" fill="#fff" stroke="#1a6ee6" stroke-width="0.6" stroke-opacity="0.8"/><path d="M339.06,1905.45H347.34" stroke="#1a6ee6" stroke-width="1.1"/><path d="M340.28,1907.48L346.12,1907.48L343.2,1912.76Z" fill="#1a6ee6"/>
<path d="M345.84,1897.85L353.96,1897.85L349.9,1905.16Z" fill="#fff" stroke="#1a6ee6" stroke-width="0.6" stroke-opacity="0.8"/><path d="M345.76,1897.85H354.04" stroke="#1a6ee6" stroke-width="1.1"/><path d="M346.98,1899.88L352.82,1899.88L349.9,1905.16Z" fill="#1a6ee6"/>
<path d="M352.44,1891.25L360.56,1891.25L356.5,1898.56Z" fill="#fff" stroke="#1a6ee6" stroke-width="0.6" stroke-opacity="0.8"/><path d="M352.36,1891.25H360.64" stroke="#1a6ee6" stroke-width="1.1"/><path d="M353.58,1893.28L359.42,1893.28L356.5,1898.56Z" fill="#1a6ee6"/>
<path d="M359.04,1883.55L367.16,1883.55L363.1,1890.86Z" fill="#fff" stroke="#1a6ee6" stroke-width="0.6" stroke-opacity="0.8"/><path d="M358.96,1883.55H367.24" stroke="#1a6ee6" stroke-width="1.1"/><path d="M360.18,1885.58L366.02,1885.58L363.1,1890.86Z" fill="#1a6ee6"/>
<path d="M365.64,1876.95L373.76,1876.95L369.7,1884.26Z" fill="#fff" stroke="#1a6ee6" stroke-width="0.6" stroke-opacity="0.8"/><path d="M365.56,1876.95H373.84" stroke="#1a6ee6" stroke-width="1.1"/><path d="M366.78,1878.98L372.62,1878.98L369.7,1884.26Z" fill="#1a6ee6"/>
<path d="M372.24,1870.35L380.36,1870.35L376.3,1877.66Z" fill="#fff" stroke="#1a6ee6" stroke-width="0.6" stroke-opacity="0.8"/><path d="M372.16,1870.35H380.44" stroke="#1a6ee6" stroke-width="1.1"/><path d="M373.38,1872.38L379.22,1872.38L376.3,1877.66Z" fill="#1a6ee6"/>
<path d="M378.84,1864.75L386.96,1864.75L382.9,1872.06Z" fill="#fff" stroke="#1a6ee6" stroke-width="0.6" stroke-opacity="0.8"/><path d="M378.76,1864.75H387.04" stroke="#1a6ee6" stroke-width="1.1"/><path d="M379.98,1866.78L385.82,1866.78L382.9,1872.06Z" fill="#1a6ee6"/>
<path d="M385.54,1859.75L393.66,1859.75L389.6,1867.06Z" fill="#fff" stroke="#1a6ee6" stroke-width="0.6" stroke-opacity="0.8"/><path d="M385.46,1859.75H393.74" stroke="#1a6ee6" stroke-width="1.1"/><path d="M386.68,1861.78L392.52,1861.78L389.6,1867.06Z" fill="#1a6ee6"/>
<path d="M392.14,1855.75L400.26,1855.75L396.2,1863.06Z" fill="#fff" stroke="#1a6ee6" stroke-width="0.6" stroke-opacity="0.8"/><path d="M392.06,1855.75H400.34" stroke="#1a6ee6" stroke-width="1.1"/><path d="M393.28,1857.78L399.12,1857.78L396.2,1863.06Z" fill="#1a6ee6"/>
<path d="M398.74,1853.15L406.86,1853.15L402.8,1860.46Z" fill="#fff" stroke="#1a6ee6" stroke-width="0.6" stroke-opacity="0.8"/><path d="M398.66,1853.15H406.94" stroke="#1a6ee6" stroke-width="1.1"/><path d="M399.88,1855.18L405.72,1855.18L402.8,1860.46Z" fill="#1a6ee6"/>
<path d="M405.34,1850.85L413.46,1850.85L409.4,1858.16Z" fill="#fff" stroke="#1a6ee6" stroke-width="0.6" stroke-opacity="0.8"/><path d="M405.26,1850.85H413.54" stroke="#1a6ee6" stroke-width="1.1"/><path d="M406.48,1852.88L412.32,1852.88L409.4,1858.16Z" fill="#1a6ee6"/>
<path d="M411.94,1850.85L420.06,1850.85L416,1858.16Z" fill="#fff" stroke="#1a6ee6" stroke-width="0.6" stroke-opacity="0.8"/><path d="M411.86,1850.85H420.14" stroke="#1a6ee6" stroke-width="1.1"/><path d="M413.08,1852.88L418.92,1852.88L416,1858.16Z" fill="#1a6ee6"/>
<path d="M418.64,1850.85L426.76,1850.85L422.7,1858.16Z" fill="#fff" stroke="#1a6ee6" stroke-width="0.6" stroke-opacity="0.8"/><path d="M418.56,1850.85H426.84" stroke="#1a6ee6" stroke-width="1.1"/><path d="M419.78,1852.88L425.62,1852.88L422.7,1858.16Z" fill="#1a6ee6"/>
<path d="M425.24,1851.45L433.36,1851.45L429.3,1858.76Z" fill="#fff" stroke="#1a6ee6" stroke-width="0.6" stroke-opacity="0.8"/><path d="M425.16,1851.45H433.44" stroke="#1a6ee6" stroke-width="1.1"/><path d="M426.38,1853.48L432.22,1853.48L429.3,1858.76Z" fill="#1a6ee6"/>
<path d="M431.84,1851.45L439.96,1851.45L435.9,1858.76Z" fill="#fff" stroke="#1a6ee6" stroke-width="0.6" stroke-opacity="0.8"/><path d="M431.76,1851.45H440.04" stroke="#1a6ee6" stroke-width="1.1"/><path d="M432.98,1853.48L438.82,1853.48L435.9,1858.76Z" fill="#1a6ee6"/>
<path d="M438.44,1850.55L446.56,1850.55L442.5,1857.86Z" fill="#fff" stroke="#1a6ee6" stroke-width="0.6" stroke-opacity="0.8"/><path d="M438.36,1850.55H446.64" stroke="#1a6ee6" stroke-width="1.1"/><path d="M439.58,1852.58L445.42,1852.58L442.5,1857.86Z" fill="#1a6ee6"/>
<path d="M445.04,1849.85L453.16,1849.85L449.1,1857.16Z" fill="#fff" stroke="#1a6ee6" stroke-width="0.6" stroke-opacity="0.8"/><path d="M444.96,1849.85H453.24" stroke="#1a6ee6" stroke-width="1.1"/><path d="M446.18,1851.88L452.02,1851.88L449.1,1857.16Z" fill="#1a6ee6"/>
<path d="M451.64,1848.15L459.76,1848.15L455.7,1855.46Z" fill="#fff" stroke="#1a6ee6" stroke-width="0.6" stroke-opacity="0.8"/><path d="M451.56,1848.15H459.84" stroke="#1a6ee6" stroke-width="1.1"/><path d="M452.78,1850.18L458.62,1850.18L455.7,1855.46Z" fill="#1a6ee6"/>
<path d="M458.34,1847.15L466.46,1847.15L462.4,1854.46Z" fill="#fff" stroke="#1a6ee6" stroke-width="0.6" stroke-opacity="0.8"/><path d="M458.26,1847.15H466.54" stroke="#1a6ee6" stroke-width="1.1"/><path d="M459.48,1849.18L465.32,1849.18L462.4,1854.46Z" fill="#1a6ee6"/>
<path d="M464.94,1845.85L473.06,1845.85L469,1853.16Z" fill="#fff" stroke="#1a6ee6" stroke-width="0.6" stroke-opacity="0.8"/><path d="M464.86,1845.85H473.14" stroke="#1a6ee6" stroke-width="1.1"/><path d="M466.08,1847.88L471.92,1847.88L469,1853.16Z" fill="#1a6ee6"/>
<path d="M471.54,1844.85L479.66,1844.85L475.6,1852.16Z" fill="#fff" stroke="#1a6ee6" stroke-width="0.6" stroke-opacity="0.8"/><path d="M471.46,1844.85H479.74" stroke="#1a6ee6" stroke-width="1.1"/><path d="M472.68,1846.88L478.52,1846.88L475.6,1852.16Z" fill="#1a6ee6"/>
<path d="M478.14,1843.85L486.26,1843.85L482.2,1851.16Z" fill="#fff" stroke="#1a6ee6" stroke-width="0.6" stroke-opacity="0.8"/><path d="M478.06,1843.85H486.34" stroke="#1a6ee6" stroke-width="1.1"/><path d="M479.28,1845.88L485.12,1845.88L482.2,1851.16Z" fill="#1a6ee6"/>
<path d="M484.74,1843.25L492.86,1843.25L488.8,1850.56Z" fill="#fff" stroke="#1a6ee6" stroke-width="0.6" stroke-opacity="0.8"/><path d="M484.66,1843.25H492.94" stroke="#1a6ee6" stroke-width="1.1"/><path d="M485.88,1845.28L491.72,1845.28L488.8,1850.56Z" fill="#1a6ee6"/>
<path d="M491.44,1842.55L499.56,1842.55L495.5,1849.86Z" fill="#fff" stroke="#1a6ee6" stroke-width="0.6" stroke-opacity="0.8"/><path d="M491.36,1842.55H499.64" stroke="#1a6ee6" stroke-width="1.1"/><path d="M492.58,1844.58L498.42,1844.58L495.5,1849.86Z" fill="#1a6ee6"/>
<path d="M498.04,1842.55L506.16,1842.55L502.1,1849.86Z" fill="#fff" stroke="#1a6ee6" stroke-width="0.6" stroke-opacity="0.8"/><path d="M497.96,1842.55H506.24" stroke="#1a6ee6" stroke-width="1.1"/><path d="M499.18,1844.58L505.02,1844.58L502.1,1849.86Z" fill="#1a6ee6"/>
<rect x="511.6" y="1576.2" width="113.9" height="91.7" fill="#fff" stroke="#aaa" stroke-width="1.0"/>
<path d="M515.3,1593.5H569.4" stroke="#888888" stroke-width="1"/>
<path d="M542,1588.62L546.88,1593.5L542,1598.38L537.12,1593.5Z" fill="#fff" stroke="#777" stroke-width="0.6"/><path d="M537.12,1593.5L546.88,1593.5L542,1598.38Z" fill="#444444"/>
<text transform="translate(576.3,1601.8) scale(0.9,1)" class="lg">Pit-1</text>
<path d="M515.3,1622.4H569.4" stroke="#ee7777" stroke-width="1"/>
<circle cx="542" cy="1622.4" r="3.38" fill="#fff" stroke="#f06060" stroke-width="0.6"/><path d="M538.4,1621.85A3.68,3.68 0 0 0 545.6,1621.85Z" fill="#ee3333"/>
<text transform="translate(576.3,1630.7) scale(0.9,1)" class="lg">Pit-2</text>
<path d="M515.3,1651.7H569.4" stroke="#7aa4ea" stroke-width="1"/>
<path d="M537.74,1648.29L546.26,1648.29L542,1655.96Z" fill="#fff" stroke="#1a6ee6" stroke-width="0.6" stroke-opacity="0.8"/><path d="M537.65,1648.29H546.35" stroke="#1a6ee6" stroke-width="1.1"/><path d="M538.93,1650.42L545.07,1650.42L542,1655.96Z" fill="#1a6ee6"/>
<text transform="translate(576.3,1660) scale(0.9,1)" class="lg">Pit-3</text>
</g>
<g id="panel-e">
<path d="M68.5,2118.5V2576" stroke="#000" stroke-width="2" fill="none"/>
<path d="M67.5,2576H637.6" stroke="#000" stroke-width="2" fill="none"/>
<path d="M64,2537.1H68.5" stroke="#000" stroke-width="2"/>
<path d="M64,2472.7H68.5" stroke="#000" stroke-width="2"/>
<path d="M64,2408.3H68.5" stroke="#000" stroke-width="2"/>
<path d="M64,2343.9H68.5" stroke="#000" stroke-width="2"/>
<path d="M64,2279.5H68.5" stroke="#000" stroke-width="2"/>
<path d="M64,2215.1H68.5" stroke="#000" stroke-width="2"/>
<path d="M64,2150.7H68.5" stroke="#000" stroke-width="2"/>
<path d="M60.5,2569.3H68.5" stroke="#000" stroke-width="2"/>
<text x="53.1" y="2575.99" text-anchor="end" class="tl" style="font-size:19.4px">0</text>
<path d="M60.5,2504.9H68.5" stroke="#000" stroke-width="2"/>
<text x="53.1" y="2511.59" text-anchor="end" class="tl" style="font-size:19.4px">10</text>
<path d="M60.5,2440.5H68.5" stroke="#000" stroke-width="2"/>
<text x="53.1" y="2447.19" text-anchor="end" class="tl" style="font-size:19.4px">20</text>
<path d="M60.5,2376.1H68.5" stroke="#000" stroke-width="2"/>
<text x="53.1" y="2382.79" text-anchor="end" class="tl" style="font-size:19.4px">30</text>
<path d="M60.5,2311.7H68.5" stroke="#000" stroke-width="2"/>
<text x="53.1" y="2318.39" text-anchor="end" class="tl" style="font-size:19.4px">40</text>
<path d="M60.5,2247.3H68.5" stroke="#000" stroke-width="2"/>
<text x="53.1" y="2253.99" text-anchor="end" class="tl" style="font-size:19.4px">50</text>
<path d="M60.5,2182.9H68.5" stroke="#000" stroke-width="2"/>
<text x="53.1" y="2189.59" text-anchor="end" class="tl" style="font-size:19.4px">60</text>
<path d="M60.5,2118.5H68.5" stroke="#000" stroke-width="2"/>
<text x="53.1" y="2125.19" text-anchor="end" class="tl" style="font-size:19.4px">70</text>
<path d="M68.5,2576V2584" stroke="#000" stroke-width="2"/>
<text x="68.5" y="2605.11" text-anchor="middle" class="tl" style="font-size:18.4px">-200</text>
<path d="M98.4,2576V2580.5" stroke="#000" stroke-width="2"/>
<path d="M128.3,2576V2584" stroke="#000" stroke-width="2"/>
<text x="128.3" y="2605.11" text-anchor="middle" class="tl" style="font-size:18.4px">0</text>
<path d="M158.2,2576V2580.5" stroke="#000" stroke-width="2"/>
<path d="M188.1,2576V2584" stroke="#000" stroke-width="2"/>
<text x="188.1" y="2605.11" text-anchor="middle" class="tl" style="font-size:18.4px">200</text>
<path d="M218,2576V2580.5" stroke="#000" stroke-width="2"/>
<path d="M247.9,2576V2584" stroke="#000" stroke-width="2"/>
<text x="247.9" y="2605.11" text-anchor="middle" class="tl" style="font-size:18.4px">400</text>
<path d="M277.8,2576V2580.5" stroke="#000" stroke-width="2"/>
<path d="M307.7,2576V2584" stroke="#000" stroke-width="2"/>
<text x="307.7" y="2605.11" text-anchor="middle" class="tl" style="font-size:18.4px">600</text>
<path d="M337.6,2576V2580.5" stroke="#000" stroke-width="2"/>
<path d="M367.5,2576V2584" stroke="#000" stroke-width="2"/>
<text x="367.5" y="2605.11" text-anchor="middle" class="tl" style="font-size:18.4px">800</text>
<path d="M397.4,2576V2580.5" stroke="#000" stroke-width="2"/>
<path d="M427.3,2576V2584" stroke="#000" stroke-width="2"/>
<text x="427.3" y="2605.11" text-anchor="middle" class="tl" style="font-size:18.4px">1000</text>
<path d="M457.2,2576V2580.5" stroke="#000" stroke-width="2"/>
<path d="M487.1,2576V2584" stroke="#000" stroke-width="2"/>
<text x="487.1" y="2605.11" text-anchor="middle" class="tl" style="font-size:18.4px">1200</text>
<path d="M517,2576V2580.5" stroke="#000" stroke-width="2"/>
<path d="M546.9,2576V2584" stroke="#000" stroke-width="2"/>
<text x="546.9" y="2605.11" text-anchor="middle" class="tl" style="font-size:18.4px">1400</text>
<path d="M576.8,2576V2580.5" stroke="#000" stroke-width="2"/>
<path d="M606.7,2576V2584" stroke="#000" stroke-width="2"/>
<text x="606.7" y="2605.11" text-anchor="middle" class="tl" style="font-size:18.4px">1600</text>
<path d="M636.6,2576V2580.5" stroke="#000" stroke-width="2"/>
<text x="352.85" y="2643.5" text-anchor="middle" class="at" style="font-size:23.7px">Width (nm)</text>
<text transform="translate(23.6,2347) rotate(-90)" x="0" y="0" text-anchor="middle" class="at" style="font-size:23.55px">Height (nm)</text>
<text x="85.5" y="2542.4" class="pl">(e)</text>
<defs><clipPath id="clipe"><rect x="100" y="2138" width="202" height="203"/></clipPath><filter id="cme" x="100" y="2138" width="202" height="203" filterUnits="userSpaceOnUse" color-interpolation-filters="sRGB"><feTurbulence type="fractalNoise" baseFrequency="0.02 0.2" numOctaves="1" seed="13" result="n"/><feColorMatrix in="n" type="matrix" values="0.06 0 0 0 0  0.06 0 0 0 0  0.06 0 0 0 0  0 0 0 0 1" result="ng"/><feComposite in="SourceGraphic" in2="ng" operator="arithmetic" k2="1" k3="1" k4="-0.03" result="s"/><feTurbulence type="fractalNoise" baseFrequency="0.35" numOctaves="1" seed="14" result="n2"/><feColorMatrix in="n2" type="matrix" values="0.07 0 0 0 0  0.07 0 0 0 0  0.07 0 0 0 0  0 0 0 0 1" result="ng2"/><feComposite in="s" in2="ng2" operator="arithmetic" k2="1" k3="1" k4="-0.04" result="s"/><feComponentTransfer in="s"><feFuncR type="table" tableValues="0 0.02 0.05 0.07 0.09 0.11 0.14 0.17 0.2 0.22 0.25 0.29 0.33 0.38 0.42 0.48 0.55 0.61 0.67 0.74 0.8 0.85 0.86 0.87 0.88 0.89 0.9 0.91 0.91 0.92 0.93 0.94 0.94 0.95 0.96 0.96 0.97 0.98 0.98 0.99 0.99 1 1 1 1 1 1 1 1 1 1 1 1 1 1 1 1 1 1 1 1 0.99 0.98 0.97 0.93 0.9 0.86 0.82 0.77 0.73 0.69 0.64 0.59 0.55 0.5 0.45 0.4 0.36 0.33 0.29 0.26 0.22 0.19 0.19 0.19 0.19 0.19 0.19 0.19 0.19 0.19 0.19 0.19 0.19 0.19 0.2 0.2 0.21 0.22 0.22 0.23 0.24 0.25 0.29 0.32 0.36 0.43 0.49 0.53 0.56 0.6 0.65 0.7 0.75 0.81 0.87 0.9 0.92 0.93 0.94 0.94 0.94 0.94 0.94 0.94 0.94 0.95 0.95 0.95"/><feFuncG type="table" tableValues="0 0.01 0.02 0.03 0.05 0.06 0.07 0.07 0.08 0.09 0.09 0.1 0.11 0.12 0.13 0.15 0.16 0.18 0.21 0.24 0.26 0.28 0.28 0.27 0.27 0.26 0.26 0.25 0.25 0.25 0.25 0.25 0.25 0.25 0.24 0.24 0.24 0.24 0.24 0.24 0.24 0.24 0.25 0.26 0.27 0.29 0.33 0.37 0.4 0.44 0.48 0.52 0.56 0.59 0.63 0.66 0.69 0.74 0.78 0.83 0.87 0.89 0.9 0.91 0.91 0.91 0.91 0.91 0.91 0.91 0.91 0.91 0.91 0.91 0.91 0.92 0.92 0.93 0.93 0.94 0.94 0.94 0.94 0.91 0.88 0.84 0.81 0.77 0.75 0.73 0.71 0.69 0.67 0.65 0.62 0.6 0.57 0.55 0.52 0.5 0.49 0.5 0.5 0.51 0.52 0.53 0.57 0.6 0.62 0.64 0.66 0.71 0.75 0.79 0.84 0.88 0.91 0.92 0.93 0.94 0.94 0.94 0.94 0.94 0.94 0.94 0.95 0.95 0.95"/><feFuncB type="table" tableValues="0 0.02 0.05 0.07 0.09 0.11 0.15 0.19 0.23 0.27 0.31 0.38 0.44 0.5 0.57 0.64 0.72 0.79 0.85 0.91 0.96 1 0.98 0.96 0.94 0.92 0.9 0.89 0.86 0.83 0.81 0.78 0.75 0.72 0.69 0.67 0.64 0.61 0.58 0.55 0.53 0.5 0.47 0.45 0.43 0.4 0.39 0.37 0.35 0.34 0.33 0.32 0.31 0.31 0.3 0.29 0.28 0.28 0.28 0.28 0.28 0.29 0.3 0.31 0.31 0.31 0.31 0.31 0.31 0.31 0.31 0.31 0.31 0.31 0.31 0.33 0.34 0.35 0.36 0.37 0.39 0.41 0.44 0.47 0.5 0.54 0.57 0.61 0.64 0.67 0.69 0.72 0.75 0.79 0.82 0.85 0.87 0.9 0.92 0.94 0.96 0.97 0.97 0.97 0.96 0.96 0.95 0.94 0.94 0.94 0.94 0.95 0.95 0.96 0.96 0.96 0.95 0.95 0.95 0.95 0.95 0.95 0.95 0.95 0.95 0.95 0.95 0.95 0.95"/><feFuncA type="linear" slope="0" intercept="1"/></feComponentTransfer></filter><filter id="blew" x="-20%" y="-20%" width="140%" height="140%"><feGaussianBlur stdDeviation="4"/></filter><filter id="bled" x="-50%" y="-50%" width="200%" height="200%"><feGaussianBlur stdDeviation="0.8"/></filter><filter id="bles" x="-20%" y="-20%" width="140%" height="140%"><feGaussianBlur stdDeviation="0.8"/></filter><filter id="blep" x="-50%" y="-50%" width="200%" height="200%"><feGaussianBlur stdDeviation="1"/></filter><linearGradient id="cbge" x1="0" y1="0" x2="0" y2="1"><stop offset="0" stop-color="#f2f2f2"/><stop offset="0.08" stop-color="#eeeef2"/><stop offset="0.1" stop-color="#e0e4f4"/><stop offset="0.11" stop-color="#c4ccf4"/><stop offset="0.14" stop-color="#9aaaf0"/><stop offset="0.17" stop-color="#7c98f0"/><stop offset="0.18" stop-color="#5a88f4"/><stop offset="0.2" stop-color="#4080f8"/><stop offset="0.22" stop-color="#3a7cf4"/><stop offset="0.25" stop-color="#3490e0"/><stop offset="0.27" stop-color="#30a0d0"/><stop offset="0.29" stop-color="#30b0b8"/><stop offset="0.32" stop-color="#30c0a0"/><stop offset="0.34" stop-color="#30d888"/><stop offset="0.36" stop-color="#30f070"/><stop offset="0.38" stop-color="#48f060"/><stop offset="0.4" stop-color="#60ec58"/><stop offset="0.42" stop-color="#80e850"/><stop offset="0.44" stop-color="#a0e850"/><stop offset="0.46" stop-color="#c0e850"/><stop offset="0.49" stop-color="#e0e850"/><stop offset="0.51" stop-color="#f8e850"/><stop offset="0.53" stop-color="#ffe048"/><stop offset="0.56" stop-color="#ffb048"/><stop offset="0.59" stop-color="#ff9050"/><stop offset="0.62" stop-color="#ff6858"/><stop offset="0.65" stop-color="#ff4868"/><stop offset="0.68" stop-color="#ff3c80"/><stop offset="0.72" stop-color="#f83ca0"/><stop offset="0.75" stop-color="#f040c0"/><stop offset="0.79" stop-color="#e840e0"/><stop offset="0.84" stop-color="#d848ff"/><stop offset="0.86" stop-color="#a030d0"/><stop offset="0.89" stop-color="#6a2090"/><stop offset="0.92" stop-color="#401850"/><stop offset="0.96" stop-color="#201020"/><stop offset="1" stop-color="#000000"/></linearGradient></defs>
<g filter="url(#cme)"><g clip-path="url(#clipe)">
<rect x="100" y="2138" width="202" height="203" fill="#afafaf"/>
<g filter="url(#blew)">
<ellipse cx="130.3" cy="2178.6" rx="24.24" ry="20.3" fill="#b4b4b4"/>
<ellipse cx="237.36" cy="2259.8" rx="24.24" ry="20.3" fill="#b4b4b4"/>
<ellipse cx="124.24" cy="2239.5" rx="20.2" ry="20.3" fill="#b2b2b2"/>
<ellipse cx="281.8" cy="2158.3" rx="18.18" ry="16.24" fill="#b4b4b4"/>
<ellipse cx="231.3" cy="2326.79" rx="24.24" ry="12.18" fill="#b2b2b2"/>
<ellipse cx="231.3" cy="2223.26" rx="26.26" ry="20.3" fill="#acacac"/>
<ellipse cx="150.5" cy="2300.4" rx="24.24" ry="20.3" fill="#adadad"/>
<ellipse cx="140.4" cy="2165.41" rx="40.4" ry="2.44" fill="#bfbfbf"/>
<ellipse cx="261.6" cy="2187.74" rx="32.32" ry="2.03" fill="#c1c1c1"/>
<ellipse cx="140.4" cy="2259.8" rx="32.32" ry="2.44" fill="#c1c1c1"/>
<ellipse cx="257.56" cy="2277.05" rx="10.1" ry="2.44" fill="#c4c4c4"/>
<ellipse cx="110.1" cy="2314.61" rx="4.04" ry="2.44" fill="#c4c4c4"/>
</g>
<g filter="url(#bled)">
<circle cx="163.72" cy="2294.28" r="0.8" fill="#9a9a9a"/>
<circle cx="178.88" cy="2319.82" r="1.09" fill="#a0a0a0"/>
<circle cx="120.27" cy="2172.89" r="1.48" fill="#9f9f9f"/>
<circle cx="245.52" cy="2227.67" r="1.25" fill="#989898"/>
<circle cx="145.13" cy="2148.32" r="0.89" fill="#9d9d9d"/>
<circle cx="219.54" cy="2287.73" r="1.42" fill="#a5a5a5"/>
<circle cx="248.92" cy="2139.78" r="1.69" fill="#9e9e9e"/>
<circle cx="188" cy="2155.78" r="0.88" fill="#959595"/>
<circle cx="118.6" cy="2297.8" r="1.12" fill="#a4a4a4"/>
<circle cx="298.87" cy="2264.44" r="0.94" fill="#979797"/>
<circle cx="294.89" cy="2237.96" r="1.08" fill="#a7a7a7"/>
<circle cx="134.24" cy="2316.17" r="0.72" fill="#9d9d9d"/>
<circle cx="167.91" cy="2335.57" r="1.21" fill="#9f9f9f"/>
<circle cx="263.05" cy="2265.46" r="1.63" fill="#a5a5a5"/>
<circle cx="113.59" cy="2166.04" r="1.16" fill="#9c9c9c"/>
<circle cx="265.22" cy="2166.86" r="1.8" fill="#a4a4a4"/>
<circle cx="231.37" cy="2190.62" r="1.58" fill="#a2a2a2"/>
<circle cx="274.3" cy="2199.55" r="1.58" fill="#989898"/>
<circle cx="191.59" cy="2165.89" r="1" fill="#a7a7a7"/>
<circle cx="301.79" cy="2169.57" r="1.43" fill="#949494"/>
<circle cx="172.67" cy="2227.07" r="0.96" fill="#959595"/>
<circle cx="235.47" cy="2320.59" r="0.93" fill="#9b9b9b"/>
<circle cx="250.37" cy="2283.33" r="1.49" fill="#9a9a9a"/>
<circle cx="291.5" cy="2299.24" r="1.6" fill="#a1a1a1"/>
<circle cx="134.84" cy="2330.05" r="1.37" fill="#9e9e9e"/>
<circle cx="237.14" cy="2295.05" r="0.88" fill="#989898"/>
<circle cx="171.23" cy="2165.44" r="1.49" fill="#979797"/>
<circle cx="225.23" cy="2263.56" r="1.54" fill="#a4a4a4"/>
<circle cx="206.42" cy="2175.46" r="1.71" fill="#a1a1a1"/>
<circle cx="201.34" cy="2314.3" r="1.61" fill="#a0a0a0"/>
<circle cx="179.05" cy="2180.07" r="0.77" fill="#959595"/>
<circle cx="104.72" cy="2275.61" r="0.85" fill="#a2a2a2"/>
<circle cx="156.04" cy="2177.9" r="1.77" fill="#9b9b9b"/>
<circle cx="120.46" cy="2269.7" r="1.44" fill="#a7a7a7"/>
<circle cx="260.24" cy="2216.43" r="1.36" fill="#979797"/>
<circle cx="168.3" cy="2233.01" r="0.97" fill="#a5a5a5"/>
<circle cx="258.79" cy="2215.83" r="1.61" fill="#9c9c9c"/>
<circle cx="137.18" cy="2189.26" r="0.84" fill="#a2a2a2"/>
<circle cx="162.11" cy="2150.57" r="0.78" fill="#9d9d9d"/>
<circle cx="276.36" cy="2186.06" r="1.61" fill="#a4a4a4"/>
<circle cx="116.21" cy="2197.54" r="1.72" fill="#a3a3a3"/>
<circle cx="228.55" cy="2141.97" r="0.98" fill="#a3a3a3"/>
<circle cx="128.63" cy="2179.97" r="0.79" fill="#9e9e9e"/>
<circle cx="140.22" cy="2302.94" r="0.8" fill="#a2a2a2"/>
<circle cx="288.81" cy="2188.61" r="1.14" fill="#a4a4a4"/>
<circle cx="141.57" cy="2241.75" r="0.88" fill="#9c9c9c"/>
<circle cx="201.94" cy="2146.45" r="1.69" fill="#9d9d9d"/>
<circle cx="116.49" cy="2157.5" r="1" fill="#959595"/>
<circle cx="242.61" cy="2180.36" r="1.27" fill="#9e9e9e"/>
<circle cx="150.82" cy="2267.23" r="1.11" fill="#a2a2a2"/>
<circle cx="211.58" cy="2269.49" r="1.77" fill="#a3a3a3"/>
<circle cx="264.05" cy="2301.95" r="1.57" fill="#9d9d9d"/>
<circle cx="170.02" cy="2340.88" r="1.06" fill="#9d9d9d"/>
<circle cx="160.31" cy="2152.69" r="1.32" fill="#9a9a9a"/>
<circle cx="134.62" cy="2320.89" r="1.03" fill="#9e9e9e"/>
<circle cx="299.19" cy="2331.35" r="1.72" fill="#a2a2a2"/>
<circle cx="169.28" cy="2213.15" r="1.6" fill="#9d9d9d"/>
<circle cx="265.35" cy="2191.54" r="1.45" fill="#a7a7a7"/>
<circle cx="192.31" cy="2142.36" r="1.05" fill="#989898"/>
<circle cx="240.02" cy="2211.17" r="1.16" fill="#9b9b9b"/>
<circle cx="260.52" cy="2239.92" r="0.73" fill="#979797"/>
<circle cx="135.96" cy="2269.79" r="0.96" fill="#9b9b9b"/>
<circle cx="279.07" cy="2263.26" r="1.62" fill="#9d9d9d"/>
<circle cx="198.26" cy="2157.94" r="0.86" fill="#9e9e9e"/>
<circle cx="246.84" cy="2143.48" r="0.9" fill="#a0a0a0"/>
<circle cx="149.51" cy="2205.23" r="1.38" fill="#a2a2a2"/>
<circle cx="111.44" cy="2154.04" r="1.22" fill="#989898"/>
<circle cx="128.79" cy="2203.92" r="1.24" fill="#a1a1a1"/>
<circle cx="296.01" cy="2337.21" r="1.61" fill="#9b9b9b"/>
<circle cx="122.48" cy="2188.2" r="0.93" fill="#a4a4a4"/>
<circle cx="258.36" cy="2254.94" r="0.78" fill="#999999"/>
<circle cx="227.82" cy="2209.53" r="1.11" fill="#a2a2a2"/>
<circle cx="100.23" cy="2199.07" r="1.3" fill="#9f9f9f"/>
<circle cx="207.8" cy="2156.09" r="0.81" fill="#989898"/>
<circle cx="108.42" cy="2324.4" r="1.67" fill="#959595"/>
<circle cx="261.46" cy="2167.14" r="0.74" fill="#9a9a9a"/>
<circle cx="110.85" cy="2318.19" r="1.09" fill="#a6a6a6"/>
<circle cx="172.12" cy="2340.07" r="1.62" fill="#a8a8a8"/>
<circle cx="224.98" cy="2230.01" r="1.77" fill="#9d9d9d"/>
<circle cx="122.58" cy="2154.29" r="1.38" fill="#9c9c9c"/>
<circle cx="200.01" cy="2150.98" r="1.32" fill="#a8a8a8"/>
<circle cx="151.7" cy="2266.85" r="1.39" fill="#a7a7a7"/>
<circle cx="186.13" cy="2322.21" r="1.01" fill="#a3a3a3"/>
<circle cx="162.63" cy="2214.86" r="1.72" fill="#a4a4a4"/>
<circle cx="182.59" cy="2327.16" r="1.02" fill="#a7a7a7"/>
<circle cx="102.87" cy="2318.01" r="1.27" fill="#a1a1a1"/>
<circle cx="279.57" cy="2172.36" r="0.92" fill="#a3a3a3"/>
<circle cx="277.84" cy="2294.26" r="1.08" fill="#979797"/>
<circle cx="228.88" cy="2237.12" r="1.13" fill="#a7a7a7"/>
<circle cx="277.17" cy="2270.8" r="1.31" fill="#a0a0a0"/>
<circle cx="280.77" cy="2226.61" r="1.74" fill="#a1a1a1"/>
<circle cx="113.38" cy="2267.24" r="1.2" fill="#9a9a9a"/>
<circle cx="299.07" cy="2142.89" r="0.8" fill="#a8a8a8"/>
<circle cx="193.31" cy="2305.87" r="1.39" fill="#a5a5a5"/>
<circle cx="102.15" cy="2138.34" r="1.48" fill="#a1a1a1"/>
<circle cx="202.03" cy="2157.29" r="0.74" fill="#999999"/>
<circle cx="129.14" cy="2288.14" r="1.09" fill="#979797"/>
<circle cx="104.42" cy="2212.4" r="0.83" fill="#a7a7a7"/>
<circle cx="124.31" cy="2282.18" r="1.22" fill="#9e9e9e"/>
<circle cx="102.55" cy="2326.81" r="1.74" fill="#949494"/>
<circle cx="223.24" cy="2219.98" r="1.75" fill="#999999"/>
<circle cx="171.61" cy="2286.61" r="0.86" fill="#949494"/>
<circle cx="289.09" cy="2276.03" r="1.46" fill="#a6a6a6"/>
<circle cx="181.44" cy="2262.33" r="0.92" fill="#9e9e9e"/>
<circle cx="111.92" cy="2338.23" r="0.83" fill="#a4a4a4"/>
<circle cx="172.13" cy="2247.25" r="0.89" fill="#989898"/>
<circle cx="244.73" cy="2257.83" r="1.54" fill="#999999"/>
<circle cx="208.09" cy="2193.14" r="0.92" fill="#9e9e9e"/>
<circle cx="155.73" cy="2211.6" r="1.68" fill="#a8a8a8"/>
<circle cx="123.41" cy="2299.3" r="1.72" fill="#a5a5a5"/>
<circle cx="181.79" cy="2326.71" r="1.41" fill="#989898"/>
<circle cx="171.61" cy="2166.05" r="0.96" fill="#a7a7a7"/>
<circle cx="156.17" cy="2145.01" r="1.68" fill="#989898"/>
<circle cx="262.51" cy="2273.58" r="1.23" fill="#a5a5a5"/>
<circle cx="172.74" cy="2248.15" r="1.73" fill="#a3a3a3"/>
<circle cx="200.69" cy="2263.11" r="1.06" fill="#a8a8a8"/>
<circle cx="200.9" cy="2339.88" r="1.71" fill="#9b9b9b"/>
<circle cx="163.74" cy="2300.4" r="1.29" fill="#a8a8a8"/>
<circle cx="192.31" cy="2270.47" r="1" fill="#a7a7a7"/>
<circle cx="100.3" cy="2213.72" r="1.02" fill="#a2a2a2"/>
<circle cx="254.19" cy="2143.74" r="0.96" fill="#9c9c9c"/>
<circle cx="279.09" cy="2331.92" r="1.18" fill="#9f9f9f"/>
<circle cx="221.68" cy="2194.57" r="0.78" fill="#9e9e9e"/>
<circle cx="282.36" cy="2169.99" r="1.63" fill="#a2a2a2"/>
<circle cx="185.91" cy="2203.47" r="0.82" fill="#a3a3a3"/>
<circle cx="241.16" cy="2284.81" r="1.13" fill="#979797"/>
<circle cx="213.34" cy="2262.01" r="1.36" fill="#a0a0a0"/>
<circle cx="278.82" cy="2331.36" r="1.35" fill="#a7a7a7"/>
<circle cx="125.42" cy="2319.52" r="1.7" fill="#989898"/>
<circle cx="119.27" cy="2223.22" r="1.13" fill="#9f9f9f"/>
<circle cx="297.37" cy="2248.78" r="0.73" fill="#9f9f9f"/>
<circle cx="290.28" cy="2237.53" r="0.87" fill="#a5a5a5"/>
<circle cx="291.88" cy="2151.05" r="0.9" fill="#a2a2a2"/>
<circle cx="176.66" cy="2188.09" r="1.43" fill="#a3a3a3"/>
<circle cx="145.78" cy="2163.81" r="0.72" fill="#a8a8a8"/>
<circle cx="210.9" cy="2263.15" r="1.15" fill="#959595"/>
<circle cx="101.34" cy="2175.06" r="1.18" fill="#a3a3a3"/>
<circle cx="298.92" cy="2278.54" r="0.85" fill="#9a9a9a"/>
<circle cx="156.58" cy="2217.99" r="1.36" fill="#969696"/>
<circle cx="252.59" cy="2323.01" r="1.37" fill="#a6a6a6"/>
<circle cx="166.68" cy="2260.22" r="1.38" fill="#999999"/>
<circle cx="164.61" cy="2230.39" r="0.97" fill="#a2a2a2"/>
<circle cx="246.24" cy="2325.01" r="1.3" fill="#a4a4a4"/>
<circle cx="263.92" cy="2261.1" r="1.36" fill="#a3a3a3"/>
<circle cx="193.19" cy="2327.02" r="1.75" fill="#a5a5a5"/>
<circle cx="112.36" cy="2245.01" r="1.72" fill="#a8a8a8"/>
<circle cx="116.25" cy="2242.08" r="0.83" fill="#a5a5a5"/>
<circle cx="116.06" cy="2166.1" r="1.21" fill="#a0a0a0"/>
<circle cx="174.02" cy="2144.51" r="1.07" fill="#a7a7a7"/>
<circle cx="195.12" cy="2230.05" r="1.63" fill="#a4a4a4"/>
<circle cx="214.02" cy="2329.17" r="0.87" fill="#a0a0a0"/>
<circle cx="157.7" cy="2299.34" r="1.01" fill="#979797"/>
<circle cx="117.37" cy="2184.37" r="1.75" fill="#999999"/>
<circle cx="151.41" cy="2332.55" r="1.69" fill="#9f9f9f"/>
<circle cx="177.14" cy="2297.27" r="0.75" fill="#a5a5a5"/>
<circle cx="259.95" cy="2278.13" r="0.99" fill="#a1a1a1"/>
<circle cx="231.23" cy="2226.21" r="1.4" fill="#9f9f9f"/>
<circle cx="200.83" cy="2203.39" r="1.01" fill="#989898"/>
<circle cx="130.22" cy="2285.5" r="0.95" fill="#a3a3a3"/>
<circle cx="174.61" cy="2212.91" r="1.03" fill="#9a9a9a"/>
<circle cx="149.22" cy="2142.7" r="1.76" fill="#9f9f9f"/>
<circle cx="119.42" cy="2197.1" r="0.95" fill="#9c9c9c"/>
<circle cx="151.74" cy="2170.43" r="1.51" fill="#a0a0a0"/>
<circle cx="107.31" cy="2283.08" r="1.46" fill="#979797"/>
<circle cx="196.74" cy="2316.35" r="1.01" fill="#a1a1a1"/>
<circle cx="213.6" cy="2277.76" r="1.33" fill="#9d9d9d"/>
<circle cx="208.07" cy="2177.23" r="0.9" fill="#989898"/>
<circle cx="235.54" cy="2207.17" r="1.56" fill="#949494"/>
<circle cx="134.74" cy="2170.17" r="1.73" fill="#999999"/>
<circle cx="218.23" cy="2200.64" r="1.28" fill="#9b9b9b"/>
<circle cx="132.57" cy="2253.32" r="1.3" fill="#a7a7a7"/>
<circle cx="143.7" cy="2217.67" r="1.3" fill="#a6a6a6"/>
<circle cx="116.72" cy="2331.7" r="1.17" fill="#a5a5a5"/>
<circle cx="212.21" cy="2265.07" r="1.39" fill="#999999"/>
<circle cx="289.61" cy="2313.72" r="0.84" fill="#a1a1a1"/>
<circle cx="273.63" cy="2286.51" r="0.97" fill="#9b9b9b"/>
<circle cx="159.72" cy="2246.38" r="1.66" fill="#989898"/>
<circle cx="125.22" cy="2289.71" r="1.63" fill="#a2a2a2"/>
<circle cx="275.01" cy="2250.04" r="1.2" fill="#a4a4a4"/>
<circle cx="244.06" cy="2146.59" r="0.74" fill="#9a9a9a"/>
<circle cx="217.86" cy="2168.36" r="1.19" fill="#a2a2a2"/>
<circle cx="216.51" cy="2141.6" r="1.66" fill="#979797"/>
<circle cx="293.17" cy="2316.24" r="1.7" fill="#a4a4a4"/>
<circle cx="282.37" cy="2150.66" r="0.94" fill="#a7a7a7"/>
<circle cx="232.38" cy="2167.56" r="1" fill="#a5a5a5"/>
<circle cx="178.02" cy="2185.32" r="1.63" fill="#969696"/>
<circle cx="240.84" cy="2297.88" r="1.47" fill="#9c9c9c"/>
<circle cx="128.89" cy="2206.81" r="0.84" fill="#999999"/>
<circle cx="272.08" cy="2316.05" r="0.83" fill="#979797"/>
<circle cx="187.66" cy="2156.61" r="1.63" fill="#a2a2a2"/>
<circle cx="281.02" cy="2323.19" r="1.55" fill="#969696"/>
<circle cx="188.11" cy="2298.04" r="0.81" fill="#a5a5a5"/>
<circle cx="218.34" cy="2156.58" r="1.29" fill="#9c9c9c"/>
<circle cx="129.99" cy="2268.43" r="1.77" fill="#a6a6a6"/>
<circle cx="114.77" cy="2159.71" r="1.76" fill="#a3a3a3"/>
<circle cx="149.06" cy="2269.99" r="1.28" fill="#9b9b9b"/>
<circle cx="264.78" cy="2179.86" r="1.45" fill="#9c9c9c"/>
<circle cx="172.21" cy="2200.45" r="0.84" fill="#a8a8a8"/>
<circle cx="140.72" cy="2141.39" r="1.22" fill="#a7a7a7"/>
<circle cx="128.84" cy="2204.47" r="1.77" fill="#9f9f9f"/>
</g>
<g filter="url(#bled)">
<circle cx="209.28" cy="2143.89" r="2.63" fill="#949494"/>
<circle cx="209.28" cy="2143.89" r="1.63" fill="#808080"/>
<circle cx="209.28" cy="2143.89" r="0.95" fill="#595959"/>
<circle cx="209.28" cy="2157.69" r="2.63" fill="#949494"/>
<circle cx="209.28" cy="2157.69" r="1.63" fill="#808080"/>
<circle cx="209.28" cy="2157.69" r="0.95" fill="#595959"/>
<circle cx="269.68" cy="2186.92" r="3.03" fill="#949494"/>
<circle cx="269.68" cy="2186.92" r="1.88" fill="#808080"/>
<circle cx="269.68" cy="2186.92" r="1.09" fill="#545454"/>
</g>
</g></g>
<path d="M262,2187.74L275.74,2187.74" stroke="#111" stroke-width="1"/>
<text x="279.17" y="2200.89" class="pn">1</text>
<path d="M203.02,2144.09L211.1,2144.09" stroke="#111" stroke-width="1"/>
<text x="219.79" y="2148.71" class="pn">2</text>
<path d="M203.02,2158.1L216.76,2158.1" stroke="#111" stroke-width="1"/>
<text x="215.54" y="2171.45" class="pn">3</text>
<path d="M99.6,2341V2137.6H302" fill="none" stroke="#3a3a3a" stroke-width="1"/>
<path d="M100,2341.4H302.4V2138" fill="none" stroke="#666" stroke-width="0.8"/>
<path d="M100,2138v-3.63" stroke="#888" stroke-width="0.8"/>
<text x="100.4" y="2132.15" class="il" style="font-size:6.88px">0 µm</text>
<path d="M140.4,2138v-3.63" stroke="#888" stroke-width="0.8"/>
<text x="140.8" y="2132.15" class="il" style="font-size:6.88px">2</text>
<path d="M180.8,2138v-3.63" stroke="#888" stroke-width="0.8"/>
<text x="181.2" y="2132.15" class="il" style="font-size:6.88px">4</text>
<path d="M221.2,2138v-3.63" stroke="#888" stroke-width="0.8"/>
<text x="221.6" y="2132.15" class="il" style="font-size:6.88px">6</text>
<path d="M261.6,2138v-3.63" stroke="#888" stroke-width="0.8"/>
<text x="262" y="2132.15" class="il" style="font-size:6.88px">8</text>
<path d="M302,2138v-3.63" stroke="#888" stroke-width="0.8"/>
<path d="M100,2138h-3.63" stroke="#888" stroke-width="0.8"/>
<text x="94.84" y="2145.22" text-anchor="end" class="il" style="font-size:6.88px">0</text>
<path d="M100,2178.6h-3.63" stroke="#888" stroke-width="0.8"/>
<text x="94.84" y="2185.82" text-anchor="end" class="il" style="font-size:6.88px">2</text>
<path d="M100,2219.2h-3.63" stroke="#888" stroke-width="0.8"/>
<text x="94.84" y="2226.42" text-anchor="end" class="il" style="font-size:6.88px">4</text>
<path d="M100,2259.8h-3.63" stroke="#888" stroke-width="0.8"/>
<text x="94.84" y="2267.02" text-anchor="end" class="il" style="font-size:6.88px">6</text>
<path d="M100,2300.4h-3.63" stroke="#888" stroke-width="0.8"/>
<text x="94.84" y="2307.62" text-anchor="end" class="il" style="font-size:6.88px">8</text>
<path d="M100,2341h-3.63" stroke="#888" stroke-width="0.8"/>
<rect x="307.8" y="2138" width="8.3" height="203" fill="url(#cbge)" stroke="#3a3a3a" stroke-width="0.9"/>
<path d="M316.1,2138h4.18" stroke="#333" stroke-width="0.8"/>
<text x="333.94" y="2143.94" text-anchor="end" class="cl" style="font-size:6.88px">21.1</text>
<text x="336" y="2143.94" class="cl" style="font-size:6.88px">nm</text>
<path d="M316.1,2148.58h4.18" stroke="#333" stroke-width="0.8"/>
<text x="333.94" y="2154.52" text-anchor="end" class="cl" style="font-size:6.88px">20.0</text>
<path d="M316.1,2167.82h4.18" stroke="#333" stroke-width="0.8"/>
<text x="333.94" y="2173.76" text-anchor="end" class="cl" style="font-size:6.88px">18.0</text>
<path d="M316.1,2187.07h4.18" stroke="#333" stroke-width="0.8"/>
<text x="333.94" y="2193" text-anchor="end" class="cl" style="font-size:6.88px">16.0</text>
<path d="M316.1,2206.31h4.18" stroke="#333" stroke-width="0.8"/>
<text x="333.94" y="2212.25" text-anchor="end" class="cl" style="font-size:6.88px">14.0</text>
<path d="M316.1,2225.55h4.18" stroke="#333" stroke-width="0.8"/>
<text x="333.94" y="2231.49" text-anchor="end" class="cl" style="font-size:6.88px">12.0</text>
<path d="M316.1,2244.79h4.18" stroke="#333" stroke-width="0.8"/>
<text x="333.94" y="2250.73" text-anchor="end" class="cl" style="font-size:6.88px">10.0</text>
<path d="M316.1,2264.03h4.18" stroke="#333" stroke-width="0.8"/>
<text x="333.94" y="2269.97" text-anchor="end" class="cl" style="font-size:6.88px">8.0</text>
<path d="M316.1,2283.27h4.18" stroke="#333" stroke-width="0.8"/>
<text x="333.94" y="2289.21" text-anchor="end" class="cl" style="font-size:6.88px">6.0</text>
<path d="M316.1,2302.52h4.18" stroke="#333" stroke-width="0.8"/>
<text x="333.94" y="2308.46" text-anchor="end" class="cl" style="font-size:6.88px">4.0</text>
<path d="M316.1,2321.76h4.18" stroke="#333" stroke-width="0.8"/>
<text x="333.94" y="2327.7" text-anchor="end" class="cl" style="font-size:6.88px">2.0</text>
<path d="M316.1,2341h4.18" stroke="#333" stroke-width="0.8"/>
<text x="333.94" y="2340.6" text-anchor="end" class="cl" style="font-size:6.88px">0.0</text>
<path d="M126.8,2470.4L134.3,2471.2L141.8,2469.3L149.3,2470.4L156.8,2470.4L164.2,2471.2L167.98,2472.11L171.7,2473L179.2,2474.9L186.7,2478.6L194.2,2482.4L201.7,2486.9L208,2491.7L214.8,2498.1L221.1,2506.7L229.7,2516L235.3,2526.5L243.9,2551.6L249.5,2562.8L256.7,2561.7L263.4,2549.7L270.1,2534L276.5,2519L282.8,2506.7L289.6,2494.3L295.9,2485.4L302.7,2478.6L309,2474.9L315.8,2473L322.1,2471.9L328.9,2471.2L336.3,2471.2L343.8,2471.9L351.3,2470.4L358.8,2469.3" stroke="#888888" stroke-width="0.7" fill="none" stroke-dasharray="2.2,1.4"/>
<rect x="123.8" y="2467.4" width="6" height="6" fill="#444444"/>
<rect x="131.3" y="2468.2" width="6" height="6" fill="#444444"/>
<rect x="138.8" y="2466.3" width="6" height="6" fill="#444444"/>
<rect x="146.3" y="2467.4" width="6" height="6" fill="#444444"/>
<rect x="153.8" y="2467.4" width="6" height="6" fill="#444444"/>
<rect x="161.2" y="2468.2" width="6" height="6" fill="#444444"/>
<rect x="164.98" y="2469.11" width="6" height="6" fill="#444444"/>
<rect x="168.7" y="2470" width="6" height="6" fill="#444444"/>
<rect x="176.2" y="2471.9" width="6" height="6" fill="#444444"/>
<rect x="183.7" y="2475.6" width="6" height="6" fill="#444444"/>
<rect x="191.2" y="2479.4" width="6" height="6" fill="#444444"/>
<rect x="198.7" y="2483.9" width="6" height="6" fill="#444444"/>
<rect x="205" y="2488.7" width="6" height="6" fill="#444444"/>
<rect x="211.8" y="2495.1" width="6" height="6" fill="#444444"/>
<rect x="218.1" y="2503.7" width="6" height="6" fill="#444444"/>
<rect x="226.7" y="2513" width="6" height="6" fill="#444444"/>
<rect x="232.3" y="2523.5" width="6" height="6" fill="#444444"/>
<rect x="240.9" y="2548.6" width="6" height="6" fill="#444444"/>
<rect x="246.5" y="2559.8" width="6" height="6" fill="#444444"/>
<rect x="253.7" y="2558.7" width="6" height="6" fill="#444444"/>
<rect x="260.4" y="2546.7" width="6" height="6" fill="#444444"/>
<rect x="267.1" y="2531" width="6" height="6" fill="#444444"/>
<rect x="273.5" y="2516" width="6" height="6" fill="#444444"/>
<rect x="279.8" y="2503.7" width="6" height="6" fill="#444444"/>
<rect x="286.6" y="2491.3" width="6" height="6" fill="#444444"/>
<rect x="292.9" y="2482.4" width="6" height="6" fill="#444444"/>
<rect x="299.7" y="2475.6" width="6" height="6" fill="#444444"/>
<rect x="306" y="2471.9" width="6" height="6" fill="#444444"/>
<rect x="312.8" y="2470" width="6" height="6" fill="#444444"/>
<rect x="319.1" y="2468.9" width="6" height="6" fill="#444444"/>
<rect x="325.9" y="2468.2" width="6" height="6" fill="#444444"/>
<rect x="333.3" y="2468.2" width="6" height="6" fill="#444444"/>
<rect x="340.8" y="2468.9" width="6" height="6" fill="#444444"/>
<rect x="348.3" y="2467.4" width="6" height="6" fill="#444444"/>
<rect x="355.8" y="2466.3" width="6" height="6" fill="#444444"/>
<path d="M126.8,2471.2L134.3,2473L140.7,2476.8L147.4,2481.6L154.1,2486.9L160.5,2493.6L166.9,2501.1L173.6,2508.6L180,2517.9L185.9,2528L192.3,2537.7L198.7,2545.2L205.4,2541.5L211.8,2531L218.5,2517.9L224.9,2505.6L231.6,2494.3L237.9,2486.1L243.9,2478.6L250.3,2474.1L257,2471.9L263.4,2471.9L270.1,2472.3L276.5,2472.3L282.8,2471.2L289.6,2470.4L295.9,2471.2L302.7,2470.4L309,2471.2L315.8,2470.4L320.31,2471.47L322.1,2471.9" stroke="#ee5555" stroke-width="0.7" fill="none" stroke-dasharray="2.2,1.4"/>
<circle cx="126.8" cy="2471.2" r="3.3" fill="#ee3333"/>
<circle cx="134.3" cy="2473" r="3.3" fill="#ee3333"/>
<circle cx="140.7" cy="2476.8" r="3.3" fill="#ee3333"/>
<circle cx="147.4" cy="2481.6" r="3.3" fill="#ee3333"/>
<circle cx="154.1" cy="2486.9" r="3.3" fill="#ee3333"/>
<circle cx="160.5" cy="2493.6" r="3.3" fill="#ee3333"/>
<circle cx="166.9" cy="2501.1" r="3.3" fill="#ee3333"/>
<circle cx="173.6" cy="2508.6" r="3.3" fill="#ee3333"/>
<circle cx="180" cy="2517.9" r="3.3" fill="#ee3333"/>
<circle cx="185.9" cy="2528" r="3.3" fill="#ee3333"/>
<circle cx="192.3" cy="2537.7" r="3.3" fill="#ee3333"/>
<circle cx="198.7" cy="2545.2" r="3.3" fill="#ee3333"/>
<circle cx="205.4" cy="2541.5" r="3.3" fill="#ee3333"/>
<circle cx="211.8" cy="2531" r="3.3" fill="#ee3333"/>
<circle cx="218.5" cy="2517.9" r="3.3" fill="#ee3333"/>
<circle cx="224.9" cy="2505.6" r="3.3" fill="#ee3333"/>
<circle cx="231.6" cy="2494.3" r="3.3" fill="#ee3333"/>
<circle cx="237.9" cy="2486.1" r="3.3" fill="#ee3333"/>
<circle cx="243.9" cy="2478.6" r="3.3" fill="#ee3333"/>
<circle cx="250.3" cy="2474.1" r="3.3" fill="#ee3333"/>
<circle cx="257" cy="2471.9" r="3.3" fill="#ee3333"/>
<circle cx="263.4" cy="2471.9" r="3.3" fill="#ee3333"/>
<circle cx="270.1" cy="2472.3" r="3.3" fill="#ee3333"/>
<circle cx="276.5" cy="2472.3" r="3.3" fill="#ee3333"/>
<circle cx="282.8" cy="2471.2" r="3.3" fill="#ee3333"/>
<circle cx="289.6" cy="2470.4" r="3.3" fill="#ee3333"/>
<circle cx="295.9" cy="2471.2" r="3.3" fill="#ee3333"/>
<circle cx="302.7" cy="2470.4" r="3.3" fill="#ee3333"/>
<circle cx="309" cy="2471.2" r="3.3" fill="#ee3333"/>
<circle cx="315.8" cy="2470.4" r="3.3" fill="#ee3333"/>
<circle cx="320.31" cy="2471.47" r="3.3" fill="#ee3333"/>
<circle cx="322.1" cy="2471.9" r="3.3" fill="#ee3333"/>
<path d="M126.8,2473L134.3,2474.1L141.8,2473L149.3,2471.9L153.51,2471.9L160.28,2472.79L165.4,2474.1L171.7,2476.8L179.2,2478.6L185.9,2483.1L192.3,2489.9L198.7,2496.6L204.7,2504.1L214.39,2519.28L224.1,2536.6L230.5,2546L237.2,2546.7L243.6,2536.6L250.3,2521.7L256.7,2509.3L263.4,2497.3L270.1,2489.1L276.5,2482.4L282.8,2477.9L289.6,2474.9L295.9,2474.1L302.7,2473L309,2473L315.8,2471.9L322.1,2471.2L328.9,2470.4L334.5,2471.2" stroke="#3a80e8" stroke-width="0.8" fill="none" stroke-dasharray="2.2,1.4"/>
<path d="M126.8,2468.82L130.98,2476.34L122.62,2476.34Z" fill="#1c6fe0"/>
<path d="M134.3,2469.92L138.48,2477.44L130.12,2477.44Z" fill="#1c6fe0"/>
<path d="M141.8,2468.82L145.98,2476.34L137.62,2476.34Z" fill="#1c6fe0"/>
<path d="M149.3,2467.72L153.48,2475.24L145.12,2475.24Z" fill="#1c6fe0"/>
<path d="M153.51,2467.72L157.69,2475.24L149.33,2475.24Z" fill="#1c6fe0"/>
<path d="M160.28,2468.61L164.45,2476.13L156.1,2476.13Z" fill="#1c6fe0"/>
<path d="M165.4,2469.92L169.58,2477.44L161.22,2477.44Z" fill="#1c6fe0"/>
<path d="M171.7,2472.62L175.88,2480.14L167.52,2480.14Z" fill="#1c6fe0"/>
<path d="M179.2,2474.42L183.38,2481.94L175.02,2481.94Z" fill="#1c6fe0"/>
<path d="M185.9,2478.92L190.08,2486.44L181.72,2486.44Z" fill="#1c6fe0"/>
<path d="M192.3,2485.72L196.48,2493.24L188.12,2493.24Z" fill="#1c6fe0"/>
<path d="M198.7,2492.42L202.88,2499.94L194.52,2499.94Z" fill="#1c6fe0"/>
<path d="M204.7,2499.92L208.88,2507.44L200.52,2507.44Z" fill="#1c6fe0"/>
<path d="M214.39,2515.1L218.57,2522.62L210.21,2522.62Z" fill="#1c6fe0"/>
<path d="M224.1,2532.42L228.28,2539.94L219.92,2539.94Z" fill="#1c6fe0"/>
<path d="M230.5,2541.82L234.68,2549.34L226.32,2549.34Z" fill="#1c6fe0"/>
<path d="M237.2,2542.52L241.38,2550.04L233.02,2550.04Z" fill="#1c6fe0"/>
<path d="M243.6,2532.42L247.78,2539.94L239.42,2539.94Z" fill="#1c6fe0"/>
<path d="M250.3,2517.52L254.48,2525.04L246.12,2525.04Z" fill="#1c6fe0"/>
<path d="M256.7,2505.12L260.88,2512.64L252.52,2512.64Z" fill="#1c6fe0"/>
<path d="M263.4,2493.12L267.58,2500.64L259.22,2500.64Z" fill="#1c6fe0"/>
<path d="M270.1,2484.92L274.28,2492.44L265.92,2492.44Z" fill="#1c6fe0"/>
<path d="M276.5,2478.22L280.68,2485.74L272.32,2485.74Z" fill="#1c6fe0"/>
<path d="M282.8,2473.72L286.98,2481.24L278.62,2481.24Z" fill="#1c6fe0"/>
<path d="M289.6,2470.72L293.78,2478.24L285.42,2478.24Z" fill="#1c6fe0"/>
<path d="M295.9,2469.92L300.08,2477.44L291.72,2477.44Z" fill="#1c6fe0"/>
<path d="M302.7,2468.82L306.88,2476.34L298.52,2476.34Z" fill="#1c6fe0"/>
<path d="M309,2468.82L313.18,2476.34L304.82,2476.34Z" fill="#1c6fe0"/>
<path d="M315.8,2467.72L319.98,2475.24L311.62,2475.24Z" fill="#1c6fe0"/>
<path d="M322.1,2467.02L326.28,2474.54L317.92,2474.54Z" fill="#1c6fe0"/>
<path d="M328.9,2466.22L333.08,2473.74L324.72,2473.74Z" fill="#1c6fe0"/>
<path d="M334.5,2467.02L338.68,2474.54L330.32,2474.54Z" fill="#1c6fe0"/>
<rect x="507.4" y="2109.5" width="112.1" height="90.7" fill="#fff" stroke="#999" stroke-width="1.0"/>
<path d="M510.9,2126.2H563.8" stroke="#888888" stroke-width="1"/>
<rect x="534.35" y="2123.05" width="6.3" height="6.3" fill="#444444"/>
<text transform="translate(569.9,2134.5) scale(0.9,1)" class="lg">Pit-1</text>
<path d="M510.9,2155.3H563.8" stroke="#ee5555" stroke-width="1"/>
<circle cx="537.5" cy="2155.3" r="3.46" fill="#ee3333"/>
<text transform="translate(569.9,2163.6) scale(0.9,1)" class="lg">Pit-2</text>
<path d="M510.9,2184.5H563.8" stroke="#3a80e8" stroke-width="1"/>
<path d="M537.5,2180.12L541.88,2188.01L533.12,2188.01Z" fill="#1c6fe0"/>
<text transform="translate(569.9,2192.8) scale(0.9,1)" class="lg">Pit-3</text>
</g>
</svg></body></html>
